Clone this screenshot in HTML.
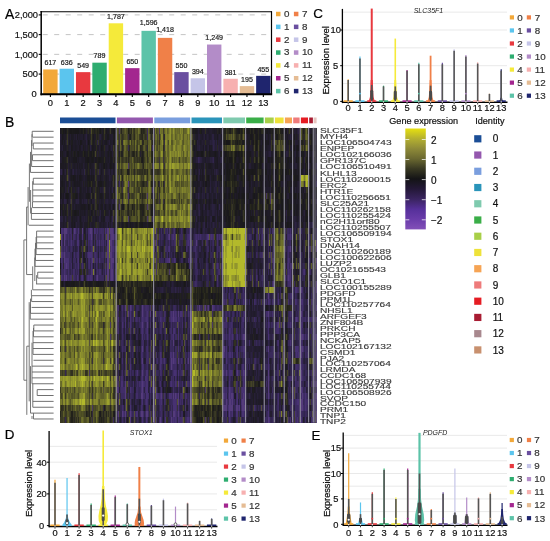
<!DOCTYPE html>
<html><head><meta charset="utf-8"><style>
html,body{margin:0;padding:0;background:#fff;width:550px;height:541px;overflow:hidden;}
svg{display:block;font-family:'Liberation Sans', Arial, sans-serif;}
</style></head><body>
<svg width="550" height="541" viewBox="0 0 550 541">
<rect width="550" height="541" fill="#fff"/>
<text x="4.9" y="19.2" font-size="13.9" text-anchor="start" fill="#000" stroke="#000" stroke-width="0.2">A</text>
<line x1="42.7" y1="74.08" x2="271" y2="74.08" stroke="#C4C4C4" stroke-width="1" stroke-dasharray="5 6.5"/>
<line x1="42.7" y1="54.35" x2="271" y2="54.35" stroke="#C4C4C4" stroke-width="1" stroke-dasharray="5 6.5"/>
<line x1="42.7" y1="34.62" x2="271" y2="34.62" stroke="#C4C4C4" stroke-width="1" stroke-dasharray="5 6.5"/>
<line x1="42.7" y1="14.9" x2="271" y2="14.9" stroke="#C4C4C4" stroke-width="1" stroke-dasharray="5 6.5"/>
<rect x="43.2" y="69.46" width="14.4" height="24.54" fill="#F2A83A"/>
<text x="50.4" y="65.26" font-size="7.1" text-anchor="middle" fill="#222" stroke="#222" stroke-width="0.2">617</text>
<line x1="50.4" y1="95" x2="50.4" y2="97" stroke="#000" stroke-width="1.1"/>
<text x="50.4" y="106.4" font-size="9.3" text-anchor="middle" fill="#111" stroke="#111" stroke-width="0.2">0</text>
<rect x="59.58" y="68.71" width="14.4" height="25.29" fill="#5BC5EE"/>
<text x="66.78" y="64.51" font-size="7.1" text-anchor="middle" fill="#222" stroke="#222" stroke-width="0.2">636</text>
<line x1="66.78" y1="95" x2="66.78" y2="97" stroke="#000" stroke-width="1.1"/>
<text x="66.78" y="106.4" font-size="9.3" text-anchor="middle" fill="#111" stroke="#111" stroke-width="0.2">1</text>
<rect x="75.96" y="72.14" width="14.4" height="21.86" fill="#E8393F"/>
<text x="83.16" y="67.94" font-size="7.1" text-anchor="middle" fill="#222" stroke="#222" stroke-width="0.2">549</text>
<line x1="83.16" y1="95" x2="83.16" y2="97" stroke="#000" stroke-width="1.1"/>
<text x="83.16" y="106.4" font-size="9.3" text-anchor="middle" fill="#111" stroke="#111" stroke-width="0.2">2</text>
<rect x="92.34" y="62.67" width="14.4" height="31.33" fill="#2EAD70"/>
<text x="99.54" y="58.47" font-size="7.1" text-anchor="middle" fill="#222" stroke="#222" stroke-width="0.2">789</text>
<line x1="99.54" y1="95" x2="99.54" y2="97" stroke="#000" stroke-width="1.1"/>
<text x="99.54" y="106.4" font-size="9.3" text-anchor="middle" fill="#111" stroke="#111" stroke-width="0.2">3</text>
<rect x="108.72" y="23.3" width="14.4" height="70.7" fill="#F5EA3A"/>
<text x="115.92" y="19.1" font-size="7.1" text-anchor="middle" fill="#222" stroke="#222" stroke-width="0.2">1,787</text>
<line x1="115.92" y1="95" x2="115.92" y2="97" stroke="#000" stroke-width="1.1"/>
<text x="115.92" y="106.4" font-size="9.3" text-anchor="middle" fill="#111" stroke="#111" stroke-width="0.2">4</text>
<rect x="125.1" y="68.16" width="14.4" height="25.84" fill="#A3268F"/>
<text x="132.3" y="63.96" font-size="7.1" text-anchor="middle" fill="#222" stroke="#222" stroke-width="0.2">650</text>
<line x1="132.3" y1="95" x2="132.3" y2="97" stroke="#000" stroke-width="1.1"/>
<text x="132.3" y="106.4" font-size="9.3" text-anchor="middle" fill="#111" stroke="#111" stroke-width="0.2">5</text>
<rect x="141.48" y="30.84" width="14.4" height="63.16" fill="#5CC3A8"/>
<text x="148.68" y="25.24" font-size="7.1" text-anchor="middle" fill="#222" stroke="#222" stroke-width="0.2">1,596</text>
<line x1="148.68" y1="95" x2="148.68" y2="97" stroke="#000" stroke-width="1.1"/>
<text x="148.68" y="106.4" font-size="9.3" text-anchor="middle" fill="#111" stroke="#111" stroke-width="0.2">6</text>
<rect x="157.86" y="37.86" width="14.4" height="56.14" fill="#F08048"/>
<text x="165.06" y="32.26" font-size="7.1" text-anchor="middle" fill="#222" stroke="#222" stroke-width="0.2">1,418</text>
<line x1="165.06" y1="95" x2="165.06" y2="97" stroke="#000" stroke-width="1.1"/>
<text x="165.06" y="106.4" font-size="9.3" text-anchor="middle" fill="#111" stroke="#111" stroke-width="0.2">7</text>
<rect x="174.24" y="72.1" width="14.4" height="21.9" fill="#6A4FA0"/>
<text x="181.44" y="67.9" font-size="7.1" text-anchor="middle" fill="#222" stroke="#222" stroke-width="0.2">550</text>
<line x1="181.44" y1="95" x2="181.44" y2="97" stroke="#000" stroke-width="1.1"/>
<text x="181.44" y="106.4" font-size="9.3" text-anchor="middle" fill="#111" stroke="#111" stroke-width="0.2">8</text>
<rect x="190.62" y="78.26" width="14.4" height="15.74" fill="#C5C5E8"/>
<text x="197.82" y="74.06" font-size="7.1" text-anchor="middle" fill="#222" stroke="#222" stroke-width="0.2">394</text>
<line x1="197.82" y1="95" x2="197.82" y2="97" stroke="#000" stroke-width="1.1"/>
<text x="197.82" y="106.4" font-size="9.3" text-anchor="middle" fill="#111" stroke="#111" stroke-width="0.2">9</text>
<rect x="207" y="44.53" width="14.4" height="49.47" fill="#B38CC8"/>
<text x="214.2" y="40.33" font-size="7.1" text-anchor="middle" fill="#222" stroke="#222" stroke-width="0.2">1,249</text>
<line x1="214.2" y1="95" x2="214.2" y2="97" stroke="#000" stroke-width="1.1"/>
<text x="214.2" y="106.4" font-size="9.3" text-anchor="middle" fill="#111" stroke="#111" stroke-width="0.2">10</text>
<rect x="223.38" y="78.77" width="14.4" height="15.23" fill="#F7B0B0"/>
<text x="230.58" y="74.57" font-size="7.1" text-anchor="middle" fill="#222" stroke="#222" stroke-width="0.2">381</text>
<line x1="230.58" y1="95" x2="230.58" y2="97" stroke="#000" stroke-width="1.1"/>
<text x="230.58" y="106.4" font-size="9.3" text-anchor="middle" fill="#111" stroke="#111" stroke-width="0.2">11</text>
<rect x="239.76" y="86.11" width="14.4" height="7.89" fill="#E5BC94"/>
<text x="246.96" y="81.91" font-size="7.1" text-anchor="middle" fill="#222" stroke="#222" stroke-width="0.2">195</text>
<line x1="246.96" y1="95" x2="246.96" y2="97" stroke="#000" stroke-width="1.1"/>
<text x="246.96" y="106.4" font-size="9.3" text-anchor="middle" fill="#111" stroke="#111" stroke-width="0.2">12</text>
<rect x="256.14" y="75.85" width="14.4" height="18.15" fill="#1F256E"/>
<text x="263.34" y="71.65" font-size="7.1" text-anchor="middle" fill="#222" stroke="#222" stroke-width="0.2">455</text>
<line x1="263.34" y1="95" x2="263.34" y2="97" stroke="#000" stroke-width="1.1"/>
<text x="263.34" y="106.4" font-size="9.3" text-anchor="middle" fill="#111" stroke="#111" stroke-width="0.2">13</text>
<line x1="41.2" y1="11" x2="41.2" y2="95.2" stroke="#000" stroke-width="1.5"/>
<line x1="40.5" y1="11.8" x2="272" y2="11.8" stroke="#000" stroke-width="1.1"/>
<line x1="271.5" y1="11.3" x2="271.5" y2="94" stroke="#000" stroke-width="1.2"/>
<line x1="40.5" y1="94.3" x2="272.2" y2="94.3" stroke="#000" stroke-width="2"/>
<text x="36.6" y="97" font-size="9.3" text-anchor="end" fill="#111" stroke="#111" stroke-width="0.2">0</text>
<line x1="38.7" y1="74.08" x2="41" y2="74.08" stroke="#000" stroke-width="1.1"/>
<text x="38" y="77.28" font-size="9.3" text-anchor="end" fill="#111" stroke="#111" stroke-width="0.2">500</text>
<line x1="38.7" y1="54.35" x2="41" y2="54.35" stroke="#000" stroke-width="1.1"/>
<text x="38" y="57.55" font-size="9.3" text-anchor="end" fill="#111" stroke="#111" stroke-width="0.2">1,000</text>
<line x1="38.7" y1="34.62" x2="41" y2="34.62" stroke="#000" stroke-width="1.1"/>
<text x="38" y="37.83" font-size="9.3" text-anchor="end" fill="#111" stroke="#111" stroke-width="0.2">1,500</text>
<line x1="38.7" y1="14.9" x2="41" y2="14.9" stroke="#000" stroke-width="1.1"/>
<text x="38" y="18.1" font-size="9.3" text-anchor="end" fill="#111" stroke="#111" stroke-width="0.2">2,000</text>
<rect x="276" y="11.75" width="4.5" height="4.5" fill="#F2A83A"/>
<text x="283.9" y="16.93" font-size="9.8" text-anchor="start" fill="#333" stroke="#333" stroke-width="0.2">0</text>
<rect x="276" y="24.6" width="4.5" height="4.5" fill="#5BC5EE"/>
<text x="283.9" y="29.78" font-size="9.8" text-anchor="start" fill="#333" stroke="#333" stroke-width="0.2">1</text>
<rect x="276" y="37.45" width="4.5" height="4.5" fill="#E8393F"/>
<text x="283.9" y="42.63" font-size="9.8" text-anchor="start" fill="#333" stroke="#333" stroke-width="0.2">2</text>
<rect x="276" y="50.3" width="4.5" height="4.5" fill="#2EAD70"/>
<text x="283.9" y="55.48" font-size="9.8" text-anchor="start" fill="#333" stroke="#333" stroke-width="0.2">3</text>
<rect x="276" y="63.15" width="4.5" height="4.5" fill="#F5EA3A"/>
<text x="283.9" y="68.33" font-size="9.8" text-anchor="start" fill="#333" stroke="#333" stroke-width="0.2">4</text>
<rect x="276" y="76" width="4.5" height="4.5" fill="#A3268F"/>
<text x="283.9" y="81.18" font-size="9.8" text-anchor="start" fill="#333" stroke="#333" stroke-width="0.2">5</text>
<rect x="276" y="88.85" width="4.5" height="4.5" fill="#5CC3A8"/>
<text x="283.9" y="94.03" font-size="9.8" text-anchor="start" fill="#333" stroke="#333" stroke-width="0.2">6</text>
<rect x="293.9" y="11.75" width="4.5" height="4.5" fill="#F08048"/>
<text x="301.9" y="16.93" font-size="9.8" text-anchor="start" fill="#333" stroke="#333" stroke-width="0.2">7</text>
<rect x="293.9" y="24.6" width="4.5" height="4.5" fill="#6A4FA0"/>
<text x="301.9" y="29.78" font-size="9.8" text-anchor="start" fill="#333" stroke="#333" stroke-width="0.2">8</text>
<rect x="293.9" y="37.45" width="4.5" height="4.5" fill="#C5C5E8"/>
<text x="301.9" y="42.63" font-size="9.8" text-anchor="start" fill="#333" stroke="#333" stroke-width="0.2">9</text>
<rect x="293.9" y="50.3" width="4.5" height="4.5" fill="#B38CC8"/>
<text x="301.9" y="55.48" font-size="9.8" text-anchor="start" fill="#333" stroke="#333" stroke-width="0.2">10</text>
<rect x="293.9" y="63.15" width="4.5" height="4.5" fill="#F7B0B0"/>
<text x="301.9" y="68.33" font-size="9.8" text-anchor="start" fill="#333" stroke="#333" stroke-width="0.2">11</text>
<rect x="293.9" y="76" width="4.5" height="4.5" fill="#E5BC94"/>
<text x="301.9" y="81.18" font-size="9.8" text-anchor="start" fill="#333" stroke="#333" stroke-width="0.2">12</text>
<rect x="293.9" y="88.85" width="4.5" height="4.5" fill="#1F256E"/>
<text x="301.9" y="94.03" font-size="9.8" text-anchor="start" fill="#333" stroke="#333" stroke-width="0.2">13</text>
<line x1="342.9" y1="83.55" x2="507" y2="83.55" stroke="#E6E6E6" stroke-width="0.9"/>
<line x1="342.9" y1="65.7" x2="507" y2="65.7" stroke="#E6E6E6" stroke-width="0.9"/>
<line x1="342.9" y1="47.85" x2="507" y2="47.85" stroke="#E6E6E6" stroke-width="0.9"/>
<line x1="342.9" y1="30" x2="507" y2="30" stroke="#E6E6E6" stroke-width="0.9"/>
<line x1="342.9" y1="12.15" x2="507" y2="12.15" stroke="#E6E6E6" stroke-width="0.9"/>
<text x="0" y="0" font-size="9.4" text-anchor="middle" fill="#111" stroke="#111" stroke-width="0.25" transform="translate(329.3 60.3) rotate(-90)">Expression level</text>
<text x="335.7" y="104.7" font-size="9.3" text-anchor="middle" fill="#111" stroke="#111" stroke-width="0.2">0</text>
<line x1="340.2" y1="101.4" x2="342.4" y2="101.4" stroke="#000" stroke-width="1"/>
<text x="335.7" y="69" font-size="9.3" text-anchor="middle" fill="#111" stroke="#111" stroke-width="0.2">5</text>
<line x1="340.2" y1="65.7" x2="342.4" y2="65.7" stroke="#000" stroke-width="1"/>
<text x="335.7" y="33.3" font-size="9.3" text-anchor="middle" fill="#111" stroke="#111" stroke-width="0.2">10</text>
<line x1="340.2" y1="30" x2="342.4" y2="30" stroke="#000" stroke-width="1"/>
<text x="413.7" y="13" font-size="7" fill="#222" font-style="italic">SLC35F1</text>
<text x="313.3" y="18.4" font-size="13.4" text-anchor="start" fill="#000" stroke="#000" stroke-width="0.2">C</text>
<line x1="342.1" y1="102.3" x2="507.5" y2="102.3" stroke="#000" stroke-width="1.6"/>
<rect x="343.61" y="100.3" width="9.18" height="1.6" fill="#F2A83A"/>
<line x1="348.2" y1="101.4" x2="348.2" y2="79.27" stroke="#F2A83A" stroke-width="1.2"/>
<line x1="348.2" y1="101.4" x2="348.2" y2="79.98" stroke="#555555" stroke-width="1.6"/>
<circle cx="348.2" cy="101.9" r="0.7" fill="#fff"/>
<text x="348.2" y="111.2" font-size="9.3" text-anchor="middle" fill="#111" stroke="#111" stroke-width="0.2">0</text>
<line x1="348.2" y1="103" x2="348.2" y2="104.4" stroke="#333" stroke-width="1"/>
<rect x="355.38" y="100.3" width="9.18" height="1.6" fill="#5BC5EE"/>
<line x1="359.97" y1="101.4" x2="359.97" y2="56.42" stroke="#5BC5EE" stroke-width="1.2"/>
<line x1="359.97" y1="101.4" x2="359.97" y2="58.56" stroke="#555555" stroke-width="1.6"/>
<circle cx="359.97" cy="93.55" r="0.9" fill="#5BC5EE"/>
<circle cx="359.97" cy="101.9" r="0.7" fill="#fff"/>
<text x="359.97" y="111.2" font-size="9.3" text-anchor="middle" fill="#111" stroke="#111" stroke-width="0.2">1</text>
<line x1="359.97" y1="103" x2="359.97" y2="104.4" stroke="#333" stroke-width="1"/>
<rect x="367.15" y="100.3" width="9.18" height="1.6" fill="#E8393F"/>
<polygon points="368.24,101.4 369.24,99.62 369.94,97.12 370.24,92.83 370.44,87.12 370.69,79.98 372.79,79.98 373.04,87.12 373.24,92.83 373.54,97.12 374.24,99.62 375.24,101.4" fill="#E8393F"/>
<line x1="371.74" y1="101.4" x2="371.74" y2="8.58" stroke="#E8393F" stroke-width="2"/>
<line x1="371.74" y1="101.4" x2="371.74" y2="84.98" stroke="#555555" stroke-width="1.6"/>
<rect x="370.24" y="89.98" width="3" height="10" rx="1.3" fill="#4A4A4A"/>
<circle cx="371.74" cy="101.9" r="0.7" fill="#fff"/>
<text x="371.74" y="111.2" font-size="9.3" text-anchor="middle" fill="#111" stroke="#111" stroke-width="0.2">2</text>
<line x1="371.74" y1="103" x2="371.74" y2="104.4" stroke="#333" stroke-width="1"/>
<rect x="378.92" y="100.3" width="9.18" height="1.6" fill="#2EAD70"/>
<line x1="383.51" y1="101.4" x2="383.51" y2="85.69" stroke="#2EAD70" stroke-width="1.2"/>
<line x1="383.51" y1="101.4" x2="383.51" y2="86.41" stroke="#555555" stroke-width="1.6"/>
<circle cx="383.51" cy="101.9" r="0.7" fill="#fff"/>
<text x="383.51" y="111.2" font-size="9.3" text-anchor="middle" fill="#111" stroke="#111" stroke-width="0.2">3</text>
<line x1="383.51" y1="103" x2="383.51" y2="104.4" stroke="#333" stroke-width="1"/>
<rect x="390.69" y="100.3" width="9.18" height="1.6" fill="#F5EA3A"/>
<polygon points="391.78,101.4 392.78,99.62 393.48,97.12 393.78,92.83 394.08,87.12 394.38,79.98 396.18,79.98 396.48,87.12 396.78,92.83 397.08,97.12 397.78,99.62 398.78,101.4" fill="#F5EA3A"/>
<line x1="395.28" y1="101.4" x2="395.28" y2="38.57" stroke="#F5EA3A" stroke-width="1.6"/>
<line x1="395.28" y1="101.4" x2="395.28" y2="86.41" stroke="#555555" stroke-width="1.6"/>
<rect x="393.78" y="90.69" width="3" height="9.28" rx="1.3" fill="#4A4A4A"/>
<circle cx="395.28" cy="101.9" r="0.7" fill="#fff"/>
<text x="395.28" y="111.2" font-size="9.3" text-anchor="middle" fill="#111" stroke="#111" stroke-width="0.2">4</text>
<line x1="395.28" y1="103" x2="395.28" y2="104.4" stroke="#333" stroke-width="1"/>
<rect x="402.46" y="100.3" width="9.18" height="1.6" fill="#A3268F"/>
<line x1="407.05" y1="101.4" x2="407.05" y2="69.98" stroke="#A3268F" stroke-width="1.2"/>
<line x1="407.05" y1="101.4" x2="407.05" y2="70.7" stroke="#555555" stroke-width="1.6"/>
<circle cx="407.05" cy="101.9" r="0.7" fill="#fff"/>
<text x="407.05" y="111.2" font-size="9.3" text-anchor="middle" fill="#111" stroke="#111" stroke-width="0.2">5</text>
<line x1="407.05" y1="103" x2="407.05" y2="104.4" stroke="#333" stroke-width="1"/>
<rect x="414.23" y="100.3" width="9.18" height="1.6" fill="#5CC3A8"/>
<line x1="418.82" y1="101.4" x2="418.82" y2="62.84" stroke="#5CC3A8" stroke-width="1.2"/>
<line x1="418.82" y1="101.4" x2="418.82" y2="64.27" stroke="#555555" stroke-width="1.6"/>
<circle cx="418.82" cy="93.55" r="0.9" fill="#5CC3A8"/>
<circle cx="418.82" cy="101.9" r="0.7" fill="#fff"/>
<text x="418.82" y="111.2" font-size="9.3" text-anchor="middle" fill="#111" stroke="#111" stroke-width="0.2">6</text>
<line x1="418.82" y1="103" x2="418.82" y2="104.4" stroke="#333" stroke-width="1"/>
<rect x="426" y="100.3" width="9.18" height="1.6" fill="#F08048"/>
<polygon points="427.09,101.4 428.09,99.62 428.79,97.12 429.09,92.83 429.39,87.12 429.69,79.98 431.49,79.98 431.79,87.12 432.09,92.83 432.39,97.12 433.09,99.62 434.09,101.4" fill="#F08048"/>
<line x1="430.59" y1="101.4" x2="430.59" y2="55.7" stroke="#F08048" stroke-width="1.8"/>
<line x1="430.59" y1="101.4" x2="430.59" y2="85.69" stroke="#555555" stroke-width="1.6"/>
<rect x="429.09" y="90.69" width="3" height="9.28" rx="1.3" fill="#4A4A4A"/>
<circle cx="430.59" cy="101.9" r="0.7" fill="#fff"/>
<text x="430.59" y="111.2" font-size="9.3" text-anchor="middle" fill="#111" stroke="#111" stroke-width="0.2">7</text>
<line x1="430.59" y1="103" x2="430.59" y2="104.4" stroke="#333" stroke-width="1"/>
<rect x="437.77" y="100.3" width="9.18" height="1.6" fill="#6A4FA0"/>
<line x1="442.36" y1="101.4" x2="442.36" y2="62.84" stroke="#6A4FA0" stroke-width="1.2"/>
<line x1="442.36" y1="101.4" x2="442.36" y2="64.27" stroke="#555555" stroke-width="1.6"/>
<circle cx="442.36" cy="101.9" r="0.7" fill="#fff"/>
<text x="442.36" y="111.2" font-size="9.3" text-anchor="middle" fill="#111" stroke="#111" stroke-width="0.2">8</text>
<line x1="442.36" y1="103" x2="442.36" y2="104.4" stroke="#333" stroke-width="1"/>
<rect x="449.54" y="100.3" width="9.18" height="1.6" fill="#C5C5E8"/>
<line x1="454.13" y1="101.4" x2="454.13" y2="49.28" stroke="#C5C5E8" stroke-width="1.2"/>
<line x1="454.13" y1="101.4" x2="454.13" y2="50.71" stroke="#555555" stroke-width="1.6"/>
<circle cx="454.13" cy="101.9" r="0.7" fill="#fff"/>
<text x="454.13" y="111.2" font-size="9.3" text-anchor="middle" fill="#111" stroke="#111" stroke-width="0.2">9</text>
<line x1="454.13" y1="103" x2="454.13" y2="104.4" stroke="#333" stroke-width="1"/>
<rect x="461.31" y="100.3" width="9.18" height="1.6" fill="#B38CC8"/>
<line x1="465.9" y1="101.4" x2="465.9" y2="54.99" stroke="#B38CC8" stroke-width="1.2"/>
<line x1="465.9" y1="101.4" x2="465.9" y2="56.42" stroke="#555555" stroke-width="1.6"/>
<circle cx="465.9" cy="93.55" r="0.9" fill="#B38CC8"/>
<circle cx="465.9" cy="101.9" r="0.7" fill="#fff"/>
<text x="465.9" y="111.2" font-size="9.3" text-anchor="middle" fill="#111" stroke="#111" stroke-width="0.2">10</text>
<line x1="465.9" y1="103" x2="465.9" y2="104.4" stroke="#333" stroke-width="1"/>
<rect x="473.08" y="100.3" width="9.18" height="1.6" fill="#F7B0B0"/>
<line x1="477.67" y1="101.4" x2="477.67" y2="62.13" stroke="#F7B0B0" stroke-width="1.2"/>
<line x1="477.67" y1="101.4" x2="477.67" y2="63.56" stroke="#555555" stroke-width="1.6"/>
<circle cx="477.67" cy="101.9" r="0.7" fill="#fff"/>
<text x="477.67" y="111.2" font-size="9.3" text-anchor="middle" fill="#111" stroke="#111" stroke-width="0.2">11</text>
<line x1="477.67" y1="103" x2="477.67" y2="104.4" stroke="#333" stroke-width="1"/>
<rect x="484.85" y="100.3" width="9.18" height="1.6" fill="#E5BC94"/>
<line x1="489.44" y1="101.4" x2="489.44" y2="93.55" stroke="#E5BC94" stroke-width="1.2"/>
<line x1="489.44" y1="101.4" x2="489.44" y2="93.9" stroke="#555555" stroke-width="1.6"/>
<circle cx="489.44" cy="101.9" r="0.7" fill="#fff"/>
<text x="489.44" y="111.2" font-size="9.3" text-anchor="middle" fill="#111" stroke="#111" stroke-width="0.2">12</text>
<line x1="489.44" y1="103" x2="489.44" y2="104.4" stroke="#333" stroke-width="1"/>
<rect x="496.62" y="100.3" width="9.18" height="1.6" fill="#1F256E"/>
<polygon points="498.71,101.4 499.91,99.97 500.41,97.83 502.01,97.83 502.51,99.97 503.71,101.4" fill="#1F256E"/>
<line x1="501.21" y1="101.4" x2="501.21" y2="69.27" stroke="#1F256E" stroke-width="1.2"/>
<line x1="501.21" y1="101.4" x2="501.21" y2="70.7" stroke="#555555" stroke-width="1.6"/>
<circle cx="501.21" cy="101.9" r="0.7" fill="#fff"/>
<text x="501.21" y="111.2" font-size="9.3" text-anchor="middle" fill="#111" stroke="#111" stroke-width="0.2">13</text>
<line x1="501.21" y1="103" x2="501.21" y2="104.4" stroke="#333" stroke-width="1"/>
<line x1="342.4" y1="8.9" x2="342.4" y2="103.1" stroke="#000" stroke-width="1.3"/>
<rect x="509.8" y="15.3" width="4.2" height="4.2" fill="#F2A83A"/>
<text x="517.2" y="21.13" font-size="9.8" text-anchor="start" fill="#333" stroke="#333" stroke-width="0.2">0</text>
<rect x="509.8" y="28.35" width="4.2" height="4.2" fill="#5BC5EE"/>
<text x="517.2" y="34.18" font-size="9.8" text-anchor="start" fill="#333" stroke="#333" stroke-width="0.2">1</text>
<rect x="509.8" y="41.4" width="4.2" height="4.2" fill="#E8393F"/>
<text x="517.2" y="47.23" font-size="9.8" text-anchor="start" fill="#333" stroke="#333" stroke-width="0.2">2</text>
<rect x="509.8" y="54.45" width="4.2" height="4.2" fill="#2EAD70"/>
<text x="517.2" y="60.28" font-size="9.8" text-anchor="start" fill="#333" stroke="#333" stroke-width="0.2">3</text>
<rect x="509.8" y="67.5" width="4.2" height="4.2" fill="#F5EA3A"/>
<text x="517.2" y="73.33" font-size="9.8" text-anchor="start" fill="#333" stroke="#333" stroke-width="0.2">4</text>
<rect x="509.8" y="80.55" width="4.2" height="4.2" fill="#A3268F"/>
<text x="517.2" y="86.38" font-size="9.8" text-anchor="start" fill="#333" stroke="#333" stroke-width="0.2">5</text>
<rect x="509.8" y="93.6" width="4.2" height="4.2" fill="#5CC3A8"/>
<text x="517.2" y="99.43" font-size="9.8" text-anchor="start" fill="#333" stroke="#333" stroke-width="0.2">6</text>
<rect x="526.8" y="15.3" width="4.2" height="4.2" fill="#F08048"/>
<text x="534.7" y="21.13" font-size="9.8" text-anchor="start" fill="#333" stroke="#333" stroke-width="0.2">7</text>
<rect x="526.8" y="28.35" width="4.2" height="4.2" fill="#6A4FA0"/>
<text x="534.7" y="34.18" font-size="9.8" text-anchor="start" fill="#333" stroke="#333" stroke-width="0.2">8</text>
<rect x="526.8" y="41.4" width="4.2" height="4.2" fill="#C5C5E8"/>
<text x="534.7" y="47.23" font-size="9.8" text-anchor="start" fill="#333" stroke="#333" stroke-width="0.2">9</text>
<rect x="526.8" y="54.45" width="4.2" height="4.2" fill="#B38CC8"/>
<text x="534.7" y="60.28" font-size="9.8" text-anchor="start" fill="#333" stroke="#333" stroke-width="0.2">10</text>
<rect x="526.8" y="67.5" width="4.2" height="4.2" fill="#F7B0B0"/>
<text x="534.7" y="73.33" font-size="9.8" text-anchor="start" fill="#333" stroke="#333" stroke-width="0.2">11</text>
<rect x="526.8" y="80.55" width="4.2" height="4.2" fill="#E5BC94"/>
<text x="534.7" y="86.38" font-size="9.8" text-anchor="start" fill="#333" stroke="#333" stroke-width="0.2">12</text>
<rect x="526.8" y="93.6" width="4.2" height="4.2" fill="#1F256E"/>
<text x="534.7" y="99.43" font-size="9.8" text-anchor="start" fill="#333" stroke="#333" stroke-width="0.2">13</text>
<g transform="translate(0 127.7) scale(1 5.9)" shape-rendering="crispEdges">
<path fill="#B3B92B" d="M301 8h2v1h-2zM306 8h2v1h-2zM306 9h1v1h-1zM162 15h1v1h-1zM119 17h2v1h-2zM152 17h1v1h-1zM224 17h1v1h-1zM227 17h5v1h-5zM233 17h3v1h-3zM237 17h1v1h-1zM239 17h7v1h-7zM120 18h1v1h-1zM229 18h1v1h-1zM241 18h3v1h-3zM223 19h2v1h-2zM229 19h3v1h-3zM233 19h13v1h-13zM127 20h3v1h-3zM142 20h1v1h-1zM144 20h1v1h-1zM151 20h2v1h-2zM224 20h1v1h-1zM227 20h4v1h-4zM233 20h2v1h-2zM240 20h5v1h-5zM151 21h2v1h-2zM224 21h1v1h-1zM227 21h5v1h-5zM233 21h1v1h-1zM237 21h1v1h-1zM240 21h5v1h-5zM120 22h1v1h-1zM224 22h1v1h-1zM226 22h6v1h-6zM233 22h12v1h-12zM224 23h1v1h-1zM227 23h4v1h-4zM233 23h1v1h-1zM238 23h6v1h-6zM120 24h1v1h-1zM151 24h1v1h-1zM224 24h1v1h-1zM227 24h9v1h-9zM237 24h9v1h-9zM152 25h1v1h-1zM229 25h2v1h-2zM239 25h5v1h-5zM228 26h4v1h-4zM233 26h2v1h-2zM241 26h4v1h-4zM81 28h2v1h-2zM97 31h1v1h-1zM82 32h1v1h-1zM96 32h1v1h-1zM192 33h1v1h-1zM93 36h1v1h-1zM96 36h1v1h-1zM112 36h1v1h-1zM192 38h1v1h-1zM76 40h1v1h-1zM82 40h1v1h-1zM106 40h1v1h-1zM193 41h2v1h-2zM81 42h4v1h-4zM94 42h1v1h-1zM102 42h1v1h-1zM107 42h1v1h-1zM192 42h1v1h-1zM75 43h1v1h-1zM82 43h1v1h-1zM192 43h1v1h-1zM80 46h1v1h-1zM82 46h3v1h-3z"/>
<path fill="#9CA12D" d="M188 0h1v1h-1zM162 6h1v1h-1zM170 6h1v1h-1zM172 6h2v1h-2zM188 6h1v1h-1zM162 8h1v1h-1zM303 8h1v1h-1zM305 8h1v1h-1zM308 8h1v1h-1zM307 9h1v1h-1zM170 10h1v1h-1zM161 15h1v1h-1zM169 15h2v1h-2zM188 15h1v1h-1zM118 17h1v1h-1zM121 17h1v1h-1zM127 17h2v1h-2zM133 17h1v1h-1zM144 17h1v1h-1zM146 17h1v1h-1zM151 17h1v1h-1zM225 17h1v1h-1zM232 17h1v1h-1zM236 17h1v1h-1zM238 17h1v1h-1zM60 18h1v1h-1zM121 18h1v1h-1zM133 18h1v1h-1zM143 18h2v1h-2zM148 18h1v1h-1zM152 18h1v1h-1zM234 18h2v1h-2zM244 18h1v1h-1zM119 19h2v1h-2zM123 19h2v1h-2zM135 19h1v1h-1zM138 19h1v1h-1zM142 19h1v1h-1zM144 19h1v1h-1zM225 19h1v1h-1zM227 19h2v1h-2zM232 19h1v1h-1zM119 20h2v1h-2zM123 20h2v1h-2zM133 20h3v1h-3zM137 20h3v1h-3zM143 20h1v1h-1zM148 20h2v1h-2zM226 20h1v1h-1zM235 20h1v1h-1zM237 20h3v1h-3zM119 21h1v1h-1zM127 21h4v1h-4zM133 21h1v1h-1zM140 21h1v1h-1zM142 21h2v1h-2zM225 21h2v1h-2zM234 21h1v1h-1zM239 21h1v1h-1zM127 22h2v1h-2zM223 22h1v1h-1zM225 22h1v1h-1zM232 22h1v1h-1zM245 22h1v1h-1zM120 23h1v1h-1zM123 23h1v1h-1zM127 23h4v1h-4zM133 23h1v1h-1zM139 23h1v1h-1zM148 23h1v1h-1zM152 23h1v1h-1zM231 23h1v1h-1zM234 23h1v1h-1zM237 23h1v1h-1zM244 23h2v1h-2zM121 24h1v1h-1zM127 24h4v1h-4zM133 24h3v1h-3zM138 24h4v1h-4zM152 24h1v1h-1zM223 24h1v1h-1zM225 24h2v1h-2zM236 24h1v1h-1zM119 25h2v1h-2zM140 25h1v1h-1zM224 25h1v1h-1zM231 25h1v1h-1zM237 25h1v1h-1zM244 25h1v1h-1zM224 26h1v1h-1zM227 26h1v1h-1zM235 26h4v1h-4zM240 26h1v1h-1zM270 27h1v1h-1zM71 28h1v1h-1zM75 28h1v1h-1zM80 28h1v1h-1zM83 28h1v1h-1zM95 28h3v1h-3zM101 28h1v1h-1zM107 28h1v1h-1zM111 28h1v1h-1zM81 29h1v1h-1zM84 29h1v1h-1zM81 30h2v1h-2zM84 30h1v1h-1zM96 30h1v1h-1zM108 30h2v1h-2zM63 31h1v1h-1zM67 31h1v1h-1zM73 31h1v1h-1zM82 31h1v1h-1zM84 31h1v1h-1zM93 31h1v1h-1zM96 31h1v1h-1zM109 31h1v1h-1zM192 31h1v1h-1zM81 32h1v1h-1zM192 32h1v1h-1zM195 32h1v1h-1zM203 32h1v1h-1zM210 32h1v1h-1zM221 32h1v1h-1zM81 33h2v1h-2zM96 33h1v1h-1zM79 34h1v1h-1zM82 34h3v1h-3zM192 34h1v1h-1zM63 36h1v1h-1zM71 36h1v1h-1zM82 36h3v1h-3zM94 36h1v1h-1zM97 36h1v1h-1zM107 36h1v1h-1zM111 36h1v1h-1zM192 36h1v1h-1zM107 37h1v1h-1zM96 38h1v1h-1zM194 38h3v1h-3zM206 38h1v1h-1zM210 38h2v1h-2zM81 39h2v1h-2zM96 39h1v1h-1zM107 39h1v1h-1zM112 39h1v1h-1zM63 40h1v1h-1zM80 40h2v1h-2zM83 40h2v1h-2zM96 40h1v1h-1zM107 40h1v1h-1zM192 41h1v1h-1zM196 41h1v1h-1zM203 41h1v1h-1zM211 41h1v1h-1zM63 42h1v1h-1zM66 42h2v1h-2zM73 42h1v1h-1zM75 42h1v1h-1zM79 42h2v1h-2zM85 42h1v1h-1zM91 42h1v1h-1zM96 42h3v1h-3zM101 42h1v1h-1zM108 42h1v1h-1zM116 42h1v1h-1zM63 43h1v1h-1zM67 43h2v1h-2zM71 43h1v1h-1zM73 43h1v1h-1zM80 43h2v1h-2zM83 43h2v1h-2zM96 43h1v1h-1zM107 43h1v1h-1zM203 43h1v1h-1zM83 45h2v1h-2zM107 45h1v1h-1zM75 46h2v1h-2zM79 46h1v1h-1zM81 46h1v1h-1zM90 46h1v1h-1zM107 46h2v1h-2zM192 46h1v1h-1z"/>
<path fill="#91952D" d="M170 0h1v1h-1zM173 0h1v1h-1zM170 1h1v1h-1zM170 2h1v1h-1zM174 3h1v1h-1zM184 3h1v1h-1zM161 4h1v1h-1zM170 4h1v1h-1zM178 4h1v1h-1zM170 5h1v1h-1zM155 6h1v1h-1zM161 6h1v1h-1zM169 6h1v1h-1zM174 6h1v1h-1zM177 6h2v1h-2zM189 6h1v1h-1zM169 8h1v1h-1zM177 8h2v1h-2zM170 9h1v1h-1zM166 13h1v1h-1zM170 13h1v1h-1zM173 13h2v1h-2zM184 13h1v1h-1zM188 13h1v1h-1zM180 14h1v1h-1zM155 15h1v1h-1zM180 15h3v1h-3zM189 15h1v1h-1zM184 16h1v1h-1zM124 17h1v1h-1zM130 17h1v1h-1zM140 17h1v1h-1zM142 17h1v1h-1zM145 17h1v1h-1zM128 18h1v1h-1zM135 18h2v1h-2zM151 18h1v1h-1zM227 18h2v1h-2zM230 18h1v1h-1zM233 18h1v1h-1zM238 18h1v1h-1zM240 18h1v1h-1zM118 19h1v1h-1zM127 19h2v1h-2zM136 19h1v1h-1zM139 19h1v1h-1zM145 19h1v1h-1zM151 19h2v1h-2zM118 20h1v1h-1zM130 20h1v1h-1zM140 20h1v1h-1zM225 20h1v1h-1zM231 20h1v1h-1zM283 20h1v1h-1zM124 21h1v1h-1zM135 21h2v1h-2zM141 21h1v1h-1zM144 21h1v1h-1zM148 21h1v1h-1zM223 21h1v1h-1zM232 21h1v1h-1zM235 21h2v1h-2zM238 21h1v1h-1zM245 21h1v1h-1zM144 22h1v1h-1zM148 22h2v1h-2zM152 22h1v1h-1zM124 23h1v1h-1zM135 23h1v1h-1zM138 23h1v1h-1zM142 23h1v1h-1zM144 23h1v1h-1zM151 23h1v1h-1zM232 23h1v1h-1zM235 23h2v1h-2zM119 24h1v1h-1zM124 24h1v1h-1zM136 24h1v1h-1zM142 24h1v1h-1zM144 24h1v1h-1zM118 25h1v1h-1zM124 25h1v1h-1zM128 25h1v1h-1zM133 25h1v1h-1zM135 25h1v1h-1zM141 25h1v1h-1zM151 25h1v1h-1zM227 25h1v1h-1zM232 25h3v1h-3zM238 25h1v1h-1zM226 26h1v1h-1zM232 26h1v1h-1zM75 27h1v1h-1zM271 27h4v1h-4zM67 28h2v1h-2zM76 28h2v1h-2zM84 28h2v1h-2zM87 28h1v1h-1zM93 28h2v1h-2zM98 28h1v1h-1zM105 28h1v1h-1zM82 29h2v1h-2zM96 29h1v1h-1zM63 30h1v1h-1zM68 30h1v1h-1zM73 30h1v1h-1zM83 30h1v1h-1zM97 30h1v1h-1zM100 30h3v1h-3zM107 30h1v1h-1zM111 30h2v1h-2zM64 31h1v1h-1zM75 31h1v1h-1zM81 31h1v1h-1zM83 31h1v1h-1zM98 31h1v1h-1zM108 31h1v1h-1zM79 32h1v1h-1zM83 32h1v1h-1zM86 32h1v1h-1zM194 32h1v1h-1zM204 32h1v1h-1zM211 32h1v1h-1zM220 32h1v1h-1zM67 34h1v1h-1zM75 34h2v1h-2zM81 34h1v1h-1zM96 34h1v1h-1zM107 34h1v1h-1zM96 35h1v1h-1zM107 35h1v1h-1zM67 36h1v1h-1zM75 36h1v1h-1zM79 36h3v1h-3zM87 36h1v1h-1zM95 36h1v1h-1zM98 36h1v1h-1zM101 36h2v1h-2zM106 36h1v1h-1zM81 37h1v1h-1zM84 37h1v1h-1zM75 38h2v1h-2zM80 38h1v1h-1zM94 38h1v1h-1zM97 38h1v1h-1zM193 38h1v1h-1zM203 38h1v1h-1zM207 38h1v1h-1zM68 39h1v1h-1zM83 39h2v1h-2zM61 40h1v1h-1zM75 40h1v1h-1zM77 40h1v1h-1zM87 40h1v1h-1zM93 40h1v1h-1zM108 40h2v1h-2zM192 40h1v1h-1zM197 41h1v1h-1zM200 41h1v1h-1zM61 42h1v1h-1zM64 42h2v1h-2zM68 42h2v1h-2zM71 42h2v1h-2zM74 42h1v1h-1zM78 42h1v1h-1zM86 42h1v1h-1zM88 42h1v1h-1zM93 42h1v1h-1zM95 42h1v1h-1zM100 42h1v1h-1zM104 42h1v1h-1zM203 42h1v1h-1zM210 42h1v1h-1zM62 43h1v1h-1zM64 43h1v1h-1zM69 43h1v1h-1zM72 43h1v1h-1zM74 43h1v1h-1zM87 43h1v1h-1zM90 43h1v1h-1zM97 43h1v1h-1zM112 43h1v1h-1zM116 43h1v1h-1zM193 43h1v1h-1zM67 46h1v1h-1zM73 46h1v1h-1zM77 46h1v1h-1zM112 46h1v1h-1z"/>
<path fill="#898C2D" d="M187 0h1v1h-1zM169 1h1v1h-1zM162 2h1v1h-1zM165 2h2v1h-2zM169 2h1v1h-1zM180 2h1v1h-1zM173 3h1v1h-1zM162 4h1v1h-1zM175 4h1v1h-1zM180 4h1v1h-1zM166 6h1v1h-1zM175 6h2v1h-2zM184 6h2v1h-2zM191 6h1v1h-1zM138 8h1v1h-1zM170 8h1v1h-1zM174 8h1v1h-1zM184 8h1v1h-1zM124 10h1v1h-1zM189 13h1v1h-1zM177 15h1v1h-1zM184 15h1v1h-1zM166 16h1v1h-1zM129 17h1v1h-1zM138 17h2v1h-2zM141 17h1v1h-1zM143 17h1v1h-1zM148 17h1v1h-1zM153 17h1v1h-1zM119 18h1v1h-1zM124 18h1v1h-1zM153 18h1v1h-1zM245 18h1v1h-1zM109 19h1v1h-1zM140 19h1v1h-1zM226 19h1v1h-1zM109 20h1v1h-1zM117 20h1v1h-1zM126 20h1v1h-1zM145 20h3v1h-3zM150 20h1v1h-1zM236 20h1v1h-1zM245 20h1v1h-1zM280 20h1v1h-1zM118 21h1v1h-1zM120 21h1v1h-1zM134 21h1v1h-1zM139 21h1v1h-1zM124 22h1v1h-1zM137 22h2v1h-2zM117 23h1v1h-1zM126 23h1v1h-1zM140 23h1v1h-1zM145 23h1v1h-1zM223 23h1v1h-1zM123 24h1v1h-1zM127 25h1v1h-1zM139 25h1v1h-1zM144 25h1v1h-1zM153 25h1v1h-1zM176 25h1v1h-1zM228 25h1v1h-1zM239 26h1v1h-1zM245 26h1v1h-1zM269 27h1v1h-1zM61 28h1v1h-1zM63 28h1v1h-1zM70 28h1v1h-1zM73 28h1v1h-1zM79 28h1v1h-1zM90 28h1v1h-1zM99 28h2v1h-2zM112 28h1v1h-1zM73 29h1v1h-1zM97 29h1v1h-1zM66 30h2v1h-2zM74 30h4v1h-4zM95 30h1v1h-1zM72 31h1v1h-1zM74 31h1v1h-1zM91 31h1v1h-1zM105 31h1v1h-1zM107 31h1v1h-1zM84 32h2v1h-2zM95 32h1v1h-1zM107 32h1v1h-1zM196 32h1v1h-1zM193 33h1v1h-1zM64 34h1v1h-1zM68 34h1v1h-1zM80 34h1v1h-1zM82 35h1v1h-1zM70 36h1v1h-1zM74 36h1v1h-1zM76 36h1v1h-1zM88 36h1v1h-1zM105 36h1v1h-1zM81 38h2v1h-2zM95 38h1v1h-1zM215 38h1v1h-1zM63 39h1v1h-1zM69 39h1v1h-1zM79 39h2v1h-2zM108 39h2v1h-2zM79 40h1v1h-1zM86 40h1v1h-1zM88 40h1v1h-1zM102 40h1v1h-1zM105 40h1v1h-1zM111 40h1v1h-1zM195 40h1v1h-1zM195 41h1v1h-1zM206 41h1v1h-1zM209 41h2v1h-2zM60 42h1v1h-1zM62 42h1v1h-1zM76 42h1v1h-1zM99 42h1v1h-1zM103 42h1v1h-1zM106 42h1v1h-1zM112 42h1v1h-1zM78 43h1v1h-1zM86 43h1v1h-1zM95 43h1v1h-1zM98 43h1v1h-1zM102 43h1v1h-1zM108 43h2v1h-2zM195 43h1v1h-1zM281 43h1v1h-1zM63 45h1v1h-1zM80 45h3v1h-3zM63 46h2v1h-2zM91 46h1v1h-1zM94 46h1v1h-1zM96 46h1v1h-1zM106 46h1v1h-1zM109 46h1v1h-1zM196 46h1v1h-1z"/>
<path fill="#84862D" d="M180 0h1v1h-1zM161 1h1v1h-1zM173 1h1v1h-1zM181 1h1v1h-1zM175 2h1v1h-1zM181 2h1v1h-1zM178 3h1v1h-1zM180 3h1v1h-1zM173 4h1v1h-1zM185 4h1v1h-1zM188 4h1v1h-1zM181 6h2v1h-2zM190 6h1v1h-1zM169 7h2v1h-2zM180 8h1v1h-1zM188 8h1v1h-1zM169 9h1v1h-1zM308 9h1v1h-1zM182 10h1v1h-1zM166 11h1v1h-1zM174 11h1v1h-1zM125 12h1v1h-1zM161 13h1v1h-1zM182 14h1v1h-1zM188 14h1v1h-1zM156 15h1v1h-1zM174 15h2v1h-2zM170 16h1v1h-1zM134 17h1v1h-1zM149 17h2v1h-2zM223 17h1v1h-1zM226 17h1v1h-1zM134 18h1v1h-1zM139 18h1v1h-1zM142 18h1v1h-1zM145 18h1v1h-1zM149 18h1v1h-1zM237 18h1v1h-1zM277 18h1v1h-1zM121 19h1v1h-1zM141 20h1v1h-1zM153 20h1v1h-1zM138 21h1v1h-1zM118 22h1v1h-1zM121 22h1v1h-1zM129 22h1v1h-1zM133 22h1v1h-1zM141 22h1v1h-1zM143 22h1v1h-1zM118 23h1v1h-1zM121 23h1v1h-1zM147 23h1v1h-1zM225 23h2v1h-2zM125 24h1v1h-1zM137 24h1v1h-1zM149 24h1v1h-1zM117 25h1v1h-1zM132 25h1v1h-1zM226 25h1v1h-1zM236 25h1v1h-1zM245 25h1v1h-1zM225 26h1v1h-1zM81 27h2v1h-2zM96 27h1v1h-1zM267 27h1v1h-1zM62 28h1v1h-1zM69 28h1v1h-1zM74 28h1v1h-1zM86 28h1v1h-1zM102 28h1v1h-1zM106 28h1v1h-1zM63 29h1v1h-1zM76 29h1v1h-1zM108 29h1v1h-1zM64 30h1v1h-1zM69 30h2v1h-2zM78 30h1v1h-1zM80 30h1v1h-1zM99 30h1v1h-1zM103 30h1v1h-1zM66 31h1v1h-1zM76 31h1v1h-1zM78 31h3v1h-3zM88 31h1v1h-1zM90 31h1v1h-1zM106 31h1v1h-1zM67 32h1v1h-1zM69 32h1v1h-1zM108 32h1v1h-1zM83 33h1v1h-1zM97 33h1v1h-1zM93 34h1v1h-1zM109 34h1v1h-1zM196 34h1v1h-1zM219 34h1v1h-1zM62 36h1v1h-1zM66 36h1v1h-1zM73 36h1v1h-1zM86 36h1v1h-1zM91 36h1v1h-1zM100 36h1v1h-1zM109 36h1v1h-1zM193 36h1v1h-1zM196 36h1v1h-1zM207 36h1v1h-1zM67 37h1v1h-1zM60 38h1v1h-1zM63 38h1v1h-1zM84 38h1v1h-1zM204 38h1v1h-1zM220 38h3v1h-3zM67 39h1v1h-1zM75 39h1v1h-1zM94 39h1v1h-1zM192 39h1v1h-1zM60 40h1v1h-1zM62 40h1v1h-1zM67 40h1v1h-1zM71 40h1v1h-1zM74 40h1v1h-1zM85 40h1v1h-1zM97 40h1v1h-1zM81 41h1v1h-1zM97 41h1v1h-1zM202 41h1v1h-1zM214 41h2v1h-2zM77 42h1v1h-1zM90 42h1v1h-1zM105 42h1v1h-1zM111 42h1v1h-1zM211 42h1v1h-1zM66 43h1v1h-1zM70 43h1v1h-1zM79 43h1v1h-1zM93 43h2v1h-2zM105 43h2v1h-2zM196 43h1v1h-1zM206 43h1v1h-1zM211 43h1v1h-1zM219 43h1v1h-1zM96 45h2v1h-2zM192 45h1v1h-1zM74 46h1v1h-1zM78 46h1v1h-1zM97 46h1v1h-1zM111 46h1v1h-1zM155 46h1v1h-1zM203 46h1v1h-1zM82 47h1v1h-1z"/>
<path fill="#80832C" d="M166 0h1v1h-1zM169 0h1v1h-1zM182 0h1v1h-1zM162 1h1v1h-1zM166 1h1v1h-1zM188 1h1v1h-1zM188 2h1v1h-1zM166 3h1v1h-1zM169 3h1v1h-1zM179 3h1v1h-1zM155 4h1v1h-1zM172 4h1v1h-1zM176 4h1v1h-1zM179 4h1v1h-1zM169 5h1v1h-1zM156 6h1v1h-1zM171 6h1v1h-1zM180 6h1v1h-1zM185 8h1v1h-1zM166 9h1v1h-1zM301 9h1v1h-1zM169 10h1v1h-1zM188 11h1v1h-1zM180 13h1v1h-1zM166 14h1v1h-1zM189 14h1v1h-1zM166 15h1v1h-1zM185 15h1v1h-1zM190 15h1v1h-1zM175 16h1v1h-1zM189 16h1v1h-1zM127 18h1v1h-1zM130 18h1v1h-1zM125 19h1v1h-1zM129 19h1v1h-1zM133 19h1v1h-1zM315 19h1v1h-1zM121 20h1v1h-1zM132 20h1v1h-1zM136 20h1v1h-1zM281 20h1v1h-1zM284 20h1v1h-1zM132 21h1v1h-1zM153 21h1v1h-1zM284 21h1v1h-1zM123 22h1v1h-1zM126 22h1v1h-1zM134 22h1v1h-1zM142 22h1v1h-1zM151 22h1v1h-1zM134 23h1v1h-1zM141 23h1v1h-1zM146 23h1v1h-1zM277 23h1v1h-1zM150 24h1v1h-1zM277 24h1v1h-1zM281 24h1v1h-1zM134 25h1v1h-1zM136 25h1v1h-1zM142 25h1v1h-1zM235 25h1v1h-1zM277 25h1v1h-1zM78 28h1v1h-1zM75 29h1v1h-1zM80 29h1v1h-1zM71 30h1v1h-1zM79 30h1v1h-1zM86 30h1v1h-1zM93 30h1v1h-1zM98 30h1v1h-1zM104 30h1v1h-1zM94 31h1v1h-1zM64 32h1v1h-1zM68 32h1v1h-1zM87 32h1v1h-1zM97 32h1v1h-1zM104 32h1v1h-1zM111 32h1v1h-1zM201 32h1v1h-1zM209 32h1v1h-1zM94 33h1v1h-1zM107 33h1v1h-1zM63 34h1v1h-1zM97 34h1v1h-1zM101 34h1v1h-1zM106 34h1v1h-1zM111 34h1v1h-1zM194 34h1v1h-1zM215 34h1v1h-1zM69 36h1v1h-1zM82 37h1v1h-1zM106 37h1v1h-1zM83 38h1v1h-1zM200 38h1v1h-1zM202 38h1v1h-1zM62 39h1v1h-1zM106 39h1v1h-1zM64 40h1v1h-1zM73 40h1v1h-1zM95 40h1v1h-1zM110 40h1v1h-1zM204 41h1v1h-1zM220 41h1v1h-1zM70 42h1v1h-1zM87 42h1v1h-1zM109 42h1v1h-1zM115 42h1v1h-1zM193 42h1v1h-1zM76 43h1v1h-1zM88 43h1v1h-1zM101 43h1v1h-1zM111 43h1v1h-1zM220 43h1v1h-1zM82 44h1v1h-1zM66 46h1v1h-1zM87 46h1v1h-1zM95 46h1v1h-1zM195 46h1v1h-1z"/>
<path fill="#7C7F2C" d="M174 0h1v1h-1zM189 0h1v1h-1zM174 1h1v1h-1zM178 1h1v1h-1zM124 2h1v1h-1zM174 2h1v1h-1zM170 3h1v1h-1zM177 3h1v1h-1zM185 3h1v1h-1zM191 3h1v1h-1zM233 3h1v1h-1zM166 4h1v1h-1zM169 4h1v1h-1zM171 4h1v1h-1zM184 4h1v1h-1zM189 4h1v1h-1zM138 6h1v1h-1zM157 6h1v1h-1zM186 6h1v1h-1zM174 7h1v1h-1zM166 8h1v1h-1zM173 8h1v1h-1zM189 8h1v1h-1zM304 8h1v1h-1zM125 9h1v1h-1zM149 9h1v1h-1zM173 9h1v1h-1zM302 9h1v1h-1zM305 9h1v1h-1zM117 10h1v1h-1zM149 10h1v1h-1zM171 10h2v1h-2zM184 10h2v1h-2zM117 11h1v1h-1zM173 11h1v1h-1zM175 11h1v1h-1zM189 11h1v1h-1zM135 12h1v1h-1zM149 12h1v1h-1zM166 12h1v1h-1zM169 13h1v1h-1zM171 13h1v1h-1zM175 13h1v1h-1zM183 13h1v1h-1zM191 13h1v1h-1zM169 14h1v1h-1zM157 15h1v1h-1zM165 15h1v1h-1zM173 15h1v1h-1zM179 15h1v1h-1zM187 15h1v1h-1zM191 15h1v1h-1zM118 18h1v1h-1zM132 18h1v1h-1zM224 18h1v1h-1zM239 18h1v1h-1zM246 18h1v1h-1zM130 19h1v1h-1zM137 19h1v1h-1zM143 19h1v1h-1zM149 19h1v1h-1zM246 19h1v1h-1zM223 20h1v1h-1zM232 20h1v1h-1zM277 20h1v1h-1zM117 21h1v1h-1zM123 21h1v1h-1zM147 21h1v1h-1zM283 21h1v1h-1zM119 22h1v1h-1zM136 22h1v1h-1zM119 23h1v1h-1zM125 23h1v1h-1zM93 24h1v1h-1zM117 24h2v1h-2zM143 24h1v1h-1zM148 24h1v1h-1zM153 24h1v1h-1zM138 25h1v1h-1zM225 25h1v1h-1zM281 25h1v1h-1zM284 25h1v1h-1zM107 27h1v1h-1zM266 27h1v1h-1zM88 28h1v1h-1zM91 28h1v1h-1zM109 28h1v1h-1zM62 29h1v1h-1zM102 29h1v1h-1zM107 29h1v1h-1zM60 30h1v1h-1zM116 30h1v1h-1zM227 30h1v1h-1zM234 30h2v1h-2zM61 31h1v1h-1zM68 31h2v1h-2zM102 31h1v1h-1zM209 31h1v1h-1zM73 32h1v1h-1zM78 32h1v1h-1zM93 32h1v1h-1zM98 32h1v1h-1zM102 32h2v1h-2zM106 32h1v1h-1zM116 32h1v1h-1zM200 32h1v1h-1zM202 32h1v1h-1zM214 32h1v1h-1zM219 32h1v1h-1zM84 33h1v1h-1zM87 33h1v1h-1zM210 33h1v1h-1zM71 34h1v1h-1zM77 34h1v1h-1zM100 34h1v1h-1zM195 34h1v1h-1zM73 35h1v1h-1zM155 35h1v1h-1zM72 36h1v1h-1zM77 36h1v1h-1zM85 36h1v1h-1zM90 36h1v1h-1zM99 36h1v1h-1zM115 36h1v1h-1zM155 36h1v1h-1zM210 36h1v1h-1zM63 37h1v1h-1zM75 37h1v1h-1zM86 37h2v1h-2zM96 37h1v1h-1zM112 37h1v1h-1zM211 37h1v1h-1zM62 38h1v1h-1zM87 38h2v1h-2zM98 38h1v1h-1zM107 38h1v1h-1zM112 38h1v1h-1zM72 39h2v1h-2zM76 39h1v1h-1zM93 39h1v1h-1zM95 39h1v1h-1zM203 39h1v1h-1zM66 40h1v1h-1zM94 40h1v1h-1zM101 40h1v1h-1zM194 40h1v1h-1zM206 40h1v1h-1zM79 41h1v1h-1zM207 41h1v1h-1zM114 42h1v1h-1zM202 42h1v1h-1zM77 43h1v1h-1zM194 43h1v1h-1zM204 43h1v1h-1zM209 43h2v1h-2zM81 44h1v1h-1zM84 44h1v1h-1zM86 44h1v1h-1zM97 44h1v1h-1zM112 44h1v1h-1zM67 45h1v1h-1zM106 45h1v1h-1zM108 45h1v1h-1zM196 45h1v1h-1zM68 46h1v1h-1zM103 46h1v1h-1zM105 46h1v1h-1zM193 46h1v1h-1zM210 46h1v1h-1zM281 48h1v1h-1z"/>
<path fill="#76782B" d="M165 0h1v1h-1zM181 0h1v1h-1zM165 1h1v1h-1zM168 1h1v1h-1zM182 1h1v1h-1zM184 1h3v1h-3zM117 2h1v1h-1zM161 2h1v1h-1zM179 2h1v1h-1zM184 2h2v1h-2zM189 2h1v1h-1zM155 3h1v1h-1zM162 3h1v1h-1zM165 3h1v1h-1zM175 3h1v1h-1zM183 3h1v1h-1zM186 3h1v1h-1zM188 3h2v1h-2zM231 3h1v1h-1zM243 3h1v1h-1zM174 4h1v1h-1zM177 4h1v1h-1zM182 4h1v1h-1zM167 5h1v1h-1zM177 5h1v1h-1zM117 6h1v1h-1zM158 6h1v1h-1zM160 6h1v1h-1zM187 6h1v1h-1zM162 7h1v1h-1zM180 7h2v1h-2zM120 8h1v1h-1zM124 8h1v1h-1zM127 8h1v1h-1zM145 8h1v1h-1zM161 8h1v1h-1zM165 9h1v1h-1zM174 9h1v1h-1zM173 10h3v1h-3zM178 10h1v1h-1zM183 10h1v1h-1zM189 10h1v1h-1zM162 11h1v1h-1zM124 12h1v1h-1zM148 12h1v1h-1zM176 13h1v1h-1zM178 14h2v1h-2zM184 14h1v1h-1zM163 15h1v1h-1zM176 15h1v1h-1zM178 15h1v1h-1zM183 15h1v1h-1zM185 16h1v1h-1zM125 17h1v1h-1zM132 17h1v1h-1zM155 17h1v1h-1zM123 18h1v1h-1zM129 18h1v1h-1zM138 18h1v1h-1zM140 18h1v1h-1zM223 18h1v1h-1zM276 18h1v1h-1zM117 19h1v1h-1zM148 19h1v1h-1zM269 19h1v1h-1zM122 20h1v1h-1zM125 20h1v1h-1zM60 21h1v1h-1zM121 21h1v1h-1zM126 21h1v1h-1zM145 21h1v1h-1zM149 21h1v1h-1zM130 22h1v1h-1zM140 22h1v1h-1zM146 22h1v1h-1zM153 22h1v1h-1zM136 23h1v1h-1zM143 23h1v1h-1zM153 23h1v1h-1zM281 23h1v1h-1zM126 24h1v1h-1zM146 24h1v1h-1zM176 24h1v1h-1zM282 24h1v1h-1zM121 25h1v1h-1zM145 25h1v1h-1zM148 25h2v1h-2zM276 25h1v1h-1zM223 26h1v1h-1zM67 27h1v1h-1zM93 27h1v1h-1zM66 28h1v1h-1zM116 28h1v1h-1zM61 29h1v1h-1zM67 29h2v1h-2zM74 29h1v1h-1zM77 29h1v1h-1zM85 29h1v1h-1zM88 29h1v1h-1zM109 29h1v1h-1zM116 29h1v1h-1zM62 30h1v1h-1zM91 30h1v1h-1zM77 31h1v1h-1zM134 31h1v1h-1zM66 32h1v1h-1zM75 32h2v1h-2zM80 32h1v1h-1zM112 32h1v1h-1zM193 32h1v1h-1zM197 32h1v1h-1zM215 32h1v1h-1zM63 33h1v1h-1zM75 33h2v1h-2zM79 33h1v1h-1zM95 33h1v1h-1zM106 33h1v1h-1zM112 33h1v1h-1zM66 34h1v1h-1zM90 34h1v1h-1zM94 34h1v1h-1zM108 34h1v1h-1zM112 34h1v1h-1zM193 34h1v1h-1zM214 34h1v1h-1zM81 35h1v1h-1zM83 35h1v1h-1zM86 35h1v1h-1zM93 35h1v1h-1zM108 35h1v1h-1zM68 36h1v1h-1zM78 36h1v1h-1zM113 36h1v1h-1zM203 36h1v1h-1zM209 36h1v1h-1zM211 36h1v1h-1zM214 36h1v1h-1zM71 37h1v1h-1zM85 37h1v1h-1zM88 37h1v1h-1zM90 37h1v1h-1zM109 37h1v1h-1zM192 37h1v1h-1zM64 38h1v1h-1zM67 38h1v1h-1zM72 38h1v1h-1zM91 38h1v1h-1zM93 38h1v1h-1zM100 38h1v1h-1zM106 38h1v1h-1zM109 38h1v1h-1zM111 38h1v1h-1zM197 38h1v1h-1zM214 38h1v1h-1zM217 38h1v1h-1zM70 39h2v1h-2zM86 39h1v1h-1zM90 39h1v1h-1zM97 39h3v1h-3zM210 39h1v1h-1zM214 39h1v1h-1zM70 40h1v1h-1zM90 40h1v1h-1zM98 40h3v1h-3zM203 40h1v1h-1zM215 40h1v1h-1zM96 41h1v1h-1zM201 41h1v1h-1zM216 41h2v1h-2zM195 42h2v1h-2zM85 43h1v1h-1zM100 43h1v1h-1zM115 43h1v1h-1zM202 43h1v1h-1zM214 43h1v1h-1zM79 45h1v1h-1zM98 45h1v1h-1zM111 45h1v1h-1zM61 46h1v1h-1zM85 46h1v1h-1zM88 46h1v1h-1zM93 46h1v1h-1zM100 46h3v1h-3zM116 46h1v1h-1zM119 46h1v1h-1zM211 46h1v1h-1zM81 47h1v1h-1z"/>
<path fill="#71742B" d="M155 0h1v1h-1zM160 0h1v1h-1zM167 1h1v1h-1zM177 1h1v1h-1zM130 2h1v1h-1zM173 2h1v1h-1zM150 3h1v1h-1zM160 3h2v1h-2zM306 3h1v1h-1zM191 4h1v1h-1zM171 5h1v1h-1zM189 5h1v1h-1zM124 6h1v1h-1zM179 6h1v1h-1zM173 7h1v1h-1zM133 8h1v1h-1zM135 8h1v1h-1zM155 8h1v1h-1zM160 8h1v1h-1zM176 8h1v1h-1zM182 8h1v1h-1zM186 8h1v1h-1zM126 9h1v1h-1zM123 10h1v1h-1zM162 10h1v1h-1zM177 10h1v1h-1zM181 10h1v1h-1zM187 10h2v1h-2zM169 11h2v1h-2zM190 11h1v1h-1zM185 12h1v1h-1zM157 13h1v1h-1zM162 13h1v1h-1zM172 13h1v1h-1zM190 13h1v1h-1zM174 14h1v1h-1zM160 15h1v1h-1zM167 15h2v1h-2zM172 15h1v1h-1zM155 16h1v1h-1zM174 16h1v1h-1zM181 16h2v1h-2zM117 17h1v1h-1zM123 17h1v1h-1zM126 17h1v1h-1zM135 17h1v1h-1zM246 17h1v1h-1zM277 17h1v1h-1zM125 18h1v1h-1zM141 18h1v1h-1zM146 18h1v1h-1zM231 18h1v1h-1zM132 19h1v1h-1zM141 19h1v1h-1zM146 19h1v1h-1zM131 20h1v1h-1zM176 20h1v1h-1zM282 20h1v1h-1zM122 21h1v1h-1zM146 21h1v1h-1zM139 22h1v1h-1zM277 22h1v1h-1zM122 23h1v1h-1zM132 23h1v1h-1zM132 24h1v1h-1zM145 24h1v1h-1zM130 25h2v1h-2zM147 25h1v1h-1zM185 25h1v1h-1zM80 27h1v1h-1zM85 27h1v1h-1zM97 27h1v1h-1zM265 27h1v1h-1zM60 28h1v1h-1zM72 28h1v1h-1zM104 28h1v1h-1zM66 29h1v1h-1zM71 29h1v1h-1zM79 29h1v1h-1zM87 29h1v1h-1zM95 29h1v1h-1zM61 30h1v1h-1zM85 30h1v1h-1zM87 30h2v1h-2zM90 30h1v1h-1zM94 30h1v1h-1zM106 30h1v1h-1zM110 30h1v1h-1zM281 30h1v1h-1zM85 31h1v1h-1zM112 31h1v1h-1zM193 31h1v1h-1zM63 32h1v1h-1zM72 32h1v1h-1zM88 32h1v1h-1zM100 32h1v1h-1zM67 33h1v1h-1zM80 33h1v1h-1zM88 33h1v1h-1zM155 33h1v1h-1zM196 33h1v1h-1zM200 33h1v1h-1zM69 34h1v1h-1zM88 34h1v1h-1zM95 34h1v1h-1zM102 34h1v1h-1zM203 34h1v1h-1zM211 34h1v1h-1zM71 35h2v1h-2zM85 35h1v1h-1zM109 35h1v1h-1zM60 36h2v1h-2zM64 36h1v1h-1zM116 36h1v1h-1zM194 36h1v1h-1zM206 36h1v1h-1zM73 37h1v1h-1zM79 37h1v1h-1zM83 37h1v1h-1zM66 38h1v1h-1zM71 38h1v1h-1zM73 38h1v1h-1zM77 38h1v1h-1zM79 38h1v1h-1zM201 38h1v1h-1zM209 38h1v1h-1zM219 38h1v1h-1zM60 39h2v1h-2zM78 39h1v1h-1zM100 39h1v1h-1zM111 39h1v1h-1zM211 39h1v1h-1zM68 40h1v1h-1zM72 40h1v1h-1zM91 40h1v1h-1zM104 40h1v1h-1zM210 40h1v1h-1zM82 41h1v1h-1zM205 41h1v1h-1zM218 41h1v1h-1zM221 41h2v1h-2zM194 42h1v1h-1zM209 42h1v1h-1zM221 43h1v1h-1zM71 44h1v1h-1zM76 44h2v1h-2zM94 44h1v1h-1zM64 45h1v1h-1zM60 46h1v1h-1zM71 46h2v1h-2zM86 46h1v1h-1zM104 46h1v1h-1zM113 46h1v1h-1zM202 46h1v1h-1zM206 46h1v1h-1zM84 47h1v1h-1z"/>
<path fill="#6E702B" d="M138 0h1v1h-1zM162 0h1v1h-1zM172 0h1v1h-1zM176 0h1v1h-1zM156 1h1v1h-1zM180 1h1v1h-1zM191 1h1v1h-1zM135 2h1v1h-1zM186 2h2v1h-2zM138 3h1v1h-1zM181 3h1v1h-1zM160 4h1v1h-1zM181 5h1v1h-1zM188 5h1v1h-1zM167 6h1v1h-1zM188 7h1v1h-1zM175 8h1v1h-1zM180 9h1v1h-1zM188 9h2v1h-2zM150 10h1v1h-1zM155 10h1v1h-1zM165 10h1v1h-1zM191 10h1v1h-1zM124 11h1v1h-1zM138 11h1v1h-1zM149 11h1v1h-1zM161 11h1v1h-1zM182 11h1v1h-1zM161 12h2v1h-2zM158 13h1v1h-1zM165 14h1v1h-1zM149 15h1v1h-1zM186 15h1v1h-1zM180 16h1v1h-1zM183 16h1v1h-1zM188 16h1v1h-1zM137 17h1v1h-1zM176 18h1v1h-1zM236 18h1v1h-1zM296 18h1v1h-1zM134 19h1v1h-1zM281 19h1v1h-1zM283 19h1v1h-1zM93 20h1v1h-1zM157 20h1v1h-1zM109 21h1v1h-1zM282 21h1v1h-1zM281 22h1v1h-1zM283 22h1v1h-1zM176 23h1v1h-1zM283 23h1v1h-1zM122 24h1v1h-1zM177 24h1v1h-1zM125 25h1v1h-1zM143 25h1v1h-1zM146 25h1v1h-1zM76 27h1v1h-1zM108 27h1v1h-1zM64 28h1v1h-1zM108 28h1v1h-1zM69 29h1v1h-1zM86 29h1v1h-1zM111 29h2v1h-2zM105 30h1v1h-1zM282 30h1v1h-1zM60 31h1v1h-1zM62 31h1v1h-1zM111 31h1v1h-1zM155 31h1v1h-1zM210 31h1v1h-1zM220 31h1v1h-1zM105 32h1v1h-1zM109 32h1v1h-1zM198 32h1v1h-1zM207 32h1v1h-1zM68 33h1v1h-1zM85 33h1v1h-1zM93 33h1v1h-1zM108 33h1v1h-1zM111 33h1v1h-1zM116 33h1v1h-1zM206 33h1v1h-1zM211 33h1v1h-1zM215 33h1v1h-1zM74 34h1v1h-1zM78 34h1v1h-1zM86 34h1v1h-1zM91 34h1v1h-1zM206 34h1v1h-1zM220 34h1v1h-1zM80 35h1v1h-1zM106 35h1v1h-1zM108 36h1v1h-1zM195 36h1v1h-1zM68 37h1v1h-1zM80 37h1v1h-1zM97 37h1v1h-1zM108 37h1v1h-1zM99 38h1v1h-1zM66 39h1v1h-1zM116 39h1v1h-1zM194 39h1v1h-1zM196 39h1v1h-1zM69 40h1v1h-1zM116 40h1v1h-1zM151 40h1v1h-1zM75 41h1v1h-1zM78 41h1v1h-1zM84 41h1v1h-1zM299 41h1v1h-1zM198 42h1v1h-1zM200 42h1v1h-1zM206 42h1v1h-1zM60 43h1v1h-1zM65 43h1v1h-1zM99 43h1v1h-1zM197 43h1v1h-1zM85 44h1v1h-1zM102 44h1v1h-1zM155 44h1v1h-1zM183 44h1v1h-1zM109 45h1v1h-1zM197 46h1v1h-1zM83 47h1v1h-1zM96 48h1v1h-1zM68 49h1v1h-1zM82 49h1v1h-1z"/>
<path fill="#6B6D2A" d="M161 0h1v1h-1zM171 0h1v1h-1zM178 0h1v1h-1zM179 1h1v1h-1zM123 2h1v1h-1zM125 2h1v1h-1zM150 2h1v1h-1zM177 2h2v1h-2zM234 3h1v1h-1zM181 4h1v1h-1zM186 4h1v1h-1zM173 5h1v1h-1zM175 5h1v1h-1zM187 5h1v1h-1zM127 6h1v1h-1zM137 6h1v1h-1zM165 6h1v1h-1zM161 7h1v1h-1zM184 7h1v1h-1zM125 8h1v1h-1zM132 8h1v1h-1zM163 8h1v1h-1zM125 10h1v1h-1zM132 10h1v1h-1zM148 10h1v1h-1zM156 10h1v1h-1zM161 10h1v1h-1zM180 10h1v1h-1zM186 10h1v1h-1zM160 11h1v1h-1zM191 11h1v1h-1zM126 12h1v1h-1zM130 12h1v1h-1zM146 12h1v1h-1zM180 12h1v1h-1zM184 12h1v1h-1zM271 12h1v1h-1zM165 13h1v1h-1zM185 13h1v1h-1zM183 14h1v1h-1zM185 14h1v1h-1zM124 15h1v1h-1zM171 15h1v1h-1zM161 16h2v1h-2zM187 16h1v1h-1zM136 17h1v1h-1zM147 17h1v1h-1zM281 18h1v1h-1zM283 18h1v1h-1zM282 19h1v1h-1zM150 21h1v1h-1zM281 21h1v1h-1zM278 22h1v1h-1zM282 23h1v1h-1zM246 24h1v1h-1zM123 25h1v1h-1zM280 25h1v1h-1zM73 27h1v1h-1zM94 27h1v1h-1zM98 27h1v1h-1zM238 30h1v1h-1zM71 31h1v1h-1zM86 31h2v1h-2zM100 31h1v1h-1zM114 31h1v1h-1zM219 31h1v1h-1zM61 32h1v1h-1zM77 32h1v1h-1zM90 32h2v1h-2zM99 32h1v1h-1zM217 32h1v1h-1zM62 33h1v1h-1zM71 33h1v1h-1zM109 33h1v1h-1zM195 33h1v1h-1zM219 33h1v1h-1zM73 34h1v1h-1zM105 34h1v1h-1zM202 34h1v1h-1zM63 35h1v1h-1zM84 35h1v1h-1zM102 35h1v1h-1zM92 36h1v1h-1zM114 36h1v1h-1zM111 37h1v1h-1zM210 37h1v1h-1zM281 37h1v1h-1zM61 38h1v1h-1zM68 38h1v1h-1zM85 38h2v1h-2zM102 38h1v1h-1zM105 38h1v1h-1zM108 38h1v1h-1zM208 38h1v1h-1zM218 38h1v1h-1zM88 39h1v1h-1zM105 39h1v1h-1zM112 40h1v1h-1zM213 41h1v1h-1zM92 42h1v1h-1zM215 42h1v1h-1zM219 42h2v1h-2zM218 43h1v1h-1zM63 44h1v1h-1zM83 44h1v1h-1zM99 44h1v1h-1zM109 44h1v1h-1zM85 45h2v1h-2zM99 45h1v1h-1zM105 45h1v1h-1zM203 45h1v1h-1zM115 46h1v1h-1zM221 46h1v1h-1zM75 47h1v1h-1z"/>
<path fill="#67692A" d="M168 0h1v1h-1zM177 0h1v1h-1zM186 0h1v1h-1zM306 0h1v1h-1zM148 1h2v1h-2zM155 1h1v1h-1zM172 1h1v1h-1zM176 1h1v1h-1zM189 1h2v1h-2zM306 1h1v1h-1zM126 2h1v1h-1zM140 2h1v1h-1zM160 2h1v1h-1zM167 2h1v1h-1zM176 2h1v1h-1zM135 3h1v1h-1zM148 3h1v1h-1zM176 3h1v1h-1zM187 3h1v1h-1zM190 3h1v1h-1zM156 4h1v1h-1zM155 5h1v1h-1zM161 5h2v1h-2zM166 5h1v1h-1zM178 5h1v1h-1zM180 5h1v1h-1zM120 6h1v1h-1zM125 6h1v1h-1zM146 6h1v1h-1zM166 7h1v1h-1zM175 7h1v1h-1zM179 7h1v1h-1zM130 8h1v1h-1zM136 8h1v1h-1zM139 8h1v1h-1zM150 8h1v1h-1zM156 8h1v1h-1zM135 9h1v1h-1zM156 9h1v1h-1zM160 9h1v1h-1zM162 9h1v1h-1zM172 9h1v1h-1zM184 9h1v1h-1zM303 9h1v1h-1zM130 10h1v1h-1zM140 10h1v1h-1zM166 10h1v1h-1zM137 11h1v1h-1zM148 11h1v1h-1zM180 11h1v1h-1zM187 11h1v1h-1zM127 12h1v1h-1zM138 12h1v1h-1zM165 12h1v1h-1zM169 12h1v1h-1zM167 13h1v1h-1zM181 13h1v1h-1zM117 14h1v1h-1zM160 14h1v1h-1zM162 14h1v1h-1zM170 14h1v1h-1zM173 14h1v1h-1zM177 14h1v1h-1zM125 15h1v1h-1zM158 15h1v1h-1zM156 16h1v1h-1zM160 16h1v1h-1zM165 16h1v1h-1zM169 16h1v1h-1zM178 16h1v1h-1zM186 16h1v1h-1zM126 19h1v1h-1zM153 19h1v1h-1zM277 19h1v1h-1zM116 20h1v1h-1zM275 20h2v1h-2zM278 20h2v1h-2zM125 21h1v1h-1zM214 21h1v1h-1zM313 21h1v1h-1zM135 22h1v1h-1zM155 22h1v1h-1zM109 23h1v1h-1zM293 23h1v1h-1zM155 24h1v1h-1zM280 24h1v1h-1zM298 25h1v1h-1zM63 27h1v1h-1zM68 27h2v1h-2zM79 27h1v1h-1zM84 27h1v1h-1zM89 28h1v1h-1zM60 29h1v1h-1zM64 29h1v1h-1zM98 29h1v1h-1zM106 29h1v1h-1zM65 30h1v1h-1zM186 30h1v1h-1zM116 31h1v1h-1zM195 31h1v1h-1zM211 31h1v1h-1zM62 32h1v1h-1zM115 32h1v1h-1zM218 32h1v1h-1zM77 33h1v1h-1zM86 33h1v1h-1zM197 33h1v1h-1zM218 33h1v1h-1zM85 34h1v1h-1zM116 34h1v1h-1zM166 34h1v1h-1zM200 34h1v1h-1zM209 34h2v1h-2zM221 34h1v1h-1zM62 35h1v1h-1zM88 35h1v1h-1zM97 35h1v1h-1zM100 35h1v1h-1zM112 35h1v1h-1zM192 35h1v1h-1zM104 36h1v1h-1zM198 36h1v1h-1zM61 37h2v1h-2zM72 37h1v1h-1zM76 37h1v1h-1zM98 37h1v1h-1zM105 37h1v1h-1zM193 37h1v1h-1zM206 37h1v1h-1zM282 37h1v1h-1zM64 39h1v1h-1zM77 39h1v1h-1zM102 39h1v1h-1zM193 39h1v1h-1zM209 39h1v1h-1zM114 40h1v1h-1zM196 40h1v1h-1zM202 40h1v1h-1zM209 40h1v1h-1zM211 40h1v1h-1zM216 40h1v1h-1zM88 41h1v1h-1zM198 41h1v1h-1zM89 42h1v1h-1zM201 42h1v1h-1zM204 42h1v1h-1zM207 42h1v1h-1zM216 42h1v1h-1zM221 42h1v1h-1zM61 43h1v1h-1zM104 43h1v1h-1zM207 43h1v1h-1zM215 43h1v1h-1zM64 44h1v1h-1zM68 44h2v1h-2zM80 44h1v1h-1zM87 44h1v1h-1zM96 44h1v1h-1zM98 44h1v1h-1zM104 44h1v1h-1zM192 44h1v1h-1zM70 45h1v1h-1zM75 45h2v1h-2zM88 45h1v1h-1zM90 45h1v1h-1zM94 45h1v1h-1zM104 45h1v1h-1zM69 46h1v1h-1zM114 46h1v1h-1zM126 46h1v1h-1zM194 46h1v1h-1zM209 46h1v1h-1zM98 47h1v1h-1zM116 47h1v1h-1zM126 47h1v1h-1zM192 47h1v1h-1zM81 49h1v1h-1zM96 49h1v1h-1z"/>
<path fill="#62632A" d="M139 0h1v1h-1zM148 0h1v1h-1zM175 0h1v1h-1zM179 0h1v1h-1zM184 0h2v1h-2zM191 0h1v1h-1zM171 1h1v1h-1zM187 1h1v1h-1zM233 1h1v1h-1zM243 1h1v1h-1zM120 2h1v1h-1zM149 2h1v1h-1zM191 2h1v1h-1zM279 2h1v1h-1zM120 3h1v1h-1zM124 3h2v1h-2zM149 3h1v1h-1zM158 3h1v1h-1zM167 3h1v1h-1zM171 3h2v1h-2zM124 4h1v1h-1zM157 4h1v1h-1zM167 4h1v1h-1zM132 5h1v1h-1zM150 5h1v1h-1zM176 5h1v1h-1zM184 5h1v1h-1zM190 5h1v1h-1zM123 6h1v1h-1zM126 6h1v1h-1zM154 6h1v1h-1zM168 6h1v1h-1zM183 6h1v1h-1zM178 7h1v1h-1zM185 7h1v1h-1zM144 8h1v1h-1zM149 8h1v1h-1zM165 8h1v1h-1zM172 8h1v1h-1zM179 8h1v1h-1zM190 8h1v1h-1zM124 9h1v1h-1zM127 9h1v1h-1zM130 9h1v1h-1zM148 9h1v1h-1zM171 9h1v1h-1zM126 10h1v1h-1zM119 11h1v1h-1zM150 11h1v1h-1zM155 11h1v1h-1zM167 11h2v1h-2zM181 11h1v1h-1zM185 11h2v1h-2zM131 12h2v1h-2zM170 12h1v1h-1zM156 13h1v1h-1zM160 13h1v1h-1zM168 13h1v1h-1zM138 14h1v1h-1zM181 14h1v1h-1zM117 15h1v1h-1zM138 15h1v1h-1zM150 15h1v1h-1zM164 15h1v1h-1zM172 16h1v1h-1zM176 16h1v1h-1zM258 17h1v1h-1zM276 17h1v1h-1zM281 17h1v1h-1zM225 18h1v1h-1zM176 19h1v1h-1zM280 19h1v1h-1zM60 20h1v1h-1zM184 21h1v1h-1zM275 21h1v1h-1zM277 21h1v1h-1zM280 21h1v1h-1zM117 22h1v1h-1zM145 22h1v1h-1zM276 22h1v1h-1zM131 23h1v1h-1zM131 24h1v1h-1zM157 24h1v1h-1zM155 25h1v1h-1zM177 25h1v1h-1zM184 25h1v1h-1zM223 25h1v1h-1zM279 25h1v1h-1zM282 25h1v1h-1zM74 27h1v1h-1zM87 27h2v1h-2zM109 27h1v1h-1zM112 27h1v1h-1zM114 28h1v1h-1zM90 29h1v1h-1zM104 29h2v1h-2zM110 29h1v1h-1zM114 29h1v1h-1zM228 30h1v1h-1zM240 30h1v1h-1zM279 30h1v1h-1zM65 31h1v1h-1zM95 31h1v1h-1zM198 31h1v1h-1zM203 31h1v1h-1zM282 31h1v1h-1zM70 32h1v1h-1zM92 32h1v1h-1zM94 32h1v1h-1zM199 32h1v1h-1zM216 32h1v1h-1zM222 32h1v1h-1zM90 33h2v1h-2zM98 33h1v1h-1zM194 33h1v1h-1zM203 33h1v1h-1zM205 33h1v1h-1zM220 33h2v1h-2zM72 34h1v1h-1zM99 34h1v1h-1zM198 34h1v1h-1zM207 34h1v1h-1zM216 34h1v1h-1zM218 34h1v1h-1zM222 34h1v1h-1zM61 35h1v1h-1zM87 35h1v1h-1zM90 35h1v1h-1zM94 35h1v1h-1zM105 35h1v1h-1zM274 35h1v1h-1zM197 36h1v1h-1zM215 36h1v1h-1zM89 37h1v1h-1zM93 37h1v1h-1zM100 37h1v1h-1zM102 37h1v1h-1zM129 37h1v1h-1zM134 37h1v1h-1zM203 37h1v1h-1zM90 38h1v1h-1zM104 38h1v1h-1zM119 38h1v1h-1zM126 38h1v1h-1zM205 38h1v1h-1zM216 38h1v1h-1zM74 39h1v1h-1zM85 39h1v1h-1zM87 39h1v1h-1zM206 39h1v1h-1zM220 39h1v1h-1zM310 39h1v1h-1zM312 39h1v1h-1zM65 40h1v1h-1zM78 40h1v1h-1zM207 40h1v1h-1zM214 40h1v1h-1zM219 40h1v1h-1zM80 41h1v1h-1zM116 41h1v1h-1zM212 41h1v1h-1zM155 42h1v1h-1zM214 42h1v1h-1zM91 43h1v1h-1zM113 43h2v1h-2zM151 43h1v1h-1zM198 43h1v1h-1zM213 43h1v1h-1zM216 43h1v1h-1zM61 44h2v1h-2zM73 44h1v1h-1zM75 44h1v1h-1zM79 44h1v1h-1zM88 44h1v1h-1zM105 44h1v1h-1zM116 44h1v1h-1zM66 45h1v1h-1zM68 45h1v1h-1zM87 45h1v1h-1zM93 45h1v1h-1zM100 45h1v1h-1zM116 45h1v1h-1zM193 45h3v1h-3zM210 45h1v1h-1zM65 46h1v1h-1zM98 46h1v1h-1zM218 46h1v1h-1zM112 47h1v1h-1zM87 49h2v1h-2zM129 49h1v1h-1zM151 49h1v1h-1z"/>
<path fill="#5C5D29" d="M125 0h1v1h-1zM158 0h1v1h-1zM164 0h1v1h-1zM167 0h1v1h-1zM190 0h1v1h-1zM136 1h1v1h-1zM138 1h1v1h-1zM158 1h1v1h-1zM175 1h1v1h-1zM231 1h1v1h-1zM301 1h1v1h-1zM141 2h1v1h-1zM148 2h1v1h-1zM155 2h2v1h-2zM182 2h1v1h-1zM284 2h1v1h-1zM139 3h1v1h-1zM144 3h1v1h-1zM168 3h1v1h-1zM182 3h1v1h-1zM232 3h1v1h-1zM240 3h1v1h-1zM279 3h1v1h-1zM148 4h1v1h-1zM165 4h1v1h-1zM168 4h1v1h-1zM187 4h1v1h-1zM190 4h1v1h-1zM149 5h1v1h-1zM160 5h1v1h-1zM168 5h1v1h-1zM174 5h1v1h-1zM182 5h1v1h-1zM133 6h1v1h-1zM135 6h1v1h-1zM139 6h1v1h-1zM148 6h1v1h-1zM279 6h1v1h-1zM130 7h1v1h-1zM149 7h1v1h-1zM168 7h1v1h-1zM182 7h1v1h-1zM189 7h1v1h-1zM129 8h1v1h-1zM137 8h1v1h-1zM181 8h1v1h-1zM191 8h1v1h-1zM178 9h1v1h-1zM185 9h2v1h-2zM190 9h1v1h-1zM131 10h1v1h-1zM146 10h1v1h-1zM167 10h1v1h-1zM176 10h1v1h-1zM179 10h1v1h-1zM126 11h1v1h-1zM135 11h1v1h-1zM165 11h1v1h-1zM176 11h2v1h-2zM184 11h1v1h-1zM117 12h1v1h-1zM120 12h2v1h-2zM123 12h1v1h-1zM145 12h1v1h-1zM178 12h1v1h-1zM182 12h1v1h-1zM186 12h1v1h-1zM189 12h1v1h-1zM155 13h1v1h-1zM177 13h1v1h-1zM182 13h1v1h-1zM186 13h2v1h-2zM161 14h1v1h-1zM167 14h1v1h-1zM191 14h1v1h-1zM127 15h1v1h-1zM159 15h1v1h-1zM167 16h1v1h-1zM171 16h1v1h-1zM173 16h1v1h-1zM126 18h1v1h-1zM280 18h1v1h-1zM282 18h1v1h-1zM284 18h1v1h-1zM276 19h1v1h-1zM84 20h1v1h-1zM183 21h1v1h-1zM279 21h1v1h-1zM125 22h1v1h-1zM275 22h1v1h-1zM284 22h1v1h-1zM158 23h1v1h-1zM214 23h1v1h-1zM284 23h1v1h-1zM296 23h1v1h-1zM298 23h1v1h-1zM311 23h1v1h-1zM154 24h1v1h-1zM164 24h1v1h-1zM178 24h1v1h-1zM180 24h1v1h-1zM214 24h1v1h-1zM276 24h1v1h-1zM283 24h2v1h-2zM60 25h1v1h-1zM126 25h1v1h-1zM158 25h1v1h-1zM164 25h1v1h-1zM172 25h1v1h-1zM178 25h1v1h-1zM183 25h1v1h-1zM278 25h1v1h-1zM258 26h1v1h-1zM62 27h1v1h-1zM66 27h1v1h-1zM71 27h1v1h-1zM105 27h1v1h-1zM111 27h1v1h-1zM234 27h1v1h-1zM286 27h1v1h-1zM134 28h1v1h-1zM274 28h1v1h-1zM72 29h1v1h-1zM94 29h1v1h-1zM115 29h1v1h-1zM192 29h1v1h-1zM115 30h1v1h-1zM192 30h1v1h-1zM236 30h1v1h-1zM239 30h1v1h-1zM70 31h1v1h-1zM99 31h1v1h-1zM101 31h1v1h-1zM104 31h1v1h-1zM113 31h1v1h-1zM194 31h1v1h-1zM60 32h1v1h-1zM101 32h1v1h-1zM114 32h1v1h-1zM206 32h1v1h-1zM213 32h1v1h-1zM60 33h1v1h-1zM66 33h1v1h-1zM105 33h1v1h-1zM115 33h1v1h-1zM214 33h1v1h-1zM299 33h1v1h-1zM87 34h1v1h-1zM98 34h1v1h-1zM115 34h1v1h-1zM197 34h1v1h-1zM201 34h1v1h-1zM64 35h1v1h-1zM66 35h1v1h-1zM70 35h1v1h-1zM76 35h2v1h-2zM99 35h1v1h-1zM101 35h1v1h-1zM104 35h1v1h-1zM199 36h1v1h-1zM213 36h1v1h-1zM221 36h1v1h-1zM282 36h1v1h-1zM66 37h1v1h-1zM70 37h1v1h-1zM78 37h1v1h-1zM94 37h2v1h-2zM101 37h1v1h-1zM204 37h1v1h-1zM65 38h1v1h-1zM69 38h1v1h-1zM78 38h1v1h-1zM101 38h1v1h-1zM110 38h1v1h-1zM213 38h1v1h-1zM101 39h1v1h-1zM126 39h1v1h-1zM134 39h1v1h-1zM195 39h1v1h-1zM200 39h1v1h-1zM202 39h1v1h-1zM215 39h1v1h-1zM221 39h1v1h-1zM286 39h1v1h-1zM294 39h1v1h-1zM92 40h1v1h-1zM103 40h1v1h-1zM119 40h1v1h-1zM198 40h1v1h-1zM200 40h1v1h-1zM220 40h2v1h-2zM261 40h1v1h-1zM67 41h1v1h-1zM73 41h1v1h-1zM83 41h1v1h-1zM93 41h2v1h-2zM100 41h1v1h-1zM102 41h1v1h-1zM126 41h1v1h-1zM208 41h1v1h-1zM219 41h1v1h-1zM199 42h1v1h-1zM217 42h1v1h-1zM222 42h1v1h-1zM217 43h1v1h-1zM222 43h1v1h-1zM66 44h1v1h-1zM72 44h1v1h-1zM78 44h1v1h-1zM91 44h1v1h-1zM93 44h1v1h-1zM106 44h1v1h-1zM206 44h1v1h-1zM210 44h1v1h-1zM69 45h1v1h-1zM73 45h1v1h-1zM77 45h1v1h-1zM101 45h3v1h-3zM112 45h1v1h-1zM200 45h1v1h-1zM62 46h1v1h-1zM92 46h1v1h-1zM207 46h1v1h-1zM214 46h2v1h-2zM217 46h1v1h-1zM222 46h1v1h-1zM67 47h1v1h-1zM91 47h1v1h-1zM99 47h1v1h-1zM63 48h1v1h-1zM97 48h1v1h-1zM286 48h1v1h-1zM83 49h1v1h-1z"/>
<path fill="#545038" d="M153 10h1v1h-1zM127 11h1v1h-1zM146 11h1v1h-1zM271 11h1v1h-1zM120 13h1v1h-1zM148 13h1v1h-1zM148 15h1v1h-1zM109 17h1v1h-1zM154 17h1v1h-1zM263 17h1v1h-1zM298 17h1v1h-1zM106 18h1v1h-1zM131 18h1v1h-1zM150 18h1v1h-1zM157 18h1v1h-1zM209 18h1v1h-1zM269 18h1v1h-1zM155 19h1v1h-1zM252 19h1v1h-1zM271 19h1v1h-1zM296 20h1v1h-1zM305 20h1v1h-1zM311 20h1v1h-1zM106 21h1v1h-1zM220 21h1v1h-1zM263 21h1v1h-1zM269 21h1v1h-1zM271 21h1v1h-1zM81 22h1v1h-1zM93 22h1v1h-1zM109 22h1v1h-1zM154 22h1v1h-1zM271 22h1v1h-1zM300 22h1v1h-1zM315 22h1v1h-1zM220 23h1v1h-1zM269 23h1v1h-1zM292 23h1v1h-1zM170 24h1v1h-1zM271 24h1v1h-1zM106 25h1v1h-1zM150 25h1v1h-1zM252 25h1v1h-1zM252 26h1v1h-1zM284 26h1v1h-1zM238 27h1v1h-1zM268 27h1v1h-1zM281 28h1v1h-1zM284 29h1v1h-1zM126 30h1v1h-1zM163 30h1v1h-1zM203 30h1v1h-1zM89 31h1v1h-1zM127 31h1v1h-1zM222 31h1v1h-1zM279 32h1v1h-1zM163 33h1v1h-1zM177 33h1v1h-1zM279 33h1v1h-1zM281 33h1v1h-1zM134 34h1v1h-1zM111 35h1v1h-1zM186 35h1v1h-1zM89 36h1v1h-1zM119 36h1v1h-1zM126 36h1v1h-1zM129 36h1v1h-1zM151 36h1v1h-1zM184 36h1v1h-1zM284 36h1v1h-1zM274 38h1v1h-1zM282 38h1v1h-1zM149 39h1v1h-1zM238 39h1v1h-1zM282 39h1v1h-1zM126 40h1v1h-1zM155 40h1v1h-1zM253 40h1v1h-1zM281 40h1v1h-1zM127 41h1v1h-1zM155 41h1v1h-1zM183 41h1v1h-1zM279 41h1v1h-1zM294 41h1v1h-1zM113 42h1v1h-1zM119 42h1v1h-1zM149 42h1v1h-1zM151 42h1v1h-1zM281 42h1v1h-1zM127 43h1v1h-1zM155 43h1v1h-1zM186 43h1v1h-1zM240 43h1v1h-1zM279 43h2v1h-2zM103 44h1v1h-1zM292 44h1v1h-1zM294 44h1v1h-1zM119 45h1v1h-1zM155 45h1v1h-1zM294 45h1v1h-1zM110 46h1v1h-1zM177 46h1v1h-1zM155 47h1v1h-1zM261 47h1v1h-1zM292 47h1v1h-1zM134 48h1v1h-1zM155 48h1v1h-1zM192 48h1v1h-1zM292 48h1v1h-1zM312 48h1v1h-1zM134 49h1v1h-1zM155 49h1v1h-1zM183 49h1v1h-1zM192 49h1v1h-1zM240 49h1v1h-1zM287 49h1v1h-1z"/>
<path fill="#545526" d="M117 0h1v1h-1zM132 0h1v1h-1zM183 0h1v1h-1zM233 0h1v1h-1zM301 0h1v1h-1zM117 1h1v1h-1zM160 1h1v1h-1zM183 1h1v1h-1zM307 1h1v1h-1zM127 2h1v1h-1zM132 2h1v1h-1zM136 2h1v1h-1zM171 2h2v1h-2zM183 2h1v1h-1zM190 2h1v1h-1zM275 2h1v1h-1zM239 3h1v1h-1zM284 3h1v1h-1zM307 3h1v1h-1zM117 4h1v1h-1zM125 4h1v1h-1zM138 4h1v1h-1zM150 4h1v1h-1zM183 4h1v1h-1zM120 5h1v1h-1zM146 5h1v1h-1zM156 5h1v1h-1zM165 5h1v1h-1zM183 5h1v1h-1zM191 5h1v1h-1zM130 6h1v1h-1zM136 6h1v1h-1zM117 7h1v1h-1zM124 7h1v1h-1zM148 7h1v1h-1zM167 7h1v1h-1zM176 7h1v1h-1zM183 7h1v1h-1zM117 8h1v1h-1zM126 8h1v1h-1zM146 8h1v1h-1zM148 8h1v1h-1zM157 8h3v1h-3zM168 8h1v1h-1zM171 8h1v1h-1zM183 8h1v1h-1zM279 8h1v1h-1zM150 9h1v1h-1zM168 9h1v1h-1zM176 9h1v1h-1zM182 9h1v1h-1zM187 9h1v1h-1zM135 10h1v1h-1zM144 10h1v1h-1zM160 10h1v1h-1zM163 11h1v1h-1zM171 11h2v1h-2zM140 12h1v1h-1zM150 12h1v1h-1zM167 12h1v1h-1zM176 12h1v1h-1zM125 13h2v1h-2zM159 13h1v1h-1zM178 13h1v1h-1zM271 13h1v1h-1zM146 14h1v1h-1zM149 14h1v1h-1zM126 15h1v1h-1zM133 15h1v1h-1zM135 15h1v1h-1zM139 15h1v1h-1zM168 16h1v1h-1zM177 16h1v1h-1zM191 16h1v1h-1zM275 17h1v1h-1zM117 18h1v1h-1zM122 18h1v1h-1zM147 18h1v1h-1zM271 18h1v1h-1zM275 19h1v1h-1zM296 19h1v1h-1zM177 20h1v1h-1zM158 21h1v1h-1zM276 21h1v1h-1zM279 22h2v1h-2zM276 23h1v1h-1zM280 23h1v1h-1zM160 24h1v1h-1zM183 24h1v1h-1zM129 25h1v1h-1zM162 25h1v1h-1zM215 25h1v1h-1zM293 25h1v1h-1zM246 26h1v1h-1zM64 27h1v1h-1zM72 27h1v1h-1zM83 27h1v1h-1zM91 27h1v1h-1zM106 27h1v1h-1zM134 27h1v1h-1zM192 28h1v1h-1zM78 29h1v1h-1zM89 29h1v1h-1zM91 29h1v1h-1zM103 29h1v1h-1zM126 29h1v1h-1zM72 30h1v1h-1zM114 30h1v1h-1zM233 30h1v1h-1zM92 31h1v1h-1zM110 31h1v1h-1zM196 31h1v1h-1zM206 31h1v1h-1zM221 31h1v1h-1zM71 32h1v1h-1zM70 33h1v1h-1zM72 33h3v1h-3zM198 33h2v1h-2zM207 33h1v1h-1zM61 34h1v1h-1zM89 34h1v1h-1zM104 34h1v1h-1zM60 35h1v1h-1zM75 35h1v1h-1zM79 35h1v1h-1zM95 35h1v1h-1zM98 35h1v1h-1zM110 36h1v1h-1zM166 36h1v1h-1zM200 36h1v1h-1zM202 36h1v1h-1zM204 36h1v1h-1zM64 37h1v1h-1zM69 37h1v1h-1zM99 37h1v1h-1zM207 37h1v1h-1zM221 37h1v1h-1zM116 38h1v1h-1zM198 38h1v1h-1zM91 39h1v1h-1zM113 39h1v1h-1zM204 39h1v1h-1zM309 39h1v1h-1zM193 40h1v1h-1zM217 40h1v1h-1zM222 40h1v1h-1zM68 41h1v1h-1zM90 41h1v1h-1zM95 41h1v1h-1zM111 41h1v1h-1zM166 42h1v1h-1zM208 42h1v1h-1zM213 42h1v1h-1zM89 43h1v1h-1zM110 43h1v1h-1zM200 43h1v1h-1zM205 43h1v1h-1zM70 44h1v1h-1zM90 44h1v1h-1zM107 44h1v1h-1zM193 44h1v1h-1zM60 45h1v1h-1zM71 45h1v1h-1zM74 45h1v1h-1zM95 45h1v1h-1zM201 45h1v1h-1zM206 45h1v1h-1zM211 45h1v1h-1zM70 46h1v1h-1zM89 46h1v1h-1zM99 46h1v1h-1zM200 46h1v1h-1zM204 46h1v1h-1zM64 47h1v1h-1zM73 47h1v1h-1zM78 47h1v1h-1zM107 47h1v1h-1zM67 48h1v1h-1zM79 48h1v1h-1zM67 49h1v1h-1zM93 49h1v1h-1z"/>
<path fill="#515225" d="M124 0h1v1h-1zM135 0h2v1h-2zM157 0h1v1h-1zM120 1h1v1h-1zM126 1h1v1h-1zM135 1h1v1h-1zM226 1h1v1h-1zM229 1h1v1h-1zM305 1h1v1h-1zM133 2h1v1h-1zM138 2h1v1h-1zM144 2h1v1h-1zM158 2h1v1h-1zM143 3h1v1h-1zM156 3h1v1h-1zM227 3h1v1h-1zM277 3h2v1h-2zM282 3h1v1h-1zM127 4h1v1h-1zM145 4h1v1h-1zM149 4h1v1h-1zM158 4h1v1h-1zM172 5h1v1h-1zM185 5h2v1h-2zM132 6h1v1h-1zM144 6h2v1h-2zM149 6h1v1h-1zM125 7h1v1h-1zM165 7h1v1h-1zM177 7h1v1h-1zM187 7h1v1h-1zM243 7h1v1h-1zM123 8h1v1h-1zM131 8h1v1h-1zM140 8h1v1h-1zM154 8h1v1h-1zM187 8h1v1h-1zM258 8h1v1h-1zM117 9h1v1h-1zM136 9h1v1h-1zM179 9h1v1h-1zM183 9h1v1h-1zM133 10h1v1h-1zM143 10h1v1h-1zM145 10h1v1h-1zM190 10h1v1h-1zM118 11h1v1h-1zM156 11h1v1h-1zM158 11h1v1h-1zM164 11h1v1h-1zM178 11h1v1h-1zM183 11h1v1h-1zM129 12h1v1h-1zM134 12h1v1h-1zM151 12h1v1h-1zM173 12h1v1h-1zM183 12h1v1h-1zM135 13h1v1h-1zM138 13h1v1h-1zM179 13h1v1h-1zM124 14h1v1h-1zM135 14h1v1h-1zM139 14h1v1h-1zM168 14h1v1h-1zM186 14h2v1h-2zM132 15h1v1h-1zM134 15h1v1h-1zM154 16h1v1h-1zM179 16h1v1h-1zM278 18h1v1h-1zM122 19h1v1h-1zM306 19h1v1h-1zM158 20h1v1h-1zM278 21h1v1h-1zM296 22h1v1h-1zM149 23h1v1h-1zM177 23h1v1h-1zM278 23h1v1h-1zM313 23h1v1h-1zM179 24h1v1h-1zM182 24h1v1h-1zM203 24h1v1h-1zM275 24h1v1h-1zM157 25h1v1h-1zM165 25h1v1h-1zM275 25h1v1h-1zM283 25h1v1h-1zM60 27h2v1h-2zM70 27h1v1h-1zM78 27h1v1h-1zM86 27h1v1h-1zM90 27h1v1h-1zM95 27h1v1h-1zM116 27h1v1h-1zM192 27h1v1h-1zM235 27h1v1h-1zM285 27h1v1h-1zM70 29h1v1h-1zM113 30h1v1h-1zM103 31h1v1h-1zM208 31h1v1h-1zM216 31h1v1h-1zM74 32h1v1h-1zM61 33h1v1h-1zM69 33h1v1h-1zM100 33h1v1h-1zM102 33h1v1h-1zM204 33h1v1h-1zM213 33h1v1h-1zM62 34h1v1h-1zM70 34h1v1h-1zM92 34h1v1h-1zM110 34h1v1h-1zM114 34h1v1h-1zM213 34h1v1h-1zM68 35h1v1h-1zM116 35h1v1h-1zM183 35h1v1h-1zM210 35h1v1h-1zM219 36h1v1h-1zM183 37h1v1h-1zM194 37h1v1h-1zM70 38h1v1h-1zM292 39h1v1h-1zM204 40h2v1h-2zM69 41h1v1h-1zM103 41h1v1h-1zM107 41h1v1h-1zM109 41h1v1h-1zM212 42h1v1h-1zM218 42h1v1h-1zM95 44h1v1h-1zM100 44h1v1h-1zM108 44h1v1h-1zM111 44h1v1h-1zM214 44h1v1h-1zM62 45h1v1h-1zM72 45h1v1h-1zM91 45h1v1h-1zM197 45h1v1h-1zM281 45h1v1h-1zM198 46h1v1h-1zM71 47h1v1h-1zM74 47h1v1h-1zM76 47h1v1h-1zM80 47h1v1h-1zM85 47h1v1h-1zM90 47h1v1h-1zM96 47h2v1h-2zM101 47h1v1h-1zM106 47h1v1h-1zM211 47h1v1h-1zM68 48h1v1h-1zM80 48h1v1h-1zM82 48h1v1h-1zM93 48h1v1h-1zM95 48h1v1h-1zM86 49h1v1h-1zM97 49h1v1h-1zM107 49h2v1h-2zM203 49h1v1h-1zM210 49h1v1h-1z"/>
<path fill="#4B4B24" d="M91 0h1v1h-1zM126 0h1v1h-1zM137 0h1v1h-1zM149 0h1v1h-1zM156 0h1v1h-1zM243 0h1v1h-1zM305 0h1v1h-1zM124 1h2v1h-2zM132 1h1v1h-1zM137 1h1v1h-1zM157 1h1v1h-1zM230 1h1v1h-1zM234 1h1v1h-1zM129 2h1v1h-1zM139 2h1v1h-1zM145 2h2v1h-2zM168 2h1v1h-1zM231 2h1v1h-1zM278 2h1v1h-1zM281 2h1v1h-1zM306 2h1v1h-1zM117 3h1v1h-1zM126 3h1v1h-1zM130 3h1v1h-1zM132 3h2v1h-2zM159 3h1v1h-1zM228 3h2v1h-2zM242 3h1v1h-1zM283 3h1v1h-1zM301 3h1v1h-1zM303 3h1v1h-1zM126 4h1v1h-1zM146 4h1v1h-1zM154 4h1v1h-1zM279 4h1v1h-1zM117 5h1v1h-1zM130 5h1v1h-1zM133 5h1v1h-1zM145 5h1v1h-1zM243 5h1v1h-1zM122 6h1v1h-1zM140 6h2v1h-2zM147 6h1v1h-1zM150 6h2v1h-2zM163 6h1v1h-1zM284 6h1v1h-1zM126 7h1v1h-1zM132 7h1v1h-1zM136 7h1v1h-1zM160 7h1v1h-1zM171 7h2v1h-2zM67 8h1v1h-1zM128 8h1v1h-1zM164 8h1v1h-1zM167 8h1v1h-1zM254 8h1v1h-1zM138 9h2v1h-2zM157 9h1v1h-1zM161 9h1v1h-1zM167 9h1v1h-1zM175 9h1v1h-1zM177 9h1v1h-1zM181 9h1v1h-1zM191 9h1v1h-1zM120 10h1v1h-1zM129 10h1v1h-1zM147 10h1v1h-1zM158 10h1v1h-1zM168 10h1v1h-1zM95 11h1v1h-1zM123 11h1v1h-1zM125 11h1v1h-1zM130 11h1v1h-1zM136 11h1v1h-1zM139 11h1v1h-1zM133 12h1v1h-1zM136 12h1v1h-1zM139 12h1v1h-1zM144 12h1v1h-1zM155 12h1v1h-1zM168 12h1v1h-1zM175 12h1v1h-1zM177 12h1v1h-1zM188 12h1v1h-1zM258 12h1v1h-1zM272 12h1v1h-1zM117 13h1v1h-1zM120 14h1v1h-1zM132 14h1v1h-1zM137 14h1v1h-1zM155 14h1v1h-1zM157 14h1v1h-1zM163 14h1v1h-1zM172 14h1v1h-1zM175 14h1v1h-1zM190 14h1v1h-1zM120 15h1v1h-1zM123 15h1v1h-1zM131 15h1v1h-1zM258 15h1v1h-1zM157 16h1v1h-1zM190 16h1v1h-1zM280 17h1v1h-1zM214 18h1v1h-1zM226 18h1v1h-1zM275 18h1v1h-1zM311 18h1v1h-1zM147 19h1v1h-1zM279 19h1v1h-1zM311 19h1v1h-1zM157 21h1v1h-1zM185 21h1v1h-1zM150 22h1v1h-1zM157 23h1v1h-1zM162 23h1v1h-1zM158 24h2v1h-2zM161 24h1v1h-1zM165 24h1v1h-1zM278 24h1v1h-1zM313 24h1v1h-1zM163 25h1v1h-1zM166 25h1v1h-1zM170 25h2v1h-2zM173 25h1v1h-1zM179 25h1v1h-1zM283 26h1v1h-1zM292 26h2v1h-2zM77 27h1v1h-1zM126 27h1v1h-1zM211 27h1v1h-1zM65 29h1v1h-1zM99 29h3v1h-3zM119 29h1v1h-1zM134 29h1v1h-1zM211 29h1v1h-1zM229 30h1v1h-1zM241 30h2v1h-2zM280 30h1v1h-1zM199 31h2v1h-2zM202 31h1v1h-1zM215 31h1v1h-1zM218 31h1v1h-1zM65 32h1v1h-1zM99 33h1v1h-1zM101 33h1v1h-1zM113 33h1v1h-1zM209 33h1v1h-1zM65 34h1v1h-1zM199 34h1v1h-1zM204 34h1v1h-1zM217 34h1v1h-1zM65 35h1v1h-1zM67 35h1v1h-1zM69 35h1v1h-1zM89 35h1v1h-1zM103 35h1v1h-1zM113 35h1v1h-1zM203 35h1v1h-1zM286 35h1v1h-1zM65 36h1v1h-1zM103 36h1v1h-1zM167 36h1v1h-1zM208 36h1v1h-1zM216 36h1v1h-1zM220 36h1v1h-1zM281 36h1v1h-1zM74 37h1v1h-1zM77 37h1v1h-1zM91 37h1v1h-1zM103 37h1v1h-1zM116 37h1v1h-1zM196 37h1v1h-1zM198 37h1v1h-1zM215 37h1v1h-1zM220 37h1v1h-1zM74 38h1v1h-1zM113 38h1v1h-1zM115 38h1v1h-1zM199 38h1v1h-1zM89 39h1v1h-1zM104 39h1v1h-1zM197 39h2v1h-2zM212 39h1v1h-1zM281 39h1v1h-1zM293 39h1v1h-1zM299 39h1v1h-1zM311 39h1v1h-1zM166 40h1v1h-1zM197 40h1v1h-1zM218 40h1v1h-1zM61 41h1v1h-1zM63 41h1v1h-1zM74 41h1v1h-1zM76 41h1v1h-1zM91 41h1v1h-1zM108 41h1v1h-1zM112 41h1v1h-1zM197 42h1v1h-1zM234 43h1v1h-1zM261 43h1v1h-1zM263 43h1v1h-1zM65 44h1v1h-1zM67 44h1v1h-1zM101 44h1v1h-1zM184 44h1v1h-1zM194 44h2v1h-2zM203 44h1v1h-1zM211 44h1v1h-1zM78 45h1v1h-1zM215 45h1v1h-1zM218 45h3v1h-3zM213 46h1v1h-1zM216 46h1v1h-1zM220 46h1v1h-1zM60 47h1v1h-1zM66 47h1v1h-1zM77 47h1v1h-1zM87 47h1v1h-1zM94 47h1v1h-1zM102 47h1v1h-1zM108 47h1v1h-1zM111 47h1v1h-1zM113 47h1v1h-1zM64 48h1v1h-1zM76 48h1v1h-1zM81 48h1v1h-1zM83 48h1v1h-1zM90 48h1v1h-1zM94 48h1v1h-1zM98 48h1v1h-1zM79 49h1v1h-1zM84 49h2v1h-2zM211 49h1v1h-1z"/>
<path fill="#543B7B" d="M128 9h1v1h-1zM64 17h3v1h-3zM74 17h1v1h-1zM82 17h1v1h-1zM90 17h2v1h-2zM107 17h2v1h-2zM110 17h3v1h-3zM61 18h1v1h-1zM64 18h1v1h-1zM91 18h1v1h-1zM107 18h2v1h-2zM111 18h3v1h-3zM169 18h1v1h-1zM208 18h1v1h-1zM61 19h1v1h-1zM64 19h1v1h-1zM107 19h2v1h-2zM110 19h2v1h-2zM156 19h1v1h-1zM196 19h1v1h-1zM316 19h1v1h-1zM107 20h2v1h-2zM111 20h1v1h-1zM290 20h1v1h-1zM316 20h1v1h-1zM61 21h1v1h-1zM64 21h1v1h-1zM107 21h2v1h-2zM110 21h2v1h-2zM64 22h1v1h-1zM92 22h1v1h-1zM107 22h2v1h-2zM111 22h3v1h-3zM169 22h1v1h-1zM316 22h1v1h-1zM66 23h1v1h-1zM107 23h2v1h-2zM111 23h1v1h-1zM107 24h2v1h-2zM111 24h2v1h-2zM64 25h1v1h-1zM66 25h1v1h-1zM97 25h1v1h-1zM107 25h2v1h-2zM111 25h2v1h-2zM285 25h1v1h-1zM288 25h1v1h-1zM316 26h1v1h-1zM300 27h2v1h-2zM316 27h1v1h-1zM268 28h1v1h-1zM125 30h1v1h-1zM130 30h1v1h-1zM142 30h1v1h-1zM199 30h1v1h-1zM205 30h1v1h-1zM208 30h1v1h-1zM212 30h1v1h-1zM128 31h1v1h-1zM142 31h1v1h-1zM150 31h1v1h-1zM173 31h1v1h-1zM178 31h1v1h-1zM190 31h2v1h-2zM268 31h1v1h-1zM300 31h2v1h-2zM173 32h1v1h-1zM190 32h2v1h-2zM226 32h1v1h-1zM296 32h1v1h-1zM300 32h1v1h-1zM142 33h1v1h-1zM147 33h1v1h-1zM278 33h1v1h-1zM191 34h1v1h-1zM243 35h2v1h-2zM301 35h2v1h-2zM173 36h1v1h-1zM142 37h1v1h-1zM223 37h2v1h-2zM268 37h1v1h-1zM300 37h3v1h-3zM173 38h1v1h-1zM223 38h1v1h-1zM300 38h2v1h-2zM142 39h1v1h-1zM171 39h1v1h-1zM173 39h1v1h-1zM178 39h1v1h-1zM188 39h1v1h-1zM190 39h2v1h-2zM171 40h1v1h-1zM300 40h1v1h-1zM142 41h1v1h-1zM190 41h2v1h-2zM223 41h1v1h-1zM226 41h1v1h-1zM237 41h1v1h-1zM243 41h1v1h-1zM268 41h1v1h-1zM301 41h1v1h-1zM268 42h1v1h-1zM301 42h1v1h-1zM125 43h1v1h-1zM142 43h1v1h-1zM178 43h1v1h-1zM191 43h1v1h-1zM268 43h1v1h-1zM300 43h1v1h-1zM313 43h1v1h-1zM316 43h1v1h-1zM117 44h1v1h-1zM125 44h1v1h-1zM142 44h1v1h-1zM154 44h1v1h-1zM229 44h1v1h-1zM268 44h1v1h-1zM301 44h1v1h-1zM125 45h1v1h-1zM141 45h2v1h-2zM156 45h1v1h-1zM161 45h1v1h-1zM173 45h1v1h-1zM175 45h1v1h-1zM178 45h1v1h-1zM190 45h2v1h-2zM223 45h1v1h-1zM229 45h1v1h-1zM231 45h2v1h-2zM243 45h1v1h-1zM268 45h1v1h-1zM302 45h1v1h-1zM316 45h1v1h-1zM178 46h1v1h-1zM190 46h2v1h-2zM226 46h1v1h-1zM229 46h2v1h-2zM232 46h1v1h-1zM242 46h2v1h-2zM300 46h3v1h-3zM223 47h4v1h-4zM229 47h4v1h-4zM236 47h2v1h-2zM239 47h1v1h-1zM242 47h4v1h-4zM300 47h3v1h-3zM118 48h1v1h-1zM122 48h1v1h-1zM125 48h1v1h-1zM130 48h1v1h-1zM141 48h2v1h-2zM146 48h2v1h-2zM153 48h2v1h-2zM173 48h2v1h-2zM178 48h1v1h-1zM190 48h1v1h-1zM229 48h1v1h-1zM316 48h1v1h-1zM130 49h1v1h-1zM154 49h1v1h-1zM160 49h1v1h-1zM171 49h1v1h-1zM190 49h2v1h-2zM268 49h1v1h-1zM300 49h1v1h-1zM316 49h1v1h-1z"/>
<path fill="#483761" d="M119 0h1v1h-1zM159 0h1v1h-1zM128 6h1v1h-1zM147 11h1v1h-1zM270 11h1v1h-1zM270 12h1v1h-1zM119 13h1v1h-1zM147 13h1v1h-1zM128 15h1v1h-1zM147 15h1v1h-1zM156 17h1v1h-1zM169 17h1v1h-1zM285 17h1v1h-1zM299 17h1v1h-1zM156 18h1v1h-1zM175 18h1v1h-1zM222 18h1v1h-1zM285 18h1v1h-1zM154 19h1v1h-1zM175 19h1v1h-1zM222 19h1v1h-1zM268 19h1v1h-1zM61 20h1v1h-1zM92 20h1v1h-1zM94 20h1v1h-1zM110 20h1v1h-1zM115 20h1v1h-1zM154 20h1v1h-1zM156 20h1v1h-1zM285 20h1v1h-1zM310 20h1v1h-1zM105 21h1v1h-1zM115 21h1v1h-1zM222 21h1v1h-1zM270 21h1v1h-1zM94 22h1v1h-1zM110 22h1v1h-1zM156 22h1v1h-1zM272 22h1v1h-1zM105 23h1v1h-1zM110 23h1v1h-1zM156 23h1v1h-1zM213 23h1v1h-1zM222 23h1v1h-1zM268 23h1v1h-1zM285 23h1v1h-1zM92 24h1v1h-1zM94 24h1v1h-1zM156 24h1v1h-1zM169 24h1v1h-1zM105 25h1v1h-1zM285 26h1v1h-1zM226 29h1v1h-1zM117 30h1v1h-1zM204 30h1v1h-1zM117 31h1v1h-1zM133 31h1v1h-1zM154 31h1v1h-1zM156 31h1v1h-1zM223 31h1v1h-1zM283 31h1v1h-1zM117 32h1v1h-1zM110 33h1v1h-1zM117 33h1v1h-1zM154 33h1v1h-1zM156 33h1v1h-1zM178 33h1v1h-1zM191 33h1v1h-1zM212 33h1v1h-1zM280 33h1v1h-1zM300 33h1v1h-1zM117 34h1v1h-1zM130 34h1v1h-1zM133 34h1v1h-1zM165 34h1v1h-1zM223 34h1v1h-1zM110 35h1v1h-1zM154 36h1v1h-1zM191 36h1v1h-1zM283 36h1v1h-1zM130 37h1v1h-1zM133 37h1v1h-1zM191 37h1v1h-1zM118 38h1v1h-1zM150 38h1v1h-1zM191 38h1v1h-1zM283 38h1v1h-1zM125 39h1v1h-1zM150 39h1v1h-1zM185 39h1v1h-1zM237 39h1v1h-1zM283 39h1v1h-1zM118 40h1v1h-1zM150 40h1v1h-1zM152 40h1v1h-1zM154 40h1v1h-1zM191 40h1v1h-1zM208 40h1v1h-1zM254 40h1v1h-1zM280 40h1v1h-1zM89 41h1v1h-1zM125 41h1v1h-1zM154 41h1v1h-1zM182 41h1v1h-1zM300 41h1v1h-1zM117 42h1v1h-1zM150 42h1v1h-1zM191 42h1v1h-1zM117 43h1v1h-1zM150 43h1v1h-1zM154 43h1v1h-1zM223 43h1v1h-1zM278 43h1v1h-1zM156 44h1v1h-1zM182 44h1v1h-1zM191 44h1v1h-1zM205 44h1v1h-1zM293 44h1v1h-1zM295 44h1v1h-1zM154 45h1v1h-1zM118 46h1v1h-1zM125 46h1v1h-1zM154 46h1v1h-1zM223 46h1v1h-1zM92 47h1v1h-1zM125 47h1v1h-1zM154 47h1v1h-1zM191 47h1v1h-1zM291 47h1v1h-1zM150 48h1v1h-1zM191 48h1v1h-1zM280 48h1v1h-1zM150 49h1v1h-1zM156 49h1v1h-1zM182 49h1v1h-1zM205 49h1v1h-1z"/>
<path fill="#444328" d="M122 0h2v1h-2zM127 0h1v1h-1zM140 0h1v1h-1zM279 0h1v1h-1zM127 1h1v1h-1zM143 1h1v1h-1zM150 1h1v1h-1zM152 1h1v1h-1zM192 1h1v1h-1zM228 1h1v1h-1zM232 1h1v1h-1zM239 1h1v1h-1zM118 2h1v1h-1zM157 2h1v1h-1zM163 2h1v1h-1zM276 2h1v1h-1zM307 2h1v1h-1zM121 3h1v1h-1zM127 3h1v1h-1zM131 3h1v1h-1zM136 3h1v1h-1zM145 3h1v1h-1zM157 3h1v1h-1zM225 3h1v1h-1zM230 3h1v1h-1zM254 3h1v1h-1zM258 3h1v1h-1zM280 3h2v1h-2zM305 3h1v1h-1zM95 4h1v1h-1zM123 4h1v1h-1zM130 4h1v1h-1zM135 4h1v1h-1zM144 4h1v1h-1zM159 4h1v1h-1zM164 4h1v1h-1zM192 4h1v1h-1zM243 4h1v1h-1zM124 5h1v1h-1zM127 5h1v1h-1zM131 5h1v1h-1zM148 5h1v1h-1zM157 5h2v1h-2zM164 5h1v1h-1zM179 5h1v1h-1zM258 5h1v1h-1zM95 6h1v1h-1zM121 6h1v1h-1zM131 6h1v1h-1zM153 6h1v1h-1zM123 7h1v1h-1zM135 7h1v1h-1zM150 7h1v1h-1zM154 7h1v1h-1zM186 7h1v1h-1zM118 8h1v1h-1zM121 8h1v1h-1zM142 8h1v1h-1zM153 8h1v1h-1zM131 9h3v1h-3zM153 9h1v1h-1zM155 9h1v1h-1zM104 10h1v1h-1zM118 10h1v1h-1zM136 10h2v1h-2zM151 10h1v1h-1zM194 10h1v1h-1zM134 11h1v1h-1zM141 12h1v1h-1zM143 12h1v1h-1zM153 12h1v1h-1zM158 12h1v1h-1zM160 12h1v1h-1zM187 12h1v1h-1zM190 12h2v1h-2zM265 12h1v1h-1zM129 13h2v1h-2zM145 13h1v1h-1zM149 13h1v1h-1zM258 13h1v1h-1zM274 13h1v1h-1zM113 14h1v1h-1zM125 14h2v1h-2zM145 14h1v1h-1zM156 14h1v1h-1zM171 14h1v1h-1zM176 14h1v1h-1zM279 14h1v1h-1zM118 15h1v1h-1zM136 15h1v1h-1zM154 15h1v1h-1zM279 15h1v1h-1zM131 17h1v1h-1zM164 17h1v1h-1zM307 17h1v1h-1zM137 18h1v1h-1zM158 18h1v1h-1zM150 19h1v1h-1zM178 19h1v1h-1zM305 19h1v1h-1zM315 20h1v1h-1zM116 21h1v1h-1zM131 21h1v1h-1zM137 21h1v1h-1zM164 21h1v1h-1zM131 22h1v1h-1zM147 22h1v1h-1zM215 22h1v1h-1zM282 22h1v1h-1zM84 23h1v1h-1zM155 23h1v1h-1zM164 23h2v1h-2zM246 23h1v1h-1zM162 24h2v1h-2zM184 24h1v1h-1zM279 24h1v1h-1zM116 25h1v1h-1zM137 25h1v1h-1zM167 25h1v1h-1zM313 25h1v1h-1zM60 26h1v1h-1zM84 26h1v1h-1zM192 26h1v1h-1zM282 26h1v1h-1zM99 27h1v1h-1zM102 27h1v1h-1zM65 28h1v1h-1zM92 28h1v1h-1zM110 28h1v1h-1zM115 28h1v1h-1zM126 28h1v1h-1zM282 28h1v1h-1zM93 29h1v1h-1zM127 30h1v1h-1zM230 30h2v1h-2zM237 30h1v1h-1zM283 30h2v1h-2zM197 31h1v1h-1zM207 31h1v1h-1zM110 32h1v1h-1zM205 32h1v1h-1zM227 32h1v1h-1zM238 32h1v1h-1zM274 32h1v1h-1zM284 32h1v1h-1zM64 33h2v1h-2zM78 33h1v1h-1zM202 33h1v1h-1zM216 33h2v1h-2zM222 33h1v1h-1zM114 35h1v1h-1zM184 35h1v1h-1zM193 35h1v1h-1zM211 35h1v1h-1zM201 36h1v1h-1zM217 36h1v1h-1zM222 36h1v1h-1zM92 37h1v1h-1zM151 37h1v1h-1zM195 37h1v1h-1zM205 37h1v1h-1zM209 37h1v1h-1zM89 38h1v1h-1zM163 38h1v1h-1zM201 39h1v1h-1zM213 39h1v1h-1zM234 39h1v1h-1zM295 39h1v1h-1zM313 39h1v1h-1zM89 40h1v1h-1zM60 41h1v1h-1zM64 41h1v1h-1zM98 41h1v1h-1zM104 41h1v1h-1zM287 41h1v1h-1zM240 42h1v1h-1zM126 43h1v1h-1zM235 43h1v1h-1zM251 43h1v1h-1zM253 43h1v1h-1zM262 43h1v1h-1zM274 43h1v1h-1zM282 43h1v1h-1zM74 44h1v1h-1zM110 44h1v1h-1zM196 44h1v1h-1zM216 44h1v1h-1zM221 44h1v1h-1zM61 45h1v1h-1zM89 45h1v1h-1zM183 45h1v1h-1zM202 45h1v1h-1zM209 45h1v1h-1zM221 45h1v1h-1zM286 45h1v1h-1zM201 46h1v1h-1zM284 46h1v1h-1zM79 47h1v1h-1zM93 47h1v1h-1zM95 47h1v1h-1zM100 47h1v1h-1zM109 47h1v1h-1zM168 47h1v1h-1zM183 47h1v1h-1zM193 47h1v1h-1zM69 48h1v1h-1zM78 48h1v1h-1zM84 48h2v1h-2zM107 48h1v1h-1zM109 48h1v1h-1zM112 48h1v1h-1zM211 48h1v1h-1zM285 48h1v1h-1zM63 49h1v1h-1zM69 49h1v1h-1zM77 49h1v1h-1zM80 49h1v1h-1zM94 49h1v1h-1zM193 49h1v1h-1z"/>
<path fill="#403D2D" d="M118 0h1v1h-1zM120 0h1v1h-1zM146 0h1v1h-1zM153 0h1v1h-1zM163 0h1v1h-1zM153 1h1v1h-1zM244 1h1v1h-1zM153 3h1v1h-1zM244 3h1v1h-1zM129 6h1v1h-1zM159 6h1v1h-1zM120 9h1v1h-1zM129 9h1v1h-1zM127 10h1v1h-1zM71 12h1v1h-1zM147 12h1v1h-1zM146 13h1v1h-1zM151 15h1v1h-1zM116 17h1v1h-1zM170 17h1v1h-1zM252 17h1v1h-1zM269 17h1v1h-1zM278 17h1v1h-1zM109 18h1v1h-1zM258 18h1v1h-1zM131 19h1v1h-1zM157 19h1v1h-1zM192 19h1v1h-1zM205 19h1v1h-1zM258 19h1v1h-1zM83 20h1v1h-1zM164 20h1v1h-1zM220 20h1v1h-1zM155 21h1v1h-1zM157 22h2v1h-2zM170 22h1v1h-1zM192 22h1v1h-1zM116 23h1v1h-1zM215 23h1v1h-1zM271 23h1v1h-1zM300 23h1v1h-1zM315 23h1v1h-1zM85 24h1v1h-1zM116 24h1v1h-1zM168 24h1v1h-1zM215 24h1v1h-1zM220 24h1v1h-1zM252 24h1v1h-1zM263 24h1v1h-1zM286 24h1v1h-1zM72 25h1v1h-1zM106 26h1v1h-1zM269 26h1v1h-1zM311 26h1v1h-1zM92 27h1v1h-1zM113 28h1v1h-1zM238 28h1v1h-1zM240 28h1v1h-1zM227 29h1v1h-1zM261 29h1v1h-1zM286 29h2v1h-2zM89 30h1v1h-1zM92 30h1v1h-1zM151 30h1v1h-1zM223 30h1v1h-1zM115 31h1v1h-1zM183 31h1v1h-1zM240 31h1v1h-1zM284 31h1v1h-1zM299 31h1v1h-1zM89 32h1v1h-1zM113 32h1v1h-1zM208 32h1v1h-1zM299 32h1v1h-1zM89 33h1v1h-1zM92 33h1v1h-1zM186 33h1v1h-1zM310 33h1v1h-1zM129 34h1v1h-1zM294 34h1v1h-1zM294 35h1v1h-1zM212 36h1v1h-1zM315 36h1v1h-1zM110 37h1v1h-1zM222 37h1v1h-1zM155 38h1v1h-1zM177 38h1v1h-1zM183 38h2v1h-2zM284 38h1v1h-1zM287 38h1v1h-1zM110 39h1v1h-1zM184 39h1v1h-1zM284 39h1v1h-1zM115 40h1v1h-1zM129 40h1v1h-1zM66 41h1v1h-1zM168 41h1v1h-1zM199 41h1v1h-1zM240 41h1v1h-1zM284 41h1v1h-1zM312 41h1v1h-1zM238 42h1v1h-1zM284 42h1v1h-1zM92 43h1v1h-1zM119 43h1v1h-1zM177 43h1v1h-1zM201 43h1v1h-1zM212 43h1v1h-1zM126 44h1v1h-1zM235 44h1v1h-1zM238 44h1v1h-1zM222 45h1v1h-1zM274 45h1v1h-1zM282 45h1v1h-1zM129 46h1v1h-1zM310 46h1v1h-1zM149 47h1v1h-1zM253 47h1v1h-1zM119 48h1v1h-1zM127 48h1v1h-1zM151 48h1v1h-1zM279 48h1v1h-1zM294 48h1v1h-1zM91 49h1v1h-1zM112 49h1v1h-1zM204 49h1v1h-1zM206 49h1v1h-1zM227 49h1v1h-1zM238 49h1v1h-1zM294 49h1v1h-1zM315 49h1v1h-1z"/>
<path fill="#473172" d="M61 17h2v1h-2zM75 17h1v1h-1zM78 17h1v1h-1zM89 17h1v1h-1zM94 17h1v1h-1zM105 17h1v1h-1zM113 17h1v1h-1zM65 18h1v1h-1zM82 18h1v1h-1zM110 18h1v1h-1zM168 18h1v1h-1zM173 18h1v1h-1zM189 18h1v1h-1zM207 18h1v1h-1zM211 18h1v1h-1zM217 18h1v1h-1zM221 18h1v1h-1zM290 18h1v1h-1zM71 19h1v1h-1zM77 19h2v1h-2zM91 19h1v1h-1zM99 19h1v1h-1zM188 19h1v1h-1zM112 20h2v1h-2zM169 20h1v1h-1zM62 21h1v1h-1zM88 21h4v1h-4zM221 21h1v1h-1zM61 22h1v1h-1zM65 22h4v1h-4zM78 22h1v1h-1zM99 22h1v1h-1zM167 22h2v1h-2zM174 22h1v1h-1zM288 22h1v1h-1zM64 23h2v1h-2zM67 23h2v1h-2zM78 23h1v1h-1zM91 23h1v1h-1zM112 23h1v1h-1zM217 23h1v1h-1zM288 23h1v1h-1zM290 23h1v1h-1zM64 24h1v1h-1zM91 24h1v1h-1zM105 24h1v1h-1zM110 24h1v1h-1zM288 24h1v1h-1zM290 24h1v1h-1zM304 24h1v1h-1zM61 25h1v1h-1zM65 25h1v1h-1zM77 25h1v1h-1zM82 25h1v1h-1zM88 25h1v1h-1zM90 25h2v1h-2zM96 25h1v1h-1zM110 25h1v1h-1zM217 25h1v1h-1zM289 25h2v1h-2zM273 26h1v1h-1zM290 26h1v1h-1zM295 27h2v1h-2zM243 29h1v1h-1zM268 29h1v1h-1zM278 29h1v1h-1zM295 29h1v1h-1zM300 29h3v1h-3zM131 30h1v1h-1zM213 30h1v1h-1zM316 30h1v1h-1zM130 31h1v1h-1zM147 31h1v1h-1zM171 31h1v1h-1zM175 31h1v1h-1zM180 31h2v1h-2zM188 31h1v1h-1zM118 32h1v1h-1zM125 32h1v1h-1zM130 32h1v1h-1zM142 32h1v1h-1zM146 32h2v1h-2zM153 32h1v1h-1zM160 32h1v1h-1zM171 32h2v1h-2zM174 32h3v1h-3zM178 32h1v1h-1zM243 32h1v1h-1zM295 32h1v1h-1zM297 32h1v1h-1zM313 32h2v1h-2zM316 32h1v1h-1zM122 33h1v1h-1zM125 33h1v1h-1zM130 33h1v1h-1zM268 33h1v1h-1zM277 33h1v1h-1zM283 33h1v1h-1zM290 33h1v1h-1zM301 33h1v1h-1zM142 34h1v1h-1zM147 34h1v1h-1zM173 34h2v1h-2zM178 34h1v1h-1zM190 34h1v1h-1zM229 34h1v1h-1zM301 34h1v1h-1zM314 34h1v1h-1zM142 35h1v1h-1zM147 35h1v1h-1zM173 35h1v1h-1zM178 35h1v1h-1zM223 35h1v1h-1zM229 35h1v1h-1zM232 35h1v1h-1zM237 35h1v1h-1zM245 35h1v1h-1zM268 35h1v1h-1zM300 35h1v1h-1zM303 35h1v1h-1zM314 35h1v1h-1zM316 35h1v1h-1zM290 36h1v1h-1zM300 36h1v1h-1zM178 37h1v1h-1zM226 37h1v1h-1zM237 37h1v1h-1zM243 37h2v1h-2zM295 37h3v1h-3zM160 38h1v1h-1zM170 38h2v1h-2zM190 38h1v1h-1zM224 38h1v1h-1zM226 38h1v1h-1zM229 38h2v1h-2zM232 38h1v1h-1zM237 38h1v1h-1zM296 38h1v1h-1zM298 38h1v1h-1zM316 38h1v1h-1zM160 39h2v1h-2zM164 39h1v1h-1zM172 39h1v1h-1zM174 39h2v1h-2zM226 39h1v1h-1zM268 39h1v1h-1zM316 39h1v1h-1zM130 40h1v1h-1zM142 40h1v1h-1zM160 40h1v1h-1zM243 40h1v1h-1zM268 40h1v1h-1zM301 40h1v1h-1zM137 41h1v1h-1zM146 41h2v1h-2zM174 41h2v1h-2zM178 41h1v1h-1zM229 41h3v1h-3zM244 41h1v1h-1zM314 41h1v1h-1zM142 42h1v1h-1zM145 42h2v1h-2zM190 42h1v1h-1zM243 42h1v1h-1zM295 42h1v1h-1zM121 43h2v1h-2zM141 43h1v1h-1zM143 43h1v1h-1zM146 43h2v1h-2zM171 43h1v1h-1zM175 43h1v1h-1zM190 43h1v1h-1zM229 43h1v1h-1zM243 43h1v1h-1zM314 43h1v1h-1zM118 44h1v1h-1zM130 44h1v1h-1zM141 44h1v1h-1zM146 44h2v1h-2zM150 44h1v1h-1zM230 44h1v1h-1zM242 44h3v1h-3zM300 44h1v1h-1zM302 44h1v1h-1zM146 45h2v1h-2zM157 45h1v1h-1zM160 45h1v1h-1zM169 45h3v1h-3zM176 45h1v1h-1zM224 45h1v1h-1zM226 45h1v1h-1zM230 45h1v1h-1zM237 45h1v1h-1zM244 45h2v1h-2zM305 45h1v1h-1zM142 46h1v1h-1zM146 46h1v1h-1zM161 46h1v1h-1zM173 46h3v1h-3zM231 46h1v1h-1zM237 46h1v1h-1zM241 46h1v1h-1zM244 46h1v1h-1zM297 46h2v1h-2zM305 46h1v1h-1zM316 46h1v1h-1zM130 47h1v1h-1zM173 47h3v1h-3zM178 47h1v1h-1zM190 47h1v1h-1zM228 47h1v1h-1zM238 47h1v1h-1zM305 47h1v1h-1zM313 47h1v1h-1zM123 48h1v1h-1zM136 48h2v1h-2zM175 48h1v1h-1zM232 48h1v1h-1zM236 48h2v1h-2zM242 48h2v1h-2zM268 48h1v1h-1zM295 48h1v1h-1zM300 48h1v1h-1zM142 49h1v1h-1zM146 49h1v1h-1zM165 49h1v1h-1zM173 49h1v1h-1zM175 49h1v1h-1zM178 49h1v1h-1zM187 49h2v1h-2zM229 49h1v1h-1zM269 49h1v1h-1zM290 49h1v1h-1zM297 49h1v1h-1zM301 49h1v1h-1z"/>
<path fill="#433163" d="M245 3h1v1h-1zM128 11h1v1h-1zM266 11h1v1h-1zM253 17h1v1h-1zM262 17h1v1h-1zM96 18h1v1h-1zM105 18h1v1h-1zM159 18h1v1h-1zM210 18h1v1h-1zM213 18h1v1h-1zM259 18h1v1h-1zM268 18h1v1h-1zM206 19h1v1h-1zM221 19h1v1h-1zM165 20h1v1h-1zM92 21h1v1h-1zM262 21h1v1h-1zM268 21h1v1h-1zM115 22h1v1h-1zM291 23h1v1h-1zM115 24h1v1h-1zM219 24h1v1h-1zM309 24h1v1h-1zM71 25h1v1h-1zM73 25h1v1h-1zM268 26h1v1h-1zM309 26h1v1h-1zM237 27h1v1h-1zM288 29h1v1h-1zM311 29h1v1h-1zM150 30h1v1h-1zM152 30h1v1h-1zM197 30h1v1h-1zM207 30h1v1h-1zM222 30h1v1h-1zM300 30h1v1h-1zM164 31h1v1h-1zM182 31h1v1h-1zM185 31h1v1h-1zM133 32h1v1h-1zM232 32h1v1h-1zM150 33h1v1h-1zM185 33h1v1h-1zM223 33h1v1h-1zM154 34h1v1h-1zM199 35h1v1h-1zM223 36h1v1h-1zM150 37h1v1h-1zM154 37h1v1h-1zM156 38h1v1h-1zM278 38h1v1h-1zM130 39h1v1h-1zM154 39h1v1h-1zM125 40h1v1h-1zM237 40h1v1h-1zM232 41h1v1h-1zM278 41h1v1h-1zM283 41h1v1h-1zM313 41h1v1h-1zM300 42h1v1h-1zM118 43h1v1h-1zM176 43h1v1h-1zM187 43h1v1h-1zM236 43h1v1h-1zM298 43h1v1h-1zM311 43h1v1h-1zM236 44h1v1h-1zM239 44h1v1h-1zM241 44h1v1h-1zM164 45h1v1h-1zM182 45h1v1h-1zM241 45h1v1h-1zM283 45h1v1h-1zM293 45h1v1h-1zM130 46h1v1h-1zM176 46h1v1h-1zM185 46h1v1h-1zM176 47h1v1h-1zM185 47h1v1h-1zM254 47h1v1h-1zM314 48h1v1h-1zM125 49h1v1h-1zM237 49h1v1h-1zM288 49h1v1h-1zM293 49h1v1h-1zM295 49h1v1h-1zM314 49h1v1h-1z"/>
<path fill="#412D69" d="M63 17h1v1h-1zM67 17h1v1h-1zM70 17h1v1h-1zM88 17h1v1h-1zM92 17h1v1h-1zM95 17h1v1h-1zM97 17h1v1h-1zM174 17h1v1h-1zM272 17h1v1h-1zM290 17h1v1h-1zM62 18h1v1h-1zM68 18h1v1h-1zM71 18h1v1h-1zM77 18h2v1h-2zM88 18h3v1h-3zM115 18h1v1h-1zM172 18h1v1h-1zM188 18h1v1h-1zM196 18h1v1h-1zM198 18h1v1h-1zM200 18h1v1h-1zM212 18h1v1h-1zM219 18h1v1h-1zM262 18h1v1h-1zM288 18h1v1h-1zM68 19h1v1h-1zM97 19h1v1h-1zM103 19h1v1h-1zM112 19h2v1h-2zM187 19h1v1h-1zM189 19h1v1h-1zM217 19h1v1h-1zM64 20h1v1h-1zM66 20h1v1h-1zM78 20h1v1h-1zM168 20h1v1h-1zM195 20h1v1h-1zM288 20h2v1h-2zM63 21h1v1h-1zM74 21h1v1h-1zM78 21h1v1h-1zM95 21h1v1h-1zM112 21h2v1h-2zM217 21h1v1h-1zM89 22h1v1h-1zM91 22h1v1h-1zM96 22h1v1h-1zM166 22h1v1h-1zM175 22h1v1h-1zM188 22h1v1h-1zM196 22h1v1h-1zM309 22h1v1h-1zM62 23h1v1h-1zM82 23h1v1h-1zM89 23h1v1h-1zM113 23h1v1h-1zM287 23h1v1h-1zM316 23h1v1h-1zM68 24h1v1h-1zM73 24h1v1h-1zM99 24h2v1h-2zM289 24h1v1h-1zM303 24h1v1h-1zM62 25h1v1h-1zM68 25h1v1h-1zM70 25h1v1h-1zM81 25h1v1h-1zM87 25h1v1h-1zM89 25h1v1h-1zM113 25h1v1h-1zM256 25h1v1h-1zM287 25h1v1h-1zM288 26h2v1h-2zM243 27h1v1h-1zM229 28h1v1h-1zM245 28h1v1h-1zM291 28h1v1h-1zM223 29h2v1h-2zM269 29h1v1h-1zM296 29h1v1h-1zM118 30h1v1h-1zM122 30h1v1h-1zM143 30h1v1h-1zM146 30h1v1h-1zM214 30h1v1h-1zM302 30h1v1h-1zM125 31h1v1h-1zM143 31h1v1h-1zM146 31h1v1h-1zM172 31h1v1h-1zM174 31h1v1h-1zM176 31h1v1h-1zM229 31h1v1h-1zM244 31h1v1h-1zM266 31h2v1h-2zM272 31h1v1h-1zM290 31h1v1h-1zM136 32h1v1h-1zM143 32h1v1h-1zM145 32h1v1h-1zM161 32h1v1h-1zM164 32h1v1h-1zM242 32h1v1h-1zM268 32h1v1h-1zM302 32h1v1h-1zM141 33h1v1h-1zM182 33h1v1h-1zM224 33h1v1h-1zM226 33h1v1h-1zM231 33h1v1h-1zM302 33h1v1h-1zM118 34h1v1h-1zM141 34h1v1h-1zM146 34h1v1h-1zM230 34h1v1h-1zM268 34h1v1h-1zM277 34h2v1h-2zM300 34h1v1h-1zM190 35h1v1h-1zM226 35h1v1h-1zM242 35h1v1h-1zM305 35h1v1h-1zM190 36h1v1h-1zM229 36h2v1h-2zM278 36h1v1h-1zM301 36h1v1h-1zM316 36h1v1h-1zM147 37h1v1h-1zM190 37h1v1h-1zM229 37h1v1h-1zM245 37h1v1h-1zM298 37h1v1h-1zM303 37h1v1h-1zM316 37h1v1h-1zM141 38h2v1h-2zM147 38h1v1h-1zM188 38h1v1h-1zM243 38h2v1h-2zM297 38h1v1h-1zM122 39h1v1h-1zM141 39h1v1h-1zM181 39h1v1h-1zM143 40h1v1h-1zM172 40h1v1h-1zM190 40h1v1h-1zM229 40h1v1h-1zM242 40h1v1h-1zM296 40h1v1h-1zM160 41h1v1h-1zM173 41h1v1h-1zM176 41h1v1h-1zM236 41h1v1h-1zM316 41h1v1h-1zM121 42h2v1h-2zM147 42h1v1h-1zM175 42h1v1h-1zM229 42h1v1h-1zM290 42h1v1h-1zM302 42h1v1h-1zM139 43h1v1h-1zM144 43h1v1h-1zM160 43h1v1h-1zM170 43h1v1h-1zM182 43h1v1h-1zM188 43h1v1h-1zM295 43h1v1h-1zM121 44h4v1h-4zM145 44h1v1h-1zM152 44h1v1h-1zM161 44h1v1h-1zM190 44h1v1h-1zM223 44h2v1h-2zM226 44h1v1h-1zM231 44h2v1h-2zM136 45h2v1h-2zM143 45h1v1h-1zM148 45h1v1h-1zM158 45h1v1h-1zM185 45h2v1h-2zM225 45h1v1h-1zM233 45h1v1h-1zM242 45h1v1h-1zM278 45h1v1h-1zM301 45h1v1h-1zM303 45h1v1h-1zM147 46h1v1h-1zM160 46h1v1h-1zM182 46h1v1h-1zM245 46h1v1h-1zM278 46h1v1h-1zM293 46h1v1h-1zM296 46h1v1h-1zM306 46h2v1h-2zM122 47h1v1h-1zM141 47h1v1h-1zM160 47h1v1h-1zM241 47h1v1h-1zM268 47h1v1h-1zM303 47h1v1h-1zM314 47h1v1h-1zM316 47h1v1h-1zM131 48h1v1h-1zM140 48h1v1h-1zM143 48h1v1h-1zM170 48h2v1h-2zM223 48h1v1h-1zM226 48h1v1h-1zM161 49h1v1h-1zM172 49h1v1h-1zM174 49h1v1h-1zM176 49h1v1h-1zM179 49h3v1h-3zM311 49h1v1h-1z"/>
<path fill="#3F2C64" d="M101 17h1v1h-1zM167 17h1v1h-1zM189 17h1v1h-1zM73 18h2v1h-2zM92 18h1v1h-1zM102 18h1v1h-1zM187 18h1v1h-1zM249 18h1v1h-1zM289 18h1v1h-1zM90 19h1v1h-1zM101 19h1v1h-1zM169 19h1v1h-1zM186 20h1v1h-1zM309 20h1v1h-1zM65 21h1v1h-1zM68 21h1v1h-1zM77 21h1v1h-1zM94 21h1v1h-1zM288 21h1v1h-1zM62 22h1v1h-1zM77 22h1v1h-1zM88 22h1v1h-1zM97 22h1v1h-1zM189 22h1v1h-1zM289 22h1v1h-1zM71 23h1v1h-1zM96 23h1v1h-1zM65 24h1v1h-1zM74 24h1v1h-1zM78 24h1v1h-1zM97 24h1v1h-1zM113 24h1v1h-1zM218 24h1v1h-1zM78 25h1v1h-1zM92 25h1v1h-1zM195 26h1v1h-1zM217 26h1v1h-1zM272 26h1v1h-1zM297 27h1v1h-1zM302 27h1v1h-1zM313 27h2v1h-2zM223 28h1v1h-1zM236 28h1v1h-1zM278 28h1v1h-1zM290 28h1v1h-1zM300 28h1v1h-1zM313 28h2v1h-2zM254 29h1v1h-1zM266 29h1v1h-1zM272 29h1v1h-1zM145 30h1v1h-1zM147 30h1v1h-1zM170 31h1v1h-1zM226 31h1v1h-1zM243 31h1v1h-1zM302 31h1v1h-1zM122 32h1v1h-1zM139 32h1v1h-1zM154 32h1v1h-1zM170 32h1v1h-1zM185 32h1v1h-1zM301 32h1v1h-1zM305 32h1v1h-1zM311 32h1v1h-1zM143 33h1v1h-1zM161 33h1v1h-1zM171 33h1v1h-1zM225 33h1v1h-1zM269 33h1v1h-1zM122 34h1v1h-1zM171 34h1v1h-1zM232 34h1v1h-1zM236 34h1v1h-1zM276 34h1v1h-1zM171 35h2v1h-2zM224 35h1v1h-1zM231 35h1v1h-1zM315 35h1v1h-1zM142 36h1v1h-1zM178 36h1v1h-1zM277 36h1v1h-1zM122 37h1v1h-1zM125 37h1v1h-1zM141 37h1v1h-1zM161 38h1v1h-1zM172 38h1v1h-1zM236 38h1v1h-1zM245 38h1v1h-1zM268 38h1v1h-1zM307 38h1v1h-1zM146 39h2v1h-2zM301 39h1v1h-1zM175 40h1v1h-1zM185 40h1v1h-1zM236 40h1v1h-1zM264 40h1v1h-1zM297 40h1v1h-1zM316 40h1v1h-1zM122 41h1v1h-1zM130 41h1v1h-1zM143 41h1v1h-1zM161 41h1v1h-1zM224 41h1v1h-1zM141 42h1v1h-1zM171 42h1v1h-1zM173 42h1v1h-1zM244 42h1v1h-1zM291 42h1v1h-1zM313 42h1v1h-1zM133 43h1v1h-1zM137 43h1v1h-1zM145 43h1v1h-1zM173 43h1v1h-1zM244 43h1v1h-1zM266 43h1v1h-1zM297 43h1v1h-1zM301 43h1v1h-1zM173 44h1v1h-1zM290 44h1v1h-1zM124 45h1v1h-1zM144 45h1v1h-1zM174 45h1v1h-1zM177 45h1v1h-1zM181 45h1v1h-1zM228 45h1v1h-1zM236 45h1v1h-1zM300 45h1v1h-1zM145 46h1v1h-1zM164 46h1v1h-1zM180 46h1v1h-1zM188 46h1v1h-1zM227 46h1v1h-1zM236 46h1v1h-1zM295 46h1v1h-1zM146 47h2v1h-2zM171 47h1v1h-1zM290 47h1v1h-1zM298 47h1v1h-1zM306 47h1v1h-1zM124 48h1v1h-1zM161 48h1v1h-1zM176 48h1v1h-1zM230 48h2v1h-2zM296 48h1v1h-1zM301 48h1v1h-1zM159 49h1v1h-1zM266 49h1v1h-1zM296 49h1v1h-1z"/>
<path fill="#3A3A23" d="M104 0h1v1h-1zM130 0h1v1h-1zM133 0h1v1h-1zM145 0h1v1h-1zM226 0h1v1h-1zM234 0h1v1h-1zM289 0h1v1h-1zM307 0h1v1h-1zM91 1h1v1h-1zM118 1h1v1h-1zM121 1h1v1h-1zM123 1h1v1h-1zM133 1h1v1h-1zM139 1h1v1h-1zM144 1h1v1h-1zM227 1h1v1h-1zM235 1h1v1h-1zM242 1h1v1h-1zM67 2h1v1h-1zM91 2h1v1h-1zM128 2h1v1h-1zM131 2h1v1h-1zM134 2h1v1h-1zM137 2h1v1h-1zM194 2h1v1h-1zM258 2h1v1h-1zM271 2h1v1h-1zM280 2h1v1h-1zM282 2h2v1h-2zM113 3h1v1h-1zM134 3h1v1h-1zM137 3h1v1h-1zM223 3h1v1h-1zM226 3h1v1h-1zM237 3h2v1h-2zM276 3h1v1h-1zM120 4h1v1h-1zM139 4h1v1h-1zM233 4h1v1h-1zM258 4h1v1h-1zM121 5h1v1h-1zM123 5h1v1h-1zM125 5h1v1h-1zM129 5h1v1h-1zM135 5h2v1h-2zM138 5h1v1h-1zM140 5h1v1h-1zM144 5h1v1h-1zM233 5h1v1h-1zM254 5h1v1h-1zM301 5h1v1h-1zM118 6h2v1h-2zM134 6h1v1h-1zM119 7h1v1h-1zM122 7h1v1h-1zM131 7h1v1h-1zM133 7h1v1h-1zM138 7h1v1h-1zM143 7h1v1h-1zM146 7h1v1h-1zM155 7h2v1h-2zM164 7h1v1h-1zM190 7h2v1h-2zM279 7h1v1h-1zM95 8h1v1h-1zM113 8h1v1h-1zM134 8h1v1h-1zM141 8h1v1h-1zM143 8h1v1h-1zM151 8h1v1h-1zM113 9h1v1h-1zM123 9h1v1h-1zM134 9h1v1h-1zM140 9h1v1h-1zM145 9h1v1h-1zM231 9h1v1h-1zM119 10h1v1h-1zM134 10h1v1h-1zM138 10h2v1h-2zM141 10h2v1h-2zM154 10h1v1h-1zM157 10h1v1h-1zM163 10h1v1h-1zM231 10h1v1h-1zM306 10h1v1h-1zM120 11h1v1h-1zM131 11h1v1h-1zM133 11h1v1h-1zM141 11h1v1h-1zM179 11h1v1h-1zM274 11h1v1h-1zM279 11h1v1h-1zM137 12h1v1h-1zM154 12h1v1h-1zM171 12h2v1h-2zM174 12h1v1h-1zM179 12h1v1h-1zM181 12h1v1h-1zM273 12h1v1h-1zM306 12h1v1h-1zM131 13h1v1h-1zM136 13h1v1h-1zM139 13h1v1h-1zM265 13h1v1h-1zM272 13h1v1h-1zM306 13h1v1h-1zM118 14h1v1h-1zM122 14h2v1h-2zM130 14h1v1h-1zM136 14h1v1h-1zM148 14h1v1h-1zM159 14h1v1h-1zM231 14h1v1h-1zM119 15h1v1h-1zM130 15h1v1h-1zM137 15h1v1h-1zM143 15h2v1h-2zM233 15h2v1h-2zM67 16h1v1h-1zM117 16h1v1h-1zM158 16h2v1h-2zM163 16h2v1h-2zM231 16h1v1h-1zM233 16h1v1h-1zM122 17h1v1h-1zM282 17h2v1h-2zM306 17h1v1h-1zM232 18h1v1h-1zM279 18h1v1h-1zM306 18h1v1h-1zM215 19h1v1h-1zM278 19h1v1h-1zM215 21h1v1h-1zM122 22h1v1h-1zM132 22h1v1h-1zM246 22h1v1h-1zM137 23h1v1h-1zM160 23h2v1h-2zM163 23h1v1h-1zM166 23h1v1h-1zM180 23h1v1h-1zM185 23h1v1h-1zM275 23h1v1h-1zM306 23h1v1h-1zM147 24h1v1h-1zM167 24h1v1h-1zM171 24h1v1h-1zM185 24h1v1h-1zM187 24h2v1h-2zM191 24h1v1h-1zM154 25h1v1h-1zM156 25h1v1h-1zM159 25h1v1h-1zM161 25h1v1h-1zM175 25h1v1h-1zM180 25h3v1h-3zM187 25h1v1h-1zM190 25h1v1h-1zM123 26h1v1h-1zM133 26h1v1h-1zM278 26h1v1h-1zM281 26h1v1h-1zM296 26h1v1h-1zM100 27h2v1h-2zM117 27h1v1h-1zM135 27h1v1h-1zM193 27h1v1h-1zM103 28h1v1h-1zM155 28h1v1h-1zM286 28h1v1h-1zM120 29h1v1h-1zM127 29h1v1h-1zM166 29h1v1h-1zM226 30h1v1h-1zM244 30h1v1h-1zM275 30h2v1h-2zM204 31h1v1h-1zM217 31h1v1h-1zM212 32h1v1h-1zM285 32h1v1h-1zM104 33h1v1h-1zM113 34h1v1h-1zM208 34h1v1h-1zM74 35h1v1h-1zM78 35h1v1h-1zM91 35h1v1h-1zM196 35h1v1h-1zM206 35h1v1h-1zM218 36h1v1h-1zM60 37h1v1h-1zM104 37h1v1h-1zM115 37h1v1h-1zM197 37h1v1h-1zM202 37h1v1h-1zM208 37h1v1h-1zM212 37h1v1h-1zM214 37h1v1h-1zM216 37h2v1h-2zM92 38h1v1h-1zM103 38h1v1h-1zM114 38h1v1h-1zM212 38h1v1h-1zM285 38h1v1h-1zM205 39h1v1h-1zM217 39h1v1h-1zM219 39h1v1h-1zM285 39h1v1h-1zM113 40h1v1h-1zM213 40h1v1h-1zM62 41h1v1h-1zM70 41h1v1h-1zM77 41h1v1h-1zM87 41h1v1h-1zM92 41h1v1h-1zM101 41h1v1h-1zM105 41h2v1h-2zM110 41h1v1h-1zM110 42h1v1h-1zM285 42h1v1h-1zM103 43h1v1h-1zM208 43h1v1h-1zM248 43h1v1h-1zM250 43h1v1h-1zM260 43h1v1h-1zM60 44h1v1h-1zM89 44h1v1h-1zM113 44h1v1h-1zM197 44h1v1h-1zM201 44h2v1h-2zM207 44h1v1h-1zM220 44h1v1h-1zM65 45h1v1h-1zM110 45h1v1h-1zM204 45h2v1h-2zM214 45h1v1h-1zM216 45h2v1h-2zM285 45h1v1h-1zM127 46h1v1h-1zM212 46h1v1h-1zM219 46h1v1h-1zM286 46h1v1h-1zM63 47h1v1h-1zM68 47h3v1h-3zM72 47h1v1h-1zM86 47h1v1h-1zM88 47h1v1h-1zM206 47h1v1h-1zM61 48h2v1h-2zM65 48h2v1h-2zM70 48h1v1h-1zM73 48h1v1h-1zM75 48h1v1h-1zM77 48h1v1h-1zM104 48h2v1h-2zM193 48h1v1h-1zM202 48h1v1h-1zM215 48h1v1h-1zM60 49h3v1h-3zM75 49h1v1h-1zM95 49h1v1h-1zM98 49h1v1h-1zM109 49h1v1h-1zM194 49h1v1h-1zM215 49h1v1h-1zM221 49h1v1h-1z"/>
<path fill="#373626" d="M110 0h1v1h-1zM67 1h1v1h-1zM131 1h1v1h-1zM146 1h1v1h-1zM163 1h1v1h-1zM280 1h1v1h-1zM98 2h1v1h-1zM147 2h1v1h-1zM151 2h1v1h-1zM153 2h1v1h-1zM123 3h1v1h-1zM146 3h1v1h-1zM154 3h1v1h-1zM192 3h1v1h-1zM235 3h1v1h-1zM271 3h1v1h-1zM275 3h1v1h-1zM308 3h1v1h-1zM131 4h1v1h-1zM137 4h1v1h-1zM163 4h1v1h-1zM205 4h1v1h-1zM289 4h1v1h-1zM67 5h1v1h-1zM142 6h1v1h-1zM275 6h1v1h-1zM67 7h1v1h-1zM98 7h1v1h-1zM104 7h1v1h-1zM120 7h1v1h-1zM153 7h1v1h-1zM159 7h1v1h-1zM205 7h1v1h-1zM258 7h1v1h-1zM205 8h1v1h-1zM300 8h1v1h-1zM96 9h1v1h-1zM116 10h1v1h-1zM121 10h1v1h-1zM164 10h1v1h-1zM91 11h1v1h-1zM113 11h1v1h-1zM116 11h1v1h-1zM132 11h1v1h-1zM265 11h1v1h-1zM267 11h1v1h-1zM95 12h1v1h-1zM118 12h1v1h-1zM301 12h1v1h-1zM67 13h1v1h-1zM95 13h1v1h-1zM124 13h1v1h-1zM164 13h1v1h-1zM192 13h1v1h-1zM232 13h1v1h-1zM129 14h1v1h-1zM150 14h1v1h-1zM158 14h1v1h-1zM164 14h1v1h-1zM243 14h1v1h-1zM113 15h1v1h-1zM146 15h1v1h-1zM192 15h1v1h-1zM243 15h1v1h-1zM279 16h1v1h-1zM313 16h1v1h-1zM157 17h1v1h-1zM284 17h1v1h-1zM178 18h1v1h-1zM183 18h1v1h-1zM270 18h1v1h-1zM298 18h1v1h-1zM85 19h1v1h-1zM185 19h1v1h-1zM220 19h1v1h-1zM263 19h1v1h-1zM284 19h1v1h-1zM307 19h1v1h-1zM81 20h1v1h-1zM85 20h1v1h-1zM252 20h1v1h-1zM313 20h1v1h-1zM246 21h1v1h-1zM252 21h1v1h-1zM305 21h1v1h-1zM314 21h1v1h-1zM116 22h1v1h-1zM220 22h1v1h-1zM80 23h1v1h-1zM150 23h1v1h-1zM171 23h1v1h-1zM192 23h1v1h-1zM305 23h1v1h-1zM308 24h1v1h-1zM122 25h1v1h-1zM174 25h1v1h-1zM214 25h1v1h-1zM220 25h1v1h-1zM125 26h1v1h-1zM151 26h1v1h-1zM275 26h2v1h-2zM305 26h1v1h-1zM284 27h1v1h-1zM113 29h1v1h-1zM135 29h1v1h-1zM145 29h1v1h-1zM235 29h1v1h-1zM310 29h1v1h-1zM134 30h1v1h-1zM285 30h2v1h-2zM213 31h1v1h-1zM281 31h1v1h-1zM235 32h1v1h-1zM282 32h1v1h-1zM287 32h1v1h-1zM103 34h1v1h-1zM205 34h1v1h-1zM212 34h1v1h-1zM234 34h2v1h-2zM115 35h1v1h-1zM204 35h1v1h-1zM207 35h1v1h-1zM213 35h1v1h-1zM215 35h2v1h-2zM310 35h1v1h-1zM127 36h1v1h-1zM163 36h1v1h-1zM238 36h1v1h-1zM166 37h1v1h-1zM285 37h1v1h-1zM65 39h1v1h-1zM207 39h1v1h-1zM222 39h1v1h-1zM233 39h1v1h-1zM287 39h1v1h-1zM149 41h1v1h-1zM163 41h1v1h-1zM184 41h1v1h-1zM233 41h1v1h-1zM286 42h1v1h-1zM246 43h1v1h-1zM252 43h1v1h-1zM198 44h1v1h-1zM200 44h1v1h-1zM204 44h1v1h-1zM209 44h1v1h-1zM310 44h1v1h-1zM198 45h1v1h-1zM312 45h1v1h-1zM166 46h1v1h-1zM127 47h1v1h-1zM222 47h1v1h-1zM102 48h1v1h-1zM111 48h1v1h-1zM116 48h1v1h-1zM203 48h1v1h-1zM214 48h1v1h-1zM64 49h1v1h-1zM66 49h1v1h-1zM105 49h1v1h-1zM116 49h1v1h-1zM166 49h1v1h-1zM184 49h1v1h-1z"/>
<path fill="#37303B" d="M154 0h1v1h-1zM119 1h1v1h-1zM154 1h1v1h-1zM159 1h1v1h-1zM119 2h1v1h-1zM164 2h1v1h-1zM119 3h1v1h-1zM164 3h1v1h-1zM159 5h1v1h-1zM163 5h1v1h-1zM152 6h1v1h-1zM164 6h1v1h-1zM119 8h1v1h-1zM147 9h1v1h-1zM164 9h1v1h-1zM300 9h1v1h-1zM304 9h1v1h-1zM122 10h1v1h-1zM159 11h1v1h-1zM119 12h1v1h-1zM122 12h1v1h-1zM128 12h1v1h-1zM159 12h1v1h-1zM163 12h1v1h-1zM116 15h1v1h-1zM222 17h1v1h-1zM247 17h1v1h-1zM286 17h1v1h-1zM154 18h2v1h-2zM295 18h1v1h-1zM297 18h1v1h-1zM270 19h1v1h-1zM286 19h1v1h-1zM106 20h1v1h-1zM175 20h1v1h-1zM312 20h1v1h-1zM154 21h1v1h-1zM213 21h1v1h-1zM274 21h1v1h-1zM222 22h1v1h-1zM104 23h1v1h-1zM106 23h1v1h-1zM297 23h1v1h-1zM299 23h1v1h-1zM310 23h1v1h-1zM312 23h1v1h-1zM109 24h1v1h-1zM222 24h1v1h-1zM109 25h1v1h-1zM216 25h1v1h-1zM299 25h1v1h-1zM300 26h1v1h-1zM315 26h1v1h-1zM65 27h1v1h-1zM110 27h1v1h-1zM264 27h1v1h-1zM275 27h1v1h-1zM299 27h1v1h-1zM239 28h1v1h-1zM273 28h1v1h-1zM275 28h1v1h-1zM92 29h1v1h-1zM285 29h1v1h-1zM299 29h1v1h-1zM193 30h1v1h-1zM196 30h1v1h-1zM206 30h1v1h-1zM294 30h1v1h-1zM299 30h1v1h-1zM310 30h1v1h-1zM135 31h1v1h-1zM149 31h1v1h-1zM186 31h1v1h-1zM233 32h1v1h-1zM315 32h1v1h-1zM129 33h1v1h-1zM208 33h1v1h-1zM154 35h1v1h-1zM156 35h1v1h-1zM177 35h1v1h-1zM185 35h1v1h-1zM156 36h1v1h-1zM205 36h1v1h-1zM65 37h1v1h-1zM128 37h1v1h-1zM135 37h1v1h-1zM177 37h1v1h-1zM280 37h1v1h-1zM294 37h1v1h-1zM149 38h1v1h-1zM151 38h1v1h-1zM92 39h1v1h-1zM103 39h1v1h-1zM115 39h1v1h-1zM129 39h1v1h-1zM199 39h1v1h-1zM208 39h1v1h-1zM239 39h1v1h-1zM117 40h1v1h-1zM156 40h1v1h-1zM199 40h1v1h-1zM201 40h1v1h-1zM115 41h1v1h-1zM117 41h1v1h-1zM156 42h1v1h-1zM205 42h1v1h-1zM294 42h1v1h-1zM299 43h1v1h-1zM312 43h1v1h-1zM240 44h1v1h-1zM92 45h1v1h-1zM115 45h1v1h-1zM117 45h1v1h-1zM126 45h1v1h-1zM163 45h1v1h-1zM238 45h1v1h-1zM240 45h1v1h-1zM120 46h1v1h-1zM156 46h1v1h-1zM205 46h1v1h-1zM208 46h1v1h-1zM117 47h1v1h-1zM156 47h1v1h-1zM177 47h1v1h-1zM149 48h1v1h-1zM166 48h1v1h-1zM238 48h1v1h-1zM282 48h1v1h-1zM315 48h1v1h-1zM92 49h1v1h-1zM152 49h1v1h-1zM239 49h1v1h-1zM299 49h1v1h-1z"/>
<path fill="#313020" d="M134 0h1v1h-1zM205 0h1v1h-1zM231 0h1v1h-1zM302 0h1v1h-1zM104 1h1v1h-1zM122 1h1v1h-1zM140 1h1v1h-1zM145 1h1v1h-1zM238 1h1v1h-1zM240 1h1v1h-1zM254 1h1v1h-1zM279 1h1v1h-1zM302 1h1v1h-1zM308 1h1v1h-1zM116 2h1v1h-1zM121 2h1v1h-1zM159 2h1v1h-1zM234 2h1v1h-1zM254 2h1v1h-1zM274 2h1v1h-1zM277 2h1v1h-1zM305 2h1v1h-1zM118 3h1v1h-1zM142 3h1v1h-1zM151 3h1v1h-1zM224 3h1v1h-1zM236 3h1v1h-1zM289 3h1v1h-1zM302 3h1v1h-1zM153 4h1v1h-1zM222 4h1v1h-1zM118 5h1v1h-1zM122 5h1v1h-1zM126 5h1v1h-1zM134 5h1v1h-1zM137 5h1v1h-1zM139 5h1v1h-1zM147 5h1v1h-1zM244 5h1v1h-1zM96 6h1v1h-1zM116 6h1v1h-1zM192 6h1v1h-1zM233 6h1v1h-1zM95 7h1v1h-1zM118 7h1v1h-1zM129 7h1v1h-1zM137 7h1v1h-1zM139 7h3v1h-3zM145 7h1v1h-1zM157 7h2v1h-2zM163 7h1v1h-1zM231 7h1v1h-1zM147 8h1v1h-1zM152 8h1v1h-1zM192 8h1v1h-1zM217 8h1v1h-1zM243 8h1v1h-1zM309 8h1v1h-1zM91 9h1v1h-1zM137 9h1v1h-1zM141 9h1v1h-1zM144 9h1v1h-1zM146 9h1v1h-1zM243 9h1v1h-1zM271 9h1v1h-1zM309 9h1v1h-1zM71 10h1v1h-1zM95 10h1v1h-1zM192 10h1v1h-1zM205 10h1v1h-1zM307 10h1v1h-1zM71 11h1v1h-1zM104 11h1v1h-1zM143 11h3v1h-3zM153 11h1v1h-1zM157 11h1v1h-1zM222 11h1v1h-1zM258 11h1v1h-1zM272 11h1v1h-1zM284 11h1v1h-1zM142 12h1v1h-1zM152 12h1v1h-1zM156 12h2v1h-2zM192 12h1v1h-1zM254 12h1v1h-1zM269 12h1v1h-1zM274 12h1v1h-1zM71 13h1v1h-1zM96 13h1v1h-1zM127 13h1v1h-1zM137 13h1v1h-1zM144 13h1v1h-1zM150 13h1v1h-1zM231 13h1v1h-1zM240 13h1v1h-1zM244 13h1v1h-1zM257 13h1v1h-1zM267 13h1v1h-1zM67 14h1v1h-1zM104 14h1v1h-1zM121 14h1v1h-1zM133 14h1v1h-1zM144 14h1v1h-1zM147 14h1v1h-1zM233 14h1v1h-1zM254 14h1v1h-1zM271 14h1v1h-1zM121 15h1v1h-1zM231 15h1v1h-1zM259 15h1v1h-1zM96 16h1v1h-1zM138 16h1v1h-1zM271 16h1v1h-1zM158 17h1v1h-1zM215 17h1v1h-1zM305 17h1v1h-1zM177 18h1v1h-1zM184 18h1v1h-1zM177 19h1v1h-1zM184 19h1v1h-1zM314 19h1v1h-1zM178 20h1v1h-1zM80 22h1v1h-1zM154 23h1v1h-1zM170 23h1v1h-1zM172 23h1v1h-1zM175 23h1v1h-1zM184 23h1v1h-1zM314 23h1v1h-1zM81 24h1v1h-1zM173 24h1v1h-1zM175 24h1v1h-1zM181 24h1v1h-1zM190 24h1v1h-1zM307 24h1v1h-1zM160 25h1v1h-1zM186 25h1v1h-1zM246 25h1v1h-1zM306 25h1v1h-1zM127 26h1v1h-1zM129 26h2v1h-2zM134 26h1v1h-1zM142 26h4v1h-4zM209 26h1v1h-1zM306 26h1v1h-1zM89 27h1v1h-1zM104 27h1v1h-1zM113 27h1v1h-1zM115 27h1v1h-1zM132 27h1v1h-1zM136 27h1v1h-1zM196 27h1v1h-1zM287 28h1v1h-1zM151 29h2v1h-2zM193 29h1v1h-1zM196 29h1v1h-1zM203 29h1v1h-1zM168 30h2v1h-2zM225 30h1v1h-1zM243 30h1v1h-1zM245 30h1v1h-1zM290 30h1v1h-1zM205 31h1v1h-1zM214 31h1v1h-1zM114 33h1v1h-1zM201 33h1v1h-1zM60 34h1v1h-1zM92 35h1v1h-1zM197 35h1v1h-1zM217 35h1v1h-1zM220 35h2v1h-2zM281 35h1v1h-1zM234 36h2v1h-2zM285 36h1v1h-1zM113 37h2v1h-2zM163 37h1v1h-1zM200 37h1v1h-1zM213 37h1v1h-1zM114 39h1v1h-1zM218 39h1v1h-1zM298 39h1v1h-1zM167 40h1v1h-1zM183 40h1v1h-1zM212 40h1v1h-1zM234 40h1v1h-1zM71 41h2v1h-2zM85 41h2v1h-2zM99 41h1v1h-1zM234 42h2v1h-2zM167 43h1v1h-1zM199 43h1v1h-1zM233 43h1v1h-1zM92 44h1v1h-1zM215 44h1v1h-1zM113 45h2v1h-2zM207 45h1v1h-1zM168 46h1v1h-1zM62 47h1v1h-1zM105 47h1v1h-1zM114 47h2v1h-2zM203 47h1v1h-1zM210 47h1v1h-1zM216 47h1v1h-1zM221 47h1v1h-1zM74 48h1v1h-1zM88 48h1v1h-1zM101 48h1v1h-1zM108 48h1v1h-1zM200 48h1v1h-1zM209 48h2v1h-2zM220 48h1v1h-1zM73 49h1v1h-1zM76 49h1v1h-1zM90 49h1v1h-1zM104 49h1v1h-1zM106 49h1v1h-1zM111 49h1v1h-1zM167 49h1v1h-1zM195 49h1v1h-1zM209 49h1v1h-1zM286 49h1v1h-1z"/>
<path fill="#3C2B61" d="M68 17h1v1h-1zM71 17h1v1h-1zM99 17h2v1h-2zM102 17h2v1h-2zM115 17h1v1h-1zM161 17h1v1h-1zM181 17h1v1h-1zM66 18h1v1h-1zM99 18h1v1h-1zM103 18h1v1h-1zM114 18h1v1h-1zM174 18h1v1h-1zM195 18h1v1h-1zM206 18h1v1h-1zM250 18h1v1h-1zM256 18h1v1h-1zM287 18h1v1h-1zM309 18h1v1h-1zM62 19h1v1h-1zM70 19h1v1h-1zM73 19h1v1h-1zM88 19h1v1h-1zM96 19h1v1h-1zM102 19h1v1h-1zM105 19h1v1h-1zM174 19h1v1h-1zM213 19h1v1h-1zM290 19h1v1h-1zM62 20h1v1h-1zM71 20h1v1h-1zM91 20h1v1h-1zM103 20h1v1h-1zM166 20h1v1h-1zM189 20h1v1h-1zM217 20h1v1h-1zM66 21h2v1h-2zM69 21h1v1h-1zM87 21h1v1h-1zM96 21h1v1h-1zM99 21h1v1h-1zM102 21h2v1h-2zM167 21h1v1h-1zM189 21h1v1h-1zM165 22h1v1h-1zM195 22h1v1h-1zM273 22h1v1h-1zM75 23h1v1h-1zM88 23h1v1h-1zM189 23h1v1h-1zM195 23h2v1h-2zM218 23h1v1h-1zM273 23h1v1h-1zM62 24h1v1h-1zM206 24h1v1h-1zM221 24h1v1h-1zM74 25h1v1h-1zM250 25h1v1h-1zM262 25h1v1h-1zM196 26h1v1h-1zM274 26h1v1h-1zM293 27h1v1h-1zM243 28h1v1h-1zM232 29h1v1h-1zM239 29h1v1h-1zM244 29h1v1h-1zM264 29h1v1h-1zM307 29h1v1h-1zM148 30h1v1h-1zM188 30h1v1h-1zM217 30h2v1h-2zM301 30h1v1h-1zM122 31h1v1h-1zM160 31h1v1h-1zM165 31h1v1h-1zM233 31h1v1h-1zM237 31h1v1h-1zM291 31h1v1h-1zM137 32h1v1h-1zM141 32h1v1h-1zM144 32h1v1h-1zM150 32h1v1h-1zM179 32h1v1h-1zM182 32h1v1h-1zM254 32h1v1h-1zM309 32h2v1h-2zM118 33h1v1h-1zM146 33h1v1h-1zM190 33h1v1h-1zM229 33h2v1h-2zM232 33h1v1h-1zM242 33h2v1h-2zM288 33h1v1h-1zM125 34h1v1h-1zM143 34h1v1h-1zM160 34h1v1h-1zM170 34h1v1h-1zM175 34h1v1h-1zM226 34h1v1h-1zM313 34h1v1h-1zM122 35h1v1h-1zM175 35h2v1h-2zM230 35h1v1h-1zM236 35h1v1h-1zM295 35h1v1h-1zM307 35h1v1h-1zM313 35h1v1h-1zM143 36h1v1h-1zM147 36h1v1h-1zM170 36h1v1h-1zM182 36h1v1h-1zM243 36h1v1h-1zM249 36h1v1h-1zM302 36h1v1h-1zM143 37h1v1h-1zM146 37h1v1h-1zM173 37h1v1h-1zM175 37h1v1h-1zM236 37h1v1h-1zM241 37h2v1h-2zM305 37h1v1h-1zM175 38h1v1h-1zM225 38h1v1h-1zM228 38h1v1h-1zM231 38h1v1h-1zM290 38h1v1h-1zM295 38h1v1h-1zM305 38h1v1h-1zM314 38h1v1h-1zM157 39h1v1h-1zM163 39h1v1h-1zM170 39h1v1h-1zM187 39h1v1h-1zM255 39h1v1h-1zM264 39h1v1h-1zM147 40h1v1h-1zM161 40h1v1h-1zM170 40h1v1h-1zM173 40h2v1h-2zM180 40h1v1h-1zM224 40h1v1h-1zM226 40h1v1h-1zM277 40h2v1h-2zM295 40h1v1h-1zM298 40h1v1h-1zM302 40h1v1h-1zM313 40h1v1h-1zM136 41h1v1h-1zM141 41h1v1h-1zM181 41h1v1h-1zM225 41h1v1h-1zM227 41h1v1h-1zM238 41h1v1h-1zM242 41h1v1h-1zM245 41h1v1h-1zM277 41h1v1h-1zM302 41h1v1h-1zM125 42h1v1h-1zM178 42h1v1h-1zM278 42h1v1h-1zM289 42h1v1h-1zM296 42h1v1h-1zM316 42h1v1h-1zM140 43h1v1h-1zM172 43h1v1h-1zM237 43h1v1h-1zM296 43h1v1h-1zM131 44h1v1h-1zM136 44h2v1h-2zM143 44h1v1h-1zM153 44h1v1h-1zM178 44h1v1h-1zM225 44h1v1h-1zM272 44h1v1h-1zM305 44h1v1h-1zM121 45h3v1h-3zM159 45h1v1h-1zM172 45h1v1h-1zM180 45h1v1h-1zM269 45h1v1h-1zM304 45h1v1h-1zM306 45h1v1h-1zM314 45h1v1h-1zM141 46h1v1h-1zM159 46h1v1h-1zM172 46h1v1h-1zM224 46h2v1h-2zM233 46h2v1h-2zM268 46h1v1h-1zM290 46h1v1h-1zM304 46h1v1h-1zM313 46h2v1h-2zM142 47h1v1h-1zM161 47h1v1h-1zM278 47h1v1h-1zM295 47h3v1h-3zM304 47h1v1h-1zM145 48h1v1h-1zM148 48h1v1h-1zM177 48h1v1h-1zM188 48h1v1h-1zM228 48h1v1h-1zM244 48h1v1h-1zM298 48h1v1h-1zM118 49h1v1h-1zM122 49h1v1h-1zM147 49h1v1h-1zM186 49h1v1h-1zM189 49h1v1h-1zM230 49h1v1h-1zM236 49h1v1h-1zM305 49h1v1h-1z"/>
<path fill="#3A2B5A" d="M147 0h1v1h-1zM147 1h1v1h-1zM245 1h1v1h-1zM152 3h1v1h-1zM119 9h1v1h-1zM152 10h1v1h-1zM73 17h1v1h-1zM106 17h1v1h-1zM165 17h1v1h-1zM257 17h1v1h-1zM270 17h1v1h-1zM287 17h1v1h-1zM171 18h1v1h-1zM182 18h1v1h-1zM247 18h1v1h-1zM257 18h1v1h-1zM65 19h1v1h-1zM86 19h1v1h-1zM92 19h1v1h-1zM94 19h1v1h-1zM179 19h1v1h-1zM186 19h1v1h-1zM191 19h1v1h-1zM202 19h1v1h-1zM247 19h1v1h-1zM262 19h1v1h-1zM219 20h1v1h-1zM221 20h2v1h-2zM270 20h1v1h-1zM156 21h1v1h-1zM272 21h1v1h-1zM285 21h1v1h-1zM82 22h1v1h-1zM105 22h1v1h-1zM159 22h1v1h-1zM191 22h1v1h-1zM270 22h1v1h-1zM92 23h1v1h-1zM115 23h1v1h-1zM206 23h1v1h-1zM216 23h1v1h-1zM221 23h1v1h-1zM61 24h1v1h-1zM256 24h1v1h-1zM262 24h1v1h-1zM270 24h1v1h-1zM272 24h1v1h-1zM285 24h1v1h-1zM287 24h1v1h-1zM67 25h1v1h-1zM115 25h1v1h-1zM253 26h1v1h-1zM294 26h1v1h-1zM298 27h1v1h-1zM226 28h1v1h-1zM237 28h1v1h-1zM280 28h1v1h-1zM283 28h1v1h-1zM293 28h1v1h-1zM262 29h1v1h-1zM128 30h1v1h-1zM133 30h1v1h-1zM154 30h1v1h-1zM185 30h1v1h-1zM191 30h1v1h-1zM198 30h1v1h-1zM200 30h1v1h-1zM311 30h1v1h-1zM148 31h1v1h-1zM189 31h1v1h-1zM212 31h1v1h-1zM239 31h1v1h-1zM269 31h1v1h-1zM298 31h1v1h-1zM314 31h1v1h-1zM135 32h1v1h-1zM169 32h1v1h-1zM223 32h1v1h-1zM288 32h1v1h-1zM298 32h1v1h-1zM128 33h1v1h-1zM176 33h1v1h-1zM295 33h1v1h-1zM275 34h1v1h-1zM293 34h1v1h-1zM191 35h1v1h-1zM233 35h1v1h-1zM293 35h1v1h-1zM298 35h1v1h-1zM125 36h1v1h-1zM130 36h1v1h-1zM150 36h1v1h-1zM185 36h1v1h-1zM237 36h1v1h-1zM291 36h1v1h-1zM176 37h1v1h-1zM122 38h1v1h-1zM125 38h1v1h-1zM148 38h1v1h-1zM154 38h1v1h-1zM176 38h1v1h-1zM178 38h1v1h-1zM185 38h1v1h-1zM239 38h1v1h-1zM275 38h1v1h-1zM288 38h1v1h-1zM117 39h2v1h-2zM148 39h1v1h-1zM156 39h1v1h-1zM176 39h1v1h-1zM223 39h1v1h-1zM254 39h1v1h-1zM280 39h1v1h-1zM314 39h1v1h-1zM223 40h1v1h-1zM128 41h1v1h-1zM156 41h1v1h-1zM185 41h1v1h-1zM239 41h1v1h-1zM241 41h1v1h-1zM295 41h1v1h-1zM298 41h1v1h-1zM311 41h1v1h-1zM154 42h1v1h-1zM223 42h1v1h-1zM226 42h1v1h-1zM269 42h1v1h-1zM298 42h1v1h-1zM128 43h1v1h-1zM152 43h1v1h-1zM185 43h1v1h-1zM120 44h1v1h-1zM237 44h1v1h-1zM118 45h1v1h-1zM128 45h1v1h-1zM130 45h1v1h-1zM162 45h1v1h-1zM295 45h1v1h-1zM165 46h1v1h-1zM228 46h1v1h-1zM283 46h1v1h-1zM311 46h1v1h-1zM227 47h1v1h-1zM117 48h1v1h-1zM133 48h1v1h-1zM135 48h1v1h-1zM152 48h1v1h-1zM165 48h1v1h-1zM239 48h1v1h-1zM278 48h1v1h-1zM291 48h1v1h-1zM293 48h1v1h-1zM313 48h1v1h-1zM113 49h1v1h-1zM185 49h1v1h-1zM226 49h1v1h-1zM241 49h1v1h-1zM267 49h1v1h-1zM298 49h1v1h-1z"/>
<path fill="#332B3B" d="M128 1h1v1h-1zM68 8h1v1h-1zM122 9h1v1h-1zM159 9h1v1h-1zM70 12h1v1h-1zM116 12h1v1h-1zM154 14h1v1h-1zM68 16h1v1h-1zM104 17h1v1h-1zM171 17h1v1h-1zM264 17h1v1h-1zM279 17h1v1h-1zM297 17h1v1h-1zM95 18h1v1h-1zM170 18h1v1h-1zM263 18h1v1h-1zM272 18h1v1h-1zM310 18h1v1h-1zM114 19h1v1h-1zM116 19h1v1h-1zM216 19h1v1h-1zM251 19h1v1h-1zM272 19h1v1h-1zM274 19h1v1h-1zM310 19h1v1h-1zM93 21h1v1h-1zM159 21h1v1h-1zM165 21h1v1h-1zM216 22h1v1h-1zM274 22h1v1h-1zM285 22h1v1h-1zM219 23h1v1h-1zM247 24h1v1h-1zM251 24h1v1h-1zM274 24h1v1h-1zM222 25h1v1h-1zM312 25h1v1h-1zM107 26h1v1h-1zM247 26h1v1h-1zM259 26h1v1h-1zM291 26h1v1h-1zM310 26h1v1h-1zM191 27h1v1h-1zM228 29h1v1h-1zM283 29h1v1h-1zM294 29h1v1h-1zM162 30h1v1h-1zM164 30h1v1h-1zM187 30h1v1h-1zM312 30h1v1h-1zM126 31h1v1h-1zM163 31h1v1h-1zM292 31h1v1h-1zM239 32h1v1h-1zM253 32h1v1h-1zM273 32h1v1h-1zM275 32h1v1h-1zM280 32h1v1h-1zM164 33h1v1h-1zM298 33h1v1h-1zM309 33h1v1h-1zM128 34h1v1h-1zM155 34h1v1h-1zM299 35h1v1h-1zM117 36h1v1h-1zM120 36h1v1h-1zM165 36h1v1h-1zM152 37h1v1h-1zM155 37h1v1h-1zM182 37h1v1h-1zM315 37h1v1h-1zM120 38h1v1h-1zM164 38h1v1h-1zM238 38h1v1h-1zM240 38h1v1h-1zM279 38h1v1h-1zM177 39h1v1h-1zM291 39h1v1h-1zM300 39h1v1h-1zM260 40h1v1h-1zM262 40h1v1h-1zM288 41h1v1h-1zM293 41h1v1h-1zM152 42h1v1h-1zM241 42h1v1h-1zM299 42h1v1h-1zM156 43h1v1h-1zM273 43h1v1h-1zM275 43h1v1h-1zM185 44h1v1h-1zM291 44h1v1h-1zM120 45h1v1h-1zM184 45h1v1h-1zM284 45h1v1h-1zM186 46h1v1h-1zM103 47h1v1h-1zM169 47h1v1h-1zM182 47h1v1h-1zM92 48h1v1h-1zM128 48h1v1h-1zM133 49h1v1h-1zM135 49h1v1h-1z"/>
<path fill="#2C2B1F" d="M67 0h1v1h-1zM88 0h1v1h-1zM96 0h1v1h-1zM129 0h1v1h-1zM131 0h1v1h-1zM142 0h1v1h-1zM144 0h1v1h-1zM227 0h2v1h-2zM232 0h1v1h-1zM235 0h1v1h-1zM253 0h1v1h-1zM262 0h1v1h-1zM277 0h1v1h-1zM96 1h1v1h-1zM134 1h1v1h-1zM141 1h1v1h-1zM237 1h1v1h-1zM271 1h1v1h-1zM275 1h1v1h-1zM282 1h1v1h-1zM303 1h1v1h-1zM143 2h1v1h-1zM154 2h1v1h-1zM192 2h1v1h-1zM205 2h1v1h-1zM230 2h1v1h-1zM232 2h2v1h-2zM241 2h1v1h-1zM250 2h1v1h-1zM310 2h1v1h-1zM96 3h1v1h-1zM104 3h1v1h-1zM141 3h1v1h-1zM163 3h1v1h-1zM241 3h1v1h-1zM114 4h1v1h-1zM118 4h1v1h-1zM129 4h1v1h-1zM147 4h1v1h-1zM229 4h1v1h-1zM254 4h1v1h-1zM277 4h2v1h-2zM280 4h1v1h-1zM284 4h1v1h-1zM306 4h1v1h-1zM314 4h1v1h-1zM104 5h1v1h-1zM113 5h1v1h-1zM151 5h1v1h-1zM279 5h1v1h-1zM284 5h1v1h-1zM305 5h1v1h-1zM240 6h1v1h-1zM244 6h1v1h-1zM271 6h1v1h-1zM273 6h1v1h-1zM280 6h1v1h-1zM306 6h1v1h-1zM142 7h1v1h-1zM144 7h1v1h-1zM192 7h1v1h-1zM96 8h1v1h-1zM222 9h1v1h-1zM230 9h1v1h-1zM236 9h1v1h-1zM159 10h1v1h-1zM217 10h1v1h-1zM233 10h1v1h-1zM254 10h1v1h-1zM275 10h1v1h-1zM96 11h1v1h-1zM121 11h1v1h-1zM140 11h1v1h-1zM278 11h1v1h-1zM306 11h1v1h-1zM96 12h1v1h-1zM205 12h1v1h-1zM231 12h1v1h-1zM233 12h1v1h-1zM279 12h1v1h-1zM311 12h1v1h-1zM91 13h1v1h-1zM133 13h1v1h-1zM153 13h1v1h-1zM163 13h1v1h-1zM71 14h1v1h-1zM127 14h1v1h-1zM131 14h1v1h-1zM134 14h1v1h-1zM153 14h1v1h-1zM222 14h1v1h-1zM278 14h1v1h-1zM88 15h1v1h-1zM91 15h1v1h-1zM142 15h1v1h-1zM145 15h1v1h-1zM194 15h1v1h-1zM244 15h1v1h-1zM264 15h1v1h-1zM280 15h1v1h-1zM313 15h1v1h-1zM258 16h1v1h-1zM306 16h1v1h-1zM177 17h1v1h-1zM84 18h1v1h-1zM215 18h1v1h-1zM183 19h1v1h-1zM292 19h1v1h-1zM313 19h1v1h-1zM246 20h1v1h-1zM176 21h1v1h-1zM293 21h1v1h-1zM159 23h1v1h-1zM173 23h1v1h-1zM179 23h1v1h-1zM182 23h1v1h-1zM279 23h1v1h-1zM166 24h1v1h-1zM172 24h1v1h-1zM168 25h1v1h-1zM188 25h1v1h-1zM297 25h1v1h-1zM307 25h1v1h-1zM79 26h1v1h-1zM104 26h1v1h-1zM109 26h1v1h-1zM120 26h1v1h-1zM124 26h1v1h-1zM138 26h1v1h-1zM277 26h1v1h-1zM279 26h2v1h-2zM103 27h1v1h-1zM125 27h1v1h-1zM127 27h1v1h-1zM133 27h1v1h-1zM149 27h1v1h-1zM151 27h1v1h-1zM194 27h1v1h-1zM206 27h2v1h-2zM213 27h2v1h-2zM217 27h1v1h-1zM287 27h1v1h-1zM117 28h1v1h-1zM124 28h1v1h-1zM135 28h1v1h-1zM167 28h1v1h-1zM191 28h1v1h-1zM204 28h1v1h-1zM117 29h1v1h-1zM136 29h1v1h-1zM144 29h1v1h-1zM146 29h1v1h-1zM153 29h1v1h-1zM198 29h1v1h-1zM204 29h1v1h-1zM206 29h1v1h-1zM210 29h1v1h-1zM282 29h1v1h-1zM224 30h1v1h-1zM232 30h1v1h-1zM274 30h1v1h-1zM278 30h1v1h-1zM291 30h1v1h-1zM201 31h1v1h-1zM285 35h1v1h-1zM219 37h1v1h-1zM216 39h1v1h-1zM253 42h1v1h-1zM249 43h1v1h-1zM285 43h1v1h-1zM114 44h1v1h-1zM212 44h1v1h-1zM217 44h1v1h-1zM212 45h1v1h-1zM199 46h1v1h-1zM287 46h1v1h-1zM61 47h1v1h-1zM65 47h1v1h-1zM194 47h1v1h-1zM200 47h1v1h-1zM205 47h1v1h-1zM209 47h1v1h-1zM87 48h1v1h-1zM216 48h1v1h-1zM219 48h1v1h-1zM70 49h1v1h-1zM78 49h1v1h-1zM89 49h1v1h-1zM100 49h1v1h-1zM102 49h1v1h-1zM214 49h1v1h-1zM216 49h1v1h-1z"/>
<path fill="#39295B" d="M69 17h1v1h-1zM96 17h1v1h-1zM173 17h1v1h-1zM288 17h1v1h-1zM67 18h1v1h-1zM70 18h1v1h-1zM161 18h1v1h-1zM167 18h1v1h-1zM180 18h2v1h-2zM197 18h1v1h-1zM199 18h1v1h-1zM201 18h1v1h-1zM218 18h1v1h-1zM220 18h1v1h-1zM291 18h1v1h-1zM166 19h1v1h-1zM172 19h1v1h-1zM195 19h1v1h-1zM197 19h1v1h-1zM207 19h1v1h-1zM88 20h1v1h-1zM99 20h1v1h-1zM194 20h1v1h-1zM207 20h1v1h-1zM299 20h1v1h-1zM101 21h1v1h-1zM169 21h1v1h-1zM195 21h2v1h-2zM256 21h1v1h-1zM260 21h2v1h-2zM70 22h1v1h-1zM73 22h3v1h-3zM100 22h1v1h-1zM161 22h1v1h-1zM172 22h2v1h-2zM287 22h1v1h-1zM77 23h1v1h-1zM63 24h1v1h-1zM66 24h1v1h-1zM71 24h1v1h-1zM76 24h1v1h-1zM196 24h2v1h-2zM310 24h1v1h-1zM63 25h1v1h-1zM69 25h1v1h-1zM98 25h1v1h-1zM100 25h4v1h-4zM196 25h1v1h-1zM257 25h1v1h-1zM229 27h1v1h-1zM244 28h1v1h-1zM295 28h1v1h-1zM301 28h2v1h-2zM225 29h1v1h-1zM229 29h3v1h-3zM255 29h1v1h-1zM273 29h1v1h-1zM137 30h1v1h-1zM144 30h1v1h-1zM174 30h1v1h-1zM201 30h1v1h-1zM141 31h1v1h-1zM144 31h2v1h-2zM159 31h1v1h-1zM161 31h1v1h-1zM225 31h1v1h-1zM232 31h1v1h-1zM270 31h1v1h-1zM289 31h1v1h-1zM313 31h1v1h-1zM131 32h1v1h-1zM162 32h2v1h-2zM188 32h1v1h-1zM225 32h1v1h-1zM266 32h1v1h-1zM290 32h1v1h-1zM303 32h2v1h-2zM307 32h1v1h-1zM123 33h1v1h-1zM131 33h1v1h-1zM160 33h1v1h-1zM173 33h1v1h-1zM188 33h1v1h-1zM241 33h1v1h-1zM245 33h1v1h-1zM266 33h1v1h-1zM271 33h1v1h-1zM276 33h1v1h-1zM289 33h1v1h-1zM291 33h1v1h-1zM145 34h1v1h-1zM161 34h1v1h-1zM182 34h1v1h-1zM188 34h1v1h-1zM231 34h1v1h-1zM242 34h1v1h-1zM298 34h1v1h-1zM302 34h1v1h-1zM311 34h1v1h-1zM144 35h1v1h-1zM146 35h1v1h-1zM228 35h1v1h-1zM290 35h1v1h-1zM122 36h1v1h-1zM171 36h1v1h-1zM232 36h1v1h-1zM245 36h1v1h-1zM288 36h2v1h-2zM170 37h2v1h-2zM180 37h1v1h-1zM185 37h1v1h-1zM225 37h1v1h-1zM230 37h1v1h-1zM266 37h1v1h-1zM273 37h1v1h-1zM278 37h1v1h-1zM146 38h1v1h-1zM174 38h1v1h-1zM189 38h1v1h-1zM270 38h3v1h-3zM289 38h1v1h-1zM302 38h1v1h-1zM182 39h1v1h-1zM227 39h1v1h-1zM229 39h1v1h-1zM290 39h1v1h-1zM159 40h1v1h-1zM164 40h1v1h-1zM176 40h1v1h-1zM266 40h1v1h-1zM303 40h1v1h-1zM314 40h1v1h-1zM132 41h1v1h-1zM228 41h1v1h-1zM172 42h1v1h-1zM230 42h1v1h-1zM245 42h1v1h-1zM272 42h1v1h-1zM303 42h1v1h-1zM132 44h2v1h-2zM228 44h1v1h-1zM296 44h2v1h-2zM316 44h1v1h-1zM131 45h1v1h-1zM150 45h1v1h-1zM188 45h1v1h-1zM266 45h1v1h-1zM315 45h1v1h-1zM150 46h1v1h-1zM171 46h1v1h-1zM239 46h1v1h-1zM277 46h1v1h-1zM289 46h1v1h-1zM291 46h1v1h-1zM303 46h1v1h-1zM123 47h1v1h-1zM235 47h1v1h-1zM277 47h1v1h-1zM299 47h1v1h-1zM307 47h1v1h-1zM160 48h1v1h-1zM179 48h1v1h-1zM182 48h1v1h-1zM225 48h1v1h-1zM267 48h1v1h-1zM297 48h1v1h-1zM302 48h1v1h-1zM305 48h1v1h-1zM170 49h1v1h-1zM265 49h1v1h-1zM312 49h2v1h-2z"/>
<path fill="#372858" d="M309 16h1v1h-1zM76 17h1v1h-1zM75 18h1v1h-1zM94 18h1v1h-1zM97 18h1v1h-1zM101 18h1v1h-1zM166 18h1v1h-1zM203 18h1v1h-1zM72 19h1v1h-1zM89 19h1v1h-1zM115 19h1v1h-1zM261 19h1v1h-1zM65 20h1v1h-1zM67 20h1v1h-1zM70 20h1v1h-1zM114 20h1v1h-1zM187 20h1v1h-1zM190 20h1v1h-1zM208 20h1v1h-1zM218 20h1v1h-1zM268 20h1v1h-1zM161 21h1v1h-1zM69 22h1v1h-1zM90 22h1v1h-1zM95 22h1v1h-1zM102 22h2v1h-2zM61 23h1v1h-1zM289 23h1v1h-1zM309 23h1v1h-1zM207 24h1v1h-1zM268 24h1v1h-1zM75 25h1v1h-1zM83 25h1v1h-1zM99 25h1v1h-1zM213 25h1v1h-1zM304 25h1v1h-1zM194 26h1v1h-1zM223 27h2v1h-2zM226 27h1v1h-1zM224 28h1v1h-1zM269 28h1v1h-1zM288 28h1v1h-1zM245 29h1v1h-1zM270 29h1v1h-1zM290 29h1v1h-1zM312 29h1v1h-1zM141 30h1v1h-1zM153 30h1v1h-1zM173 30h1v1h-1zM175 30h1v1h-1zM190 30h1v1h-1zM220 30h1v1h-1zM298 30h1v1h-1zM303 30h1v1h-1zM313 30h1v1h-1zM131 31h1v1h-1zM136 31h1v1h-1zM123 32h1v1h-1zM128 32h1v1h-1zM152 32h1v1h-1zM293 32h1v1h-1zM140 33h1v1h-1zM148 33h1v1h-1zM175 33h1v1h-1zM189 33h1v1h-1zM272 33h1v1h-1zM314 33h1v1h-1zM224 34h1v1h-1zM241 34h1v1h-1zM244 34h1v1h-1zM130 35h1v1h-1zM150 35h1v1h-1zM165 35h1v1h-1zM180 35h1v1h-1zM225 35h1v1h-1zM239 35h1v1h-1zM241 35h1v1h-1zM291 35h1v1h-1zM304 35h1v1h-1zM121 36h1v1h-1zM188 36h1v1h-1zM226 36h1v1h-1zM228 36h1v1h-1zM256 36h1v1h-1zM264 36h1v1h-1zM313 36h1v1h-1zM123 37h1v1h-1zM153 37h1v1h-1zM160 37h1v1h-1zM172 37h1v1h-1zM272 37h1v1h-1zM306 37h2v1h-2zM269 38h1v1h-1zM277 38h1v1h-1zM280 38h1v1h-1zM306 38h1v1h-1zM162 39h1v1h-1zM179 39h1v1h-1zM278 39h1v1h-1zM289 39h1v1h-1zM302 39h1v1h-1zM146 40h1v1h-1zM179 40h1v1h-1zM186 40h1v1h-1zM188 40h1v1h-1zM228 40h1v1h-1zM230 40h1v1h-1zM249 40h1v1h-1zM269 40h1v1h-1zM288 40h1v1h-1zM133 41h1v1h-1zM145 41h1v1h-1zM152 41h1v1h-1zM180 41h1v1h-1zM305 41h1v1h-1zM136 42h1v1h-1zM161 42h1v1h-1zM176 42h1v1h-1zM242 42h1v1h-1zM288 42h1v1h-1zM314 42h1v1h-1zM174 43h1v1h-1zM189 43h1v1h-1zM245 43h1v1h-1zM140 44h1v1h-1zM288 44h1v1h-1zM290 45h1v1h-1zM307 45h1v1h-1zM170 46h1v1h-1zM179 46h1v1h-1zM181 46h1v1h-1zM266 47h1v1h-1zM283 47h1v1h-1zM181 48h1v1h-1zM241 48h1v1h-1zM306 48h1v1h-1zM153 49h1v1h-1zM224 49h1v1h-1zM302 49h1v1h-1z"/>
<path fill="#352756" d="M198 5h1v1h-1zM77 17h1v1h-1zM166 17h1v1h-1zM289 17h1v1h-1zM301 17h1v1h-1zM69 18h1v1h-1zM162 18h1v1h-1zM202 18h1v1h-1zM248 18h1v1h-1zM251 18h1v1h-1zM261 18h1v1h-1zM66 19h1v1h-1zM69 19h1v1h-1zM98 19h1v1h-1zM159 19h1v1h-1zM161 19h1v1h-1zM173 19h1v1h-1zM190 19h1v1h-1zM210 19h1v1h-1zM212 19h1v1h-1zM289 19h1v1h-1zM63 20h1v1h-1zM68 20h1v1h-1zM97 20h1v1h-1zM167 20h1v1h-1zM174 20h1v1h-1zM191 20h1v1h-1zM196 20h1v1h-1zM273 20h1v1h-1zM287 20h1v1h-1zM71 21h1v1h-1zM76 21h1v1h-1zM82 21h1v1h-1zM97 21h1v1h-1zM190 21h1v1h-1zM211 21h1v1h-1zM248 21h1v1h-1zM287 21h1v1h-1zM71 22h1v1h-1zM101 22h1v1h-1zM162 22h1v1h-1zM181 22h2v1h-2zM70 23h1v1h-1zM76 23h1v1h-1zM97 23h1v1h-1zM207 23h1v1h-1zM89 24h2v1h-2zM96 24h1v1h-1zM98 24h1v1h-1zM103 24h1v1h-1zM195 24h1v1h-1zM217 24h1v1h-1zM302 25h1v1h-1zM256 26h1v1h-1zM262 26h1v1h-1zM287 26h1v1h-1zM280 27h1v1h-1zM232 28h1v1h-1zM242 28h1v1h-1zM289 28h1v1h-1zM303 28h1v1h-1zM311 28h1v1h-1zM246 29h1v1h-1zM249 29h1v1h-1zM297 29h1v1h-1zM303 29h1v1h-1zM316 29h1v1h-1zM121 30h1v1h-1zM136 30h1v1h-1zM138 30h1v1h-1zM215 30h2v1h-2zM219 30h1v1h-1zM221 30h1v1h-1zM297 30h1v1h-1zM157 31h1v1h-1zM179 31h1v1h-1zM228 31h1v1h-1zM236 31h1v1h-1zM245 31h1v1h-1zM278 31h1v1h-1zM296 31h1v1h-1zM132 32h1v1h-1zM148 32h1v1h-1zM177 32h1v1h-1zM180 32h1v1h-1zM229 32h1v1h-1zM231 32h1v1h-1zM139 33h1v1h-1zM243 34h1v1h-1zM245 34h1v1h-1zM279 34h1v1h-1zM148 35h1v1h-1zM227 35h1v1h-1zM306 35h1v1h-1zM141 36h1v1h-1zM181 36h1v1h-1zM231 36h1v1h-1zM231 37h1v1h-1zM239 37h1v1h-1zM271 37h1v1h-1zM130 38h1v1h-1zM132 38h1v1h-1zM186 38h1v1h-1zM227 38h1v1h-1zM165 39h1v1h-1zM180 39h1v1h-1zM228 39h1v1h-1zM243 39h1v1h-1zM246 39h1v1h-1zM122 40h1v1h-1zM141 40h1v1h-1zM225 40h1v1h-1zM231 40h1v1h-1zM247 40h1v1h-1zM265 40h1v1h-1zM305 40h1v1h-1zM157 41h1v1h-1zM172 41h1v1h-1zM188 41h1v1h-1zM275 41h1v1h-1zM306 41h1v1h-1zM232 42h1v1h-1zM266 42h1v1h-1zM277 42h1v1h-1zM304 42h2v1h-2zM123 43h2v1h-2zM138 43h1v1h-1zM153 43h1v1h-1zM159 43h1v1h-1zM180 43h1v1h-1zM289 43h1v1h-1zM307 43h1v1h-1zM138 44h1v1h-1zM304 44h1v1h-1zM132 45h1v1h-1zM138 45h3v1h-3zM165 45h1v1h-1zM277 45h1v1h-1zM297 45h1v1h-1zM234 47h1v1h-1zM255 47h1v1h-1zM129 48h1v1h-1zM132 48h1v1h-1zM164 48h1v1h-1zM169 48h1v1h-1zM187 48h1v1h-1zM224 48h1v1h-1zM266 48h1v1h-1zM303 48h1v1h-1zM310 48h1v1h-1zM137 49h1v1h-1zM143 49h1v1h-1zM164 49h1v1h-1zM225 49h1v1h-1zM244 49h1v1h-1zM272 49h1v1h-1z"/>
<path fill="#342751" d="M152 15h1v1h-1zM86 17h1v1h-1zM98 17h1v1h-1zM159 17h1v1h-1zM187 17h1v1h-1zM268 17h1v1h-1zM98 18h1v1h-1zM190 18h1v1h-1zM194 18h1v1h-1zM204 18h2v1h-2zM216 18h1v1h-1zM299 18h1v1h-1zM82 19h1v1h-1zM100 19h1v1h-1zM167 19h1v1h-1zM171 19h1v1h-1zM194 19h1v1h-1zM253 19h1v1h-1zM285 19h1v1h-1zM72 20h1v1h-1zM89 20h2v1h-2zM96 20h1v1h-1zM193 20h1v1h-1zM199 20h1v1h-1zM210 20h1v1h-1zM212 20h2v1h-2zM70 21h1v1h-1zM100 21h1v1h-1zM171 21h1v1h-1zM174 21h1v1h-1zM207 21h1v1h-1zM210 21h1v1h-1zM257 21h1v1h-1zM290 21h1v1h-1zM301 21h1v1h-1zM309 21h1v1h-1zM86 22h1v1h-1zM160 22h1v1h-1zM163 22h1v1h-1zM190 22h1v1h-1zM194 22h1v1h-1zM217 22h1v1h-1zM290 22h1v1h-1zM69 23h1v1h-1zM74 23h1v1h-1zM81 23h1v1h-1zM94 23h1v1h-1zM99 23h1v1h-1zM303 23h1v1h-1zM67 24h1v1h-1zM69 24h1v1h-1zM77 24h1v1h-1zM82 24h1v1h-1zM101 24h1v1h-1zM212 24h1v1h-1zM302 24h1v1h-1zM76 25h1v1h-1zM86 25h1v1h-1zM94 25h1v1h-1zM261 25h1v1h-1zM309 25h1v1h-1zM207 26h1v1h-1zM221 26h1v1h-1zM299 26h1v1h-1zM305 27h1v1h-1zM225 28h1v1h-1zM228 28h1v1h-1zM231 28h1v1h-1zM233 28h1v1h-1zM241 28h1v1h-1zM267 28h1v1h-1zM296 28h1v1h-1zM316 28h1v1h-1zM236 29h1v1h-1zM242 29h1v1h-1zM258 29h1v1h-1zM265 29h1v1h-1zM275 29h1v1h-1zM277 29h1v1h-1zM291 29h1v1h-1zM124 30h1v1h-1zM129 30h1v1h-1zM132 30h1v1h-1zM178 30h1v1h-1zM295 30h1v1h-1zM118 31h1v1h-1zM129 31h1v1h-1zM153 31h1v1h-1zM158 31h1v1h-1zM162 31h1v1h-1zM177 31h1v1h-1zM227 31h1v1h-1zM241 31h1v1h-1zM271 31h1v1h-1zM288 31h1v1h-1zM293 31h1v1h-1zM305 31h1v1h-1zM121 32h1v1h-1zM138 32h1v1h-1zM156 32h1v1h-1zM158 32h2v1h-2zM165 32h1v1h-1zM181 32h1v1h-1zM224 32h1v1h-1zM241 32h1v1h-1zM244 32h1v1h-1zM255 32h1v1h-1zM278 32h1v1h-1zM289 32h1v1h-1zM291 32h1v1h-1zM312 32h1v1h-1zM144 33h1v1h-1zM174 33h1v1h-1zM180 33h1v1h-1zM227 33h1v1h-1zM239 33h1v1h-1zM275 33h1v1h-1zM150 34h1v1h-1zM156 34h2v1h-2zM164 34h1v1h-1zM228 34h1v1h-1zM237 34h1v1h-1zM280 34h1v1h-1zM305 34h1v1h-1zM307 34h1v1h-1zM310 34h1v1h-1zM123 35h1v1h-1zM125 35h1v1h-1zM136 35h1v1h-1zM141 35h1v1h-1zM143 35h1v1h-1zM182 35h1v1h-1zM208 35h1v1h-1zM269 35h1v1h-1zM272 35h1v1h-1zM289 35h1v1h-1zM297 35h1v1h-1zM172 36h1v1h-1zM242 36h1v1h-1zM244 36h1v1h-1zM259 36h1v1h-1zM299 36h1v1h-1zM311 36h1v1h-1zM124 37h1v1h-1zM137 37h1v1h-1zM161 37h1v1h-1zM232 37h1v1h-1zM235 37h1v1h-1zM240 37h1v1h-1zM267 37h1v1h-1zM283 37h1v1h-1zM290 37h1v1h-1zM293 37h1v1h-1zM308 37h1v1h-1zM314 37h1v1h-1zM153 38h1v1h-1zM159 38h1v1h-1zM241 38h1v1h-1zM293 38h1v1h-1zM303 38h1v1h-1zM128 39h1v1h-1zM133 39h1v1h-1zM232 39h1v1h-1zM288 39h1v1h-1zM131 40h1v1h-1zM178 40h1v1h-1zM182 40h1v1h-1zM232 40h1v1h-1zM241 40h1v1h-1zM244 40h1v1h-1zM255 40h1v1h-1zM259 40h1v1h-1zM267 40h1v1h-1zM283 40h1v1h-1zM299 40h1v1h-1zM65 41h1v1h-1zM121 41h1v1h-1zM135 41h1v1h-1zM138 41h1v1h-1zM144 41h1v1h-1zM158 41h1v1h-1zM164 41h1v1h-1zM179 41h1v1h-1zM296 41h1v1h-1zM303 41h1v1h-1zM309 41h1v1h-1zM120 42h1v1h-1zM130 42h1v1h-1zM143 42h1v1h-1zM159 42h1v1h-1zM280 42h1v1h-1zM283 42h1v1h-1zM292 42h1v1h-1zM120 43h1v1h-1zM130 43h1v1h-1zM136 43h1v1h-1zM164 43h1v1h-1zM179 43h1v1h-1zM181 43h1v1h-1zM224 43h1v1h-1zM230 43h1v1h-1zM290 43h1v1h-1zM302 43h2v1h-2zM306 43h1v1h-1zM315 43h1v1h-1zM139 44h1v1h-1zM160 44h1v1h-1zM303 44h1v1h-1zM145 45h1v1h-1zM152 45h2v1h-2zM168 45h1v1h-1zM187 45h1v1h-1zM271 45h1v1h-1zM275 45h1v1h-1zM298 45h1v1h-1zM122 46h1v1h-1zM162 46h1v1h-1zM169 46h1v1h-1zM189 46h1v1h-1zM121 47h1v1h-1zM131 47h1v1h-1zM152 47h1v1h-1zM159 47h1v1h-1zM162 47h1v1h-1zM164 47h1v1h-1zM172 47h1v1h-1zM188 47h2v1h-2zM126 48h1v1h-1zM172 48h1v1h-1zM245 48h1v1h-1zM277 48h1v1h-1zM283 48h1v1h-1zM299 48h1v1h-1zM311 48h1v1h-1zM65 49h1v1h-1zM141 49h1v1h-1zM245 49h1v1h-1zM270 49h1v1h-1zM273 49h1v1h-1zM289 49h1v1h-1z"/>
<path fill="#33274B" d="M128 3h1v1h-1zM128 10h1v1h-1zM112 15h1v1h-1zM312 16h1v1h-1zM163 17h1v1h-1zM182 17h1v1h-1zM259 17h1v1h-1zM116 18h1v1h-1zM179 18h1v1h-1zM264 18h1v1h-1zM312 18h1v1h-1zM182 19h1v1h-1zM257 19h1v1h-1zM287 19h1v1h-1zM82 20h1v1h-1zM105 20h1v1h-1zM159 20h1v1h-1zM295 20h1v1h-1zM304 20h1v1h-1zM85 21h1v1h-1zM182 21h1v1h-1zM216 21h1v1h-1zM219 21h1v1h-1zM304 21h1v1h-1zM210 22h1v1h-1zM299 22h1v1h-1zM301 22h1v1h-1zM83 23h1v1h-1zM90 23h1v1h-1zM103 23h1v1h-1zM270 23h1v1h-1zM301 23h1v1h-1zM304 23h1v1h-1zM86 24h1v1h-1zM88 24h1v1h-1zM106 24h1v1h-1zM213 24h1v1h-1zM253 24h1v1h-1zM291 24h1v1h-1zM221 25h1v1h-1zM251 25h1v1h-1zM253 25h1v1h-1zM292 25h1v1h-1zM193 26h1v1h-1zM206 26h1v1h-1zM213 26h1v1h-1zM222 26h1v1h-1zM257 26h1v1h-1zM304 26h1v1h-1zM236 27h1v1h-1zM239 27h1v1h-1zM260 29h1v1h-1zM293 29h1v1h-1zM298 29h1v1h-1zM182 30h1v1h-1zM202 30h1v1h-1zM293 30h1v1h-1zM184 31h1v1h-1zM280 31h1v1h-1zM189 32h1v1h-1zM236 32h2v1h-2zM247 32h1v1h-1zM252 32h1v1h-1zM283 32h1v1h-1zM162 33h1v1h-1zM282 33h1v1h-1zM135 34h1v1h-1zM239 34h1v1h-1zM295 34h1v1h-1zM118 35h1v1h-1zM187 35h1v1h-1zM273 35h1v1h-1zM311 35h1v1h-1zM118 36h1v1h-1zM128 36h1v1h-1zM174 36h1v1h-1zM254 36h1v1h-1zM293 36h1v1h-1zM314 36h1v1h-1zM148 37h1v1h-1zM164 37h1v1h-1zM269 37h1v1h-1zM311 37h1v1h-1zM152 38h1v1h-1zM182 38h1v1h-1zM299 38h1v1h-1zM189 39h1v1h-1zM308 39h1v1h-1zM165 40h1v1h-1zM150 41h1v1h-1zM169 41h1v1h-1zM269 41h1v1h-1zM280 41h1v1h-1zM118 42h1v1h-1zM148 42h1v1h-1zM237 42h1v1h-1zM267 42h1v1h-1zM293 42h1v1h-1zM239 43h1v1h-1zM269 43h1v1h-1zM293 43h1v1h-1zM128 44h1v1h-1zM269 44h1v1h-1zM189 45h1v1h-1zM199 45h1v1h-1zM239 45h1v1h-1zM280 45h1v1h-1zM187 46h1v1h-1zM299 46h1v1h-1zM120 47h1v1h-1zM148 47h1v1h-1zM150 47h1v1h-1zM260 47h1v1h-1zM262 47h1v1h-1zM120 48h1v1h-1zM156 48h1v1h-1zM162 48h1v1h-1zM167 48h1v1h-1zM189 48h1v1h-1zM228 49h1v1h-1z"/>
<path fill="#31254D" d="M199 5h1v1h-1zM213 5h1v1h-1zM316 9h1v1h-1zM188 17h1v1h-1zM190 17h2v1h-2zM260 17h2v1h-2zM273 17h1v1h-1zM309 17h1v1h-1zM86 18h1v1h-1zM100 18h1v1h-1zM186 18h1v1h-1zM316 18h1v1h-1zM67 19h1v1h-1zM74 19h1v1h-1zM168 19h1v1h-1zM180 19h1v1h-1zM218 19h1v1h-1zM256 19h1v1h-1zM273 19h1v1h-1zM288 19h1v1h-1zM309 19h1v1h-1zM74 20h1v1h-1zM77 20h1v1h-1zM101 20h2v1h-2zM200 20h1v1h-1zM73 21h1v1h-1zM75 21h1v1h-1zM166 21h1v1h-1zM197 21h1v1h-1zM212 21h1v1h-1zM250 21h1v1h-1zM289 21h1v1h-1zM206 22h1v1h-1zM212 22h1v1h-1zM268 22h1v1h-1zM312 22h1v1h-1zM73 23h1v1h-1zM212 23h1v1h-1zM72 24h1v1h-1zM75 24h1v1h-1zM211 24h1v1h-1zM259 24h1v1h-1zM305 24h1v1h-1zM316 24h1v1h-1zM95 25h1v1h-1zM195 25h1v1h-1zM207 25h2v1h-2zM212 25h1v1h-1zM291 25h1v1h-1zM303 25h1v1h-1zM197 26h1v1h-1zM218 26h1v1h-1zM260 26h1v1h-1zM227 27h1v1h-1zM230 27h2v1h-2zM242 27h1v1h-1zM244 27h1v1h-1zM272 28h1v1h-1zM277 28h1v1h-1zM237 29h1v1h-1zM241 29h1v1h-1zM256 29h1v1h-1zM279 29h1v1h-1zM289 29h1v1h-1zM305 29h1v1h-1zM308 29h1v1h-1zM123 30h1v1h-1zM149 30h1v1h-1zM161 30h1v1h-1zM264 30h1v1h-1zM121 31h1v1h-1zM234 31h1v1h-1zM265 31h1v1h-1zM273 31h1v1h-1zM297 31h1v1h-1zM124 32h1v1h-1zM256 32h1v1h-1zM264 32h1v1h-1zM306 32h1v1h-1zM136 33h1v1h-1zM145 33h1v1h-1zM153 33h1v1h-1zM159 33h1v1h-1zM170 33h1v1h-1zM172 33h1v1h-1zM181 33h1v1h-1zM228 33h1v1h-1zM267 33h1v1h-1zM316 33h1v1h-1zM137 34h1v1h-1zM159 34h1v1h-1zM169 34h1v1h-1zM181 34h1v1h-1zM267 34h1v1h-1zM283 34h1v1h-1zM296 34h2v1h-2zM303 34h1v1h-1zM306 34h1v1h-1zM137 35h1v1h-1zM145 35h1v1h-1zM161 35h1v1h-1zM170 35h1v1h-1zM174 35h1v1h-1zM188 35h1v1h-1zM296 35h1v1h-1zM123 36h1v1h-1zM131 36h1v1h-1zM160 36h1v1h-1zM298 36h1v1h-1zM305 36h1v1h-1zM121 37h1v1h-1zM188 37h1v1h-1zM270 37h1v1h-1zM304 37h1v1h-1zM143 38h1v1h-1zM242 38h1v1h-1zM159 39h1v1h-1zM248 39h2v1h-2zM256 39h1v1h-1zM258 39h1v1h-1zM272 39h1v1h-1zM145 40h1v1h-1zM162 40h1v1h-1zM169 40h1v1h-1zM187 40h1v1h-1zM189 40h1v1h-1zM291 40h1v1h-1zM293 40h1v1h-1zM304 40h1v1h-1zM118 41h1v1h-1zM131 41h1v1h-1zM153 41h1v1h-1zM189 41h1v1h-1zM246 41h1v1h-1zM276 41h1v1h-1zM291 41h1v1h-1zM123 42h1v1h-1zM137 42h1v1h-1zM160 42h1v1h-1zM188 42h1v1h-1zM225 42h1v1h-1zM311 42h1v1h-1zM129 43h1v1h-1zM226 43h1v1h-1zM174 44h2v1h-2zM227 44h1v1h-1zM245 44h1v1h-1zM133 45h1v1h-1zM267 45h1v1h-1zM272 45h1v1h-1zM288 45h1v1h-1zM135 46h1v1h-1zM144 46h1v1h-1zM153 46h1v1h-1zM157 46h1v1h-1zM294 46h1v1h-1zM308 46h1v1h-1zM315 46h1v1h-1zM138 47h1v1h-1zM170 47h1v1h-1zM179 47h1v1h-1zM258 47h1v1h-1zM272 47h1v1h-1zM308 47h1v1h-1zM121 48h1v1h-1zM157 48h1v1h-1zM159 48h1v1h-1zM185 48h2v1h-2zM246 48h1v1h-1zM288 48h1v1h-1zM304 48h1v1h-1zM123 49h1v1h-1zM145 49h1v1h-1zM169 49h1v1h-1zM243 49h1v1h-1zM271 49h1v1h-1z"/>
<path fill="#2F2646" d="M97 2h1v1h-1zM84 7h1v1h-1zM204 7h1v1h-1zM185 18h1v1h-1zM165 19h1v1h-1zM193 19h1v1h-1zM304 19h1v1h-1zM291 20h1v1h-1zM104 21h1v1h-1zM191 21h1v1h-1zM247 21h1v1h-1zM253 21h1v1h-1zM259 21h1v1h-1zM63 22h1v1h-1zM171 22h1v1h-1zM193 22h1v1h-1zM219 22h1v1h-1zM221 22h1v1h-1zM86 23h1v1h-1zM272 23h1v1h-1zM274 23h1v1h-1zM104 24h1v1h-1zM216 24h1v1h-1zM286 25h1v1h-1zM208 26h1v1h-1zM270 26h1v1h-1zM301 26h1v1h-1zM294 27h1v1h-1zM311 27h1v1h-1zM170 30h1v1h-1zM195 30h1v1h-1zM209 30h1v1h-1zM187 31h1v1h-1zM249 32h1v1h-1zM311 33h1v1h-1zM185 34h1v1h-1zM187 34h1v1h-1zM164 36h1v1h-1zM179 37h1v1h-1zM133 38h1v1h-1zM273 38h1v1h-1zM311 38h1v1h-1zM233 40h1v1h-1zM148 41h1v1h-1zM228 43h1v1h-1zM311 44h1v1h-1zM127 45h1v1h-1zM273 45h1v1h-1zM288 46h1v1h-1zM309 46h1v1h-1zM118 47h1v1h-1zM233 47h1v1h-1zM247 47h1v1h-1zM249 47h1v1h-1zM293 47h1v1h-1zM117 49h1v1h-1zM168 49h1v1h-1zM177 49h1v1h-1zM208 49h1v1h-1zM223 49h1v1h-1zM275 49h1v1h-1zM280 49h1v1h-1z"/>
<path fill="#2F2448" d="M213 3h1v1h-1zM61 7h1v1h-1zM198 11h1v1h-1zM219 13h1v1h-1zM199 14h1v1h-1zM204 16h1v1h-1zM83 17h1v1h-1zM186 17h1v1h-1zM249 17h1v1h-1zM256 17h1v1h-1zM291 17h1v1h-1zM295 17h1v1h-1zM316 17h1v1h-1zM76 18h1v1h-1zM160 18h1v1h-1zM163 18h1v1h-1zM191 18h1v1h-1zM76 19h1v1h-1zM79 19h1v1h-1zM104 19h1v1h-1zM162 19h1v1h-1zM181 19h1v1h-1zM211 19h1v1h-1zM248 19h1v1h-1zM170 20h1v1h-1zM172 20h1v1h-1zM197 20h1v1h-1zM206 20h1v1h-1zM286 20h1v1h-1zM114 21h1v1h-1zM206 21h1v1h-1zM199 22h1v1h-1zM302 23h1v1h-1zM70 24h1v1h-1zM199 24h1v1h-1zM208 24h1v1h-1zM250 24h1v1h-1zM301 24h1v1h-1zM80 25h1v1h-1zM218 25h1v1h-1zM260 25h1v1h-1zM199 26h1v1h-1zM175 27h1v1h-1zM303 27h1v1h-1zM230 28h1v1h-1zM266 28h1v1h-1zM233 29h1v1h-1zM247 29h1v1h-1zM252 29h1v1h-1zM267 29h1v1h-1zM280 29h1v1h-1zM304 29h1v1h-1zM313 29h1v1h-1zM296 30h1v1h-1zM314 30h1v1h-1zM123 31h1v1h-1zM132 31h1v1h-1zM137 31h1v1h-1zM152 31h1v1h-1zM230 31h1v1h-1zM242 31h1v1h-1zM276 31h1v1h-1zM306 31h1v1h-1zM311 31h1v1h-1zM140 32h1v1h-1zM258 32h2v1h-2zM269 32h1v1h-1zM272 32h1v1h-1zM121 33h1v1h-1zM137 33h1v1h-1zM165 33h1v1h-1zM255 33h1v1h-1zM273 33h1v1h-1zM305 33h1v1h-1zM313 33h1v1h-1zM121 34h1v1h-1zM127 34h1v1h-1zM131 34h1v1h-1zM140 34h1v1h-1zM144 34h1v1h-1zM148 34h1v1h-1zM153 34h1v1h-1zM180 34h1v1h-1zM189 34h1v1h-1zM225 34h1v1h-1zM290 34h1v1h-1zM315 34h2v1h-2zM152 35h1v1h-1zM238 35h1v1h-1zM308 35h1v1h-1zM148 36h1v1h-1zM159 36h1v1h-1zM189 36h1v1h-1zM224 36h1v1h-1zM255 36h1v1h-1zM257 36h2v1h-2zM262 36h1v1h-1zM268 36h1v1h-1zM297 36h1v1h-1zM118 37h1v1h-1zM131 37h2v1h-2zM159 37h1v1h-1zM227 37h1v1h-1zM289 37h1v1h-1zM291 37h1v1h-1zM131 38h1v1h-1zM145 38h1v1h-1zM179 38h1v1h-1zM187 38h1v1h-1zM276 38h1v1h-1zM121 39h1v1h-1zM143 39h1v1h-1zM153 39h1v1h-1zM158 39h1v1h-1zM244 39h1v1h-1zM247 39h1v1h-1zM251 39h1v1h-1zM266 39h1v1h-1zM277 39h1v1h-1zM144 40h1v1h-1zM181 40h1v1h-1zM273 40h1v1h-1zM290 40h1v1h-1zM306 40h1v1h-1zM124 41h1v1h-1zM159 41h1v1h-1zM290 41h1v1h-1zM310 41h1v1h-1zM128 42h1v1h-1zM180 42h1v1h-1zM224 42h1v1h-1zM231 42h1v1h-1zM271 42h1v1h-1zM273 42h1v1h-1zM297 42h1v1h-1zM131 43h1v1h-1zM161 43h1v1h-1zM225 43h1v1h-1zM242 43h1v1h-1zM267 43h1v1h-1zM272 43h1v1h-1zM151 44h1v1h-1zM233 44h1v1h-1zM264 44h3v1h-3zM289 44h1v1h-1zM135 45h1v1h-1zM167 45h1v1h-1zM249 45h1v1h-1zM289 45h1v1h-1zM136 46h1v1h-1zM143 46h1v1h-1zM148 46h1v1h-1zM158 46h1v1h-1zM275 46h1v1h-1zM292 46h1v1h-1zM312 46h1v1h-1zM140 47h1v1h-1zM153 47h1v1h-1zM265 47h1v1h-1zM269 47h1v1h-1zM276 47h1v1h-1zM282 47h1v1h-1zM315 47h1v1h-1zM139 48h1v1h-1zM144 48h1v1h-1zM235 48h1v1h-1zM272 48h1v1h-1zM307 48h1v1h-1zM138 49h1v1h-1zM231 49h1v1h-1z"/>
<path fill="#2D2345" d="M213 2h1v1h-1zM112 10h1v1h-1zM112 12h1v1h-1zM196 15h1v1h-1zM79 17h1v1h-1zM160 17h1v1h-1zM168 17h1v1h-1zM172 17h1v1h-1zM175 17h1v1h-1zM194 17h1v1h-1zM203 17h1v1h-1zM248 17h1v1h-1zM250 17h1v1h-1zM63 18h1v1h-1zM253 18h1v1h-1zM313 18h1v1h-1zM160 19h1v1h-1zM208 19h1v1h-1zM265 19h1v1h-1zM69 20h1v1h-1zM181 20h1v1h-1zM188 20h1v1h-1zM216 20h1v1h-1zM86 21h1v1h-1zM170 21h1v1h-1zM273 21h1v1h-1zM202 22h1v1h-1zM207 22h1v1h-1zM269 22h1v1h-1zM100 23h2v1h-2zM197 23h1v1h-1zM200 23h1v1h-1zM266 23h1v1h-1zM194 24h1v1h-1zM210 24h1v1h-1zM260 24h1v1h-1zM197 25h1v1h-1zM202 25h1v1h-1zM206 25h1v1h-1zM266 25h1v1h-1zM273 25h1v1h-1zM301 25h1v1h-1zM198 26h1v1h-1zM200 26h1v1h-1zM212 26h1v1h-1zM261 26h1v1h-1zM313 26h1v1h-1zM232 27h1v1h-1zM277 27h2v1h-2zM309 27h1v1h-1zM255 28h1v1h-1zM309 28h1v1h-1zM314 29h1v1h-1zM139 30h1v1h-1zM159 30h1v1h-1zM176 30h1v1h-1zM224 31h1v1h-1zM264 31h1v1h-1zM307 31h1v1h-1zM133 33h1v1h-1zM179 33h1v1h-1zM246 33h1v1h-1zM265 33h1v1h-1zM270 33h1v1h-1zM292 33h1v1h-1zM123 34h1v1h-1zM172 34h1v1h-1zM176 34h1v1h-1zM264 34h1v1h-1zM157 35h1v1h-1zM164 35h1v1h-1zM167 35h1v1h-1zM181 35h1v1h-1zM235 35h1v1h-1zM270 35h1v1h-1zM292 35h1v1h-1zM312 35h1v1h-1zM161 36h1v1h-1zM227 36h1v1h-1zM310 36h1v1h-1zM277 37h1v1h-1zM137 38h1v1h-1zM158 38h1v1h-1zM234 38h1v1h-1zM313 38h1v1h-1zM137 39h1v1h-1zM225 39h1v1h-1zM230 39h1v1h-1zM242 39h1v1h-1zM245 39h1v1h-1zM265 39h1v1h-1zM305 39h1v1h-1zM123 40h1v1h-1zM153 40h1v1h-1zM245 40h1v1h-1zM129 41h1v1h-1zM139 41h1v1h-1zM170 41h2v1h-2zM297 41h1v1h-1zM307 41h1v1h-1zM144 42h1v1h-1zM153 42h1v1h-1zM187 42h1v1h-1zM228 42h1v1h-1zM274 42h1v1h-1zM312 42h1v1h-1zM132 43h1v1h-1zM135 43h1v1h-1zM165 43h1v1h-1zM231 43h2v1h-2zM288 43h1v1h-1zM305 43h1v1h-1zM149 44h1v1h-1zM172 44h1v1h-1zM307 44h1v1h-1zM121 46h1v1h-1zM131 46h1v1h-1zM133 47h1v1h-1zM137 47h1v1h-1zM256 47h1v1h-1zM267 47h1v1h-1zM280 47h1v1h-1zM180 48h1v1h-1zM269 48h1v1h-1zM136 49h1v1h-1zM162 49h1v1h-1z"/>
<path fill="#2C2242" d="M298 0h1v1h-1zM200 5h1v1h-1zM212 5h1v1h-1zM221 5h1v1h-1zM99 7h1v1h-1zM199 7h1v1h-1zM216 7h1v1h-1zM245 10h1v1h-1zM64 12h1v1h-1zM198 13h2v1h-2zM204 13h1v1h-1zM286 14h1v1h-1zM292 14h1v1h-1zM107 16h1v1h-1zM213 16h1v1h-1zM295 16h1v1h-1zM87 17h1v1h-1zM180 17h1v1h-1zM204 17h1v1h-1zM251 17h1v1h-1zM304 17h1v1h-1zM83 18h1v1h-1zM165 18h1v1h-1zM193 18h1v1h-1zM302 18h1v1h-1zM304 18h1v1h-1zM63 19h1v1h-1zM75 19h1v1h-1zM158 19h1v1h-1zM170 19h1v1h-1zM299 19h1v1h-1zM171 20h1v1h-1zM173 20h1v1h-1zM257 20h1v1h-1zM218 21h1v1h-1zM249 21h1v1h-1zM291 21h1v1h-1zM300 21h1v1h-1zM302 21h1v1h-1zM310 21h1v1h-1zM98 22h1v1h-1zM106 22h1v1h-1zM114 22h1v1h-1zM180 22h1v1h-1zM200 22h1v1h-1zM264 22h1v1h-1zM310 22h1v1h-1zM193 23h2v1h-2zM202 23h1v1h-1zM267 23h1v1h-1zM198 24h1v1h-1zM257 24h1v1h-1zM266 24h1v1h-1zM193 25h1v1h-1zM264 25h1v1h-1zM162 27h1v1h-1zM178 27h1v1h-1zM180 27h1v1h-1zM190 27h1v1h-1zM290 27h1v1h-1zM292 27h1v1h-1zM270 28h1v1h-1zM304 28h1v1h-1zM263 29h1v1h-1zM254 30h1v1h-1zM263 30h1v1h-1zM304 30h2v1h-2zM124 31h1v1h-1zM140 31h1v1h-1zM257 31h2v1h-2zM295 31h1v1h-1zM184 32h1v1h-1zM138 33h1v1h-1zM237 33h1v1h-1zM244 33h1v1h-1zM287 33h1v1h-1zM152 34h1v1h-1zM158 34h1v1h-1zM163 34h1v1h-1zM179 34h1v1h-1zM256 34h1v1h-1zM266 34h1v1h-1zM299 34h1v1h-1zM121 35h1v1h-1zM179 35h1v1h-1zM240 35h1v1h-1zM266 35h2v1h-2zM271 35h1v1h-1zM279 35h1v1h-1zM146 36h1v1h-1zM180 36h1v1h-1zM246 36h2v1h-2zM296 36h1v1h-1zM304 36h1v1h-1zM136 37h1v1h-1zM139 37h1v1h-1zM145 37h1v1h-1zM288 37h1v1h-1zM136 38h1v1h-1zM144 38h1v1h-1zM251 38h1v1h-1zM315 38h1v1h-1zM123 39h1v1h-1zM169 39h1v1h-1zM257 39h1v1h-1zM267 39h1v1h-1zM273 39h1v1h-1zM121 40h1v1h-1zM148 40h1v1h-1zM227 40h1v1h-1zM258 40h1v1h-1zM271 40h1v1h-1zM162 41h1v1h-1zM177 41h1v1h-1zM256 41h1v1h-1zM304 41h1v1h-1zM140 42h1v1h-1zM174 42h1v1h-1zM275 42h1v1h-1zM306 42h1v1h-1zM148 43h1v1h-1zM271 43h1v1h-1zM283 43h1v1h-1zM144 44h1v1h-1zM176 44h1v1h-1zM179 44h1v1h-1zM188 44h1v1h-1zM267 44h1v1h-1zM151 45h1v1h-1zM179 45h1v1h-1zM227 45h1v1h-1zM276 45h1v1h-1zM291 45h1v1h-1zM313 45h1v1h-1zM240 46h1v1h-1zM145 47h1v1h-1zM240 47h1v1h-1zM271 47h1v1h-1zM311 47h1v1h-1zM121 49h1v1h-1zM264 49h1v1h-1zM291 49h1v1h-1z"/>
<path fill="#2A213F" d="M212 1h2v1h-2zM214 2h1v1h-1zM221 3h1v1h-1zM286 4h1v1h-1zM73 7h1v1h-1zM69 9h1v1h-1zM68 10h1v1h-1zM210 10h1v1h-1zM65 12h1v1h-1zM212 13h1v1h-1zM106 15h1v1h-1zM211 15h1v1h-1zM199 16h1v1h-1zM310 16h1v1h-1zM162 17h1v1h-1zM198 17h2v1h-2zM254 17h1v1h-1zM81 18h1v1h-1zM273 18h1v1h-1zM163 19h1v1h-1zM201 19h1v1h-1zM250 19h1v1h-1zM301 19h1v1h-1zM76 20h1v1h-1zM98 20h1v1h-1zM100 20h1v1h-1zM192 20h1v1h-1zM256 20h1v1h-1zM172 21h1v1h-1zM188 21h1v1h-1zM76 22h1v1h-1zM186 22h1v1h-1zM211 22h1v1h-1zM303 22h1v1h-1zM208 23h1v1h-1zM256 23h1v1h-1zM114 25h1v1h-1zM211 25h1v1h-1zM248 25h1v1h-1zM259 25h1v1h-1zM267 25h1v1h-1zM211 26h1v1h-1zM216 26h1v1h-1zM171 27h2v1h-2zM245 27h1v1h-1zM276 27h1v1h-1zM271 28h1v1h-1zM238 29h1v1h-1zM240 29h1v1h-1zM271 29h1v1h-1zM306 29h1v1h-1zM194 30h1v1h-1zM252 30h1v1h-1zM231 31h1v1h-1zM238 31h1v1h-1zM277 31h1v1h-1zM303 31h1v1h-1zM120 32h1v1h-1zM230 32h1v1h-1zM245 32h1v1h-1zM308 32h1v1h-1zM236 33h1v1h-1zM306 33h1v1h-1zM126 34h1v1h-1zM227 34h1v1h-1zM257 34h1v1h-1zM269 34h1v1h-1zM271 34h1v1h-1zM153 35h1v1h-1zM162 35h1v1h-1zM189 35h1v1h-1zM248 36h1v1h-1zM260 36h1v1h-1zM295 36h1v1h-1zM174 37h1v1h-1zM189 37h1v1h-1zM235 38h1v1h-1zM246 38h1v1h-1zM266 38h1v1h-1zM152 39h1v1h-1zM166 39h1v1h-1zM236 39h1v1h-1zM263 39h1v1h-1zM275 39h1v1h-1zM303 39h1v1h-1zM306 39h1v1h-1zM133 40h1v1h-1zM137 40h1v1h-1zM246 40h1v1h-1zM292 40h1v1h-1zM123 41h1v1h-1zM267 41h1v1h-1zM315 41h1v1h-1zM131 42h1v1h-1zM189 42h1v1h-1zM255 42h1v1h-1zM307 42h1v1h-1zM183 43h1v1h-1zM309 43h1v1h-1zM180 44h1v1h-1zM273 44h1v1h-1zM313 44h2v1h-2zM279 45h1v1h-1zM296 45h1v1h-1zM235 46h1v1h-1zM180 47h2v1h-2zM246 47h1v1h-1zM264 47h1v1h-1zM270 47h1v1h-1zM275 47h1v1h-1zM294 47h1v1h-1zM138 48h1v1h-1zM233 48h2v1h-2zM275 48h1v1h-1zM131 49h1v1h-1zM144 49h1v1h-1zM232 49h1v1h-1zM242 49h1v1h-1zM278 49h1v1h-1zM283 49h1v1h-1z"/>
<path fill="#29213D" d="M86 1h1v1h-1zM212 2h1v1h-1zM216 2h1v1h-1zM90 3h1v1h-1zM199 3h1v1h-1zM214 3h1v1h-1zM270 4h1v1h-1zM201 5h1v1h-1zM210 5h1v1h-1zM304 5h1v1h-1zM204 6h1v1h-1zM316 6h1v1h-1zM60 7h1v1h-1zM68 7h1v1h-1zM216 9h1v1h-1zM78 10h1v1h-1zM202 11h1v1h-1zM207 11h1v1h-1zM216 11h1v1h-1zM76 12h1v1h-1zM78 12h1v1h-1zM86 12h1v1h-1zM213 13h1v1h-1zM100 14h1v1h-1zM198 14h1v1h-1zM207 14h1v1h-1zM212 14h2v1h-2zM316 14h1v1h-1zM60 15h3v1h-3zM65 15h1v1h-1zM99 15h1v1h-1zM107 15h2v1h-2zM115 15h1v1h-1zM210 15h1v1h-1zM216 15h1v1h-1zM286 15h1v1h-1zM203 16h1v1h-1zM207 16h1v1h-1zM219 16h1v1h-1zM311 16h1v1h-1zM114 17h1v1h-1zM195 17h1v1h-1zM271 17h1v1h-1zM302 17h1v1h-1zM308 18h1v1h-1zM83 19h1v1h-1zM106 19h1v1h-1zM198 19h1v1h-1zM266 19h1v1h-1zM198 20h1v1h-1zM272 20h1v1h-1zM303 20h1v1h-1zM308 20h1v1h-1zM162 21h1v1h-1zM193 21h1v1h-1zM198 21h1v1h-1zM251 21h1v1h-1zM201 22h1v1h-1zM213 22h1v1h-1zM250 22h1v1h-1zM79 23h1v1h-1zM95 23h1v1h-1zM264 23h1v1h-1zM308 23h1v1h-1zM193 24h1v1h-1zM201 24h1v1h-1zM264 24h1v1h-1zM273 24h1v1h-1zM247 25h1v1h-1zM272 25h1v1h-1zM316 25h1v1h-1zM201 26h1v1h-1zM219 26h1v1h-1zM255 26h1v1h-1zM265 26h1v1h-1zM267 26h1v1h-1zM303 26h1v1h-1zM314 26h1v1h-1zM161 27h1v1h-1zM187 27h1v1h-1zM240 27h1v1h-1zM292 28h1v1h-1zM259 29h1v1h-1zM276 29h1v1h-1zM135 30h1v1h-1zM140 30h1v1h-1zM171 30h1v1h-1zM189 30h1v1h-1zM249 30h1v1h-1zM257 30h1v1h-1zM309 30h1v1h-1zM275 31h1v1h-1zM119 32h1v1h-1zM129 32h1v1h-1zM149 32h1v1h-1zM157 32h1v1h-1zM267 32h1v1h-1zM124 33h1v1h-1zM132 33h1v1h-1zM152 33h1v1h-1zM254 33h1v1h-1zM259 33h1v1h-1zM162 34h1v1h-1zM288 34h1v1h-1zM308 34h1v1h-1zM124 35h1v1h-1zM131 35h1v1h-1zM132 36h1v1h-1zM145 36h1v1h-1zM241 36h1v1h-1zM269 36h1v1h-1zM228 37h1v1h-1zM299 37h1v1h-1zM313 37h1v1h-1zM233 38h1v1h-1zM247 38h1v1h-1zM255 38h1v1h-1zM259 38h1v1h-1zM291 38h1v1h-1zM304 38h1v1h-1zM131 39h1v1h-1zM186 39h1v1h-1zM252 39h1v1h-1zM307 39h1v1h-1zM315 39h1v1h-1zM128 40h1v1h-1zM136 40h1v1h-1zM138 40h1v1h-1zM163 40h1v1h-1zM239 40h1v1h-1zM256 40h1v1h-1zM272 40h1v1h-1zM247 41h1v1h-1zM258 41h1v1h-1zM282 41h1v1h-1zM308 41h1v1h-1zM158 42h1v1h-1zM170 42h1v1h-1zM179 42h1v1h-1zM185 42h1v1h-1zM258 42h1v1h-1zM238 43h1v1h-1zM308 43h1v1h-1zM157 44h1v1h-1zM298 44h1v1h-1zM133 46h1v1h-1zM137 46h2v1h-2zM271 46h1v1h-1zM157 47h1v1h-1zM165 47h1v1h-1zM259 47h1v1h-1zM158 48h1v1h-1zM290 48h1v1h-1zM309 48h1v1h-1zM124 49h1v1h-1zM304 49h1v1h-1z"/>
<path fill="#2C2731" d="M90 0h1v1h-1zM300 0h1v1h-1zM116 1h1v1h-1zM164 1h1v1h-1zM193 1h1v1h-1zM300 1h1v1h-1zM304 1h1v1h-1zM66 2h1v1h-1zM90 2h1v1h-1zM122 2h1v1h-1zM147 3h1v1h-1zM222 3h1v1h-1zM300 3h1v1h-1zM204 4h1v1h-1zM94 6h1v1h-1zM97 7h1v1h-1zM112 9h1v1h-1zM116 9h1v1h-1zM118 9h1v1h-1zM154 9h1v1h-1zM103 10h1v1h-1zM105 10h1v1h-1zM193 10h1v1h-1zM94 11h1v1h-1zM154 11h1v1h-1zM269 11h1v1h-1zM118 13h1v1h-1zM154 13h1v1h-1zM112 14h1v1h-1zM116 14h1v1h-1zM122 15h1v1h-1zM97 16h1v1h-1zM81 17h1v1h-1zM274 17h1v1h-1zM72 18h1v1h-1zM87 19h1v1h-1zM95 19h1v1h-1zM203 19h1v1h-1zM214 19h1v1h-1zM95 20h1v1h-1zM104 20h1v1h-1zM155 20h1v1h-1zM274 20h1v1h-1zM163 21h1v1h-1zM186 21h1v1h-1zM192 21h1v1h-1zM258 21h1v1h-1zM264 21h1v1h-1zM312 21h1v1h-1zM104 22h1v1h-1zM295 22h1v1h-1zM297 22h1v1h-1zM63 23h1v1h-1zM98 23h1v1h-1zM205 23h1v1h-1zM295 23h1v1h-1zM87 24h1v1h-1zM114 24h1v1h-1zM202 24h1v1h-1zM204 24h2v1h-2zM255 24h1v1h-1zM312 24h1v1h-1zM314 24h1v1h-1zM255 25h1v1h-1zM274 25h1v1h-1zM314 25h1v1h-1zM220 26h1v1h-1zM271 26h1v1h-1zM295 26h1v1h-1zM298 26h1v1h-1zM312 26h1v1h-1zM233 27h1v1h-1zM312 27h1v1h-1zM227 28h1v1h-1zM211 30h1v1h-1zM285 31h1v1h-1zM126 32h1v1h-1zM134 32h1v1h-1zM155 32h1v1h-1zM234 32h1v1h-1zM248 32h1v1h-1zM103 33h1v1h-1zM119 33h1v1h-1zM184 33h1v1h-1zM294 33h1v1h-1zM177 34h1v1h-1zM233 34h1v1h-1zM238 34h1v1h-1zM117 35h1v1h-1zM166 35h1v1h-1zM200 35h1v1h-1zM205 35h1v1h-1zM209 35h1v1h-1zM234 35h1v1h-1zM275 35h1v1h-1zM152 36h1v1h-1zM292 36h1v1h-1zM294 36h1v1h-1zM312 36h1v1h-1zM117 37h1v1h-1zM149 37h1v1h-1zM184 37h1v1h-1zM201 37h1v1h-1zM312 37h1v1h-1zM117 38h1v1h-1zM286 38h1v1h-1zM294 38h1v1h-1zM135 39h1v1h-1zM151 39h1v1h-1zM253 39h1v1h-1zM127 40h1v1h-1zM149 40h1v1h-1zM238 40h1v1h-1zM282 40h1v1h-1zM312 40h1v1h-1zM167 41h1v1h-1zM186 41h1v1h-1zM286 41h1v1h-1zM165 42h1v1h-1zM227 42h1v1h-1zM239 42h1v1h-1zM282 42h1v1h-1zM241 43h1v1h-1zM129 44h1v1h-1zM222 44h1v1h-1zM299 44h1v1h-1zM129 45h1v1h-1zM117 46h1v1h-1zM128 46h1v1h-1zM119 47h1v1h-1zM151 47h1v1h-1zM163 47h1v1h-1zM167 47h1v1h-1zM184 47h1v1h-1zM248 47h1v1h-1zM287 48h1v1h-1zM119 49h1v1h-1zM128 49h1v1h-1zM149 49h1v1h-1zM212 49h1v1h-1zM274 49h1v1h-1z"/>
<path fill="#292724" d="M116 0h1v1h-1zM192 0h1v1h-1zM222 0h1v1h-1zM304 0h1v1h-1zM98 1h1v1h-1zM151 1h1v1h-1zM194 1h1v1h-1zM96 2h1v1h-1zM142 2h1v1h-1zM152 2h1v1h-1zM116 3h1v1h-1zM122 3h1v1h-1zM129 3h1v1h-1zM217 3h1v1h-1zM253 3h1v1h-1zM285 3h1v1h-1zM304 3h1v1h-1zM113 4h1v1h-1zM141 4h1v1h-1zM128 5h1v1h-1zM71 6h1v1h-1zM205 6h1v1h-1zM285 6h1v1h-1zM85 7h1v1h-1zM116 7h1v1h-1zM134 7h1v1h-1zM66 8h1v1h-1zM224 8h1v1h-1zM253 8h1v1h-1zM257 8h1v1h-1zM259 8h1v1h-1zM121 9h1v1h-1zM163 9h1v1h-1zM258 9h1v1h-1zM67 10h1v1h-1zM93 10h1v1h-1zM222 10h1v1h-1zM232 10h1v1h-1zM264 10h1v1h-1zM129 11h1v1h-1zM151 11h1v1h-1zM192 11h1v1h-1zM88 12h1v1h-1zM104 12h1v1h-1zM164 12h1v1h-1zM257 12h1v1h-1zM266 12h1v1h-1zM134 13h1v1h-1zM270 13h1v1h-1zM273 13h1v1h-1zM93 14h1v1h-1zM96 14h1v1h-1zM98 14h1v1h-1zM192 14h1v1h-1zM232 14h1v1h-1zM280 14h1v1h-1zM129 15h1v1h-1zM153 15h1v1h-1zM257 15h1v1h-1zM98 16h1v1h-1zM120 16h1v1h-1zM192 16h1v1h-1zM232 16h1v1h-1zM183 17h1v1h-1zM293 17h1v1h-1zM164 19h1v1h-1zM295 19h1v1h-1zM297 19h1v1h-1zM297 20h1v1h-1zM306 20h1v1h-1zM314 20h1v1h-1zM308 21h1v1h-1zM315 21h1v1h-1zM209 22h1v1h-1zM85 23h1v1h-1zM294 23h1v1h-1zM83 24h1v1h-1zM209 24h1v1h-1zM292 24h1v1h-1zM315 24h1v1h-1zM85 25h1v1h-1zM294 25h1v1h-1zM305 25h1v1h-1zM105 26h1v1h-1zM205 26h1v1h-1zM251 26h1v1h-1zM297 26h1v1h-1zM166 27h1v1h-1zM222 28h1v1h-1zM234 28h1v1h-1zM125 29h1v1h-1zM191 29h1v1h-1zM212 29h1v1h-1zM166 30h1v1h-1zM183 30h1v1h-1zM119 31h1v1h-1zM287 31h1v1h-1zM166 32h1v1h-1zM168 32h1v1h-1zM228 32h1v1h-1zM167 34h1v1h-1zM184 34h1v1h-1zM186 34h1v1h-1zM274 34h1v1h-1zM119 35h1v1h-1zM198 35h1v1h-1zM212 35h1v1h-1zM222 35h1v1h-1zM134 36h1v1h-1zM183 36h1v1h-1zM127 38h1v1h-1zM162 38h1v1h-1zM281 38h1v1h-1zM310 38h1v1h-1zM119 39h1v1h-1zM127 39h1v1h-1zM240 39h1v1h-1zM120 40h1v1h-1zM184 40h1v1h-1zM252 40h1v1h-1zM113 41h2v1h-2zM167 42h1v1h-1zM183 42h1v1h-1zM254 43h1v1h-1zM264 43h1v1h-1zM292 43h1v1h-1zM115 44h1v1h-1zM127 44h1v1h-1zM199 44h1v1h-1zM287 44h1v1h-1zM281 46h1v1h-1zM285 46h1v1h-1zM89 47h1v1h-1zM110 47h1v1h-1zM110 48h1v1h-1zM253 48h1v1h-1zM74 49h1v1h-1zM114 49h1v1h-1zM222 49h1v1h-1z"/>
<path fill="#27271D" d="M83 0h1v1h-1zM92 0h2v1h-2zM95 0h1v1h-1zM98 0h1v1h-1zM121 0h1v1h-1zM143 0h1v1h-1zM150 0h2v1h-2zM240 0h1v1h-1zM242 0h1v1h-1zM244 0h1v1h-1zM250 0h1v1h-1zM258 0h1v1h-1zM261 0h1v1h-1zM264 0h1v1h-1zM278 0h1v1h-1zM142 1h1v1h-1zM224 1h2v1h-2zM236 1h1v1h-1zM258 1h1v1h-1zM278 1h1v1h-1zM281 1h1v1h-1zM284 1h1v1h-1zM95 2h1v1h-1zM195 2h1v1h-1zM238 2h1v1h-1zM240 2h1v1h-1zM244 2h1v1h-1zM259 2h1v1h-1zM285 2h1v1h-1zM289 2h1v1h-1zM301 2h1v1h-1zM303 2h1v1h-1zM313 2h1v1h-1zM114 3h1v1h-1zM140 3h1v1h-1zM83 4h1v1h-1zM88 4h1v1h-1zM116 4h1v1h-1zM128 4h1v1h-1zM132 4h1v1h-1zM134 4h1v1h-1zM136 4h1v1h-1zM143 4h1v1h-1zM151 4h1v1h-1zM193 4h1v1h-1zM230 4h1v1h-1zM232 4h1v1h-1zM234 4h1v1h-1zM66 5h1v1h-1zM119 5h1v1h-1zM143 5h1v1h-1zM154 5h1v1h-1zM192 5h1v1h-1zM242 5h1v1h-1zM250 5h1v1h-1zM255 5h1v1h-1zM259 5h1v1h-1zM264 5h1v1h-1zM275 5h1v1h-1zM281 5h2v1h-2zM88 6h1v1h-1zM143 6h1v1h-1zM243 6h1v1h-1zM258 6h1v1h-1zM278 6h1v1h-1zM282 6h2v1h-2zM301 6h1v1h-1zM88 7h1v1h-1zM96 7h1v1h-1zM121 7h1v1h-1zM147 7h1v1h-1zM151 7h1v1h-1zM235 7h1v1h-1zM257 7h1v1h-1zM259 7h2v1h-2zM278 7h1v1h-1zM289 7h1v1h-1zM306 7h1v1h-1zM116 8h1v1h-1zM122 8h1v1h-1zM194 8h2v1h-2zM230 8h2v1h-2zM278 8h1v1h-1zM280 8h1v1h-1zM293 8h1v1h-1zM95 9h1v1h-1zM104 9h1v1h-1zM142 9h1v1h-1zM192 9h1v1h-1zM224 9h1v1h-1zM227 9h1v1h-1zM233 9h1v1h-1zM235 9h1v1h-1zM278 9h1v1h-1zM96 10h1v1h-1zM280 10h1v1h-1zM284 10h1v1h-1zM289 10h1v1h-1zM142 11h1v1h-1zM223 11h1v1h-1zM268 11h1v1h-1zM273 11h1v1h-1zM222 12h1v1h-1zM240 12h1v1h-1zM305 12h1v1h-1zM63 13h1v1h-1zM121 13h1v1h-1zM233 13h2v1h-2zM239 13h1v1h-1zM250 13h1v1h-1zM253 13h2v1h-2zM259 13h1v1h-1zM264 13h1v1h-1zM266 13h1v1h-1zM114 14h1v1h-1zM119 14h1v1h-1zM140 14h2v1h-2zM234 14h1v1h-1zM244 14h1v1h-1zM140 15h2v1h-2zM265 15h1v1h-1zM275 15h1v1h-1zM278 15h1v1h-1zM88 16h1v1h-1zM95 16h1v1h-1zM118 16h1v1h-1zM124 16h1v1h-1zM222 16h1v1h-1zM237 16h1v1h-1zM214 17h1v1h-1zM60 19h1v1h-1zM84 19h1v1h-1zM259 19h1v1h-1zM312 19h1v1h-1zM184 20h1v1h-1zM168 23h1v1h-1zM183 23h1v1h-1zM60 24h1v1h-1zM80 24h1v1h-1zM186 24h1v1h-1zM169 25h1v1h-1zM191 25h1v1h-1zM83 26h1v1h-1zM93 26h1v1h-1zM118 26h1v1h-1zM126 26h1v1h-1zM128 26h1v1h-1zM135 26h2v1h-2zM139 26h2v1h-2zM147 26h2v1h-2zM119 27h1v1h-1zM129 27h1v1h-1zM198 27h1v1h-1zM200 27h1v1h-1zM203 27h1v1h-1zM210 27h1v1h-1zM212 27h1v1h-1zM215 27h1v1h-1zM219 27h2v1h-2zM253 27h1v1h-1zM125 28h1v1h-1zM127 28h1v1h-1zM133 28h1v1h-1zM136 28h2v1h-2zM141 28h1v1h-1zM151 28h1v1h-1zM158 28h1v1h-1zM160 28h1v1h-1zM166 28h1v1h-1zM168 28h1v1h-1zM188 28h2v1h-2zM193 28h1v1h-1zM196 28h1v1h-1zM198 28h1v1h-1zM133 29h1v1h-1zM139 29h2v1h-2zM143 29h1v1h-1zM194 29h1v1h-1zM207 29h2v1h-2zM216 29h1v1h-1zM219 29h1v1h-1zM221 29h1v1h-1zM288 30h2v1h-2zM194 35h1v1h-1zM202 35h1v1h-1zM219 35h1v1h-1zM287 35h1v1h-1zM199 37h1v1h-1zM218 37h1v1h-1zM261 39h1v1h-1zM296 39h2v1h-2zM256 43h2v1h-2zM166 44h1v1h-1zM213 44h1v1h-1zM218 44h2v1h-2zM208 45h1v1h-1zM213 45h1v1h-1zM167 46h1v1h-1zM197 47h1v1h-1zM199 47h1v1h-1zM214 47h2v1h-2zM217 47h1v1h-1zM220 47h1v1h-1zM60 48h1v1h-1zM89 48h1v1h-1zM106 48h1v1h-1zM194 48h1v1h-1zM198 48h1v1h-1zM201 48h1v1h-1zM204 48h1v1h-1zM207 48h1v1h-1zM213 48h1v1h-1zM213 49h1v1h-1zM219 49h1v1h-1z"/>
<path fill="#282233" d="M221 0h1v1h-1zM99 1h1v1h-1zM304 2h1v1h-1zM270 3h1v1h-1zM305 4h1v1h-1zM216 8h1v1h-1zM94 10h1v1h-1zM206 10h1v1h-1zM216 10h1v1h-1zM218 10h1v1h-1zM70 11h1v1h-1zM152 11h1v1h-1zM94 12h1v1h-1zM204 12h1v1h-1zM68 13h1v1h-1zM94 13h1v1h-1zM68 14h1v1h-1zM97 14h1v1h-1zM221 14h1v1h-1zM270 14h1v1h-1zM116 16h1v1h-1zM80 17h1v1h-1zM93 17h1v1h-1zM104 18h1v1h-1zM274 18h1v1h-1zM93 19h1v1h-1zM219 19h1v1h-1zM260 19h1v1h-1zM264 19h1v1h-1zM291 19h1v1h-1zM163 20h1v1h-1zM179 20h1v1h-1zM251 20h1v1h-1zM253 20h1v1h-1zM87 22h1v1h-1zM204 23h1v1h-1zM286 23h1v1h-1zM254 24h1v1h-1zM219 25h1v1h-1zM308 25h1v1h-1zM210 26h1v1h-1zM283 27h1v1h-1zM279 28h1v1h-1zM156 30h1v1h-1zM246 30h1v1h-1zM126 33h1v1h-1zM149 33h1v1h-1zM183 33h1v1h-1zM187 33h1v1h-1zM149 35h1v1h-1zM280 35h1v1h-1zM309 35h1v1h-1zM133 36h1v1h-1zM162 36h1v1h-1zM233 36h1v1h-1zM280 36h1v1h-1zM167 37h1v1h-1zM284 37h1v1h-1zM155 39h1v1h-1zM235 40h1v1h-1zM311 40h1v1h-1zM187 41h1v1h-1zM182 42h1v1h-1zM252 42h1v1h-1zM119 44h1v1h-1zM234 44h1v1h-1zM309 44h1v1h-1zM311 45h1v1h-1zM279 46h1v1h-1zM254 48h1v1h-1zM284 48h1v1h-1zM148 49h1v1h-1z"/>
<path fill="#252322" d="M87 0h1v1h-1zM105 0h1v1h-1zM109 0h1v1h-1zM152 0h1v1h-1zM217 0h1v1h-1zM288 0h1v1h-1zM290 0h1v1h-1zM293 0h1v1h-1zM66 1h1v1h-1zM90 1h1v1h-1zM129 1h1v1h-1zM299 1h1v1h-1zM193 2h1v1h-1zM294 2h1v1h-1zM67 3h1v1h-1zM259 3h1v1h-1zM94 4h1v1h-1zM96 4h1v1h-1zM98 4h1v1h-1zM244 4h1v1h-1zM290 4h1v1h-1zM280 5h1v1h-1zM300 5h1v1h-1zM67 6h1v1h-1zM274 6h1v1h-1zM242 7h1v1h-1zM244 7h1v1h-1zM104 8h1v1h-1zM112 8h1v1h-1zM255 8h1v1h-1zM272 8h1v1h-1zM152 9h1v1h-1zM158 9h1v1h-1zM113 10h1v1h-1zM195 10h1v1h-1zM72 11h1v1h-1zM122 11h1v1h-1zM301 11h1v1h-1zM98 12h1v1h-1zM217 12h1v1h-1zM232 12h1v1h-1zM259 12h1v1h-1zM116 13h1v1h-1zM275 13h1v1h-1zM128 14h1v1h-1zM242 14h1v1h-1zM258 14h1v1h-1zM299 14h1v1h-1zM67 15h1v1h-1zM232 15h1v1h-1zM113 16h1v1h-1zM217 16h1v1h-1zM234 16h1v1h-1zM272 16h1v1h-1zM301 16h1v1h-1zM255 18h1v1h-1zM204 19h1v1h-1zM203 20h1v1h-1zM292 20h1v1h-1zM307 20h1v1h-1zM81 21h1v1h-1zM84 21h1v1h-1zM209 21h1v1h-1zM214 22h1v1h-1zM258 22h1v1h-1zM298 22h1v1h-1zM167 23h1v1h-1zM252 23h1v1h-1zM192 24h1v1h-1zM306 24h1v1h-1zM189 25h1v1h-1zM296 25h1v1h-1zM141 26h1v1h-1zM191 26h1v1h-1zM214 26h1v1h-1zM216 27h1v1h-1zM235 28h1v1h-1zM121 29h1v1h-1zM167 29h1v1h-1zM205 29h1v1h-1zM281 29h1v1h-1zM292 30h1v1h-1zM310 31h1v1h-1zM286 32h1v1h-1zM134 33h1v1h-1zM168 33h1v1h-1zM281 34h1v1h-1zM214 35h1v1h-1zM253 35h1v1h-1zM126 37h1v1h-1zM234 37h1v1h-1zM134 38h1v1h-1zM253 38h1v1h-1zM235 39h1v1h-1zM134 40h1v1h-1zM310 40h1v1h-1zM285 41h1v1h-1zM134 42h1v1h-1zM247 43h1v1h-1zM208 44h1v1h-1zM287 45h1v1h-1zM274 46h1v1h-1zM166 47h1v1h-1zM91 48h1v1h-1zM103 48h1v1h-1zM99 49h1v1h-1zM103 49h1v1h-1zM110 49h1v1h-1zM115 49h1v1h-1zM207 49h1v1h-1zM281 49h1v1h-1z"/>
<path fill="#28203A" d="M100 1h1v1h-1zM204 1h1v1h-1zM290 1h1v1h-1zM86 2h1v1h-1zM197 2h1v1h-1zM210 2h1v1h-1zM204 3h1v1h-1zM218 3h1v1h-1zM269 4h1v1h-1zM287 4h1v1h-1zM196 5h2v1h-2zM211 5h1v1h-1zM65 7h1v1h-1zM94 7h1v1h-1zM109 7h1v1h-1zM214 7h1v1h-1zM304 7h1v1h-1zM109 8h1v1h-1zM198 8h1v1h-1zM210 9h1v1h-1zM215 9h1v1h-1zM90 10h1v1h-1zM214 10h1v1h-1zM221 10h1v1h-1zM199 11h1v1h-1zM204 11h1v1h-1zM77 12h1v1h-1zM107 12h1v1h-1zM113 12h1v1h-1zM115 12h1v1h-1zM316 12h1v1h-1zM111 13h1v1h-1zM214 13h1v1h-1zM195 14h1v1h-1zM208 14h1v1h-1zM291 14h1v1h-1zM304 14h1v1h-1zM105 15h1v1h-1zM292 15h1v1h-1zM76 16h1v1h-1zM111 16h1v1h-1zM210 16h1v1h-1zM216 16h1v1h-1zM296 16h1v1h-1zM298 16h1v1h-1zM304 16h1v1h-1zM179 17h1v1h-1zM206 17h1v1h-1zM211 17h1v1h-1zM266 17h2v1h-2zM294 17h1v1h-1zM300 17h1v1h-1zM303 17h1v1h-1zM199 19h1v1h-1zM254 19h1v1h-1zM267 19h1v1h-1zM73 20h1v1h-1zM75 20h1v1h-1zM86 20h1v1h-1zM182 20h1v1h-1zM202 20h1v1h-1zM211 20h1v1h-1zM187 21h1v1h-1zM194 21h1v1h-1zM202 21h1v1h-1zM208 21h1v1h-1zM187 22h1v1h-1zM197 22h1v1h-1zM218 22h1v1h-1zM261 22h2v1h-2zM302 22h1v1h-1zM87 23h1v1h-1zM201 23h1v1h-1zM102 24h1v1h-1zM265 24h1v1h-1zM311 24h1v1h-1zM203 25h1v1h-1zM263 25h1v1h-1zM172 26h1v1h-1zM266 26h1v1h-1zM160 27h1v1h-1zM173 27h1v1h-1zM176 27h1v1h-1zM225 27h1v1h-1zM291 27h1v1h-1zM315 27h1v1h-1zM294 28h1v1h-1zM297 28h1v1h-1zM305 28h1v1h-1zM257 29h1v1h-1zM160 30h1v1h-1zM172 30h1v1h-1zM269 30h1v1h-1zM307 30h1v1h-1zM315 30h1v1h-1zM120 31h1v1h-1zM169 31h1v1h-1zM248 31h1v1h-1zM259 31h1v1h-1zM263 31h1v1h-1zM312 31h1v1h-1zM316 31h1v1h-1zM186 32h1v1h-1zM246 32h1v1h-1zM251 32h1v1h-1zM265 32h1v1h-1zM127 33h1v1h-1zM135 33h1v1h-1zM234 33h1v1h-1zM253 33h1v1h-1zM258 33h1v1h-1zM293 33h1v1h-1zM296 33h1v1h-1zM119 34h1v1h-1zM136 34h1v1h-1zM138 34h1v1h-1zM151 34h1v1h-1zM240 34h1v1h-1zM265 34h1v1h-1zM270 34h1v1h-1zM272 34h1v1h-1zM304 34h1v1h-1zM309 34h1v1h-1zM246 35h1v1h-1zM179 36h1v1h-1zM186 36h1v1h-1zM236 36h1v1h-1zM250 36h1v1h-1zM263 36h1v1h-1zM272 36h1v1h-1zM276 36h1v1h-1zM156 37h1v1h-1zM165 37h1v1h-1zM252 37h1v1h-1zM309 37h2v1h-2zM128 38h2v1h-2zM140 38h1v1h-1zM181 38h1v1h-1zM248 38h1v1h-1zM250 38h1v1h-1zM252 38h1v1h-1zM267 38h1v1h-1zM308 38h1v1h-1zM231 39h1v1h-1zM250 39h1v1h-1zM259 39h1v1h-1zM269 39h1v1h-1zM271 39h1v1h-1zM132 40h1v1h-1zM158 40h1v1h-1zM275 40h1v1h-1zM289 40h1v1h-1zM140 41h1v1h-1zM151 41h1v1h-1zM165 41h1v1h-1zM259 41h1v1h-1zM264 41h2v1h-2zM157 42h1v1h-1zM181 42h1v1h-1zM256 42h1v1h-1zM287 42h1v1h-1zM163 43h1v1h-1zM169 43h1v1h-1zM277 43h1v1h-1zM294 43h1v1h-1zM148 44h1v1h-1zM164 44h1v1h-1zM171 44h1v1h-1zM177 44h1v1h-1zM251 44h1v1h-1zM263 44h1v1h-1zM306 44h1v1h-1zM308 44h1v1h-1zM246 45h1v1h-1zM270 45h1v1h-1zM299 45h1v1h-1zM152 46h1v1h-1zM183 46h1v1h-1zM238 46h1v1h-1zM269 46h1v1h-1zM280 46h1v1h-1zM124 47h1v1h-1zM129 47h1v1h-1zM132 47h1v1h-1zM143 47h1v1h-1zM158 47h1v1h-1zM252 47h1v1h-1zM279 47h1v1h-1zM285 47h1v1h-1zM168 48h1v1h-1zM247 48h1v1h-1zM252 48h1v1h-1zM235 49h1v1h-1zM277 49h1v1h-1zM292 49h1v1h-1zM306 49h1v1h-1z"/>
<path fill="#271F37" d="M199 1h1v1h-1zM246 1h1v1h-1zM298 1h1v1h-1zM216 3h1v1h-1zM292 6h1v1h-1zM309 6h1v1h-1zM204 10h1v1h-1zM304 10h1v1h-1zM61 12h1v1h-1zM82 12h1v1h-1zM203 13h1v1h-1zM214 14h1v1h-1zM216 14h1v1h-1zM218 14h1v1h-1zM70 15h1v1h-1zM78 15h1v1h-1zM204 15h1v1h-1zM112 16h1v1h-1zM195 16h1v1h-1zM210 17h1v1h-1zM212 17h1v1h-1zM87 18h1v1h-1zM260 18h1v1h-1zM267 18h1v1h-1zM301 18h1v1h-1zM303 18h1v1h-1zM260 20h1v1h-1zM79 21h1v1h-1zM160 21h1v1h-1zM168 21h1v1h-1zM173 21h1v1h-1zM179 21h1v1h-1zM266 21h2v1h-2zM185 22h1v1h-1zM286 22h1v1h-1zM104 25h1v1h-1zM295 25h1v1h-1zM202 26h1v1h-1zM286 26h1v1h-1zM228 27h1v1h-1zM241 27h1v1h-1zM246 28h1v1h-1zM256 28h1v1h-1zM312 28h1v1h-1zM274 29h1v1h-1zM315 29h1v1h-1zM165 30h1v1h-1zM151 31h1v1h-1zM279 31h1v1h-1zM151 32h1v1h-1zM183 32h1v1h-1zM292 32h1v1h-1zM294 32h1v1h-1zM120 33h1v1h-1zM157 33h1v1h-1zM284 33h1v1h-1zM297 33h1v1h-1zM120 34h1v1h-1zM124 34h1v1h-1zM132 34h1v1h-1zM246 34h1v1h-1zM264 35h1v1h-1zM137 36h1v1h-1zM153 36h1v1h-1zM187 36h1v1h-1zM251 36h1v1h-1zM303 36h1v1h-1zM307 36h1v1h-1zM138 37h1v1h-1zM140 37h1v1h-1zM157 37h1v1h-1zM238 37h1v1h-1zM279 37h1v1h-1zM123 38h2v1h-2zM157 38h1v1h-1zM169 38h1v1h-1zM292 38h1v1h-1zM124 40h1v1h-1zM279 40h1v1h-1zM177 42h1v1h-1zM184 43h1v1h-1zM162 44h1v1h-1zM181 44h1v1h-1zM189 44h1v1h-1zM250 45h1v1h-1zM254 46h1v1h-1zM276 46h1v1h-1zM157 49h1v1h-1zM309 49h1v1h-1z"/>
<path fill="#261F36" d="M297 0h1v1h-1zM60 1h1v1h-1zM198 1h1v1h-1zM207 1h1v1h-1zM109 2h1v1h-1zM211 2h1v1h-1zM62 3h1v1h-1zM111 3h1v1h-1zM197 3h2v1h-2zM208 3h1v1h-1zM219 4h1v1h-1zM295 4h1v1h-1zM220 5h1v1h-1zM249 6h1v1h-1zM295 6h1v1h-1zM72 7h1v1h-1zM76 7h1v1h-1zM90 7h1v1h-1zM112 7h1v1h-1zM198 7h1v1h-1zM217 7h1v1h-1zM210 8h1v1h-1zM200 9h1v1h-1zM109 10h1v1h-1zM202 10h1v1h-1zM215 10h1v1h-1zM219 10h1v1h-1zM270 10h1v1h-1zM196 11h1v1h-1zM208 11h1v1h-1zM212 11h1v1h-1zM66 12h1v1h-1zM84 12h2v1h-2zM106 12h1v1h-1zM198 12h1v1h-1zM212 12h1v1h-1zM207 13h1v1h-1zM211 13h1v1h-1zM109 14h1v1h-1zM194 14h1v1h-1zM84 15h1v1h-1zM100 15h1v1h-1zM294 15h1v1h-1zM300 15h1v1h-1zM70 16h1v1h-1zM83 16h1v1h-1zM106 16h1v1h-1zM109 16h1v1h-1zM198 16h1v1h-1zM212 16h1v1h-1zM214 16h1v1h-1zM251 16h2v1h-2zM255 16h1v1h-1zM294 16h1v1h-1zM196 17h1v1h-1zM205 17h1v1h-1zM314 17h1v1h-1zM80 18h1v1h-1zM252 18h1v1h-1zM286 18h1v1h-1zM200 19h1v1h-1zM249 19h1v1h-1zM303 19h1v1h-1zM160 20h1v1h-1zM180 20h1v1h-1zM205 20h1v1h-1zM262 20h1v1h-1zM266 20h1v1h-1zM301 20h1v1h-1zM181 21h1v1h-1zM201 21h1v1h-1zM203 21h1v1h-1zM286 21h1v1h-1zM60 22h1v1h-1zM164 22h1v1h-1zM179 22h1v1h-1zM256 22h1v1h-1zM263 22h1v1h-1zM266 22h2v1h-2zM291 22h1v1h-1zM304 22h1v1h-1zM114 23h1v1h-1zM203 23h1v1h-1zM211 23h1v1h-1zM262 23h1v1h-1zM265 23h1v1h-1zM261 24h1v1h-1zM299 24h1v1h-1zM204 25h2v1h-2zM249 25h1v1h-1zM254 25h1v1h-1zM265 25h1v1h-1zM270 25h1v1h-1zM64 26h1v1h-1zM169 26h1v1h-1zM264 26h1v1h-1zM163 27h1v1h-1zM174 27h1v1h-1zM188 27h2v1h-2zM279 27h1v1h-1zM304 27h1v1h-1zM307 27h2v1h-2zM254 28h1v1h-1zM276 28h1v1h-1zM248 29h1v1h-1zM181 30h1v1h-1zM261 30h2v1h-2zM306 30h1v1h-1zM249 31h1v1h-1zM304 31h1v1h-1zM187 32h1v1h-1zM158 33h1v1h-1zM169 33h1v1h-1zM235 33h1v1h-1zM256 33h1v1h-1zM274 33h1v1h-1zM303 33h1v1h-1zM312 33h1v1h-1zM250 34h1v1h-1zM252 34h1v1h-1zM259 34h1v1h-1zM291 34h1v1h-1zM151 35h1v1h-1zM160 35h1v1h-1zM168 35h1v1h-1zM278 35h1v1h-1zM288 35h1v1h-1zM124 36h1v1h-1zM136 36h1v1h-1zM175 36h3v1h-3zM225 36h1v1h-1zM120 37h1v1h-1zM169 37h1v1h-1zM249 37h1v1h-1zM121 38h1v1h-1zM180 38h1v1h-1zM256 38h1v1h-1zM258 38h1v1h-1zM124 39h1v1h-1zM138 39h1v1h-1zM224 39h1v1h-1zM276 39h1v1h-1zM304 39h1v1h-1zM157 40h1v1h-1zM177 40h1v1h-1zM276 40h1v1h-1zM120 41h1v1h-1zM263 41h1v1h-1zM272 41h1v1h-1zM133 42h1v1h-1zM135 42h1v1h-1zM265 42h1v1h-1zM270 42h1v1h-1zM309 42h1v1h-1zM134 43h1v1h-1zM270 43h1v1h-1zM256 44h1v1h-1zM149 45h1v1h-1zM247 45h2v1h-2zM254 45h1v1h-1zM257 45h1v1h-1zM308 45h1v1h-1zM149 46h1v1h-1zM163 46h1v1h-1zM246 46h1v1h-1zM266 46h1v1h-1zM139 47h1v1h-1zM250 47h1v1h-1zM257 47h1v1h-1zM263 47h1v1h-1zM273 47h1v1h-1zM289 47h1v1h-1zM273 48h1v1h-1zM276 48h1v1h-1zM132 49h1v1h-1zM158 49h1v1h-1zM258 49h1v1h-1z"/>
<path fill="#251E33" d="M287 0h1v1h-1zM309 0h1v1h-1zM76 1h1v1h-1zM85 1h1v1h-1zM219 1h1v1h-1zM266 1h1v1h-1zM198 2h2v1h-2zM202 2h1v1h-1zM218 2h1v1h-1zM221 2h1v1h-1zM292 2h1v1h-1zM295 2h1v1h-1zM99 3h1v1h-1zM107 3h1v1h-1zM212 3h1v1h-1zM215 3h1v1h-1zM220 3h1v1h-1zM246 3h1v1h-1zM97 4h1v1h-1zM112 4h1v1h-1zM266 4h1v1h-1zM268 4h1v1h-1zM60 5h1v1h-1zM266 5h1v1h-1zM68 6h1v1h-1zM83 6h1v1h-1zM250 6h1v1h-1zM296 6h1v1h-1zM304 6h1v1h-1zM82 7h1v1h-1zM108 7h1v1h-1zM111 7h1v1h-1zM215 7h1v1h-1zM221 7h1v1h-1zM110 8h1v1h-1zM65 9h1v1h-1zM218 9h1v1h-1zM246 9h1v1h-1zM251 9h1v1h-1zM298 9h1v1h-1zM65 10h1v1h-1zM86 10h1v1h-1zM100 10h1v1h-1zM199 10h1v1h-1zM291 10h1v1h-1zM295 10h1v1h-1zM64 11h1v1h-1zM78 11h1v1h-1zM109 11h1v1h-1zM203 11h1v1h-1zM288 11h1v1h-1zM92 12h1v1h-1zM105 12h1v1h-1zM111 12h1v1h-1zM74 13h1v1h-1zM103 13h1v1h-1zM196 13h1v1h-1zM309 13h1v1h-1zM61 14h1v1h-1zM204 14h1v1h-1zM256 14h1v1h-1zM68 15h2v1h-2zM82 15h1v1h-1zM86 15h1v1h-1zM109 15h1v1h-1zM111 15h1v1h-1zM199 15h1v1h-1zM207 15h1v1h-1zM295 15h1v1h-1zM78 16h1v1h-1zM90 16h1v1h-1zM200 16h1v1h-1zM256 16h1v1h-1zM192 17h2v1h-2zM202 17h1v1h-1zM217 17h3v1h-3zM265 17h1v1h-1zM310 17h1v1h-1zM79 18h1v1h-1zM93 18h1v1h-1zM164 18h1v1h-1zM300 18h1v1h-1zM209 19h1v1h-1zM161 20h1v1h-1zM201 20h1v1h-1zM255 20h1v1h-1zM267 20h1v1h-1zM269 20h1v1h-1zM98 21h1v1h-1zM199 21h1v1h-1zM255 21h1v1h-1zM265 21h1v1h-1zM298 21h2v1h-2zM303 21h1v1h-1zM72 22h1v1h-1zM247 22h1v1h-1zM251 22h1v1h-1zM254 22h2v1h-2zM257 22h1v1h-1zM265 22h1v1h-1zM72 23h1v1h-1zM102 23h1v1h-1zM210 23h1v1h-1zM253 23h1v1h-1zM255 23h1v1h-1zM257 23h1v1h-1zM263 23h1v1h-1zM200 24h1v1h-1zM249 24h1v1h-1zM269 24h1v1h-1zM294 24h1v1h-1zM199 25h1v1h-1zM167 26h2v1h-2zM173 26h1v1h-1zM186 26h1v1h-1zM250 26h1v1h-1zM302 26h1v1h-1zM158 27h1v1h-1zM177 27h1v1h-1zM179 27h1v1h-1zM186 27h1v1h-1zM288 27h1v1h-1zM310 27h1v1h-1zM250 28h1v1h-1zM259 28h1v1h-1zM310 28h1v1h-1zM170 29h1v1h-1zM178 29h1v1h-1zM177 30h1v1h-1zM179 30h1v1h-1zM255 30h2v1h-2zM260 30h1v1h-1zM166 31h1v1h-1zM256 31h1v1h-1zM274 31h1v1h-1zM308 31h2v1h-2zM127 32h1v1h-1zM240 32h1v1h-1zM260 32h1v1h-1zM277 32h1v1h-1zM233 33h1v1h-1zM240 33h1v1h-1zM250 33h1v1h-1zM257 33h1v1h-1zM262 33h1v1h-1zM315 33h1v1h-1zM289 34h1v1h-1zM139 35h2v1h-2zM158 35h1v1h-1zM169 35h1v1h-1zM247 35h1v1h-1zM249 35h1v1h-1zM144 36h1v1h-1zM261 36h1v1h-1zM279 36h1v1h-1zM306 36h1v1h-1zM144 37h1v1h-1zM181 37h1v1h-1zM246 37h1v1h-1zM250 37h2v1h-2zM253 37h1v1h-1zM274 37h1v1h-1zM276 37h1v1h-1zM254 38h1v1h-1zM264 38h2v1h-2zM140 39h1v1h-1zM145 39h1v1h-1zM279 39h1v1h-1zM248 40h1v1h-1zM250 40h1v1h-1zM270 40h1v1h-1zM274 40h1v1h-1zM307 40h1v1h-1zM134 41h1v1h-1zM250 41h1v1h-1zM254 41h1v1h-1zM124 42h1v1h-1zM127 42h1v1h-1zM138 42h1v1h-1zM162 42h1v1h-1zM164 42h1v1h-1zM257 42h1v1h-1zM315 42h1v1h-1zM158 43h1v1h-1zM265 43h1v1h-1zM135 44h1v1h-1zM246 44h1v1h-1zM260 44h1v1h-1zM278 44h1v1h-1zM280 44h1v1h-1zM166 45h1v1h-1zM263 45h1v1h-1zM140 46h1v1h-1zM184 46h1v1h-1zM272 46h1v1h-1zM312 47h1v1h-1zM227 48h1v1h-1zM240 48h1v1h-1zM248 48h1v1h-1zM264 48h1v1h-1zM308 48h1v1h-1zM250 49h1v1h-1zM257 49h1v1h-1zM307 49h1v1h-1z"/>
<path fill="#241F2E" d="M86 0h1v1h-1zM204 0h1v1h-1zM206 0h1v1h-1zM292 0h1v1h-1zM68 1h1v1h-1zM270 1h1v1h-1zM274 1h1v1h-1zM68 2h1v1h-1zM99 2h1v1h-1zM204 2h1v1h-1zM206 2h1v1h-1zM270 2h1v1h-1zM272 2h2v1h-2zM105 3h1v1h-1zM112 3h1v1h-1zM274 3h1v1h-1zM309 3h1v1h-1zM119 4h1v1h-1zM140 4h1v1h-1zM223 4h1v1h-1zM253 4h1v1h-1zM257 4h1v1h-1zM288 4h1v1h-1zM70 6h1v1h-1zM245 6h1v1h-1zM103 7h1v1h-1zM105 7h1v1h-1zM103 8h1v1h-1zM204 8h1v1h-1zM273 8h1v1h-1zM292 8h1v1h-1zM70 9h1v1h-1zM97 9h1v1h-1zM259 9h1v1h-1zM270 9h1v1h-1zM66 10h1v1h-1zM265 10h1v1h-1zM305 10h1v1h-1zM90 11h1v1h-1zM221 11h1v1h-1zM72 12h1v1h-1zM89 12h1v1h-1zM97 12h1v1h-1zM72 13h1v1h-1zM94 14h1v1h-1zM99 14h1v1h-1zM253 14h1v1h-1zM257 14h1v1h-1zM285 14h1v1h-1zM195 15h1v1h-1zM235 15h1v1h-1zM202 16h1v1h-1zM218 16h1v1h-1zM221 16h1v1h-1zM257 16h1v1h-1zM259 16h1v1h-1zM270 16h1v1h-1zM72 17h1v1h-1zM213 17h1v1h-1zM216 17h1v1h-1zM292 17h1v1h-1zM308 17h1v1h-1zM192 18h1v1h-1zM305 18h1v1h-1zM307 18h1v1h-1zM308 19h1v1h-1zM80 20h1v1h-1zM183 20h1v1h-1zM214 20h1v1h-1zM271 20h1v1h-1zM175 21h1v1h-1zM79 22h1v1h-1zM176 22h1v1h-1zM93 23h1v1h-1zM307 23h1v1h-1zM79 24h1v1h-1zM267 24h1v1h-1zM93 25h1v1h-1zM108 26h1v1h-1zM204 26h1v1h-1zM165 27h1v1h-1zM165 29h1v1h-1zM222 29h1v1h-1zM253 29h1v1h-1zM155 30h1v1h-1zM167 30h1v1h-1zM184 30h1v1h-1zM253 30h1v1h-1zM235 31h1v1h-1zM315 31h1v1h-1zM151 33h1v1h-1zM292 34h1v1h-1zM120 35h1v1h-1zM162 37h1v1h-1zM309 38h1v1h-1zM183 39h1v1h-1zM241 39h1v1h-1zM126 42h1v1h-1zM169 42h1v1h-1zM236 42h1v1h-1zM254 42h1v1h-1zM166 43h1v1h-1zM168 43h1v1h-1zM291 43h1v1h-1zM165 44h1v1h-1zM134 46h1v1h-1zM128 47h1v1h-1zM186 47h1v1h-1zM163 48h1v1h-1zM126 49h1v1h-1z"/>
<path fill="#241D31" d="M294 0h1v1h-1zM316 1h1v1h-1zM219 2h1v1h-1zM206 5h1v1h-1zM218 5h1v1h-1zM294 5h1v1h-1zM213 6h1v1h-1zM262 6h1v1h-1zM82 9h1v1h-1zM102 10h1v1h-1zM198 10h1v1h-1zM215 14h1v1h-1zM304 15h1v1h-1zM60 16h1v1h-1zM69 16h1v1h-1zM224 16h1v1h-1zM85 17h1v1h-1zM221 17h1v1h-1zM79 20h1v1h-1zM209 20h1v1h-1zM249 20h1v1h-1zM298 20h1v1h-1zM300 20h1v1h-1zM259 22h1v1h-1zM199 23h1v1h-1zM248 24h1v1h-1zM79 25h1v1h-1zM210 25h1v1h-1zM184 27h1v1h-1zM256 27h1v1h-1zM289 27h1v1h-1zM306 27h1v1h-1zM249 28h1v1h-1zM259 30h1v1h-1zM260 31h1v1h-1zM159 35h1v1h-1zM149 36h1v1h-1zM309 36h1v1h-1zM158 37h1v1h-1zM265 37h1v1h-1zM167 38h1v1h-1zM246 42h1v1h-1zM259 42h1v1h-1zM279 42h1v1h-1zM276 43h1v1h-1zM310 43h1v1h-1zM270 44h2v1h-2zM132 46h1v1h-1zM151 46h1v1h-1zM264 46h1v1h-1z"/>
<path fill="#222120" d="M101 0h1v1h-1zM220 0h1v1h-1zM271 0h1v1h-1zM92 1h1v1h-1zM97 1h1v1h-1zM272 1h1v1h-1zM92 2h1v1h-1zM101 2h1v1h-1zM88 3h1v1h-1zM73 4h1v1h-1zM104 4h1v1h-1zM121 4h2v1h-2zM208 4h1v1h-1zM253 5h1v1h-1zM257 5h1v1h-1zM272 6h1v1h-1zM232 7h1v1h-1zM271 7h1v1h-1zM280 7h1v1h-1zM239 8h1v1h-1zM67 9h1v1h-1zM71 9h1v1h-1zM114 9h1v1h-1zM238 9h1v1h-1zM289 9h1v1h-1zM62 10h1v1h-1zM75 10h1v1h-1zM98 10h1v1h-1zM224 10h1v1h-1zM257 10h1v1h-1zM98 11h1v1h-1zM112 11h1v1h-1zM194 12h1v1h-1zM197 12h1v1h-1zM247 12h1v1h-1zM264 12h1v1h-1zM275 12h1v1h-1zM289 12h1v1h-1zM223 13h1v1h-1zM285 13h1v1h-1zM291 13h1v1h-1zM293 13h1v1h-1zM305 13h1v1h-1zM307 13h1v1h-1zM88 14h1v1h-1zM230 14h1v1h-1zM260 14h1v1h-1zM289 14h1v1h-1zM293 14h1v1h-1zM313 14h1v1h-1zM71 15h1v1h-1zM205 15h1v1h-1zM222 15h1v1h-1zM255 15h1v1h-1zM134 16h1v1h-1zM153 16h1v1h-1zM230 16h1v1h-1zM265 16h1v1h-1zM80 21h1v1h-1zM84 24h1v1h-1zM122 26h1v1h-1zM155 26h1v1h-1zM118 27h1v1h-1zM143 27h1v1h-1zM150 27h1v1h-1zM282 27h1v1h-1zM180 28h1v1h-1zM183 28h1v1h-1zM285 28h1v1h-1zM277 30h1v1h-1zM287 34h1v1h-1zM195 35h1v1h-1zM168 36h1v1h-1zM163 42h1v1h-1zM255 43h1v1h-1zM284 43h1v1h-1zM287 47h1v1h-1z"/>
<path fill="#21211A" d="M62 0h1v1h-1zM97 0h1v1h-1zM128 0h1v1h-1zM141 0h1v1h-1zM200 0h1v1h-1zM224 0h2v1h-2zM229 0h1v1h-1zM236 0h1v1h-1zM263 0h1v1h-1zM274 0h3v1h-3zM280 0h1v1h-1zM130 1h1v1h-1zM223 1h1v1h-1zM241 1h1v1h-1zM253 1h1v1h-1zM283 1h1v1h-1zM225 2h1v1h-1zM235 2h2v1h-2zM239 2h1v1h-1zM255 2h1v1h-1zM308 2h1v1h-1zM255 3h1v1h-1zM257 3h1v1h-1zM272 3h1v1h-1zM92 4h1v1h-1zM133 4h1v1h-1zM152 4h1v1h-1zM227 4h1v1h-1zM231 4h1v1h-1zM240 4h1v1h-1zM242 4h1v1h-1zM259 4h1v1h-1zM283 4h1v1h-1zM116 5h1v1h-1zM141 5h1v1h-1zM152 5h1v1h-1zM225 5h1v1h-1zM232 5h1v1h-1zM234 5h1v1h-1zM262 5h2v1h-2zM277 5h2v1h-2zM283 5h1v1h-1zM306 5h1v1h-1zM315 5h1v1h-1zM194 6h1v1h-1zM281 6h1v1h-1zM127 7h1v1h-1zM230 7h1v1h-1zM233 7h1v1h-1zM264 7h1v1h-1zM281 7h1v1h-1zM284 7h1v1h-1zM312 7h1v1h-1zM314 7h1v1h-1zM114 8h1v1h-1zM232 8h2v1h-2zM271 8h1v1h-1zM88 9h1v1h-1zM143 9h1v1h-1zM151 9h1v1h-1zM228 9h2v1h-2zM232 9h1v1h-1zM234 9h1v1h-1zM279 9h1v1h-1zM230 10h1v1h-1zM283 10h1v1h-1zM74 11h1v1h-1zM114 11h1v1h-1zM230 11h1v1h-1zM233 11h1v1h-1zM261 11h2v1h-2zM275 11h1v1h-1zM280 11h1v1h-1zM282 11h2v1h-2zM307 11h1v1h-1zM227 12h1v1h-1zM234 12h2v1h-2zM238 12h2v1h-2zM243 12h1v1h-1zM280 12h1v1h-1zM307 12h1v1h-1zM314 12h1v1h-1zM128 13h1v1h-1zM132 13h1v1h-1zM140 13h4v1h-4zM224 13h1v1h-1zM226 13h1v1h-1zM228 13h2v1h-2zM243 13h1v1h-1zM251 13h1v1h-1zM260 13h2v1h-2zM289 13h1v1h-1zM314 13h1v1h-1zM143 14h1v1h-1zM229 14h1v1h-1zM275 14h1v1h-1zM307 14h1v1h-1zM311 14h1v1h-1zM230 15h1v1h-1zM254 15h1v1h-1zM263 15h1v1h-1zM284 15h1v1h-1zM125 16h1v1h-1zM314 22h1v1h-1zM174 23h1v1h-1zM178 23h1v1h-1zM181 23h1v1h-1zM174 24h1v1h-1zM189 24h1v1h-1zM75 26h1v1h-1zM85 26h1v1h-1zM87 26h1v1h-1zM95 26h1v1h-1zM119 26h1v1h-1zM121 26h1v1h-1zM146 26h1v1h-1zM149 26h2v1h-2zM152 26h1v1h-1zM114 27h1v1h-1zM124 27h1v1h-1zM138 27h3v1h-3zM152 27h1v1h-1zM195 27h1v1h-1zM197 27h1v1h-1zM199 27h1v1h-1zM202 27h1v1h-1zM204 27h1v1h-1zM122 28h2v1h-2zM130 28h1v1h-1zM132 28h1v1h-1zM139 28h2v1h-2zM142 28h1v1h-1zM153 28h2v1h-2zM156 28h1v1h-1zM159 28h1v1h-1zM187 28h1v1h-1zM194 28h2v1h-2zM199 28h2v1h-2zM203 28h1v1h-1zM205 28h3v1h-3zM216 28h2v1h-2zM219 28h3v1h-3zM118 29h1v1h-1zM122 29h1v1h-1zM138 29h1v1h-1zM147 29h1v1h-1zM180 29h1v1h-1zM195 29h1v1h-1zM197 29h1v1h-1zM202 29h1v1h-1zM213 29h1v1h-1zM215 29h1v1h-1zM217 29h1v1h-1zM287 30h1v1h-1zM196 47h1v1h-1zM198 47h1v1h-1zM204 47h1v1h-1zM207 47h2v1h-2zM212 47h1v1h-1zM219 47h1v1h-1zM71 48h2v1h-2zM86 48h1v1h-1zM99 48h1v1h-1zM113 48h1v1h-1zM195 48h2v1h-2zM199 48h1v1h-1zM206 48h1v1h-1zM208 48h1v1h-1zM212 48h1v1h-1zM218 48h1v1h-1zM221 48h1v1h-1zM71 49h2v1h-2zM101 49h1v1h-1zM196 49h1v1h-1zM200 49h1v1h-1zM202 49h1v1h-1zM220 49h1v1h-1z"/>
<path fill="#211F21" d="M68 0h1v1h-1zM94 0h1v1h-1zM308 0h1v1h-1zM103 1h1v1h-1zM255 1h1v1h-1zM296 1h1v1h-1zM309 1h1v1h-1zM217 2h1v1h-1zM309 2h1v1h-1zM206 4h1v1h-1zM221 4h1v1h-1zM114 5h1v1h-1zM293 5h1v1h-1zM97 6h1v1h-1zM232 6h1v1h-1zM234 6h1v1h-1zM276 6h1v1h-1zM66 7h1v1h-1zM152 7h1v1h-1zM206 7h1v1h-1zM193 8h1v1h-1zM206 8h1v1h-1zM218 8h1v1h-1zM83 9h1v1h-1zM220 9h1v1h-1zM242 9h1v1h-1zM70 10h1v1h-1zM223 10h1v1h-1zM253 10h1v1h-1zM255 10h1v1h-1zM271 10h1v1h-1zM105 11h1v1h-1zM264 11h1v1h-1zM193 12h1v1h-1zM203 12h1v1h-1zM230 12h1v1h-1zM241 12h1v1h-1zM253 12h1v1h-1zM255 12h1v1h-1zM300 12h1v1h-1zM302 12h1v1h-1zM66 13h1v1h-1zM241 13h1v1h-1zM268 13h1v1h-1zM66 14h1v1h-1zM142 14h1v1h-1zM287 14h1v1h-1zM193 15h1v1h-1zM66 16h1v1h-1zM194 16h1v1h-1zM201 16h1v1h-1zM278 16h1v1h-1zM280 16h1v1h-1zM176 17h1v1h-1zM215 20h1v1h-1zM294 21h1v1h-1zM169 23h1v1h-1zM94 26h1v1h-1zM307 26h1v1h-1zM183 27h1v1h-1zM218 27h1v1h-1zM190 28h1v1h-1zM306 28h1v1h-1zM150 29h1v1h-1zM234 29h1v1h-1zM309 29h1v1h-1zM168 31h1v1h-1zM281 32h1v1h-1zM282 34h1v1h-1zM218 35h1v1h-1zM282 35h1v1h-1zM253 36h1v1h-1zM168 37h1v1h-1zM166 41h1v1h-1zM168 42h1v1h-1zM253 46h1v1h-1zM201 47h1v1h-1zM217 48h1v1h-1zM284 49h1v1h-1z"/>
<path fill="#221E2D" d="M195 1h1v1h-1zM295 1h1v1h-1zM297 1h1v1h-1zM115 3h1v1h-1zM288 3h1v1h-1zM99 4h1v1h-1zM105 4h1v1h-1zM274 4h1v1h-1zM285 4h1v1h-1zM68 5h1v1h-1zM72 6h1v1h-1zM270 6h1v1h-1zM94 8h1v1h-1zM97 8h1v1h-1zM225 8h1v1h-1zM238 8h1v1h-1zM68 9h1v1h-1zM84 9h1v1h-1zM257 9h1v1h-1zM74 10h1v1h-1zM76 10h1v1h-1zM103 11h1v1h-1zM292 11h1v1h-1zM297 11h1v1h-1zM300 11h1v1h-1zM99 12h1v1h-1zM103 12h1v1h-1zM202 12h1v1h-1zM218 12h1v1h-1zM221 12h1v1h-1zM248 12h1v1h-1zM90 13h1v1h-1zM245 13h1v1h-1zM70 14h1v1h-1zM290 14h1v1h-1zM66 15h1v1h-1zM92 15h1v1h-1zM221 15h1v1h-1zM94 16h1v1h-1zM99 16h1v1h-1zM264 16h1v1h-1zM305 16h1v1h-1zM296 17h1v1h-1zM85 18h1v1h-1zM81 19h1v1h-1zM204 20h1v1h-1zM253 22h1v1h-1zM308 22h1v1h-1zM84 25h1v1h-1zM308 26h1v1h-1zM281 27h1v1h-1zM292 29h1v1h-1zM158 30h1v1h-1zM257 32h1v1h-1zM167 33h1v1h-1zM183 34h1v1h-1zM135 36h1v1h-1zM239 36h1v1h-1zM292 37h1v1h-1zM135 40h1v1h-1zM149 43h1v1h-1zM273 46h1v1h-1z"/>
<path fill="#1F1E1E" d="M80 0h1v1h-1zM85 0h1v1h-1zM103 0h1v1h-1zM111 0h1v1h-1zM194 0h1v1h-1zM223 0h1v1h-1zM230 0h1v1h-1zM241 0h1v1h-1zM252 0h1v1h-1zM254 0h1v1h-1zM257 0h1v1h-1zM281 0h1v1h-1zM303 0h1v1h-1zM113 1h1v1h-1zM310 1h1v1h-1zM71 2h1v1h-1zM243 2h1v1h-1zM247 2h1v1h-1zM257 2h1v1h-1zM293 2h1v1h-1zM302 2h1v1h-1zM311 2h1v1h-1zM262 3h1v1h-1zM75 4h1v1h-1zM142 4h1v1h-1zM196 4h1v1h-1zM228 4h1v1h-1zM255 4h1v1h-1zM261 4h1v1h-1zM275 4h1v1h-1zM315 4h1v1h-1zM64 5h1v1h-1zM97 5h1v1h-1zM228 5h1v1h-1zM240 5h1v1h-1zM276 5h1v1h-1zM299 5h1v1h-1zM302 5h1v1h-1zM308 5h1v1h-1zM241 6h1v1h-1zM299 6h1v1h-1zM234 7h1v1h-1zM261 7h1v1h-1zM290 7h1v1h-1zM311 7h1v1h-1zM315 7h1v1h-1zM219 8h1v1h-1zM236 8h1v1h-1zM240 8h1v1h-1zM242 8h1v1h-1zM244 8h1v1h-1zM250 8h1v1h-1zM264 8h1v1h-1zM311 8h1v1h-1zM90 9h1v1h-1zM92 9h1v1h-1zM223 9h1v1h-1zM237 9h1v1h-1zM244 9h1v1h-1zM272 9h1v1h-1zM234 10h1v1h-1zM274 10h1v1h-1zM288 10h1v1h-1zM73 11h1v1h-1zM92 11h1v1h-1zM247 11h1v1h-1zM257 11h1v1h-1zM259 11h1v1h-1zM285 11h1v1h-1zM293 11h1v1h-1zM296 11h1v1h-1zM226 12h1v1h-1zM229 12h1v1h-1zM242 12h1v1h-1zM278 12h1v1h-1zM284 12h1v1h-1zM70 13h1v1h-1zM92 13h1v1h-1zM97 13h1v1h-1zM151 13h1v1h-1zM194 13h1v1h-1zM230 13h1v1h-1zM235 13h1v1h-1zM242 13h1v1h-1zM252 13h1v1h-1zM279 13h1v1h-1zM302 13h1v1h-1zM63 14h1v1h-1zM95 14h1v1h-1zM105 14h1v1h-1zM223 14h1v1h-1zM225 14h1v1h-1zM237 14h1v1h-1zM240 14h1v1h-1zM272 14h1v1h-1zM276 14h1v1h-1zM284 14h1v1h-1zM301 14h1v1h-1zM312 14h1v1h-1zM89 15h2v1h-2zM227 15h1v1h-1zM242 15h1v1h-1zM277 15h1v1h-1zM137 16h1v1h-1zM139 16h1v1h-1zM146 16h1v1h-1zM226 16h1v1h-1zM314 16h1v1h-1zM293 19h1v1h-1zM306 21h1v1h-1zM294 22h1v1h-1zM186 23h1v1h-1zM191 23h1v1h-1zM296 24h1v1h-1zM61 26h1v1h-1zM77 26h1v1h-1zM110 26h1v1h-1zM131 26h2v1h-2zM137 26h1v1h-1zM153 26h1v1h-1zM160 26h1v1h-1zM215 26h1v1h-1zM121 27h1v1h-1zM128 27h1v1h-1zM131 27h1v1h-1zM137 27h1v1h-1zM153 27h1v1h-1zM205 27h1v1h-1zM120 28h1v1h-1zM138 28h1v1h-1zM147 28h1v1h-1zM152 28h1v1h-1zM172 28h1v1h-1zM177 28h1v1h-1zM186 28h1v1h-1zM197 28h1v1h-1zM210 28h1v1h-1zM124 29h1v1h-1zM137 29h1v1h-1zM149 29h1v1h-1zM154 29h1v1h-1zM167 32h1v1h-1zM286 37h1v1h-1zM253 44h1v1h-1zM195 47h1v1h-1zM202 47h1v1h-1zM115 48h1v1h-1zM198 49h1v1h-1z"/>
<path fill="#231D30" d="M198 0h1v1h-1zM211 0h1v1h-1zM295 0h1v1h-1zM112 1h1v1h-1zM203 1h1v1h-1zM208 1h1v1h-1zM211 1h1v1h-1zM220 1h1v1h-1zM291 1h1v1h-1zM209 2h1v1h-1zM220 2h1v1h-1zM296 2h2v1h-2zM60 3h1v1h-1zM70 3h1v1h-1zM81 3h2v1h-2zM86 3h1v1h-1zM106 3h1v1h-1zM207 3h1v1h-1zM219 3h1v1h-1zM65 4h1v1h-1zM218 4h1v1h-1zM61 5h1v1h-1zM195 5h1v1h-1zM202 5h1v1h-1zM209 5h1v1h-1zM198 6h1v1h-1zM246 6h1v1h-1zM62 7h1v1h-1zM64 7h1v1h-1zM69 7h1v1h-1zM196 7h1v1h-1zM201 7h1v1h-1zM218 7h1v1h-1zM303 7h1v1h-1zM69 8h1v1h-1zM84 8h1v1h-1zM111 8h1v1h-1zM199 8h1v1h-1zM237 8h1v1h-1zM316 8h1v1h-1zM213 9h2v1h-2zM77 10h1v1h-1zM203 10h1v1h-1zM297 10h2v1h-2zM197 11h1v1h-1zM206 11h1v1h-1zM287 11h1v1h-1zM69 12h1v1h-1zM75 12h1v1h-1zM93 12h1v1h-1zM100 12h1v1h-1zM108 12h1v1h-1zM69 13h1v1h-1zM99 13h1v1h-1zM210 13h1v1h-1zM215 13h1v1h-1zM220 13h1v1h-1zM86 14h1v1h-1zM196 14h1v1h-1zM200 14h1v1h-1zM209 14h2v1h-2zM246 14h1v1h-1zM77 15h1v1h-1zM83 15h1v1h-1zM298 15h1v1h-1zM302 15h1v1h-1zM61 16h2v1h-2zM65 16h1v1h-1zM77 16h1v1h-1zM105 16h1v1h-1zM115 16h1v1h-1zM196 16h1v1h-1zM208 16h2v1h-2zM215 16h1v1h-1zM249 16h1v1h-1zM303 16h1v1h-1zM207 17h1v1h-1zM315 17h1v1h-1zM80 19h1v1h-1zM255 19h1v1h-1zM298 19h1v1h-1zM263 20h1v1h-1zM72 21h1v1h-1zM200 21h1v1h-1zM297 21h1v1h-1zM183 22h1v1h-1zM248 22h1v1h-1zM260 22h1v1h-1zM259 23h1v1h-1zM95 24h1v1h-1zM194 25h1v1h-1zM198 25h1v1h-1zM200 25h1v1h-1zM209 25h1v1h-1zM268 25h1v1h-1zM157 27h1v1h-1zM185 27h1v1h-1zM258 28h1v1h-1zM315 28h1v1h-1zM171 29h1v1h-1zM247 30h1v1h-1zM258 30h1v1h-1zM268 30h1v1h-1zM246 31h1v1h-1zM250 31h1v1h-1zM252 31h1v1h-1zM271 32h1v1h-1zM249 33h1v1h-1zM308 33h1v1h-1zM260 34h1v1h-1zM312 34h1v1h-1zM129 35h1v1h-1zM132 35h1v1h-1zM138 35h1v1h-1zM259 35h1v1h-1zM277 35h1v1h-1zM287 36h1v1h-1zM257 37h1v1h-1zM260 37h1v1h-1zM264 37h1v1h-1zM249 38h1v1h-1zM263 38h1v1h-1zM132 39h1v1h-1zM139 40h1v1h-1zM240 40h1v1h-1zM257 40h1v1h-1zM263 40h1v1h-1zM294 40h1v1h-1zM315 40h1v1h-1zM251 41h1v1h-1zM255 41h1v1h-1zM260 41h1v1h-1zM266 41h1v1h-1zM289 41h1v1h-1zM129 42h1v1h-1zM186 42h1v1h-1zM263 42h1v1h-1zM276 42h1v1h-1zM304 43h1v1h-1zM159 44h1v1h-1zM134 45h1v1h-1zM252 46h1v1h-1zM255 46h1v1h-1zM267 46h1v1h-1zM251 47h1v1h-1zM284 47h1v1h-1zM265 48h1v1h-1zM270 48h1v1h-1zM140 49h1v1h-1zM246 49h1v1h-1zM249 49h1v1h-1zM252 49h1v1h-1zM254 49h1v1h-1zM276 49h1v1h-1zM308 49h1v1h-1zM310 49h1v1h-1z"/>
<path fill="#221D2E" d="M210 0h1v1h-1zM70 1h1v1h-1zM74 1h1v1h-1zM82 1h1v1h-1zM101 1h1v1h-1zM111 1h1v1h-1zM200 1h1v1h-1zM206 1h1v1h-1zM289 1h1v1h-1zM60 2h1v1h-1zM203 2h1v1h-1zM207 2h2v1h-2zM215 2h1v1h-1zM91 3h1v1h-1zM200 3h3v1h-3zM250 3h2v1h-2zM269 3h1v1h-1zM291 3h1v1h-1zM295 3h1v1h-1zM292 4h1v1h-1zM294 4h1v1h-1zM298 4h1v1h-1zM309 4h1v1h-1zM80 5h1v1h-1zM194 5h1v1h-1zM207 5h2v1h-2zM219 5h1v1h-1zM222 5h1v1h-1zM100 6h1v1h-1zM224 6h1v1h-1zM294 6h1v1h-1zM75 7h1v1h-1zM81 7h1v1h-1zM83 7h1v1h-1zM100 7h1v1h-1zM107 7h1v1h-1zM109 9h2v1h-2zM201 9h1v1h-1zM255 9h2v1h-2zM281 9h1v1h-1zM82 10h1v1h-1zM111 10h1v1h-1zM211 10h1v1h-1zM213 10h1v1h-1zM251 10h1v1h-1zM292 10h1v1h-1zM84 11h1v1h-1zM201 11h1v1h-1zM211 11h1v1h-1zM220 11h1v1h-1zM109 12h2v1h-2zM114 12h1v1h-1zM65 13h1v1h-1zM107 13h1v1h-1zM197 13h1v1h-1zM216 13h1v1h-1zM218 13h1v1h-1zM221 13h1v1h-1zM193 14h1v1h-1zM203 14h1v1h-1zM211 14h1v1h-1zM303 14h1v1h-1zM85 15h1v1h-1zM94 15h1v1h-1zM215 15h1v1h-1zM315 15h1v1h-1zM64 16h1v1h-1zM79 16h1v1h-1zM102 16h1v1h-1zM211 16h1v1h-1zM250 16h1v1h-1zM253 16h1v1h-1zM260 16h2v1h-2zM263 16h1v1h-1zM297 16h1v1h-1zM265 18h1v1h-1zM87 20h1v1h-1zM250 20h1v1h-1zM259 20h1v1h-1zM316 21h1v1h-1zM205 22h1v1h-1zM254 23h1v1h-1zM201 25h1v1h-1zM310 25h1v1h-1zM166 26h1v1h-1zM171 26h1v1h-1zM249 26h1v1h-1zM254 26h1v1h-1zM159 27h1v1h-1zM164 27h1v1h-1zM181 27h1v1h-1zM251 28h1v1h-1zM265 28h1v1h-1zM162 29h1v1h-1zM180 30h1v1h-1zM248 30h1v1h-1zM250 30h1v1h-1zM265 30h1v1h-1zM272 30h1v1h-1zM308 30h1v1h-1zM139 31h1v1h-1zM255 31h1v1h-1zM270 32h1v1h-1zM251 33h2v1h-2zM264 33h1v1h-1zM128 35h1v1h-1zM283 35h1v1h-1zM265 36h1v1h-1zM267 36h1v1h-1zM275 36h1v1h-1zM186 37h2v1h-2zM247 37h2v1h-2zM254 37h1v1h-1zM256 37h1v1h-1zM258 37h1v1h-1zM138 38h1v1h-1zM166 38h1v1h-1zM168 38h1v1h-1zM312 38h1v1h-1zM140 40h1v1h-1zM251 40h1v1h-1zM257 41h1v1h-1zM271 41h1v1h-1zM249 42h1v1h-1zM264 42h1v1h-1zM308 42h1v1h-1zM250 44h1v1h-1zM257 44h1v1h-1zM259 44h1v1h-1zM274 44h1v1h-1zM284 44h1v1h-1zM251 45h1v1h-1zM255 45h1v1h-1zM258 45h1v1h-1zM260 45h1v1h-1zM265 45h1v1h-1zM292 45h1v1h-1zM124 46h1v1h-1zM251 46h1v1h-1zM136 47h1v1h-1zM256 48h1v1h-1zM271 48h1v1h-1zM289 48h1v1h-1zM139 49h1v1h-1zM279 49h1v1h-1zM303 49h1v1h-1z"/>
<path fill="#211D2D" d="M81 1h1v1h-1zM218 1h1v1h-1zM77 2h1v1h-1zM69 3h1v1h-1zM79 5h1v1h-1zM203 5h2v1h-2zM79 7h1v1h-1zM115 7h1v1h-1zM101 10h1v1h-1zM207 10h1v1h-1zM292 12h1v1h-1zM197 14h1v1h-1zM309 15h1v1h-1zM220 16h1v1h-1zM254 21h1v1h-1zM246 27h1v1h-1zM249 27h1v1h-1zM262 28h1v1h-1zM257 38h1v1h-1zM260 38h1v1h-1zM249 41h1v1h-1zM258 44h1v1h-1zM257 46h1v1h-1z"/>
<path fill="#1F1D22" d="M61 0h1v1h-1zM89 0h1v1h-1zM218 0h1v1h-1zM259 0h1v1h-1zM273 0h1v1h-1zM260 2h1v1h-1zM95 3h1v1h-1zM103 3h1v1h-1zM82 4h1v1h-1zM307 4h1v1h-1zM313 4h1v1h-1zM65 5h1v1h-1zM105 5h1v1h-1zM226 5h1v1h-1zM245 5h1v1h-1zM285 5h1v1h-1zM66 6h1v1h-1zM193 6h1v1h-1zM206 6h1v1h-1zM239 6h1v1h-1zM257 6h1v1h-1zM300 6h1v1h-1zM302 6h1v1h-1zM305 6h1v1h-1zM87 7h1v1h-1zM89 7h1v1h-1zM128 7h1v1h-1zM193 7h1v1h-1zM272 7h1v1h-1zM277 7h1v1h-1zM305 7h1v1h-1zM85 9h1v1h-1zM103 9h1v1h-1zM105 9h1v1h-1zM280 9h1v1h-1zM288 9h1v1h-1zM61 10h1v1h-1zM63 10h1v1h-1zM92 10h1v1h-1zM97 10h1v1h-1zM225 10h1v1h-1zM281 10h1v1h-1zM308 10h1v1h-1zM246 11h1v1h-1zM302 11h1v1h-1zM305 11h1v1h-1zM228 12h1v1h-1zM290 12h1v1h-1zM312 12h1v1h-1zM315 12h1v1h-1zM62 13h1v1h-1zM249 13h1v1h-1zM256 13h1v1h-1zM72 14h1v1h-1zM89 14h1v1h-1zM245 14h1v1h-1zM259 14h1v1h-1zM274 14h1v1h-1zM277 14h1v1h-1zM288 14h1v1h-1zM217 15h1v1h-1zM260 15h1v1h-1zM266 15h1v1h-1zM285 15h1v1h-1zM312 15h1v1h-1zM314 15h1v1h-1zM87 16h1v1h-1zM89 16h1v1h-1zM123 16h1v1h-1zM236 16h1v1h-1zM302 16h1v1h-1zM308 16h1v1h-1zM178 17h1v1h-1zM185 17h1v1h-1zM177 21h1v1h-1zM292 21h1v1h-1zM252 22h1v1h-1zM251 23h1v1h-1zM293 24h1v1h-1zM192 25h1v1h-1zM80 26h1v1h-1zM92 26h1v1h-1zM154 26h1v1h-1zM203 26h1v1h-1zM130 27h1v1h-1zM121 28h1v1h-1zM173 28h1v1h-1zM181 28h1v1h-1zM184 28h1v1h-1zM141 29h2v1h-2zM181 29h1v1h-1zM157 30h1v1h-1zM286 31h1v1h-1zM253 34h1v1h-1zM120 39h1v1h-1zM167 39h1v1h-1zM262 39h1v1h-1zM253 41h1v1h-1zM286 43h1v1h-1zM253 45h1v1h-1zM104 47h1v1h-1zM310 47h1v1h-1zM197 48h1v1h-1zM255 49h1v1h-1zM282 49h1v1h-1zM285 49h1v1h-1z"/>
<path fill="#211C2C" d="M202 0h2v1h-2zM209 0h1v1h-1zM299 0h1v1h-1zM310 0h1v1h-1zM61 1h1v1h-1zM78 1h1v1h-1zM80 1h1v1h-1zM84 1h1v1h-1zM110 1h1v1h-1zM201 1h1v1h-1zM216 1h1v1h-1zM267 1h1v1h-1zM269 1h1v1h-1zM273 1h1v1h-1zM288 1h1v1h-1zM292 1h1v1h-1zM100 2h1v1h-1zM103 2h1v1h-1zM108 2h1v1h-1zM112 2h1v1h-1zM201 2h1v1h-1zM261 2h1v1h-1zM269 2h1v1h-1zM61 3h1v1h-1zM78 3h1v1h-1zM268 3h1v1h-1zM286 3h2v1h-2zM64 4h1v1h-1zM100 4h1v1h-1zM106 4h1v1h-1zM252 4h1v1h-1zM256 4h1v1h-1zM267 4h1v1h-1zM304 4h1v1h-1zM312 4h1v1h-1zM109 5h1v1h-1zM214 5h1v1h-1zM252 5h1v1h-1zM286 5h1v1h-1zM295 5h1v1h-1zM76 6h1v1h-1zM78 6h1v1h-1zM84 6h1v1h-1zM93 6h1v1h-1zM108 6h1v1h-1zM115 6h1v1h-1zM199 6h2v1h-2zM214 6h1v1h-1zM218 6h2v1h-2zM268 6h1v1h-1zM291 6h1v1h-1zM308 6h1v1h-1zM315 6h1v1h-1zM78 7h1v1h-1zM195 7h1v1h-1zM209 7h2v1h-2zM212 7h1v1h-1zM273 7h1v1h-1zM300 7h1v1h-1zM316 7h1v1h-1zM65 8h1v1h-1zM76 8h1v1h-1zM83 8h1v1h-1zM98 8h2v1h-2zM251 8h1v1h-1zM286 8h1v1h-1zM288 8h1v1h-1zM291 8h1v1h-1zM315 8h1v1h-1zM204 9h1v1h-1zM211 9h2v1h-2zM263 9h1v1h-1zM282 9h1v1h-1zM286 9h1v1h-1zM297 9h1v1h-1zM73 10h1v1h-1zM79 10h1v1h-1zM89 10h1v1h-1zM115 10h1v1h-1zM209 10h1v1h-1zM220 10h1v1h-1zM227 10h1v1h-1zM246 10h1v1h-1zM252 10h1v1h-1zM267 10h2v1h-2zM69 11h1v1h-1zM110 11h1v1h-1zM193 11h1v1h-1zM195 11h1v1h-1zM200 11h1v1h-1zM210 11h1v1h-1zM215 11h1v1h-1zM218 11h1v1h-1zM249 11h1v1h-1zM251 11h1v1h-1zM303 11h1v1h-1zM68 12h1v1h-1zM83 12h1v1h-1zM207 12h1v1h-1zM211 12h1v1h-1zM79 14h1v1h-1zM90 14h1v1h-1zM108 14h1v1h-1zM205 14h2v1h-2zM219 14h2v1h-2zM251 14h1v1h-1zM64 15h1v1h-1zM81 15h1v1h-1zM97 15h1v1h-1zM197 15h1v1h-1zM208 15h2v1h-2zM296 15h1v1h-1zM75 16h1v1h-1zM82 16h1v1h-1zM91 16h1v1h-1zM101 16h1v1h-1zM104 16h1v1h-1zM110 16h1v1h-1zM128 16h1v1h-1zM147 16h1v1h-1zM225 16h1v1h-1zM283 16h1v1h-1zM300 19h1v1h-1zM302 19h1v1h-1zM258 20h1v1h-1zM261 20h1v1h-1zM264 20h2v1h-2zM203 22h1v1h-1zM198 23h1v1h-1zM258 23h1v1h-1zM297 24h1v1h-1zM300 24h1v1h-1zM258 25h1v1h-1zM271 25h1v1h-1zM300 25h1v1h-1zM164 26h1v1h-1zM248 26h1v1h-1zM263 26h1v1h-1zM154 27h1v1h-1zM156 27h1v1h-1zM169 27h1v1h-1zM263 27h1v1h-1zM247 28h1v1h-1zM260 28h1v1h-1zM264 28h1v1h-1zM284 28h1v1h-1zM298 28h2v1h-2zM161 29h1v1h-1zM173 29h1v1h-1zM175 29h1v1h-1zM119 30h2v1h-2zM138 31h1v1h-1zM251 31h1v1h-1zM253 31h1v1h-1zM294 31h1v1h-1zM250 32h1v1h-1zM238 33h1v1h-1zM263 33h1v1h-1zM249 34h1v1h-1zM251 34h1v1h-1zM258 34h1v1h-1zM263 34h1v1h-1zM163 35h1v1h-1zM248 35h1v1h-1zM258 35h1v1h-1zM263 35h1v1h-1zM265 35h1v1h-1zM284 35h1v1h-1zM157 36h2v1h-2zM169 36h1v1h-1zM308 36h1v1h-1zM255 37h1v1h-1zM259 37h1v1h-1zM262 37h1v1h-1zM275 37h1v1h-1zM262 38h1v1h-1zM144 39h1v1h-1zM270 39h1v1h-1zM308 40h1v1h-1zM235 41h1v1h-1zM248 41h1v1h-1zM252 41h1v1h-1zM273 41h1v1h-1zM132 42h1v1h-1zM139 42h1v1h-1zM262 42h1v1h-1zM157 43h1v1h-1zM287 43h1v1h-1zM276 44h2v1h-2zM279 44h1v1h-1zM315 44h1v1h-1zM234 45h1v1h-1zM252 45h1v1h-1zM259 45h1v1h-1zM262 45h1v1h-1zM123 46h1v1h-1zM139 46h1v1h-1zM263 46h1v1h-1zM270 46h1v1h-1zM135 47h1v1h-1zM187 47h1v1h-1zM309 47h1v1h-1zM255 48h1v1h-1zM259 48h1v1h-1zM234 49h1v1h-1zM247 49h2v1h-2zM251 49h1v1h-1z"/>
<path fill="#201C2A" d="M102 0h1v1h-1zM296 0h1v1h-1zM196 1h1v1h-1zM210 1h1v1h-1zM214 1h2v1h-2zM286 1h1v1h-1zM63 2h1v1h-1zM65 2h1v1h-1zM73 2h1v1h-1zM76 2h1v1h-1zM79 2h1v1h-1zM83 2h2v1h-2zM87 2h1v1h-1zM111 2h1v1h-1zM286 2h1v1h-1zM315 2h1v1h-1zM63 4h1v1h-1zM265 4h1v1h-1zM273 4h1v1h-1zM299 4h2v1h-2zM308 4h1v1h-1zM310 4h1v1h-1zM81 5h1v1h-1zM84 5h1v1h-1zM312 5h1v1h-1zM99 6h1v1h-1zM212 6h1v1h-1zM235 6h1v1h-1zM263 6h1v1h-1zM290 6h1v1h-1zM310 6h1v1h-1zM70 7h1v1h-1zM74 7h1v1h-1zM77 7h1v1h-1zM92 7h2v1h-2zM102 7h1v1h-1zM106 7h1v1h-1zM114 7h1v1h-1zM207 7h2v1h-2zM267 7h1v1h-1zM270 7h1v1h-1zM61 8h1v1h-1zM78 8h1v1h-1zM102 8h1v1h-1zM223 8h1v1h-1zM289 8h1v1h-1zM72 9h1v1h-1zM107 9h1v1h-1zM115 9h1v1h-1zM219 9h1v1h-1zM247 9h2v1h-2zM315 9h1v1h-1zM84 10h1v1h-1zM107 10h2v1h-2zM200 10h1v1h-1zM248 10h1v1h-1zM266 10h1v1h-1zM269 10h1v1h-1zM290 10h1v1h-1zM302 10h1v1h-1zM213 11h2v1h-2zM291 11h1v1h-1zM63 12h1v1h-1zM79 12h1v1h-1zM87 12h1v1h-1zM199 12h1v1h-1zM201 12h1v1h-1zM216 12h1v1h-1zM220 12h1v1h-1zM246 12h1v1h-1zM77 13h1v1h-1zM106 13h1v1h-1zM108 13h1v1h-1zM112 13h1v1h-1zM201 13h1v1h-1zM208 13h1v1h-1zM222 13h1v1h-1zM83 14h1v1h-1zM115 14h1v1h-1zM249 14h1v1h-1zM63 15h1v1h-1zM75 15h1v1h-1zM79 15h1v1h-1zM93 15h1v1h-1zM98 15h1v1h-1zM218 15h1v1h-1zM238 15h2v1h-2zM245 15h1v1h-1zM293 15h1v1h-1zM310 15h1v1h-1zM248 16h1v1h-1zM300 16h1v1h-1zM197 17h1v1h-1zM208 17h1v1h-1zM162 20h1v1h-1zM254 20h1v1h-1zM302 20h1v1h-1zM180 21h1v1h-1zM249 22h1v1h-1zM261 23h1v1h-1zM269 25h1v1h-1zM163 26h1v1h-1zM189 26h1v1h-1zM167 27h1v1h-1zM247 27h1v1h-1zM263 28h1v1h-1zM187 29h3v1h-3zM210 30h1v1h-1zM167 31h1v1h-1zM254 31h1v1h-1zM260 33h2v1h-2zM285 33h2v1h-2zM149 34h1v1h-1zM273 34h1v1h-1zM284 34h2v1h-2zM133 35h1v1h-1zM135 35h1v1h-1zM140 36h1v1h-1zM270 36h2v1h-2zM273 36h1v1h-1zM165 38h1v1h-1zM168 39h1v1h-1zM247 42h1v1h-1zM310 42h1v1h-1zM134 44h1v1h-1zM255 44h1v1h-1zM256 45h1v1h-1zM250 46h1v1h-1zM281 47h1v1h-1zM263 48h1v1h-1zM120 49h1v1h-1zM163 49h1v1h-1zM233 49h1v1h-1z"/>
<path fill="#201C28" d="M199 0h1v1h-1zM207 0h1v1h-1zM212 0h1v1h-1zM311 0h1v1h-1zM89 1h1v1h-1zM95 1h1v1h-1zM105 1h1v1h-1zM109 1h1v1h-1zM263 1h1v1h-1zM285 1h1v1h-1zM70 2h1v1h-1zM85 2h1v1h-1zM94 2h1v1h-1zM245 2h1v1h-1zM251 2h1v1h-1zM298 2h1v1h-1zM300 2h1v1h-1zM316 2h1v1h-1zM66 3h1v1h-1zM68 3h1v1h-1zM77 3h1v1h-1zM84 3h1v1h-1zM87 3h1v1h-1zM97 3h1v1h-1zM100 3h1v1h-1zM195 3h1v1h-1zM205 3h1v1h-1zM267 3h1v1h-1zM290 3h1v1h-1zM61 4h1v1h-1zM70 4h1v1h-1zM72 4h1v1h-1zM76 4h1v1h-1zM115 4h1v1h-1zM194 4h2v1h-2zM207 4h1v1h-1zM251 4h1v1h-1zM271 4h1v1h-1zM70 5h1v1h-1zM83 5h1v1h-1zM112 5h1v1h-1zM193 5h1v1h-1zM241 5h1v1h-1zM251 5h1v1h-1zM265 5h1v1h-1zM292 5h1v1h-1zM69 6h1v1h-1zM75 6h1v1h-1zM89 6h1v1h-1zM207 6h1v1h-1zM221 6h1v1h-1zM248 6h1v1h-1zM267 6h1v1h-1zM269 6h1v1h-1zM225 7h1v1h-1zM297 7h1v1h-1zM60 8h1v1h-1zM63 8h1v1h-1zM105 8h1v1h-1zM107 8h2v1h-2zM265 8h3v1h-3zM60 9h1v1h-1zM66 9h1v1h-1zM86 9h1v1h-1zM93 9h2v1h-2zM196 9h1v1h-1zM199 9h1v1h-1zM202 9h1v1h-1zM221 9h1v1h-1zM239 9h1v1h-1zM241 9h1v1h-1zM69 10h1v1h-1zM72 10h1v1h-1zM212 10h1v1h-1zM247 10h1v1h-1zM256 10h1v1h-1zM263 10h1v1h-1zM285 10h1v1h-1zM287 10h1v1h-1zM62 11h1v1h-1zM83 11h1v1h-1zM97 11h1v1h-1zM217 11h1v1h-1zM250 11h1v1h-1zM286 11h1v1h-1zM60 12h1v1h-1zM73 12h2v1h-2zM90 12h1v1h-1zM102 12h1v1h-1zM225 12h1v1h-1zM256 12h1v1h-1zM276 12h1v1h-1zM286 12h1v1h-1zM293 12h1v1h-1zM296 12h1v1h-1zM304 12h1v1h-1zM309 12h2v1h-2zM61 13h1v1h-1zM64 13h1v1h-1zM73 13h1v1h-1zM200 13h1v1h-1zM206 13h1v1h-1zM286 13h1v1h-1zM292 13h1v1h-1zM64 14h1v1h-1zM81 14h1v1h-1zM87 14h1v1h-1zM103 14h1v1h-1zM106 14h2v1h-2zM201 14h1v1h-1zM255 14h1v1h-1zM295 14h1v1h-1zM298 14h1v1h-1zM300 14h1v1h-1zM87 15h1v1h-1zM114 15h1v1h-1zM237 15h1v1h-1zM256 15h1v1h-1zM276 15h1v1h-1zM299 15h1v1h-1zM84 16h1v1h-1zM93 16h1v1h-1zM108 16h1v1h-1zM114 16h1v1h-1zM119 16h1v1h-1zM121 16h1v1h-1zM133 16h1v1h-1zM205 16h1v1h-1zM238 16h1v1h-1zM299 16h1v1h-1zM316 16h1v1h-1zM200 17h1v1h-1zM209 17h1v1h-1zM255 17h1v1h-1zM266 18h1v1h-1zM292 18h1v1h-1zM294 18h1v1h-1zM185 20h1v1h-1zM83 21h1v1h-1zM178 21h1v1h-1zM83 22h1v1h-1zM85 22h1v1h-1zM198 22h1v1h-1zM208 22h1v1h-1zM311 22h1v1h-1zM188 23h1v1h-1zM190 23h1v1h-1zM209 23h1v1h-1zM247 23h1v1h-1zM258 24h1v1h-1zM295 24h1v1h-1zM298 24h1v1h-1zM78 26h1v1h-1zM168 27h1v1h-1zM182 27h1v1h-1zM222 27h1v1h-1zM248 27h1v1h-1zM261 27h1v1h-1zM182 28h1v1h-1zM185 28h1v1h-1zM307 28h2v1h-2zM251 30h1v1h-1zM263 32h1v1h-1zM276 32h1v1h-1zM247 33h1v1h-1zM304 33h1v1h-1zM138 36h1v1h-1zM240 36h1v1h-1zM252 36h1v1h-1zM274 36h1v1h-1zM263 37h1v1h-1zM261 38h1v1h-1zM274 39h1v1h-1zM168 40h1v1h-1zM287 40h1v1h-1zM309 40h1v1h-1zM119 41h1v1h-1zM262 41h1v1h-1zM281 41h1v1h-1zM292 41h1v1h-1zM233 42h1v1h-1zM227 43h1v1h-1zM158 44h1v1h-1zM262 44h1v1h-1zM264 45h1v1h-1zM282 46h1v1h-1zM286 47h1v1h-1zM288 47h1v1h-1zM183 48h1v1h-1zM222 48h1v1h-1zM256 49h1v1h-1z"/>
<path fill="#1D1C1F" d="M66 0h1v1h-1zM82 0h1v1h-1zM99 0h1v1h-1zM237 0h1v1h-1zM265 0h1v1h-1zM270 0h1v1h-1zM272 0h1v1h-1zM259 1h1v1h-1zM242 2h1v1h-1zM249 2h1v1h-1zM288 2h1v1h-1zM291 2h1v1h-1zM312 2h1v1h-1zM314 2h1v1h-1zM83 3h1v1h-1zM89 3h1v1h-1zM273 3h1v1h-1zM62 4h1v1h-1zM71 4h1v1h-1zM87 4h1v1h-1zM89 4h1v1h-1zM203 4h1v1h-1zM262 4h1v1h-1zM291 4h1v1h-1zM293 4h1v1h-1zM62 5h1v1h-1zM103 5h1v1h-1zM249 5h1v1h-1zM274 5h1v1h-1zM298 5h1v1h-1zM307 5h1v1h-1zM98 6h1v1h-1zM195 6h1v1h-1zM247 6h1v1h-1zM222 7h1v1h-1zM263 7h1v1h-1zM301 7h1v1h-1zM62 8h1v1h-1zM87 9h1v1h-1zM277 9h1v1h-1zM301 10h1v1h-1zM195 12h1v1h-1zM206 12h1v1h-1zM313 12h1v1h-1zM102 13h1v1h-1zM217 13h1v1h-1zM294 13h1v1h-1zM92 14h1v1h-1zM252 14h1v1h-1zM264 14h1v1h-1zM308 14h1v1h-1zM104 15h1v1h-1zM206 15h1v1h-1zM223 15h1v1h-1zM262 15h1v1h-1zM274 15h1v1h-1zM305 15h1v1h-1zM135 16h1v1h-1zM227 16h1v1h-1zM266 16h1v1h-1zM296 21h1v1h-1zM76 26h1v1h-1zM165 26h1v1h-1zM144 27h1v1h-1zM208 27h1v1h-1zM221 27h1v1h-1zM255 27h1v1h-1zM161 28h1v1h-1zM179 28h1v1h-1zM208 28h1v1h-1zM209 29h1v1h-1zM201 35h1v1h-1zM135 38h1v1h-1zM260 39h1v1h-1zM234 41h1v1h-1zM167 44h1v1h-1zM252 44h1v1h-1z"/>
<path fill="#1F1B28" d="M208 0h1v1h-1zM213 0h1v1h-1zM215 0h1v1h-1zM291 0h1v1h-1zM64 1h2v1h-2zM75 1h1v1h-1zM79 1h1v1h-1zM87 1h1v1h-1zM94 1h1v1h-1zM115 1h1v1h-1zM197 1h1v1h-1zM202 1h1v1h-1zM205 1h1v1h-1zM209 1h1v1h-1zM221 1h1v1h-1zM61 2h1v1h-1zM74 2h1v1h-1zM82 2h1v1h-1zM107 2h1v1h-1zM200 2h1v1h-1zM287 2h1v1h-1zM73 3h2v1h-2zM85 3h1v1h-1zM98 3h1v1h-1zM108 3h1v1h-1zM110 3h1v1h-1zM210 3h1v1h-1zM249 3h1v1h-1zM252 3h1v1h-1zM299 3h1v1h-1zM69 4h1v1h-1zM109 4h1v1h-1zM272 4h1v1h-1zM77 5h1v1h-1zM82 5h1v1h-1zM94 5h1v1h-1zM106 5h2v1h-2zM205 5h1v1h-1zM215 5h1v1h-1zM237 5h1v1h-1zM73 6h1v1h-1zM80 6h1v1h-1zM86 6h1v1h-1zM92 6h1v1h-1zM102 6h1v1h-1zM107 6h1v1h-1zM114 6h1v1h-1zM220 6h1v1h-1zM251 6h1v1h-1zM253 6h1v1h-1zM297 6h1v1h-1zM203 7h1v1h-1zM268 7h1v1h-1zM274 7h1v1h-1zM64 8h1v1h-1zM82 8h1v1h-1zM85 8h2v1h-2zM101 8h1v1h-1zM201 8h1v1h-1zM211 8h1v1h-1zM214 8h2v1h-2zM269 8h1v1h-1zM287 8h1v1h-1zM81 9h1v1h-1zM108 9h1v1h-1zM198 9h1v1h-1zM207 9h1v1h-1zM217 9h1v1h-1zM240 9h1v1h-1zM245 9h1v1h-1zM252 9h2v1h-2zM266 9h2v1h-2zM274 9h1v1h-1zM285 9h1v1h-1zM83 10h1v1h-1zM85 10h1v1h-1zM106 10h1v1h-1zM208 10h1v1h-1zM237 10h2v1h-2zM240 10h1v1h-1zM244 10h1v1h-1zM250 10h1v1h-1zM296 10h1v1h-1zM82 11h1v1h-1zM85 11h1v1h-1zM106 11h2v1h-2zM219 11h1v1h-1zM227 11h1v1h-1zM235 11h1v1h-1zM309 11h1v1h-1zM62 12h1v1h-1zM81 12h1v1h-1zM208 12h1v1h-1zM263 12h1v1h-1zM291 12h1v1h-1zM75 13h1v1h-1zM78 13h2v1h-2zM86 13h2v1h-2zM100 13h1v1h-1zM104 13h1v1h-1zM69 14h1v1h-1zM82 14h1v1h-1zM85 14h1v1h-1zM102 14h1v1h-1zM268 14h1v1h-1zM273 14h1v1h-1zM315 14h1v1h-1zM73 15h1v1h-1zM76 15h1v1h-1zM102 15h1v1h-1zM198 15h1v1h-1zM220 15h1v1h-1zM224 15h1v1h-1zM247 15h1v1h-1zM249 15h1v1h-1zM289 15h2v1h-2zM63 16h1v1h-1zM73 16h1v1h-1zM85 16h2v1h-2zM92 16h1v1h-1zM100 16h1v1h-1zM103 16h1v1h-1zM129 16h1v1h-1zM197 16h1v1h-1zM239 16h1v1h-1zM247 16h1v1h-1zM262 16h1v1h-1zM282 16h1v1h-1zM284 16h1v1h-1zM286 16h1v1h-1zM220 17h1v1h-1zM314 18h2v1h-2zM294 20h1v1h-1zM313 22h1v1h-1zM260 23h1v1h-1zM63 26h1v1h-1zM174 26h2v1h-2zM181 26h2v1h-2zM188 26h1v1h-1zM170 27h1v1h-1zM250 27h1v1h-1zM258 27h1v1h-1zM261 28h1v1h-1zM164 29h1v1h-1zM168 29h2v1h-2zM172 29h1v1h-1zM176 29h2v1h-2zM182 29h1v1h-1zM190 29h1v1h-1zM271 30h1v1h-1zM247 31h1v1h-1zM261 31h2v1h-2zM247 34h1v1h-1zM255 34h1v1h-1zM126 35h1v1h-1zM250 35h2v1h-2zM255 35h1v1h-1zM260 35h1v1h-1zM262 35h1v1h-1zM276 35h1v1h-1zM266 36h1v1h-1zM119 37h1v1h-1zM139 38h1v1h-1zM136 39h1v1h-1zM139 39h1v1h-1zM270 41h1v1h-1zM248 42h1v1h-1zM251 42h1v1h-1zM260 42h1v1h-1zM312 44h1v1h-1zM235 45h1v1h-1zM261 45h1v1h-1zM249 46h1v1h-1zM256 46h1v1h-1zM258 46h3v1h-3zM265 46h1v1h-1zM274 47h1v1h-1zM249 48h1v1h-1zM251 48h1v1h-1zM257 48h1v1h-1zM260 49h1v1h-1z"/>
<path fill="#1E1B25" d="M216 0h1v1h-1zM69 1h1v1h-1zM73 1h1v1h-1zM88 1h1v1h-1zM102 1h1v1h-1zM106 1h1v1h-1zM248 1h2v1h-2zM293 1h1v1h-1zM315 1h1v1h-1zM75 2h1v1h-1zM78 2h1v1h-1zM104 2h1v1h-1zM110 2h1v1h-1zM248 2h1v1h-1zM299 2h1v1h-1zM64 3h1v1h-1zM76 3h1v1h-1zM94 3h1v1h-1zM193 3h1v1h-1zM196 3h1v1h-1zM206 3h1v1h-1zM211 3h1v1h-1zM247 3h1v1h-1zM261 3h1v1h-1zM266 3h1v1h-1zM292 3h1v1h-1zM86 4h1v1h-1zM102 4h2v1h-2zM107 4h1v1h-1zM199 4h1v1h-1zM211 4h3v1h-3zM217 4h1v1h-1zM311 4h1v1h-1zM71 5h1v1h-1zM216 5h1v1h-1zM223 5h1v1h-1zM236 5h1v1h-1zM267 5h1v1h-1zM270 5h1v1h-1zM273 5h1v1h-1zM289 5h1v1h-1zM297 5h1v1h-1zM316 5h1v1h-1zM60 6h1v1h-1zM64 6h1v1h-1zM74 6h1v1h-1zM81 6h2v1h-2zM91 6h1v1h-1zM101 6h1v1h-1zM105 6h1v1h-1zM112 6h1v1h-1zM201 6h3v1h-3zM211 6h1v1h-1zM216 6h1v1h-1zM223 6h1v1h-1zM225 6h1v1h-1zM252 6h1v1h-1zM256 6h1v1h-1zM266 6h1v1h-1zM286 6h1v1h-1zM289 6h1v1h-1zM293 6h1v1h-1zM298 6h1v1h-1zM303 6h1v1h-1zM86 7h1v1h-1zM110 7h1v1h-1zM113 7h1v1h-1zM197 7h1v1h-1zM200 7h1v1h-1zM211 7h1v1h-1zM213 7h1v1h-1zM219 7h1v1h-1zM223 7h1v1h-1zM256 7h1v1h-1zM262 7h1v1h-1zM292 7h1v1h-1zM302 7h1v1h-1zM70 8h1v1h-1zM90 8h1v1h-1zM209 8h1v1h-1zM212 8h1v1h-1zM246 8h1v1h-1zM270 8h1v1h-1zM276 8h1v1h-1zM63 9h2v1h-2zM73 9h1v1h-1zM80 9h1v1h-1zM106 9h1v1h-1zM111 9h1v1h-1zM194 9h2v1h-2zM208 9h1v1h-1zM268 9h1v1h-1zM299 9h1v1h-1zM81 10h1v1h-1zM88 10h1v1h-1zM99 10h1v1h-1zM110 10h1v1h-1zM197 10h1v1h-1zM228 10h1v1h-1zM241 10h1v1h-1zM286 10h1v1h-1zM299 10h2v1h-2zM81 11h1v1h-1zM99 11h1v1h-1zM108 11h1v1h-1zM111 11h1v1h-1zM205 11h1v1h-1zM209 11h1v1h-1zM231 11h1v1h-1zM237 11h1v1h-1zM240 11h1v1h-1zM252 11h1v1h-1zM101 12h1v1h-1zM200 12h1v1h-1zM210 12h1v1h-1zM219 12h1v1h-1zM261 12h1v1h-1zM277 12h1v1h-1zM285 12h1v1h-1zM297 12h2v1h-2zM76 13h1v1h-1zM98 13h1v1h-1zM115 13h1v1h-1zM193 13h1v1h-1zM202 13h1v1h-1zM248 13h1v1h-1zM269 13h1v1h-1zM280 13h1v1h-1zM295 13h1v1h-1zM304 13h1v1h-1zM62 14h1v1h-1zM80 14h1v1h-1zM101 14h1v1h-1zM217 14h1v1h-1zM241 14h1v1h-1zM248 14h1v1h-1zM267 14h1v1h-1zM269 14h1v1h-1zM302 14h1v1h-1zM314 14h1v1h-1zM74 15h1v1h-1zM95 15h1v1h-1zM201 15h1v1h-1zM203 15h1v1h-1zM219 15h1v1h-1zM269 15h1v1h-1zM287 15h1v1h-1zM291 15h1v1h-1zM297 15h1v1h-1zM301 15h1v1h-1zM303 15h1v1h-1zM311 15h1v1h-1zM71 16h1v1h-1zM81 16h1v1h-1zM193 16h1v1h-1zM245 16h1v1h-1zM267 16h1v1h-1zM84 17h1v1h-1zM254 18h1v1h-1zM294 19h1v1h-1zM247 20h2v1h-2zM295 21h1v1h-1zM311 21h1v1h-1zM177 22h1v1h-1zM248 23h1v1h-1zM111 26h1v1h-1zM113 26h1v1h-1zM115 26h1v1h-1zM156 26h1v1h-1zM179 26h1v1h-1zM142 27h1v1h-1zM252 27h1v1h-1zM118 28h1v1h-1zM178 28h1v1h-1zM213 28h1v1h-1zM252 28h1v1h-1zM183 29h2v1h-2zM250 29h2v1h-2zM166 33h1v1h-1zM248 33h1v1h-1zM307 33h1v1h-1zM139 34h1v1h-1zM254 34h1v1h-1zM252 35h1v1h-1zM254 35h1v1h-1zM127 37h1v1h-1zM233 37h1v1h-1zM261 37h1v1h-1zM287 37h1v1h-1zM284 40h2v1h-2zM261 41h1v1h-1zM274 41h1v1h-1zM184 42h1v1h-1zM162 43h1v1h-1zM168 44h1v1h-1zM247 44h1v1h-1zM249 44h1v1h-1zM261 44h1v1h-1zM275 44h1v1h-1zM283 44h1v1h-1zM309 45h1v1h-1zM247 46h2v1h-2zM261 46h1v1h-1zM134 47h1v1h-1zM144 47h1v1h-1zM260 48h2v1h-2zM274 48h1v1h-1zM259 49h1v1h-1z"/>
<path fill="#1D1A24" d="M107 0h2v1h-2zM197 0h1v1h-1zM214 0h1v1h-1zM268 0h1v1h-1zM315 0h1v1h-1zM72 1h1v1h-1zM247 1h1v1h-1zM63 3h1v1h-1zM65 3h1v1h-1zM75 3h1v1h-1zM80 3h1v1h-1zM203 3h1v1h-1zM265 3h1v1h-1zM66 4h1v1h-1zM80 4h2v1h-2zM220 4h1v1h-1zM245 4h1v1h-1zM297 4h1v1h-1zM72 5h1v1h-1zM78 5h1v1h-1zM108 5h1v1h-1zM303 5h1v1h-1zM311 5h1v1h-1zM79 6h1v1h-1zM85 6h1v1h-1zM109 6h1v1h-1zM196 6h2v1h-2zM71 7h1v1h-1zM91 7h1v1h-1zM269 7h1v1h-1zM106 8h1v1h-1zM203 8h1v1h-1zM76 9h1v1h-1zM78 9h1v1h-1zM102 9h1v1h-1zM209 9h1v1h-1zM283 9h1v1h-1zM64 10h1v1h-1zM294 10h1v1h-1zM65 11h1v1h-1zM224 12h1v1h-1zM294 12h1v1h-1zM80 13h1v1h-1zM110 13h1v1h-1zM298 13h1v1h-1zM101 15h1v1h-1zM110 15h1v1h-1zM200 15h1v1h-1zM268 15h1v1h-1zM270 15h1v1h-1zM288 15h1v1h-1zM131 16h1v1h-1zM143 16h2v1h-2zM206 16h1v1h-1zM235 16h1v1h-1zM254 16h1v1h-1zM273 16h1v1h-1zM292 16h1v1h-1zM205 21h1v1h-1zM178 22h1v1h-1zM184 22h1v1h-1zM249 23h1v1h-1zM311 25h1v1h-1zM170 26h1v1h-1zM178 26h1v1h-1zM187 26h1v1h-1zM262 27h1v1h-1zM175 28h1v1h-1zM257 28h1v1h-1zM185 29h1v1h-1zM168 34h1v1h-1zM261 34h2v1h-2zM261 35h1v1h-1zM250 42h1v1h-1zM169 44h1v1h-1zM262 48h1v1h-1zM262 49h2v1h-2z"/>
<path fill="#1D1A22" d="M79 0h1v1h-1zM112 0h1v1h-1zM193 0h1v1h-1zM256 0h1v1h-1zM266 0h1v1h-1zM313 0h1v1h-1zM63 1h1v1h-1zM71 1h1v1h-1zM83 1h1v1h-1zM262 1h1v1h-1zM268 1h1v1h-1zM64 2h1v1h-1zM93 2h1v1h-1zM102 2h1v1h-1zM196 2h1v1h-1zM246 2h1v1h-1zM209 3h1v1h-1zM248 3h1v1h-1zM310 3h1v1h-1zM79 4h1v1h-1zM101 4h1v1h-1zM198 4h1v1h-1zM200 4h1v1h-1zM210 4h1v1h-1zM216 4h1v1h-1zM246 4h1v1h-1zM296 4h1v1h-1zM316 4h1v1h-1zM63 5h1v1h-1zM90 5h1v1h-1zM102 5h1v1h-1zM238 5h1v1h-1zM246 5h1v1h-1zM309 5h1v1h-1zM61 6h3v1h-3zM65 6h1v1h-1zM77 6h1v1h-1zM208 6h1v1h-1zM215 6h1v1h-1zM229 6h2v1h-2zM265 6h1v1h-1zM288 6h1v1h-1zM311 6h1v1h-1zM80 7h1v1h-1zM202 7h1v1h-1zM220 7h1v1h-1zM238 7h1v1h-1zM241 7h1v1h-1zM294 7h1v1h-1zM296 7h1v1h-1zM298 7h2v1h-2zM310 7h1v1h-1zM72 8h1v1h-1zM77 8h1v1h-1zM81 8h1v1h-1zM92 8h1v1h-1zM197 8h1v1h-1zM200 8h1v1h-1zM247 8h1v1h-1zM252 8h1v1h-1zM256 8h1v1h-1zM263 8h1v1h-1zM274 8h1v1h-1zM298 8h1v1h-1zM310 8h1v1h-1zM61 9h1v1h-1zM197 9h1v1h-1zM250 9h1v1h-1zM254 9h1v1h-1zM262 9h1v1h-1zM264 9h1v1h-1zM275 9h1v1h-1zM291 9h2v1h-2zM294 9h1v1h-1zM87 10h1v1h-1zM91 10h1v1h-1zM114 10h1v1h-1zM196 10h1v1h-1zM201 10h1v1h-1zM226 10h1v1h-1zM242 10h2v1h-2zM249 10h1v1h-1zM272 10h1v1h-1zM293 10h1v1h-1zM303 10h1v1h-1zM309 10h1v1h-1zM63 11h1v1h-1zM77 11h1v1h-1zM79 11h1v1h-1zM102 11h1v1h-1zM115 11h1v1h-1zM194 11h1v1h-1zM232 11h1v1h-1zM234 11h1v1h-1zM236 11h1v1h-1zM289 11h2v1h-2zM304 11h1v1h-1zM308 11h1v1h-1zM80 12h1v1h-1zM213 12h1v1h-1zM262 12h1v1h-1zM295 12h1v1h-1zM85 13h1v1h-1zM101 13h1v1h-1zM109 13h1v1h-1zM195 13h1v1h-1zM205 13h1v1h-1zM209 13h1v1h-1zM284 13h1v1h-1zM287 13h1v1h-1zM303 13h1v1h-1zM316 13h1v1h-1zM65 14h1v1h-1zM73 14h1v1h-1zM77 14h1v1h-1zM84 14h1v1h-1zM111 14h1v1h-1zM238 14h1v1h-1zM261 14h1v1h-1zM266 14h1v1h-1zM297 14h1v1h-1zM305 14h1v1h-1zM309 14h1v1h-1zM72 15h1v1h-1zM96 15h1v1h-1zM103 15h1v1h-1zM202 15h1v1h-1zM214 15h1v1h-1zM236 15h1v1h-1zM246 15h1v1h-1zM248 15h1v1h-1zM308 15h1v1h-1zM316 15h1v1h-1zM72 16h1v1h-1zM80 16h1v1h-1zM132 16h1v1h-1zM145 16h1v1h-1zM151 16h1v1h-1zM246 16h1v1h-1zM281 16h1v1h-1zM285 16h1v1h-1zM289 16h1v1h-1zM293 16h1v1h-1zM293 18h1v1h-1zM204 21h1v1h-1zM84 22h1v1h-1zM204 22h1v1h-1zM315 25h1v1h-1zM81 26h2v1h-2zM88 26h1v1h-1zM114 26h1v1h-1zM159 26h1v1h-1zM162 26h1v1h-1zM176 26h1v1h-1zM180 26h1v1h-1zM183 26h1v1h-1zM190 26h1v1h-1zM141 27h1v1h-1zM155 27h1v1h-1zM260 27h1v1h-1zM165 28h1v1h-1zM170 28h2v1h-2zM248 28h1v1h-1zM160 29h1v1h-1zM174 29h1v1h-1zM270 30h1v1h-1zM248 34h1v1h-1zM286 34h1v1h-1zM127 35h1v1h-1zM134 35h1v1h-1zM257 35h1v1h-1zM163 44h1v1h-1zM186 44h2v1h-2zM248 44h1v1h-1zM254 44h1v1h-1zM184 48h1v1h-1zM250 48h1v1h-1zM258 48h1v1h-1zM253 49h1v1h-1z"/>
<path fill="#1C1B1E" d="M195 0h1v1h-1zM201 0h1v1h-1zM249 0h1v1h-1zM312 0h1v1h-1zM222 1h1v1h-1zM256 1h1v1h-1zM294 1h1v1h-1zM72 2h1v1h-1zM194 3h1v1h-1zM263 3h1v1h-1zM85 4h1v1h-1zM108 4h1v1h-1zM301 4h3v1h-3zM101 5h1v1h-1zM142 5h1v1h-1zM87 6h1v1h-1zM242 6h1v1h-1zM259 6h1v1h-1zM261 6h1v1h-1zM307 6h1v1h-1zM314 6h1v1h-1zM71 8h1v1h-1zM235 8h1v1h-1zM290 8h1v1h-1zM193 9h1v1h-1zM260 9h1v1h-1zM290 9h1v1h-1zM80 10h1v1h-1zM258 10h1v1h-1zM75 11h1v1h-1zM248 11h1v1h-1zM263 11h1v1h-1zM299 11h1v1h-1zM310 11h1v1h-1zM196 12h1v1h-1zM244 12h1v1h-1zM283 12h1v1h-1zM288 12h1v1h-1zM255 13h1v1h-1zM301 13h1v1h-1zM308 13h1v1h-1zM310 13h1v1h-1zM78 14h1v1h-1zM110 14h1v1h-1zM151 14h2v1h-2zM226 14h1v1h-1zM250 14h1v1h-1zM310 14h1v1h-1zM240 15h1v1h-1zM148 16h1v1h-1zM223 16h1v1h-1zM240 16h1v1h-1zM307 16h1v1h-1zM184 17h1v1h-1zM148 28h1v1h-1zM157 28h1v1h-1zM169 28h1v1h-1zM209 28h1v1h-1zM123 29h1v1h-1zM179 29h1v1h-1zM273 30h1v1h-1zM286 36h1v1h-1zM286 40h1v1h-1zM261 42h1v1h-1zM286 44h1v1h-1zM127 49h1v1h-1zM199 49h1v1h-1z"/>
<path fill="#1C1921" d="M60 0h1v1h-1zM64 0h1v1h-1zM196 0h1v1h-1zM269 0h1v1h-1zM285 0h1v1h-1zM314 0h1v1h-1zM77 1h1v1h-1zM217 1h1v1h-1zM252 1h1v1h-1zM261 1h1v1h-1zM265 1h1v1h-1zM287 1h1v1h-1zM89 2h1v1h-1zM105 2h1v1h-1zM252 2h1v1h-1zM262 2h1v1h-1zM266 2h2v1h-2zM72 3h1v1h-1zM79 3h1v1h-1zM93 3h1v1h-1zM102 3h1v1h-1zM109 3h1v1h-1zM260 3h1v1h-1zM264 3h1v1h-1zM296 3h1v1h-1zM316 3h1v1h-1zM60 4h1v1h-1zM111 4h1v1h-1zM214 4h1v1h-1zM224 4h1v1h-1zM237 4h1v1h-1zM248 4h1v1h-1zM263 4h2v1h-2zM69 5h1v1h-1zM89 5h1v1h-1zM95 5h2v1h-2zM217 5h1v1h-1zM248 5h1v1h-1zM269 5h1v1h-1zM272 5h1v1h-1zM313 5h1v1h-1zM90 6h1v1h-1zM106 6h1v1h-1zM113 6h1v1h-1zM209 6h2v1h-2zM217 6h1v1h-1zM313 6h1v1h-1zM63 7h1v1h-1zM101 7h1v1h-1zM245 7h1v1h-1zM287 7h1v1h-1zM293 7h1v1h-1zM295 7h1v1h-1zM75 8h1v1h-1zM100 8h1v1h-1zM202 8h1v1h-1zM207 8h1v1h-1zM213 8h1v1h-1zM261 8h1v1h-1zM275 8h1v1h-1zM277 8h1v1h-1zM75 9h1v1h-1zM77 9h1v1h-1zM79 9h1v1h-1zM203 9h1v1h-1zM265 9h1v1h-1zM269 9h1v1h-1zM276 9h1v1h-1zM284 9h1v1h-1zM293 9h1v1h-1zM295 9h2v1h-2zM311 9h1v1h-1zM229 10h1v1h-1zM262 10h1v1h-1zM277 10h1v1h-1zM282 10h1v1h-1zM61 11h1v1h-1zM80 11h1v1h-1zM86 11h1v1h-1zM93 11h1v1h-1zM226 11h1v1h-1zM241 11h1v1h-1zM255 11h1v1h-1zM312 11h1v1h-1zM67 12h1v1h-1zM91 12h1v1h-1zM209 12h1v1h-1zM249 12h1v1h-1zM252 12h1v1h-1zM260 12h1v1h-1zM299 12h1v1h-1zM81 13h3v1h-3zM93 13h1v1h-1zM105 13h1v1h-1zM114 13h1v1h-1zM122 13h1v1h-1zM246 13h1v1h-1zM276 13h1v1h-1zM296 13h1v1h-1zM202 14h1v1h-1zM247 14h1v1h-1zM265 14h1v1h-1zM296 14h1v1h-1zM212 15h1v1h-1zM225 15h1v1h-1zM267 15h1v1h-1zM122 16h1v1h-1zM241 16h1v1h-1zM269 16h1v1h-1zM311 17h1v1h-1zM305 22h3v1h-3zM65 26h1v1h-1zM70 26h1v1h-1zM91 26h1v1h-1zM102 26h1v1h-1zM157 26h1v1h-1zM145 27h1v1h-1zM251 27h1v1h-1zM257 27h1v1h-1zM259 27h1v1h-1zM174 28h1v1h-1zM214 28h1v1h-1zM156 29h1v1h-1zM256 35h1v1h-1zM139 36h1v1h-1zM170 44h1v1h-1zM262 46h1v1h-1zM261 49h1v1h-1z"/>
<path fill="#1B1A1C" d="M69 0h1v1h-1zM72 0h1v1h-1zM81 0h1v1h-1zM84 0h1v1h-1zM219 0h1v1h-1zM238 0h1v1h-1zM251 0h1v1h-1zM255 0h1v1h-1zM260 0h1v1h-1zM282 0h2v1h-2zM107 1h2v1h-2zM114 1h1v1h-1zM250 1h1v1h-1zM257 1h1v1h-1zM264 1h1v1h-1zM276 1h2v1h-2zM313 1h1v1h-1zM222 2h1v1h-1zM224 2h1v1h-1zM237 2h1v1h-1zM253 2h1v1h-1zM290 2h1v1h-1zM71 3h1v1h-1zM313 3h1v1h-1zM74 4h1v1h-1zM77 4h1v1h-1zM197 4h1v1h-1zM209 4h1v1h-1zM226 4h1v1h-1zM239 4h1v1h-1zM241 4h1v1h-1zM276 4h1v1h-1zM91 5h1v1h-1zM93 5h1v1h-1zM98 5h1v1h-1zM100 5h1v1h-1zM111 5h1v1h-1zM224 5h1v1h-1zM227 5h1v1h-1zM268 5h1v1h-1zM103 6h1v1h-1zM226 6h1v1h-1zM231 6h1v1h-1zM264 6h1v1h-1zM224 7h1v1h-1zM226 7h1v1h-1zM228 7h1v1h-1zM236 7h1v1h-1zM240 7h1v1h-1zM247 7h2v1h-2zM250 7h1v1h-1zM254 7h2v1h-2zM266 7h1v1h-1zM288 7h1v1h-1zM291 7h1v1h-1zM307 7h1v1h-1zM313 7h1v1h-1zM87 8h3v1h-3zM196 8h1v1h-1zM226 8h2v1h-2zM229 8h1v1h-1zM234 8h1v1h-1zM241 8h1v1h-1zM294 8h1v1h-1zM296 8h1v1h-1zM89 9h1v1h-1zM225 9h2v1h-2zM310 9h1v1h-1zM235 10h2v1h-2zM276 10h1v1h-1zM89 11h1v1h-1zM260 11h1v1h-1zM295 11h1v1h-1zM311 11h1v1h-1zM223 12h1v1h-1zM236 12h2v1h-2zM267 12h2v1h-2zM308 12h1v1h-1zM84 13h1v1h-1zM123 13h1v1h-1zM152 13h1v1h-1zM227 13h1v1h-1zM238 13h1v1h-1zM247 13h1v1h-1zM262 13h1v1h-1zM278 13h1v1h-1zM288 13h1v1h-1zM290 13h1v1h-1zM313 13h1v1h-1zM235 14h1v1h-1zM239 14h1v1h-1zM263 14h1v1h-1zM281 14h1v1h-1zM294 14h1v1h-1zM226 15h1v1h-1zM253 15h1v1h-1zM261 15h1v1h-1zM271 15h1v1h-1zM281 15h1v1h-1zM126 16h1v1h-1zM149 16h2v1h-2zM228 16h1v1h-1zM242 16h2v1h-2zM293 20h1v1h-1zM307 21h1v1h-1zM71 26h2v1h-2zM74 26h1v1h-1zM86 26h1v1h-1zM96 26h1v1h-1zM103 26h1v1h-1zM116 26h2v1h-2zM161 26h1v1h-1zM120 27h1v1h-1zM148 27h1v1h-1zM201 27h1v1h-1zM254 27h1v1h-1zM119 28h1v1h-1zM131 28h1v1h-1zM143 28h1v1h-1zM146 28h1v1h-1zM150 28h1v1h-1zM202 28h1v1h-1zM215 28h1v1h-1zM218 28h1v1h-1zM128 29h1v1h-1zM131 29h2v1h-2zM199 29h1v1h-1zM218 29h1v1h-1zM220 29h1v1h-1zM258 43h2v1h-2zM213 47h1v1h-1zM218 47h1v1h-1zM100 48h1v1h-1zM205 48h1v1h-1zM201 49h1v1h-1zM218 49h1v1h-1z"/>
<path fill="#1B191E" d="M106 0h1v1h-1zM247 0h2v1h-2zM267 0h1v1h-1zM286 0h1v1h-1zM62 1h1v1h-1zM93 1h1v1h-1zM260 1h1v1h-1zM62 2h1v1h-1zM69 2h1v1h-1zM81 2h1v1h-1zM106 2h1v1h-1zM114 2h2v1h-2zM263 2h1v1h-1zM268 2h1v1h-1zM92 3h1v1h-1zM294 3h1v1h-1zM298 3h1v1h-1zM311 3h1v1h-1zM68 4h1v1h-1zM90 4h1v1h-1zM110 4h1v1h-1zM247 4h1v1h-1zM249 4h2v1h-2zM73 5h3v1h-3zM85 5h2v1h-2zM110 5h1v1h-1zM115 5h1v1h-1zM239 5h1v1h-1zM247 5h1v1h-1zM256 5h1v1h-1zM271 5h1v1h-1zM287 5h1v1h-1zM290 5h1v1h-1zM296 5h1v1h-1zM111 6h1v1h-1zM222 6h1v1h-1zM228 6h1v1h-1zM236 6h1v1h-1zM254 6h2v1h-2zM287 6h1v1h-1zM312 6h1v1h-1zM194 7h1v1h-1zM237 7h1v1h-1zM74 8h1v1h-1zM79 8h2v1h-2zM91 8h1v1h-1zM93 8h1v1h-1zM115 8h1v1h-1zM245 8h1v1h-1zM262 8h1v1h-1zM268 8h1v1h-1zM283 8h1v1h-1zM285 8h1v1h-1zM295 8h1v1h-1zM297 8h1v1h-1zM299 8h1v1h-1zM314 8h1v1h-1zM62 9h1v1h-1zM74 9h1v1h-1zM98 9h2v1h-2zM205 9h1v1h-1zM249 9h1v1h-1zM287 9h1v1h-1zM312 9h1v1h-1zM314 9h1v1h-1zM239 10h1v1h-1zM259 10h1v1h-1zM261 10h1v1h-1zM68 11h1v1h-1zM76 11h1v1h-1zM87 11h1v1h-1zM100 11h2v1h-2zM225 11h1v1h-1zM228 11h1v1h-1zM239 11h1v1h-1zM256 11h1v1h-1zM315 11h2v1h-2zM214 12h2v1h-2zM251 12h1v1h-1zM287 12h1v1h-1zM303 12h1v1h-1zM89 13h1v1h-1zM283 13h1v1h-1zM297 13h1v1h-1zM299 13h2v1h-2zM76 14h1v1h-1zM91 14h1v1h-1zM236 14h1v1h-1zM80 15h1v1h-1zM213 15h1v1h-1zM241 15h1v1h-1zM252 15h1v1h-1zM272 15h2v1h-2zM307 15h1v1h-1zM74 16h1v1h-1zM127 16h1v1h-1zM140 16h1v1h-1zM274 16h1v1h-1zM276 16h1v1h-1zM288 16h1v1h-1zM291 16h1v1h-1zM201 17h1v1h-1zM312 17h2v1h-2zM250 23h1v1h-1zM68 26h2v1h-2zM89 26h2v1h-2zM97 26h1v1h-1zM99 26h1v1h-1zM101 26h1v1h-1zM112 26h1v1h-1zM177 26h1v1h-1zM185 26h1v1h-1zM162 28h1v1h-1zM164 28h1v1h-1zM176 28h1v1h-1zM253 28h1v1h-1zM157 29h1v1h-1zM163 29h1v1h-1zM186 29h1v1h-1zM266 30h2v1h-2zM281 44h1v1h-1zM285 44h1v1h-1zM310 45h1v1h-1zM114 48h1v1h-1z"/>
<path fill="#1A191B" d="M63 0h1v1h-1zM73 0h2v1h-2zM100 0h1v1h-1zM113 0h1v1h-1zM115 0h1v1h-1zM239 0h1v1h-1zM284 0h1v1h-1zM316 0h1v1h-1zM251 1h1v1h-1zM312 1h1v1h-1zM80 2h1v1h-1zM113 2h1v1h-1zM229 2h1v1h-1zM256 2h1v1h-1zM264 2h2v1h-2zM101 3h1v1h-1zM256 3h1v1h-1zM293 3h1v1h-1zM297 3h1v1h-1zM312 3h1v1h-1zM314 3h2v1h-2zM78 4h1v1h-1zM84 4h1v1h-1zM91 4h1v1h-1zM93 4h1v1h-1zM215 4h1v1h-1zM225 4h1v1h-1zM260 4h1v1h-1zM281 4h2v1h-2zM76 5h1v1h-1zM92 5h1v1h-1zM99 5h1v1h-1zM260 5h2v1h-2zM288 5h1v1h-1zM291 5h1v1h-1zM310 5h1v1h-1zM314 5h1v1h-1zM227 6h1v1h-1zM260 6h1v1h-1zM239 7h1v1h-1zM249 7h1v1h-1zM251 7h1v1h-1zM253 7h1v1h-1zM265 7h1v1h-1zM276 7h1v1h-1zM282 7h2v1h-2zM285 7h1v1h-1zM73 8h1v1h-1zM208 8h1v1h-1zM220 8h1v1h-1zM222 8h1v1h-1zM228 8h1v1h-1zM281 8h2v1h-2zM313 8h1v1h-1zM100 9h2v1h-2zM261 9h1v1h-1zM273 9h1v1h-1zM60 10h1v1h-1zM279 10h1v1h-1zM310 10h3v1h-3zM316 10h1v1h-1zM88 11h1v1h-1zM224 11h1v1h-1zM238 11h1v1h-1zM242 11h4v1h-4zM253 11h1v1h-1zM276 11h2v1h-2zM294 11h1v1h-1zM298 11h1v1h-1zM313 11h2v1h-2zM245 12h1v1h-1zM281 12h1v1h-1zM113 13h1v1h-1zM225 13h1v1h-1zM263 13h1v1h-1zM281 13h1v1h-1zM311 13h2v1h-2zM315 13h1v1h-1zM60 14h1v1h-1zM74 14h1v1h-1zM227 14h2v1h-2zM262 14h1v1h-1zM306 14h1v1h-1zM250 15h1v1h-1zM283 15h1v1h-1zM306 15h1v1h-1zM130 16h1v1h-1zM136 16h1v1h-1zM141 16h1v1h-1zM152 16h1v1h-1zM229 16h1v1h-1zM244 16h1v1h-1zM268 16h1v1h-1zM277 16h1v1h-1zM287 16h1v1h-1zM290 16h1v1h-1zM315 16h1v1h-1zM60 17h1v1h-1zM292 22h1v1h-1zM60 23h1v1h-1zM187 23h1v1h-1zM73 26h1v1h-1zM100 26h1v1h-1zM122 27h1v1h-1zM146 27h2v1h-2zM209 27h1v1h-1zM144 28h2v1h-2zM149 28h1v1h-1zM211 28h1v1h-1zM155 29h1v1h-1zM261 32h1v1h-1zM282 44h1v1h-1zM197 49h1v1h-1zM217 49h1v1h-1z"/>
<path fill="#19181A" d="M65 0h1v1h-1zM70 0h2v1h-2zM75 0h4v1h-4zM114 0h1v1h-1zM245 0h2v1h-2zM311 1h1v1h-1zM314 1h1v1h-1zM88 2h1v1h-1zM223 2h1v1h-1zM226 2h3v1h-3zM67 4h1v1h-1zM201 4h2v1h-2zM235 4h2v1h-2zM238 4h1v1h-1zM87 5h2v1h-2zM153 5h1v1h-1zM229 5h3v1h-3zM235 5h1v1h-1zM104 6h1v1h-1zM110 6h1v1h-1zM237 6h2v1h-2zM277 6h1v1h-1zM227 7h1v1h-1zM229 7h1v1h-1zM246 7h1v1h-1zM252 7h1v1h-1zM275 7h1v1h-1zM286 7h1v1h-1zM308 7h2v1h-2zM221 8h1v1h-1zM248 8h2v1h-2zM260 8h1v1h-1zM284 8h1v1h-1zM312 8h1v1h-1zM206 9h1v1h-1zM313 9h1v1h-1zM260 10h1v1h-1zM273 10h1v1h-1zM278 10h1v1h-1zM313 10h3v1h-3zM60 11h1v1h-1zM66 11h2v1h-2zM229 11h1v1h-1zM254 11h1v1h-1zM281 11h1v1h-1zM250 12h1v1h-1zM282 12h1v1h-1zM60 13h1v1h-1zM88 13h1v1h-1zM236 13h2v1h-2zM277 13h1v1h-1zM282 13h1v1h-1zM75 14h1v1h-1zM224 14h1v1h-1zM282 14h2v1h-2zM228 15h2v1h-2zM251 15h1v1h-1zM282 15h1v1h-1zM142 16h1v1h-1zM275 16h1v1h-1zM293 22h1v1h-1zM62 26h1v1h-1zM66 26h2v1h-2zM98 26h1v1h-1zM158 26h1v1h-1zM184 26h1v1h-1zM123 27h1v1h-1zM128 28h2v1h-2zM163 28h1v1h-1zM201 28h1v1h-1zM212 28h1v1h-1zM129 29h2v1h-2zM148 29h1v1h-1zM158 29h2v1h-2zM200 29h2v1h-2zM214 29h1v1h-1zM262 32h1v1h-1z"/>
</g>
<rect x="115.65" y="127.7" width="1.1" height="294.8" fill="#928FA0"/>
<rect x="153.05" y="127.7" width="1.1" height="294.8" fill="#928FA0"/>
<rect x="190.3" y="127.7" width="1.1" height="294.8" fill="#928FA0"/>
<rect x="222.1" y="127.7" width="1.1" height="294.8" fill="#928FA0"/>
<rect x="245.05" y="127.7" width="1.1" height="294.8" fill="#928FA0"/>
<rect x="263.7" y="127.7" width="1.1" height="294.8" fill="#928FA0"/>
<rect x="273.75" y="127.7" width="1.1" height="294.8" fill="#928FA0"/>
<rect x="283.7" y="127.7" width="1.1" height="294.8" fill="#928FA0"/>
<rect x="292.05" y="127.7" width="1.1" height="294.8" fill="#928FA0"/>
<rect x="299.7" y="127.7" width="1.1" height="294.8" fill="#928FA0"/>
<rect x="308.05" y="127.7" width="1.1" height="294.8" fill="#928FA0"/>
<rect x="312.7" y="127.7" width="1.1" height="294.8" fill="#928FA0"/>
<rect x="313.6" y="127.7" width="3" height="294.8" fill="#8A8696" opacity="0.45"/>
<rect x="60" y="117.5" width="55.5" height="5.8" fill="#1B4E96"/>
<rect x="116.9" y="117.5" width="36" height="5.8" fill="#9458AE"/>
<rect x="154.3" y="117.5" width="35.9" height="5.8" fill="#7A9EDE"/>
<rect x="191.5" y="117.5" width="30.5" height="5.8" fill="#2A94BA"/>
<rect x="223.3" y="117.5" width="21.7" height="5.8" fill="#7FCAAE"/>
<rect x="246.2" y="117.5" width="17.4" height="5.8" fill="#3AAE48"/>
<rect x="264.9" y="117.5" width="8.8" height="5.8" fill="#A8CF48"/>
<rect x="274.9" y="117.5" width="8.7" height="5.8" fill="#EEE23A"/>
<rect x="284.9" y="117.5" width="7.1" height="5.8" fill="#F6A454"/>
<rect x="293.2" y="117.5" width="6.4" height="5.8" fill="#EE7B7B"/>
<rect x="300.9" y="117.5" width="7.1" height="5.8" fill="#E51C23"/>
<rect x="309.2" y="117.5" width="3.7" height="5.8" fill="#A81C32"/>
<rect x="313.6" y="117.5" width="3" height="5.8" fill="#E6C6C0"/>
<g transform="translate(319.9 0) scale(1.615 1)" font-size="6.3" fill="#3A3A3A" stroke="#3A3A3A" stroke-width="0.12">
<text x="0" y="133.15">SLC35F1</text>
<text x="0" y="139.21">MYH4</text>
<text x="0" y="145.27">LOC106504743</text>
<text x="0" y="151.32">ENPEP</text>
<text x="0" y="157.38">LOC102166036</text>
<text x="0" y="163.44">GPR137C</text>
<text x="0" y="169.5">LOC106510491</text>
<text x="0" y="175.56">KLHL13</text>
<text x="0" y="181.62">LOC110260015</text>
<text x="0" y="187.68">ERC2</text>
<text x="0" y="193.73">HTR1E</text>
<text x="0" y="199.79">LOC110256651</text>
<text x="0" y="205.85">SLC25A21</text>
<text x="0" y="211.85">LOC110262158</text>
<text x="0" y="217.85">LOC110255424</text>
<text x="0" y="223.85">nC2H11orf80</text>
<text x="0" y="229.85">LOC110255507</text>
<text x="0" y="235.85">LOC106509194</text>
<text x="0" y="241.85">STOX1</text>
<text x="0" y="247.85">DNAH14</text>
<text x="0" y="253.85">LOC110260189</text>
<text x="0" y="259.85">LOC100622606</text>
<text x="0" y="265.85">LUZP2</text>
<text x="0" y="271.85">OC102165543</text>
<text x="0" y="277.85">GLB1</text>
<text x="0" y="283.77">SLCO1C1</text>
<text x="0" y="289.68">LOC100155289</text>
<text x="0" y="295.6">PDGFD</text>
<text x="0" y="301.51">PPM1L</text>
<text x="0" y="307.43">LOC110257764</text>
<text x="0" y="313.34">NHSL1</text>
<text x="0" y="319.26">ARFGEF3</text>
<text x="0" y="325.17">ZNF804B</text>
<text x="0" y="331.09">PRKCH</text>
<text x="0" y="337">PPP3CA</text>
<text x="0" y="342.92">NCKAP5</text>
<text x="0" y="348.83">LOC102167132</text>
<text x="0" y="354.75">CSMD1</text>
<text x="0" y="360.52">PJA2</text>
<text x="0" y="366.28">LOC110257064</text>
<text x="0" y="372.05">LRMDA</text>
<text x="0" y="377.82">CCDC168</text>
<text x="0" y="383.58">LOC106507939</text>
<text x="0" y="389.35">LOC110255744</text>
<text x="0" y="395.07">LOC106508926</text>
<text x="0" y="400.78">SVOP</text>
<text x="0" y="406.5">CCDC150</text>
<text x="0" y="412.22">PRM1</text>
<text x="0" y="417.93">TNP1</text>
<text x="0" y="423.65">TNP2</text>
</g>
<line x1="32.2" y1="131.3" x2="53.6" y2="131.3" stroke="#707070" stroke-width="1"/>
<line x1="32.7" y1="137.17" x2="53.6" y2="137.17" stroke="#707070" stroke-width="1"/>
<line x1="33.3" y1="143.04" x2="53.6" y2="143.04" stroke="#707070" stroke-width="1"/>
<line x1="33.3" y1="148.91" x2="53.6" y2="148.91" stroke="#707070" stroke-width="1"/>
<line x1="32.5" y1="154.78" x2="53.6" y2="154.78" stroke="#707070" stroke-width="1"/>
<line x1="32.5" y1="160.66" x2="53.6" y2="160.66" stroke="#707070" stroke-width="1"/>
<line x1="31.6" y1="166.53" x2="53.6" y2="166.53" stroke="#707070" stroke-width="1"/>
<line x1="30.5" y1="172.4" x2="53.6" y2="172.4" stroke="#707070" stroke-width="1"/>
<line x1="33.3" y1="178.27" x2="53.6" y2="178.27" stroke="#707070" stroke-width="1"/>
<line x1="32.7" y1="184.14" x2="53.6" y2="184.14" stroke="#707070" stroke-width="1"/>
<line x1="32.7" y1="190.01" x2="53.6" y2="190.01" stroke="#707070" stroke-width="1"/>
<line x1="32.7" y1="195.88" x2="53.6" y2="195.88" stroke="#707070" stroke-width="1"/>
<line x1="32.7" y1="201.75" x2="53.6" y2="201.75" stroke="#707070" stroke-width="1"/>
<line x1="32.5" y1="207.62" x2="53.6" y2="207.62" stroke="#707070" stroke-width="1"/>
<line x1="31.4" y1="213.49" x2="53.6" y2="213.49" stroke="#707070" stroke-width="1"/>
<line x1="31.4" y1="219.37" x2="53.6" y2="219.37" stroke="#707070" stroke-width="1"/>
<line x1="28.9" y1="225.24" x2="53.6" y2="225.24" stroke="#707070" stroke-width="1"/>
<line x1="36.6" y1="231.11" x2="53.6" y2="231.11" stroke="#707070" stroke-width="1"/>
<line x1="36.6" y1="236.98" x2="53.6" y2="236.98" stroke="#707070" stroke-width="1"/>
<line x1="36.6" y1="242.85" x2="53.6" y2="242.85" stroke="#707070" stroke-width="1"/>
<line x1="36.6" y1="248.72" x2="53.6" y2="248.72" stroke="#707070" stroke-width="1"/>
<line x1="36.1" y1="254.59" x2="53.6" y2="254.59" stroke="#707070" stroke-width="1"/>
<line x1="35.5" y1="260.46" x2="53.6" y2="260.46" stroke="#707070" stroke-width="1"/>
<line x1="35" y1="266.33" x2="53.6" y2="266.33" stroke="#707070" stroke-width="1"/>
<line x1="37.7" y1="272.2" x2="53.6" y2="272.2" stroke="#707070" stroke-width="1"/>
<line x1="37.7" y1="278.08" x2="53.6" y2="278.08" stroke="#707070" stroke-width="1"/>
<line x1="36" y1="283.95" x2="53.6" y2="283.95" stroke="#707070" stroke-width="1"/>
<line x1="32.7" y1="289.82" x2="53.6" y2="289.82" stroke="#707070" stroke-width="1"/>
<line x1="31.4" y1="295.69" x2="53.6" y2="295.69" stroke="#707070" stroke-width="1"/>
<line x1="31.6" y1="301.56" x2="53.6" y2="301.56" stroke="#707070" stroke-width="1"/>
<line x1="31.6" y1="307.43" x2="53.6" y2="307.43" stroke="#707070" stroke-width="1"/>
<line x1="30.5" y1="313.3" x2="53.6" y2="313.3" stroke="#707070" stroke-width="1"/>
<line x1="30.3" y1="319.17" x2="53.6" y2="319.17" stroke="#707070" stroke-width="1"/>
<line x1="33.8" y1="325.04" x2="53.6" y2="325.04" stroke="#707070" stroke-width="1"/>
<line x1="33.8" y1="330.91" x2="53.6" y2="330.91" stroke="#707070" stroke-width="1"/>
<line x1="33.5" y1="336.79" x2="53.6" y2="336.79" stroke="#707070" stroke-width="1"/>
<line x1="33" y1="342.66" x2="53.6" y2="342.66" stroke="#707070" stroke-width="1"/>
<line x1="33" y1="348.53" x2="53.6" y2="348.53" stroke="#707070" stroke-width="1"/>
<line x1="33" y1="354.4" x2="53.6" y2="354.4" stroke="#707070" stroke-width="1"/>
<line x1="33.5" y1="360.27" x2="53.6" y2="360.27" stroke="#707070" stroke-width="1"/>
<line x1="32" y1="366.14" x2="53.6" y2="366.14" stroke="#707070" stroke-width="1"/>
<line x1="32" y1="372.01" x2="53.6" y2="372.01" stroke="#707070" stroke-width="1"/>
<line x1="32" y1="377.88" x2="53.6" y2="377.88" stroke="#707070" stroke-width="1"/>
<line x1="32" y1="383.75" x2="53.6" y2="383.75" stroke="#707070" stroke-width="1"/>
<line x1="37.2" y1="389.62" x2="53.6" y2="389.62" stroke="#707070" stroke-width="1"/>
<line x1="37.2" y1="395.5" x2="53.6" y2="395.5" stroke="#707070" stroke-width="1"/>
<line x1="32.8" y1="401.37" x2="53.6" y2="401.37" stroke="#707070" stroke-width="1"/>
<line x1="32.8" y1="407.24" x2="53.6" y2="407.24" stroke="#707070" stroke-width="1"/>
<line x1="30.5" y1="413.11" x2="53.6" y2="413.11" stroke="#707070" stroke-width="1"/>
<line x1="33.5" y1="418.98" x2="53.6" y2="418.98" stroke="#707070" stroke-width="1"/>
<line x1="23.9" y1="239.91" x2="26.6" y2="239.91" stroke="#666" stroke-width="0.9"/>
<line x1="23.9" y1="380.23" x2="26.8" y2="380.23" stroke="#666" stroke-width="0.9"/>
<line x1="26.6" y1="207.04" x2="28.1" y2="207.04" stroke="#666" stroke-width="0.9"/>
<line x1="26.6" y1="274.55" x2="32.7" y2="274.55" stroke="#666" stroke-width="0.9"/>
<line x1="26.8" y1="346.18" x2="29.2" y2="346.18" stroke="#666" stroke-width="0.9"/>
<line x1="32.2" y1="131.3" x2="32.2" y2="137.17" stroke="#666" stroke-width="0.9"/>
<line x1="33.3" y1="143.04" x2="33.3" y2="148.91" stroke="#666" stroke-width="0.9"/>
<line x1="32" y1="134.24" x2="32" y2="145.98" stroke="#666" stroke-width="0.9"/>
<line x1="32.5" y1="154.78" x2="32.5" y2="160.66" stroke="#666" stroke-width="0.9"/>
<line x1="31.6" y1="140.11" x2="31.6" y2="166.53" stroke="#666" stroke-width="0.9"/>
<line x1="30.5" y1="151.85" x2="30.5" y2="172.4" stroke="#666" stroke-width="0.9"/>
<line x1="33.3" y1="178.27" x2="33.3" y2="184.14" stroke="#666" stroke-width="0.9"/>
<line x1="32.7" y1="181.2" x2="32.7" y2="201.75" stroke="#666" stroke-width="0.9"/>
<line x1="32.5" y1="201.75" x2="32.5" y2="207.62" stroke="#666" stroke-width="0.9"/>
<line x1="31.4" y1="207.62" x2="31.4" y2="219.37" stroke="#666" stroke-width="0.9"/>
<line x1="30.6" y1="190.01" x2="30.6" y2="213.49" stroke="#666" stroke-width="0.9"/>
<line x1="29.4" y1="163.59" x2="29.4" y2="201.75" stroke="#666" stroke-width="0.9"/>
<line x1="28.1" y1="187.07" x2="28.1" y2="225.24" stroke="#666" stroke-width="0.9"/>
<line x1="36.6" y1="231.11" x2="36.6" y2="248.72" stroke="#666" stroke-width="0.9"/>
<line x1="36.1" y1="236.98" x2="36.1" y2="254.59" stroke="#666" stroke-width="0.9"/>
<line x1="35.5" y1="242.85" x2="35.5" y2="260.46" stroke="#666" stroke-width="0.9"/>
<line x1="35" y1="248.72" x2="35" y2="266.33" stroke="#666" stroke-width="0.9"/>
<line x1="37.7" y1="272.2" x2="37.7" y2="278.08" stroke="#666" stroke-width="0.9"/>
<line x1="36.6" y1="275.14" x2="36.6" y2="283.95" stroke="#666" stroke-width="0.9"/>
<line x1="34.8" y1="257.53" x2="34.8" y2="281.01" stroke="#666" stroke-width="0.9"/>
<line x1="32.7" y1="266.33" x2="32.7" y2="289.82" stroke="#666" stroke-width="0.9"/>
<line x1="26.6" y1="207.04" x2="26.6" y2="274.55" stroke="#666" stroke-width="0.9"/>
<line x1="31.4" y1="289.82" x2="31.4" y2="295.69" stroke="#666" stroke-width="0.9"/>
<line x1="31.6" y1="295.69" x2="31.6" y2="301.56" stroke="#666" stroke-width="0.9"/>
<line x1="30.5" y1="298.62" x2="30.5" y2="313.3" stroke="#666" stroke-width="0.9"/>
<line x1="30.3" y1="304.49" x2="30.3" y2="319.17" stroke="#666" stroke-width="0.9"/>
<line x1="33.8" y1="325.04" x2="33.8" y2="330.91" stroke="#666" stroke-width="0.9"/>
<line x1="33.5" y1="327.98" x2="33.5" y2="336.79" stroke="#666" stroke-width="0.9"/>
<line x1="33" y1="330.91" x2="33" y2="354.4" stroke="#666" stroke-width="0.9"/>
<line x1="32" y1="342.66" x2="32" y2="383.75" stroke="#666" stroke-width="0.9"/>
<line x1="37.2" y1="389.62" x2="37.2" y2="395.5" stroke="#666" stroke-width="0.9"/>
<line x1="32.8" y1="383.75" x2="32.8" y2="407.24" stroke="#666" stroke-width="0.9"/>
<line x1="30.5" y1="366.14" x2="30.5" y2="413.11" stroke="#666" stroke-width="0.9"/>
<line x1="33.5" y1="413.11" x2="33.5" y2="418.98" stroke="#666" stroke-width="0.9"/>
<line x1="32" y1="416.04" x2="32" y2="418.98" stroke="#666" stroke-width="0.9"/>
<line x1="29.2" y1="302.15" x2="29.2" y2="401.37" stroke="#666" stroke-width="0.9"/>
<line x1="26.8" y1="346.18" x2="26.8" y2="414.87" stroke="#666" stroke-width="0.9"/>
<line x1="23.9" y1="239.91" x2="23.9" y2="380.23" stroke="#666" stroke-width="0.9"/>
<text x="389.3" y="124.1" font-size="9.1" text-anchor="start" fill="#111" stroke="#111" stroke-width="0.2">Gene expression</text>
<text x="475.2" y="124.1" font-size="9.1" text-anchor="start" fill="#111" stroke="#111" stroke-width="0.2">Identity</text>
<defs><linearGradient id="cb" x1="0" y1="0" x2="0" y2="1"><stop offset="0" stop-color="#E6E010"/><stop offset="0.1" stop-color="#B4B030"/><stop offset="0.2" stop-color="#8E8A38"/><stop offset="0.3" stop-color="#6A6830"/><stop offset="0.4" stop-color="#383822"/><stop offset="0.5" stop-color="#141416"/><stop offset="0.6" stop-color="#241838"/><stop offset="0.7" stop-color="#3A2460"/><stop offset="0.8" stop-color="#56309A"/><stop offset="0.9" stop-color="#6A3CAA"/><stop offset="1" stop-color="#8250B8"/></linearGradient></defs>
<rect x="405.3" y="128.5" width="20.5" height="100.9" fill="url(#cb)"/>
<line x1="405.3" y1="139.5" x2="409.3" y2="139.5" stroke="#fff" stroke-width="0.9" opacity="0.8"/>
<line x1="421.8" y1="139.5" x2="425.8" y2="139.5" stroke="#fff" stroke-width="0.9" opacity="0.8"/>
<text x="431" y="144.1" font-size="10" text-anchor="start" fill="#111" stroke="#111" stroke-width="0.2">2</text>
<line x1="405.3" y1="159.5" x2="409.3" y2="159.5" stroke="#fff" stroke-width="0.9" opacity="0.8"/>
<line x1="421.8" y1="159.5" x2="425.8" y2="159.5" stroke="#fff" stroke-width="0.9" opacity="0.8"/>
<text x="431" y="164.1" font-size="10" text-anchor="start" fill="#111" stroke="#111" stroke-width="0.2">1</text>
<line x1="405.3" y1="179.6" x2="409.3" y2="179.6" stroke="#fff" stroke-width="0.9" opacity="0.8"/>
<line x1="421.8" y1="179.6" x2="425.8" y2="179.6" stroke="#fff" stroke-width="0.9" opacity="0.8"/>
<text x="431" y="184.2" font-size="10" text-anchor="start" fill="#111" stroke="#111" stroke-width="0.2">0</text>
<line x1="405.3" y1="199.7" x2="409.3" y2="199.7" stroke="#fff" stroke-width="0.9" opacity="0.8"/>
<line x1="421.8" y1="199.7" x2="425.8" y2="199.7" stroke="#fff" stroke-width="0.9" opacity="0.8"/>
<text x="431" y="204.3" font-size="10" text-anchor="start" fill="#111" stroke="#111" stroke-width="0.2">−1</text>
<line x1="405.3" y1="219.8" x2="409.3" y2="219.8" stroke="#fff" stroke-width="0.9" opacity="0.8"/>
<line x1="421.8" y1="219.8" x2="425.8" y2="219.8" stroke="#fff" stroke-width="0.9" opacity="0.8"/>
<text x="431" y="224.4" font-size="10" text-anchor="start" fill="#111" stroke="#111" stroke-width="0.2">−2</text>
<rect x="474.2" y="135.2" width="7.2" height="7.2" fill="#1B4E96"/>
<text x="492.8" y="142.4" font-size="10" text-anchor="start" fill="#111" stroke="#111" stroke-width="0.2">0</text>
<rect x="474.2" y="151.44" width="7.2" height="7.2" fill="#9458AE"/>
<text x="492.8" y="158.64" font-size="10" text-anchor="start" fill="#111" stroke="#111" stroke-width="0.2">1</text>
<rect x="474.2" y="167.68" width="7.2" height="7.2" fill="#7A9EDE"/>
<text x="492.8" y="174.88" font-size="10" text-anchor="start" fill="#111" stroke="#111" stroke-width="0.2">2</text>
<rect x="474.2" y="183.92" width="7.2" height="7.2" fill="#2A94BA"/>
<text x="492.8" y="191.12" font-size="10" text-anchor="start" fill="#111" stroke="#111" stroke-width="0.2">3</text>
<rect x="474.2" y="200.16" width="7.2" height="7.2" fill="#7FCAAE"/>
<text x="492.8" y="207.36" font-size="10" text-anchor="start" fill="#111" stroke="#111" stroke-width="0.2">4</text>
<rect x="474.2" y="216.4" width="7.2" height="7.2" fill="#3AAE48"/>
<text x="492.8" y="223.6" font-size="10" text-anchor="start" fill="#111" stroke="#111" stroke-width="0.2">5</text>
<rect x="474.2" y="232.64" width="7.2" height="7.2" fill="#A8CF48"/>
<text x="492.8" y="239.84" font-size="10" text-anchor="start" fill="#111" stroke="#111" stroke-width="0.2">6</text>
<rect x="474.2" y="248.88" width="7.2" height="7.2" fill="#EEE23A"/>
<text x="492.8" y="256.08" font-size="10" text-anchor="start" fill="#111" stroke="#111" stroke-width="0.2">7</text>
<rect x="474.2" y="265.12" width="7.2" height="7.2" fill="#F6A454"/>
<text x="492.8" y="272.32" font-size="10" text-anchor="start" fill="#111" stroke="#111" stroke-width="0.2">8</text>
<rect x="474.2" y="281.36" width="7.2" height="7.2" fill="#EE7B7B"/>
<text x="492.8" y="288.56" font-size="10" text-anchor="start" fill="#111" stroke="#111" stroke-width="0.2">9</text>
<rect x="474.2" y="297.6" width="7.2" height="7.2" fill="#E51C23"/>
<text x="492.8" y="304.8" font-size="10" text-anchor="start" fill="#111" stroke="#111" stroke-width="0.2">10</text>
<rect x="474.2" y="313.84" width="7.2" height="7.2" fill="#A81C32"/>
<text x="492.8" y="321.04" font-size="10" text-anchor="start" fill="#111" stroke="#111" stroke-width="0.2">11</text>
<rect x="474.2" y="330.08" width="7.2" height="7.2" fill="#A8888E"/>
<text x="492.8" y="337.28" font-size="10" text-anchor="start" fill="#111" stroke="#111" stroke-width="0.2">12</text>
<rect x="474.2" y="346.32" width="7.2" height="7.2" fill="#C8906E"/>
<text x="492.8" y="353.52" font-size="10" text-anchor="start" fill="#111" stroke="#111" stroke-width="0.2">13</text>
<text x="4.9" y="126.8" font-size="13.9" text-anchor="start" fill="#000" stroke="#000" stroke-width="0.2">B</text>
<line x1="49.6" y1="509.75" x2="217" y2="509.75" stroke="#E6E6E6" stroke-width="0.9"/>
<line x1="49.6" y1="493.9" x2="217" y2="493.9" stroke="#E6E6E6" stroke-width="0.9"/>
<line x1="49.6" y1="478.05" x2="217" y2="478.05" stroke="#E6E6E6" stroke-width="0.9"/>
<line x1="49.6" y1="462.2" x2="217" y2="462.2" stroke="#E6E6E6" stroke-width="0.9"/>
<line x1="49.6" y1="446.35" x2="217" y2="446.35" stroke="#E6E6E6" stroke-width="0.9"/>
<text x="0" y="0" font-size="9.2" text-anchor="middle" fill="#111" stroke="#111" stroke-width="0.25" transform="translate(32.4 483.3) rotate(-90)">Expression level</text>
<text x="41.6" y="528.9" font-size="9.3" text-anchor="middle" fill="#111" stroke="#111" stroke-width="0.2">0</text>
<line x1="46.9" y1="525.6" x2="49.1" y2="525.6" stroke="#000" stroke-width="1"/>
<text x="41.6" y="497.2" font-size="9.3" text-anchor="middle" fill="#111" stroke="#111" stroke-width="0.2">20</text>
<line x1="46.9" y1="493.9" x2="49.1" y2="493.9" stroke="#000" stroke-width="1"/>
<text x="41.6" y="465.5" font-size="9.3" text-anchor="middle" fill="#111" stroke="#111" stroke-width="0.2">40</text>
<line x1="46.9" y1="462.2" x2="49.1" y2="462.2" stroke="#000" stroke-width="1"/>
<text x="129.8" y="434.6" font-size="7" fill="#222" font-style="italic">STOX1</text>
<text x="4.8" y="438.6" font-size="13.4" text-anchor="start" fill="#000" stroke="#000" stroke-width="0.2">D</text>
<line x1="48.8" y1="526.5" x2="217.5" y2="526.5" stroke="#000" stroke-width="1.6"/>
<rect x="50.3" y="524.5" width="9.4" height="1.6" fill="#F2A83A"/>
<line x1="55" y1="525.6" x2="55" y2="479.64" stroke="#F2A83A" stroke-width="1.2"/>
<line x1="55" y1="525.6" x2="55" y2="482.81" stroke="#555555" stroke-width="1.6"/>
<circle cx="55" cy="526.1" r="0.7" fill="#fff"/>
<text x="55" y="536.1" font-size="9.3" text-anchor="middle" fill="#111" stroke="#111" stroke-width="0.2">0</text>
<line x1="55" y1="527.2" x2="55" y2="528.6" stroke="#333" stroke-width="1"/>
<rect x="62.35" y="524.5" width="9.4" height="1.6" fill="#5BC5EE"/>
<polygon points="63.05,525.6 62.8,524.33 64.05,522.43 65.3,520.05 65.95,517.68 66.25,514.5 67.85,514.5 68.15,517.68 68.8,520.05 70.05,522.43 71.3,524.33 71.05,525.6" fill="#5BC5EE"/>
<line x1="67.05" y1="525.6" x2="67.05" y2="478.05" stroke="#5BC5EE" stroke-width="1.2"/>
<line x1="67.05" y1="525.6" x2="67.05" y2="514.5" stroke="#555555" stroke-width="1.6"/>
<rect x="65.45" y="519.26" width="3.2" height="5.55" rx="1.3" fill="#4A4A4A"/>
<circle cx="67.05" cy="523.22" r="1.1" fill="#fff"/>
<circle cx="67.05" cy="526.1" r="0.7" fill="#fff"/>
<text x="67.05" y="536.1" font-size="9.3" text-anchor="middle" fill="#111" stroke="#111" stroke-width="0.2">1</text>
<line x1="67.05" y1="527.2" x2="67.05" y2="528.6" stroke="#333" stroke-width="1"/>
<rect x="74.4" y="524.5" width="9.4" height="1.6" fill="#E8393F"/>
<line x1="79.1" y1="525.6" x2="79.1" y2="473.3" stroke="#E8393F" stroke-width="1.2"/>
<line x1="79.1" y1="525.6" x2="79.1" y2="474.88" stroke="#555555" stroke-width="1.6"/>
<circle cx="79.1" cy="526.1" r="0.7" fill="#fff"/>
<text x="79.1" y="536.1" font-size="9.3" text-anchor="middle" fill="#111" stroke="#111" stroke-width="0.2">2</text>
<line x1="79.1" y1="527.2" x2="79.1" y2="528.6" stroke="#333" stroke-width="1"/>
<rect x="86.45" y="524.5" width="9.4" height="1.6" fill="#2EAD70"/>
<line x1="91.15" y1="525.6" x2="91.15" y2="503.41" stroke="#2EAD70" stroke-width="1.2"/>
<line x1="91.15" y1="525.6" x2="91.15" y2="505" stroke="#555555" stroke-width="1.6"/>
<circle cx="91.15" cy="526.1" r="0.7" fill="#fff"/>
<text x="91.15" y="536.1" font-size="9.3" text-anchor="middle" fill="#111" stroke="#111" stroke-width="0.2">3</text>
<line x1="91.15" y1="527.2" x2="91.15" y2="528.6" stroke="#333" stroke-width="1"/>
<rect x="98.5" y="524.5" width="9.4" height="1.6" fill="#F5EA3A"/>
<polygon points="101.7,525.6 100.2,524.33 98.7,520.85 98.45,516.09 99.2,511.34 100.7,505 101.5,498.66 102,485.98 104.4,485.98 104.9,498.66 105.7,505 107.2,511.34 107.95,516.09 107.7,520.85 106.2,524.33 104.7,525.6" fill="#F5EA3A"/>
<line x1="103.2" y1="525.6" x2="103.2" y2="430.5" stroke="#F5EA3A" stroke-width="1.6"/>
<line x1="103.2" y1="525.6" x2="103.2" y2="489.15" stroke="#555555" stroke-width="1.6"/>
<rect x="101.7" y="507.37" width="3" height="13.79" rx="1.3" fill="#4A4A4A"/>
<circle cx="103.2" cy="515.61" r="1.1" fill="#fff"/>
<circle cx="103.2" cy="526.1" r="0.7" fill="#fff"/>
<text x="103.2" y="536.1" font-size="9.3" text-anchor="middle" fill="#111" stroke="#111" stroke-width="0.2">4</text>
<line x1="103.2" y1="527.2" x2="103.2" y2="528.6" stroke="#333" stroke-width="1"/>
<rect x="110.55" y="524.5" width="9.4" height="1.6" fill="#A3268F"/>
<line x1="115.25" y1="525.6" x2="115.25" y2="495.49" stroke="#A3268F" stroke-width="1.2"/>
<line x1="115.25" y1="525.6" x2="115.25" y2="497.07" stroke="#555555" stroke-width="1.6"/>
<circle cx="115.25" cy="526.1" r="0.7" fill="#fff"/>
<text x="115.25" y="536.1" font-size="9.3" text-anchor="middle" fill="#111" stroke="#111" stroke-width="0.2">5</text>
<line x1="115.25" y1="527.2" x2="115.25" y2="528.6" stroke="#333" stroke-width="1"/>
<rect x="122.6" y="524.5" width="9.4" height="1.6" fill="#5CC3A8"/>
<line x1="127.3" y1="525.6" x2="127.3" y2="503.41" stroke="#5CC3A8" stroke-width="1.2"/>
<line x1="127.3" y1="525.6" x2="127.3" y2="504.2" stroke="#555555" stroke-width="1.6"/>
<circle cx="127.3" cy="524.3" r="1.4" fill="#fff" stroke="#444" stroke-width="0.8"/>
<circle cx="127.3" cy="526.1" r="0.7" fill="#fff"/>
<text x="127.3" y="536.1" font-size="9.3" text-anchor="middle" fill="#111" stroke="#111" stroke-width="0.2">6</text>
<line x1="127.3" y1="527.2" x2="127.3" y2="528.6" stroke="#333" stroke-width="1"/>
<rect x="134.65" y="524.5" width="9.4" height="1.6" fill="#F08048"/>
<polygon points="135.1,525.6 134.6,523.22 135.1,520.05 136.1,516.88 137.65,512.13 138.2,506.58 140.5,506.58 141.05,512.13 142.6,516.88 143.6,520.05 144.1,523.22 143.6,525.6" fill="#F08048"/>
<line x1="139.35" y1="525.6" x2="139.35" y2="466.96" stroke="#F08048" stroke-width="2"/>
<line x1="139.35" y1="525.6" x2="139.35" y2="498.66" stroke="#555555" stroke-width="1.6"/>
<rect x="137.85" y="513.55" width="3" height="9.83" rx="1.3" fill="#4A4A4A"/>
<circle cx="139.35" cy="521.8" r="1.1" fill="#fff"/>
<circle cx="139.35" cy="526.1" r="0.7" fill="#fff"/>
<text x="139.35" y="536.1" font-size="9.3" text-anchor="middle" fill="#111" stroke="#111" stroke-width="0.2">7</text>
<line x1="139.35" y1="527.2" x2="139.35" y2="528.6" stroke="#333" stroke-width="1"/>
<rect x="146.7" y="524.5" width="9.4" height="1.6" fill="#6A4FA0"/>
<line x1="151.4" y1="525.6" x2="151.4" y2="505" stroke="#6A4FA0" stroke-width="1.2"/>
<line x1="151.4" y1="525.6" x2="151.4" y2="505.79" stroke="#555555" stroke-width="1.6"/>
<circle cx="151.4" cy="526.1" r="0.7" fill="#fff"/>
<text x="151.4" y="536.1" font-size="9.3" text-anchor="middle" fill="#111" stroke="#111" stroke-width="0.2">8</text>
<line x1="151.4" y1="527.2" x2="151.4" y2="528.6" stroke="#333" stroke-width="1"/>
<rect x="158.75" y="524.5" width="9.4" height="1.6" fill="#C5C5E8"/>
<line x1="163.45" y1="525.6" x2="163.45" y2="498.66" stroke="#C5C5E8" stroke-width="1.2"/>
<line x1="163.45" y1="525.6" x2="163.45" y2="500.24" stroke="#555555" stroke-width="1.6"/>
<circle cx="163.45" cy="526.1" r="0.7" fill="#fff"/>
<text x="163.45" y="536.1" font-size="9.3" text-anchor="middle" fill="#111" stroke="#111" stroke-width="0.2">9</text>
<line x1="163.45" y1="527.2" x2="163.45" y2="528.6" stroke="#333" stroke-width="1"/>
<rect x="170.8" y="524.5" width="9.4" height="1.6" fill="#B38CC8"/>
<line x1="175.5" y1="525.6" x2="175.5" y2="506.58" stroke="#B38CC8" stroke-width="1.2"/>
<circle cx="175.5" cy="524.3" r="1.4" fill="#fff" stroke="#444" stroke-width="0.8"/>
<circle cx="175.5" cy="526.1" r="0.7" fill="#fff"/>
<text x="175.5" y="536.1" font-size="9.3" text-anchor="middle" fill="#111" stroke="#111" stroke-width="0.2">10</text>
<line x1="175.5" y1="527.2" x2="175.5" y2="528.6" stroke="#333" stroke-width="1"/>
<rect x="182.85" y="524.5" width="9.4" height="1.6" fill="#F7B0B0"/>
<line x1="187.55" y1="525.6" x2="187.55" y2="502.62" stroke="#F7B0B0" stroke-width="1.2"/>
<line x1="187.55" y1="525.6" x2="187.55" y2="503.41" stroke="#555555" stroke-width="1.6"/>
<circle cx="187.55" cy="526.1" r="0.7" fill="#fff"/>
<text x="187.55" y="536.1" font-size="9.3" text-anchor="middle" fill="#111" stroke="#111" stroke-width="0.2">11</text>
<line x1="187.55" y1="527.2" x2="187.55" y2="528.6" stroke="#333" stroke-width="1"/>
<rect x="194.9" y="524.5" width="9.4" height="1.6" fill="#E5BC94"/>
<line x1="199.6" y1="525.6" x2="199.6" y2="520.85" stroke="#E5BC94" stroke-width="1.2"/>
<line x1="199.6" y1="525.6" x2="199.6" y2="520.85" stroke="#555555" stroke-width="1.6"/>
<circle cx="199.6" cy="526.1" r="0.7" fill="#fff"/>
<text x="199.6" y="536.1" font-size="9.3" text-anchor="middle" fill="#111" stroke="#111" stroke-width="0.2">12</text>
<line x1="199.6" y1="527.2" x2="199.6" y2="528.6" stroke="#333" stroke-width="1"/>
<rect x="206.95" y="524.5" width="9.4" height="1.6" fill="#1F256E"/>
<line x1="211.65" y1="525.6" x2="211.65" y2="518.47" stroke="#1F256E" stroke-width="1.2"/>
<line x1="211.65" y1="525.6" x2="211.65" y2="518.94" stroke="#555555" stroke-width="1.6"/>
<circle cx="211.65" cy="526.1" r="0.7" fill="#fff"/>
<text x="211.65" y="536.1" font-size="9.3" text-anchor="middle" fill="#111" stroke="#111" stroke-width="0.2">13</text>
<line x1="211.65" y1="527.2" x2="211.65" y2="528.6" stroke="#333" stroke-width="1"/>
<line x1="49.1" y1="431" x2="49.1" y2="527.3" stroke="#000" stroke-width="1.3"/>
<rect x="223.9" y="438.5" width="4.2" height="4.2" fill="#F2A83A"/>
<text x="231.2" y="443.53" font-size="9.8" text-anchor="start" fill="#333" stroke="#333" stroke-width="0.2">0</text>
<rect x="223.9" y="451.5" width="4.2" height="4.2" fill="#5BC5EE"/>
<text x="231.2" y="456.53" font-size="9.8" text-anchor="start" fill="#333" stroke="#333" stroke-width="0.2">1</text>
<rect x="223.9" y="464.5" width="4.2" height="4.2" fill="#E8393F"/>
<text x="231.2" y="469.53" font-size="9.8" text-anchor="start" fill="#333" stroke="#333" stroke-width="0.2">2</text>
<rect x="223.9" y="477.5" width="4.2" height="4.2" fill="#2EAD70"/>
<text x="231.2" y="482.53" font-size="9.8" text-anchor="start" fill="#333" stroke="#333" stroke-width="0.2">3</text>
<rect x="223.9" y="490.5" width="4.2" height="4.2" fill="#F5EA3A"/>
<text x="231.2" y="495.53" font-size="9.8" text-anchor="start" fill="#333" stroke="#333" stroke-width="0.2">4</text>
<rect x="223.9" y="503.5" width="4.2" height="4.2" fill="#A3268F"/>
<text x="231.2" y="508.53" font-size="9.8" text-anchor="start" fill="#333" stroke="#333" stroke-width="0.2">5</text>
<rect x="223.9" y="516.5" width="4.2" height="4.2" fill="#5CC3A8"/>
<text x="231.2" y="521.53" font-size="9.8" text-anchor="start" fill="#333" stroke="#333" stroke-width="0.2">6</text>
<rect x="241.5" y="438.5" width="4.2" height="4.2" fill="#F08048"/>
<text x="249" y="443.53" font-size="9.8" text-anchor="start" fill="#333" stroke="#333" stroke-width="0.2">7</text>
<rect x="241.5" y="451.5" width="4.2" height="4.2" fill="#6A4FA0"/>
<text x="249" y="456.53" font-size="9.8" text-anchor="start" fill="#333" stroke="#333" stroke-width="0.2">8</text>
<rect x="241.5" y="464.5" width="4.2" height="4.2" fill="#C5C5E8"/>
<text x="249" y="469.53" font-size="9.8" text-anchor="start" fill="#333" stroke="#333" stroke-width="0.2">9</text>
<rect x="241.5" y="477.5" width="4.2" height="4.2" fill="#B38CC8"/>
<text x="249" y="482.53" font-size="9.8" text-anchor="start" fill="#333" stroke="#333" stroke-width="0.2">10</text>
<rect x="241.5" y="490.5" width="4.2" height="4.2" fill="#F7B0B0"/>
<text x="249" y="495.53" font-size="9.8" text-anchor="start" fill="#333" stroke="#333" stroke-width="0.2">11</text>
<rect x="241.5" y="503.5" width="4.2" height="4.2" fill="#E5BC94"/>
<text x="249" y="508.53" font-size="9.8" text-anchor="start" fill="#333" stroke="#333" stroke-width="0.2">12</text>
<rect x="241.5" y="516.5" width="4.2" height="4.2" fill="#1F256E"/>
<text x="249" y="521.53" font-size="9.8" text-anchor="start" fill="#333" stroke="#333" stroke-width="0.2">13</text>
<line x1="343.7" y1="511.6" x2="507" y2="511.6" stroke="#E6E6E6" stroke-width="0.9"/>
<line x1="343.7" y1="498.9" x2="507" y2="498.9" stroke="#E6E6E6" stroke-width="0.9"/>
<line x1="343.7" y1="486.2" x2="507" y2="486.2" stroke="#E6E6E6" stroke-width="0.9"/>
<line x1="343.7" y1="473.5" x2="507" y2="473.5" stroke="#E6E6E6" stroke-width="0.9"/>
<line x1="343.7" y1="460.8" x2="507" y2="460.8" stroke="#E6E6E6" stroke-width="0.9"/>
<line x1="343.7" y1="448.1" x2="507" y2="448.1" stroke="#E6E6E6" stroke-width="0.9"/>
<line x1="343.7" y1="435.4" x2="507" y2="435.4" stroke="#E6E6E6" stroke-width="0.9"/>
<text x="0" y="0" font-size="9.2" text-anchor="middle" fill="#111" stroke="#111" stroke-width="0.25" transform="translate(329.6 483.3) rotate(-90)">Expression level</text>
<text x="335.9" y="527.6" font-size="9.3" text-anchor="middle" fill="#111" stroke="#111" stroke-width="0.2">0</text>
<line x1="341" y1="524.3" x2="343.2" y2="524.3" stroke="#000" stroke-width="1"/>
<text x="335.9" y="502.2" font-size="9.3" text-anchor="middle" fill="#111" stroke="#111" stroke-width="0.2">5</text>
<line x1="341" y1="498.9" x2="343.2" y2="498.9" stroke="#000" stroke-width="1"/>
<text x="335.9" y="476.8" font-size="9.3" text-anchor="middle" fill="#111" stroke="#111" stroke-width="0.2">10</text>
<line x1="341" y1="473.5" x2="343.2" y2="473.5" stroke="#000" stroke-width="1"/>
<text x="335.9" y="451.4" font-size="9.3" text-anchor="middle" fill="#111" stroke="#111" stroke-width="0.2">15</text>
<line x1="341" y1="448.1" x2="343.2" y2="448.1" stroke="#000" stroke-width="1"/>
<text x="422.9" y="435.1" font-size="7" fill="#222" font-style="italic">PDGFD</text>
<text x="311.6" y="439.8" font-size="13.4" text-anchor="start" fill="#000" stroke="#000" stroke-width="0.2">E</text>
<line x1="342.9" y1="525.2" x2="507.5" y2="525.2" stroke="#000" stroke-width="1.6"/>
<rect x="344.1" y="523.2" width="9.2" height="1.6" fill="#F2A83A"/>
<polygon points="345.7,524.3 346,521.76 346.6,518.2 347.4,513.12 347.8,506.52 349.6,506.52 350,513.12 350.8,518.2 351.4,521.76 351.7,524.3" fill="#F2A83A"/>
<line x1="348.7" y1="524.3" x2="348.7" y2="453.18" stroke="#F2A83A" stroke-width="1.2"/>
<line x1="348.7" y1="524.3" x2="348.7" y2="498.9" stroke="#555555" stroke-width="1.6"/>
<rect x="347.05" y="513.63" width="3.3" height="9.14" rx="1.3" fill="#4A4A4A"/>
<circle cx="348.7" cy="519.73" r="1.1" fill="#fff"/>
<circle cx="348.7" cy="524.8" r="0.7" fill="#fff"/>
<text x="348.7" y="535.8" font-size="9.3" text-anchor="middle" fill="#111" stroke="#111" stroke-width="0.2">0</text>
<line x1="348.7" y1="525.9" x2="348.7" y2="527.3" stroke="#333" stroke-width="1"/>
<rect x="355.9" y="523.2" width="9.2" height="1.6" fill="#5BC5EE"/>
<polygon points="358,524.3 358.5,521.76 359.3,518.2 361.7,518.2 362.5,521.76 363,524.3" fill="#5BC5EE"/>
<line x1="360.5" y1="524.3" x2="360.5" y2="502.46" stroke="#5BC5EE" stroke-width="1.2"/>
<line x1="360.5" y1="524.3" x2="360.5" y2="514.14" stroke="#555555" stroke-width="1.6"/>
<rect x="359" y="517.7" width="3" height="5.08" rx="1.3" fill="#4A4A4A"/>
<circle cx="360.5" cy="524.8" r="0.7" fill="#fff"/>
<text x="360.5" y="535.8" font-size="9.3" text-anchor="middle" fill="#111" stroke="#111" stroke-width="0.2">1</text>
<line x1="360.5" y1="525.9" x2="360.5" y2="527.3" stroke="#333" stroke-width="1"/>
<rect x="367.7" y="523.2" width="9.2" height="1.6" fill="#E8393F"/>
<line x1="372.3" y1="524.3" x2="372.3" y2="492.3" stroke="#E8393F" stroke-width="1.2"/>
<line x1="372.3" y1="524.3" x2="372.3" y2="493.82" stroke="#555555" stroke-width="1.6"/>
<circle cx="372.3" cy="518.71" r="0.9" fill="#E8393F"/>
<circle cx="372.3" cy="524.8" r="0.7" fill="#fff"/>
<text x="372.3" y="535.8" font-size="9.3" text-anchor="middle" fill="#111" stroke="#111" stroke-width="0.2">2</text>
<line x1="372.3" y1="525.9" x2="372.3" y2="527.3" stroke="#333" stroke-width="1"/>
<rect x="379.5" y="523.2" width="9.2" height="1.6" fill="#2EAD70"/>
<line x1="384.1" y1="524.3" x2="384.1" y2="468.42" stroke="#2EAD70" stroke-width="1.2"/>
<line x1="384.1" y1="524.3" x2="384.1" y2="469.94" stroke="#555555" stroke-width="1.6"/>
<circle cx="384.1" cy="518.71" r="0.9" fill="#2EAD70"/>
<circle cx="384.1" cy="524.8" r="0.7" fill="#fff"/>
<text x="384.1" y="535.8" font-size="9.3" text-anchor="middle" fill="#111" stroke="#111" stroke-width="0.2">3</text>
<line x1="384.1" y1="525.9" x2="384.1" y2="527.3" stroke="#333" stroke-width="1"/>
<rect x="391.3" y="523.2" width="9.2" height="1.6" fill="#F5EA3A"/>
<line x1="395.9" y1="524.3" x2="395.9" y2="497.38" stroke="#F5EA3A" stroke-width="1.2"/>
<line x1="395.9" y1="524.3" x2="395.9" y2="498.9" stroke="#555555" stroke-width="1.6"/>
<circle cx="395.9" cy="518.71" r="0.9" fill="#F5EA3A"/>
<circle cx="395.9" cy="524.8" r="0.7" fill="#fff"/>
<text x="395.9" y="535.8" font-size="9.3" text-anchor="middle" fill="#111" stroke="#111" stroke-width="0.2">4</text>
<line x1="395.9" y1="525.9" x2="395.9" y2="527.3" stroke="#333" stroke-width="1"/>
<rect x="403.1" y="523.2" width="9.2" height="1.6" fill="#A3268F"/>
<line x1="407.7" y1="524.3" x2="407.7" y2="468.42" stroke="#A3268F" stroke-width="1.2"/>
<line x1="407.7" y1="524.3" x2="407.7" y2="469.94" stroke="#555555" stroke-width="1.6"/>
<circle cx="407.7" cy="518.71" r="0.9" fill="#A3268F"/>
<circle cx="407.7" cy="524.8" r="0.7" fill="#fff"/>
<text x="407.7" y="535.8" font-size="9.3" text-anchor="middle" fill="#111" stroke="#111" stroke-width="0.2">5</text>
<line x1="407.7" y1="525.9" x2="407.7" y2="527.3" stroke="#333" stroke-width="1"/>
<rect x="414.9" y="523.2" width="9.2" height="1.6" fill="#5CC3A8"/>
<polygon points="415.5,524.3 414.8,520.24 415.25,514.14 417,506.52 418,498.9 418.35,488.74 420.65,488.74 421,498.9 422,506.52 423.75,514.14 424.2,520.24 423.5,524.3" fill="#5CC3A8"/>
<line x1="419.5" y1="524.3" x2="419.5" y2="432.86" stroke="#5CC3A8" stroke-width="2.2"/>
<line x1="419.5" y1="524.3" x2="419.5" y2="473.5" stroke="#555555" stroke-width="1.6"/>
<rect x="417.6" y="502.46" width="3.8" height="21.34" rx="1.3" fill="#4A4A4A"/>
<circle cx="419.5" cy="514.14" r="1.1" fill="#fff"/>
<circle cx="419.5" cy="524.8" r="0.7" fill="#fff"/>
<text x="419.5" y="535.8" font-size="9.3" text-anchor="middle" fill="#111" stroke="#111" stroke-width="0.2">6</text>
<line x1="419.5" y1="525.9" x2="419.5" y2="527.3" stroke="#333" stroke-width="1"/>
<rect x="426.7" y="523.2" width="9.2" height="1.6" fill="#F08048"/>
<line x1="431.3" y1="524.3" x2="431.3" y2="509.06" stroke="#F08048" stroke-width="1.2"/>
<line x1="431.3" y1="524.3" x2="431.3" y2="510.08" stroke="#555555" stroke-width="1.6"/>
<circle cx="431.3" cy="518.71" r="0.9" fill="#F08048"/>
<circle cx="431.3" cy="524.8" r="0.7" fill="#fff"/>
<text x="431.3" y="535.8" font-size="9.3" text-anchor="middle" fill="#111" stroke="#111" stroke-width="0.2">7</text>
<line x1="431.3" y1="525.9" x2="431.3" y2="527.3" stroke="#333" stroke-width="1"/>
<rect x="438.5" y="523.2" width="9.2" height="1.6" fill="#6A4FA0"/>
<line x1="443.1" y1="524.3" x2="443.1" y2="492.3" stroke="#6A4FA0" stroke-width="1.2"/>
<line x1="443.1" y1="524.3" x2="443.1" y2="493.82" stroke="#555555" stroke-width="1.6"/>
<circle cx="443.1" cy="518.71" r="0.9" fill="#6A4FA0"/>
<circle cx="443.1" cy="524.8" r="0.7" fill="#fff"/>
<text x="443.1" y="535.8" font-size="9.3" text-anchor="middle" fill="#111" stroke="#111" stroke-width="0.2">8</text>
<line x1="443.1" y1="525.9" x2="443.1" y2="527.3" stroke="#333" stroke-width="1"/>
<rect x="450.3" y="523.2" width="9.2" height="1.6" fill="#C5C5E8"/>
<polygon points="452.4,524.3 452.8,521.25 453.3,516.68 453.8,513.12 456,513.12 456.5,516.68 457,521.25 457.4,524.3" fill="#C5C5E8"/>
<line x1="454.9" y1="524.3" x2="454.9" y2="468.42" stroke="#C5C5E8" stroke-width="1.2"/>
<line x1="454.9" y1="524.3" x2="454.9" y2="512.62" stroke="#555555" stroke-width="1.6"/>
<rect x="453.1" y="514.65" width="3.6" height="9.14" rx="1.3" fill="#4A4A4A"/>
<circle cx="454.9" cy="524.8" r="0.7" fill="#fff"/>
<text x="454.9" y="535.8" font-size="9.3" text-anchor="middle" fill="#111" stroke="#111" stroke-width="0.2">9</text>
<line x1="454.9" y1="525.9" x2="454.9" y2="527.3" stroke="#333" stroke-width="1"/>
<rect x="462.1" y="523.2" width="9.2" height="1.6" fill="#B38CC8"/>
<polygon points="464.2,524.3 464.6,521.25 465.1,516.68 465.6,514.14 467.8,514.14 468.3,516.68 468.8,521.25 469.2,524.3" fill="#B38CC8"/>
<line x1="466.7" y1="524.3" x2="466.7" y2="497.38" stroke="#B38CC8" stroke-width="1.2"/>
<line x1="466.7" y1="524.3" x2="466.7" y2="514.14" stroke="#555555" stroke-width="1.6"/>
<rect x="464.9" y="515.66" width="3.6" height="8.13" rx="1.3" fill="#4A4A4A"/>
<circle cx="466.7" cy="524.8" r="0.7" fill="#fff"/>
<text x="466.7" y="535.8" font-size="9.3" text-anchor="middle" fill="#111" stroke="#111" stroke-width="0.2">10</text>
<line x1="466.7" y1="525.9" x2="466.7" y2="527.3" stroke="#333" stroke-width="1"/>
<rect x="473.9" y="523.2" width="9.2" height="1.6" fill="#F7B0B0"/>
<line x1="478.5" y1="524.3" x2="478.5" y2="497.38" stroke="#F7B0B0" stroke-width="1.2"/>
<line x1="478.5" y1="524.3" x2="478.5" y2="498.39" stroke="#555555" stroke-width="1.6"/>
<circle cx="478.5" cy="518.71" r="0.9" fill="#F7B0B0"/>
<circle cx="478.5" cy="524.8" r="0.7" fill="#fff"/>
<text x="478.5" y="535.8" font-size="9.3" text-anchor="middle" fill="#111" stroke="#111" stroke-width="0.2">11</text>
<line x1="478.5" y1="525.9" x2="478.5" y2="527.3" stroke="#333" stroke-width="1"/>
<rect x="485.7" y="523.2" width="9.2" height="1.6" fill="#E5BC94"/>
<line x1="490.3" y1="524.3" x2="490.3" y2="492.3" stroke="#E5BC94" stroke-width="1.2"/>
<line x1="490.3" y1="524.3" x2="490.3" y2="493.82" stroke="#555555" stroke-width="1.6"/>
<circle cx="490.3" cy="518.71" r="0.9" fill="#E5BC94"/>
<circle cx="490.3" cy="524.8" r="0.7" fill="#fff"/>
<text x="490.3" y="535.8" font-size="9.3" text-anchor="middle" fill="#111" stroke="#111" stroke-width="0.2">12</text>
<line x1="490.3" y1="525.9" x2="490.3" y2="527.3" stroke="#333" stroke-width="1"/>
<rect x="497.5" y="523.2" width="9.2" height="1.6" fill="#1F256E"/>
<polygon points="497.6,524.3 499.1,522.27 500.35,519.22 501,514.14 501.3,509.06 502.9,509.06 503.2,514.14 503.85,519.22 505.1,522.27 506.6,524.3" fill="#1F256E"/>
<line x1="502.1" y1="524.3" x2="502.1" y2="502.96" stroke="#1F256E" stroke-width="1.2"/>
<line x1="502.1" y1="524.3" x2="502.1" y2="516.68" stroke="#555555" stroke-width="1.6"/>
<rect x="500.6" y="520.24" width="3" height="3.56" rx="1.3" fill="#4A4A4A"/>
<circle cx="502.1" cy="524.8" r="0.7" fill="#fff"/>
<text x="502.1" y="535.8" font-size="9.3" text-anchor="middle" fill="#111" stroke="#111" stroke-width="0.2">13</text>
<line x1="502.1" y1="525.9" x2="502.1" y2="527.3" stroke="#333" stroke-width="1"/>
<line x1="343.2" y1="432.6" x2="343.2" y2="526" stroke="#000" stroke-width="1.3"/>
<rect x="509.7" y="437.9" width="4.2" height="4.2" fill="#F2A83A"/>
<text x="517.1" y="443.33" font-size="9.8" text-anchor="start" fill="#333" stroke="#333" stroke-width="0.2">0</text>
<rect x="509.7" y="450.93" width="4.2" height="4.2" fill="#5BC5EE"/>
<text x="517.1" y="456.36" font-size="9.8" text-anchor="start" fill="#333" stroke="#333" stroke-width="0.2">1</text>
<rect x="509.7" y="463.96" width="4.2" height="4.2" fill="#E8393F"/>
<text x="517.1" y="469.39" font-size="9.8" text-anchor="start" fill="#333" stroke="#333" stroke-width="0.2">2</text>
<rect x="509.7" y="476.99" width="4.2" height="4.2" fill="#2EAD70"/>
<text x="517.1" y="482.42" font-size="9.8" text-anchor="start" fill="#333" stroke="#333" stroke-width="0.2">3</text>
<rect x="509.7" y="490.02" width="4.2" height="4.2" fill="#F5EA3A"/>
<text x="517.1" y="495.45" font-size="9.8" text-anchor="start" fill="#333" stroke="#333" stroke-width="0.2">4</text>
<rect x="509.7" y="503.05" width="4.2" height="4.2" fill="#A3268F"/>
<text x="517.1" y="508.48" font-size="9.8" text-anchor="start" fill="#333" stroke="#333" stroke-width="0.2">5</text>
<rect x="509.7" y="516.08" width="4.2" height="4.2" fill="#5CC3A8"/>
<text x="517.1" y="521.51" font-size="9.8" text-anchor="start" fill="#333" stroke="#333" stroke-width="0.2">6</text>
<rect x="526.9" y="437.9" width="4.2" height="4.2" fill="#F08048"/>
<text x="534.3" y="443.33" font-size="9.8" text-anchor="start" fill="#333" stroke="#333" stroke-width="0.2">7</text>
<rect x="526.9" y="450.93" width="4.2" height="4.2" fill="#6A4FA0"/>
<text x="534.3" y="456.36" font-size="9.8" text-anchor="start" fill="#333" stroke="#333" stroke-width="0.2">8</text>
<rect x="526.9" y="463.96" width="4.2" height="4.2" fill="#C5C5E8"/>
<text x="534.3" y="469.39" font-size="9.8" text-anchor="start" fill="#333" stroke="#333" stroke-width="0.2">9</text>
<rect x="526.9" y="476.99" width="4.2" height="4.2" fill="#B38CC8"/>
<text x="534.3" y="482.42" font-size="9.8" text-anchor="start" fill="#333" stroke="#333" stroke-width="0.2">10</text>
<rect x="526.9" y="490.02" width="4.2" height="4.2" fill="#F7B0B0"/>
<text x="534.3" y="495.45" font-size="9.8" text-anchor="start" fill="#333" stroke="#333" stroke-width="0.2">11</text>
<rect x="526.9" y="503.05" width="4.2" height="4.2" fill="#E5BC94"/>
<text x="534.3" y="508.48" font-size="9.8" text-anchor="start" fill="#333" stroke="#333" stroke-width="0.2">12</text>
<rect x="526.9" y="516.08" width="4.2" height="4.2" fill="#1F256E"/>
<text x="534.3" y="521.51" font-size="9.8" text-anchor="start" fill="#333" stroke="#333" stroke-width="0.2">13</text>
</svg></body></html>
